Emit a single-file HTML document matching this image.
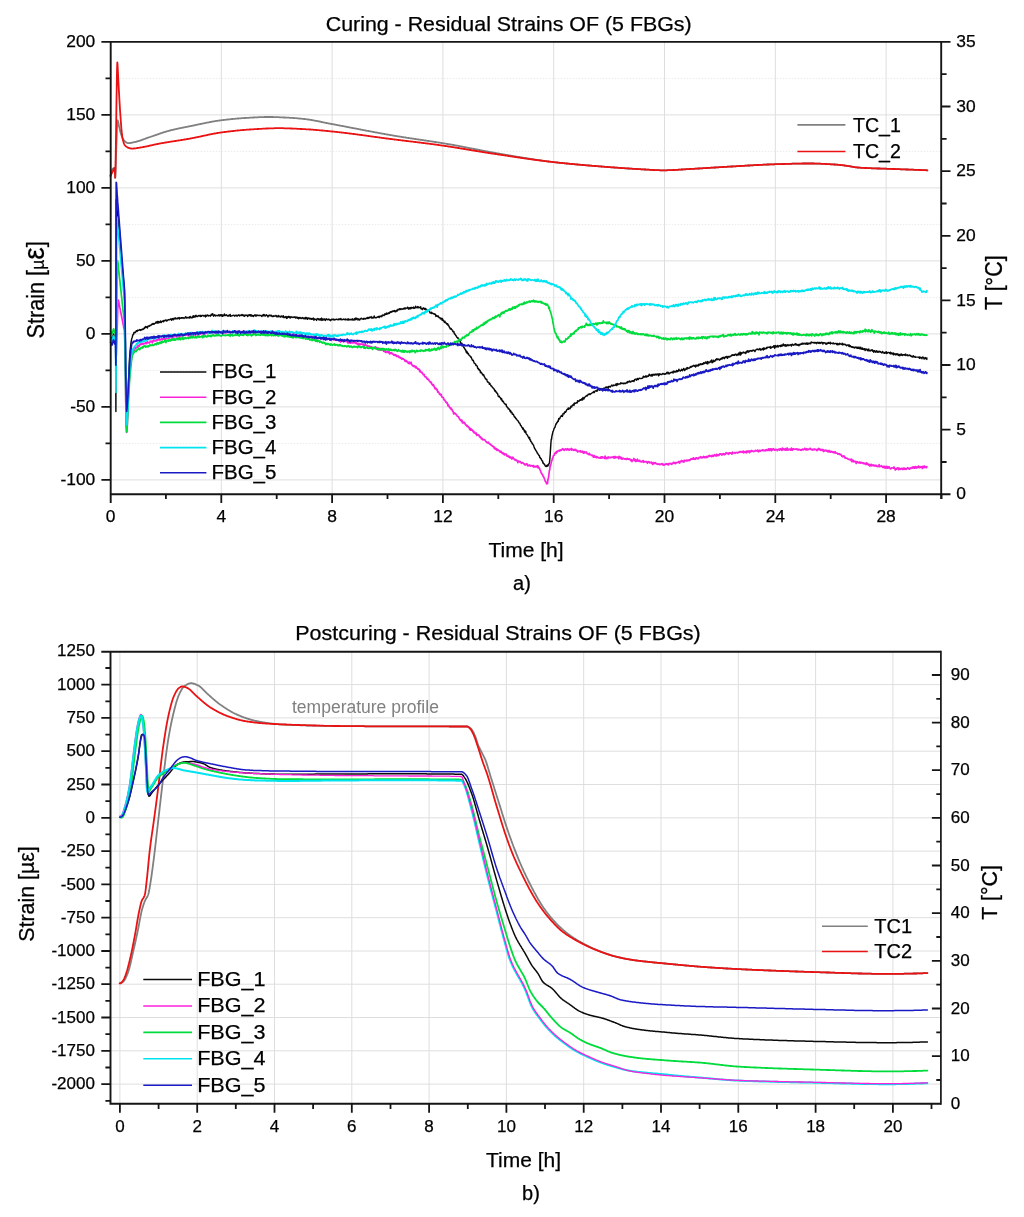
<!DOCTYPE html>
<html><head><meta charset="utf-8"><title>Residual Strains OF (5 FBGs)</title>
<style>html,body{margin:0;padding:0;background:#fff}svg{display:block}text{stroke:#000;stroke-width:.25px}text.g{stroke:none}</style></head>
<body>
<svg width="1024" height="1217" viewBox="0 0 1024 1217" font-family="'Liberation Sans', Arial, sans-serif" fill="#000">
<rect width="1024" height="1217" fill="#fff"/>
<g><line x1="221.3" x2="221.3" y1="41.9" y2="494.3" stroke="#dedede" stroke-width="1"/><line x1="332.1" x2="332.1" y1="41.9" y2="494.3" stroke="#dedede" stroke-width="1"/><line x1="442.9" x2="442.9" y1="41.9" y2="494.3" stroke="#dedede" stroke-width="1"/><line x1="553.7" x2="553.7" y1="41.9" y2="494.3" stroke="#dedede" stroke-width="1"/><line x1="664.5" x2="664.5" y1="41.9" y2="494.3" stroke="#dedede" stroke-width="1"/><line x1="775.3" x2="775.3" y1="41.9" y2="494.3" stroke="#dedede" stroke-width="1"/><line x1="886.1" x2="886.1" y1="41.9" y2="494.3" stroke="#dedede" stroke-width="1"/><line x1="110.7" x2="941.2" y1="479.9" y2="479.9" stroke="#dedede" stroke-width="1"/><line x1="110.7" x2="941.2" y1="406.9" y2="406.9" stroke="#dedede" stroke-width="1"/><line x1="110.7" x2="941.2" y1="333.9" y2="333.9" stroke="#dedede" stroke-width="1"/><line x1="110.7" x2="941.2" y1="260.9" y2="260.9" stroke="#dedede" stroke-width="1"/><line x1="110.7" x2="941.2" y1="187.9" y2="187.9" stroke="#dedede" stroke-width="1"/><line x1="110.7" x2="941.2" y1="114.9" y2="114.9" stroke="#dedede" stroke-width="1"/><line x1="110.7" x2="941.2" y1="443.4" y2="443.4" stroke="#eaeaea" stroke-width="1" stroke-dasharray="1.5,1.5"/><line x1="110.7" x2="941.2" y1="370.4" y2="370.4" stroke="#eaeaea" stroke-width="1" stroke-dasharray="1.5,1.5"/><line x1="110.7" x2="941.2" y1="297.4" y2="297.4" stroke="#eaeaea" stroke-width="1" stroke-dasharray="1.5,1.5"/><line x1="110.7" x2="941.2" y1="224.4" y2="224.4" stroke="#eaeaea" stroke-width="1" stroke-dasharray="1.5,1.5"/><line x1="110.7" x2="941.2" y1="151.4" y2="151.4" stroke="#eaeaea" stroke-width="1" stroke-dasharray="1.5,1.5"/><line x1="110.7" x2="941.2" y1="78.4" y2="78.4" stroke="#eaeaea" stroke-width="1" stroke-dasharray="1.5,1.5"/></g>
<g fill="none" stroke-linejoin="round" stroke-linecap="round"><path d="M110.5,175.8 111.0,173.4 111.5,171.5 112.0,170.2 112.5,169.2 113.0,168.6 113.5,168.2 114.0,168.1 114.5,168.0 114.8,168.0 115.0,172.8 115.2,177.6 115.5,173.2 116.0,156.0 116.2,150.0 116.5,142.0 117.0,128.4 117.5,120.6 117.6,120.3 118.0,121.1 118.5,123.5 119.0,126.0 119.5,128.1 120.0,130.3 120.5,132.3 121.0,134.0 121.5,135.4 122.0,136.7 122.5,138.0 123.0,139.0 123.5,139.9 124.0,140.5 124.5,141.0 125.0,141.4 125.5,141.8 126.0,142.2 126.5,142.5 127.0,142.8 127.5,143.0 128.0,143.1 128.4,143.1 128.5,143.1 129.0,143.1 129.5,143.1 130.0,143.0 130.5,142.9 131.0,142.9 131.5,142.8 132.0,142.7 132.5,142.6 133.0,142.4 133.5,142.3 134.0,142.2 134.5,142.1 135.0,142.0 135.5,141.9 136.0,141.8 136.5,141.6 137.0,141.5 137.5,141.4 138.0,141.2 138.5,141.1 139.0,140.9 139.5,140.8 140.0,140.6 140.5,140.4 141.0,140.3 141.5,140.1 142.0,139.9 142.5,139.7 143.0,139.5 143.5,139.4 144.0,139.2 144.5,139.0 145.0,138.8 145.5,138.6 146.0,138.4 146.5,138.2 147.0,138.1 147.5,137.9 148.0,137.7 148.5,137.5 149.0,137.3 149.5,137.2 150.0,137.0 150.5,136.8 151.0,136.7 151.5,136.5 152.0,136.3 152.5,136.2 153.0,136.0 153.5,135.8 154.0,135.6 154.5,135.5 155.0,135.3 155.5,135.1 156.0,135.0 156.5,134.8 157.0,134.6 157.5,134.4 158.0,134.3 158.5,134.1 159.0,133.9 159.5,133.7 160.0,133.6 160.5,133.4 161.0,133.2 161.5,133.1 162.0,132.9 162.5,132.7 163.0,132.6 163.5,132.4 164.0,132.2 164.5,132.1 165.0,131.9 165.5,131.8 166.0,131.6 166.5,131.5 167.0,131.3 167.5,131.2 168.0,131.0 168.5,130.9 169.0,130.8 169.5,130.6 170.0,130.5 170.5,130.4 171.0,130.2 171.5,130.1 172.0,130.0 172.5,129.9 173.0,129.8 173.5,129.6 174.0,129.5 174.5,129.4 175.0,129.3 175.5,129.2 176.0,129.1 176.5,129.0 177.0,128.8 177.5,128.7 178.0,128.6 178.5,128.5 179.0,128.4 179.5,128.3 180.0,128.2 180.5,128.1 181.0,128.0 181.5,127.9 182.0,127.8 182.5,127.7 183.0,127.6 183.5,127.5 184.0,127.4 184.5,127.3 185.0,127.2 185.5,127.1 186.0,127.0 186.5,126.9 187.0,126.8 187.5,126.7 188.0,126.6 188.5,126.5 189.0,126.4 189.5,126.3 190.0,126.2 190.5,126.1 191.0,126.0 191.5,125.9 192.0,125.8 192.5,125.7 193.0,125.6 193.5,125.5 194.0,125.4 194.5,125.3 195.0,125.2 195.5,125.1 196.0,124.9 196.5,124.8 197.0,124.7 197.5,124.6 198.0,124.5 198.5,124.4 199.0,124.3 199.5,124.2 200.0,124.1 200.5,124.0 201.0,123.9 201.5,123.8 202.0,123.7 202.5,123.6 203.0,123.5 203.5,123.4 204.0,123.3 204.5,123.2 205.0,123.1 205.5,123.0 206.0,122.8 206.5,122.7 207.0,122.6 207.5,122.6 208.0,122.5 208.5,122.4 209.0,122.3 209.5,122.2 210.0,122.1 210.5,122.0 211.0,121.9 211.5,121.8 212.0,121.7 212.5,121.6 213.0,121.5 213.5,121.4 214.0,121.3 214.5,121.3 215.0,121.2 215.5,121.1 216.0,121.0 216.5,120.9 217.0,120.9 217.5,120.8 218.0,120.7 218.5,120.6 219.0,120.6 219.5,120.5 220.0,120.4 220.5,120.4 221.0,120.3 221.5,120.2 222.0,120.2 222.5,120.1 223.0,120.1 223.5,120.0 224.0,119.9 224.5,119.9 225.0,119.8 225.5,119.8 226.0,119.7 226.5,119.6 227.0,119.6 227.5,119.5 228.0,119.5 228.5,119.4 229.0,119.4 229.5,119.3 230.0,119.3 230.5,119.2 231.0,119.1 231.5,119.1 232.0,119.0 232.5,119.0 233.0,118.9 233.5,118.9 234.0,118.9 234.5,118.8 235.0,118.8 235.5,118.7 236.0,118.7 236.5,118.6 237.0,118.6 237.5,118.5 238.0,118.5 238.5,118.5 239.0,118.4 239.5,118.4 240.0,118.3 240.5,118.3 241.0,118.3 241.5,118.2 242.0,118.2 242.5,118.2 243.0,118.1 243.5,118.1 244.0,118.1 244.5,118.0 245.0,118.0 245.5,118.0 246.0,117.9 246.5,117.9 247.0,117.9 247.5,117.9 248.0,117.8 248.5,117.8 249.0,117.8 249.5,117.7 250.0,117.7 250.5,117.7 251.0,117.6 251.5,117.6 252.0,117.6 252.5,117.6 253.0,117.5 253.5,117.5 254.0,117.5 254.5,117.4 255.0,117.4 255.5,117.4 256.0,117.4 256.5,117.3 257.0,117.3 257.5,117.3 258.0,117.3 258.5,117.2 259.0,117.2 259.5,117.2 260.0,117.2 260.5,117.2 261.0,117.1 261.5,117.1 262.0,117.1 262.5,117.1 263.0,117.1 263.5,117.1 264.0,117.1 264.5,117.0 265.0,117.0 265.5,117.0 266.0,117.0 266.5,117.0 267.0,117.0 267.5,117.0 268.0,117.0 268.5,117.0 268.7,117.0 269.0,117.0 269.5,117.0 270.0,117.0 270.5,117.0 271.0,117.0 271.5,117.0 272.0,117.0 272.5,117.0 273.0,117.0 273.5,117.1 274.0,117.1 274.5,117.1 275.0,117.1 275.5,117.1 276.0,117.1 276.5,117.1 277.0,117.2 277.5,117.2 278.0,117.2 278.5,117.2 279.0,117.2 279.5,117.3 280.0,117.3 280.5,117.3 281.0,117.3 281.5,117.4 282.0,117.4 282.5,117.4 283.0,117.4 283.5,117.5 284.0,117.5 284.5,117.5 285.0,117.5 285.5,117.6 286.0,117.6 286.5,117.6 287.0,117.6 287.5,117.7 288.0,117.7 288.5,117.7 289.0,117.7 289.5,117.8 290.0,117.8 290.5,117.8 291.0,117.9 291.5,117.9 292.0,117.9 292.5,117.9 293.0,118.0 293.5,118.0 294.0,118.1 294.5,118.1 295.0,118.1 295.5,118.2 296.0,118.2 296.5,118.2 297.0,118.3 297.5,118.3 298.0,118.4 298.5,118.4 299.0,118.5 299.5,118.5 300.0,118.6 300.5,118.6 301.0,118.7 301.5,118.7 302.0,118.8 302.5,118.8 303.0,118.9 303.5,118.9 304.0,119.0 304.3,119.0 304.5,119.0 305.0,119.1 305.5,119.1 306.0,119.2 306.5,119.3 307.0,119.3 307.5,119.4 308.0,119.5 308.5,119.5 309.0,119.6 309.5,119.7 310.0,119.8 310.5,119.9 311.0,119.9 311.5,120.0 312.0,120.1 312.5,120.2 313.0,120.3 313.5,120.4 314.0,120.5 314.5,120.6 315.0,120.7 315.5,120.8 316.0,120.8 316.5,120.9 317.0,121.0 317.5,121.1 318.0,121.2 318.5,121.3 319.0,121.4 319.5,121.5 320.0,121.6 320.5,121.7 321.0,121.9 321.5,122.0 322.0,122.1 322.5,122.2 323.0,122.3 323.5,122.4 324.0,122.5 324.5,122.6 325.0,122.7 325.5,122.8 326.0,122.9 326.5,123.0 327.0,123.1 327.5,123.2 328.0,123.3 328.5,123.4 329.0,123.5 329.5,123.6 330.0,123.7 330.5,123.8 331.0,123.9 331.5,124.0 332.0,124.1 332.2,124.1 332.5,124.2 333.0,124.2 333.5,124.3 334.0,124.4 334.5,124.5 335.0,124.6 335.5,124.7 336.0,124.8 336.5,124.9 337.0,125.0 337.5,125.1 338.0,125.2 338.5,125.3 339.0,125.4 339.5,125.5 340.0,125.6 340.5,125.7 341.0,125.8 341.5,125.8 342.0,125.9 342.5,126.0 343.0,126.1 343.5,126.2 344.0,126.3 344.5,126.4 345.0,126.5 345.5,126.6 346.0,126.7 346.5,126.8 347.0,126.9 347.5,127.0 348.0,127.1 348.5,127.2 349.0,127.3 349.5,127.4 350.0,127.5 350.5,127.6 351.0,127.7 351.5,127.8 352.0,127.9 352.5,128.0 353.0,128.1 353.5,128.2 354.0,128.3 354.5,128.3 355.0,128.4 355.5,128.5 356.0,128.6 356.5,128.7 357.0,128.8 357.5,128.9 358.0,129.0 358.5,129.1 359.0,129.2 359.5,129.3 360.0,129.4 360.5,129.5 361.0,129.6 361.5,129.7 362.0,129.8 362.5,129.9 363.0,130.0 363.5,130.1 364.0,130.2 364.5,130.3 365.0,130.4 365.5,130.5 366.0,130.6 366.5,130.7 367.0,130.8 367.5,130.9 368.0,130.9 368.5,131.0 369.0,131.1 369.5,131.2 370.0,131.3 370.5,131.4 371.0,131.5 371.5,131.6 372.0,131.7 372.5,131.8 373.0,131.9 373.5,132.0 374.0,132.1 374.5,132.2 375.0,132.3 375.5,132.4 376.0,132.5 376.5,132.5 377.0,132.6 377.5,132.7 378.0,132.8 378.5,132.9 379.0,133.0 379.5,133.1 380.0,133.2 380.5,133.3 381.0,133.4 381.5,133.5 382.0,133.6 382.5,133.7 383.0,133.7 383.5,133.8 384.0,133.9 384.5,134.0 385.0,134.1 385.5,134.2 386.0,134.3 386.5,134.4 387.0,134.5 387.5,134.5 388.0,134.6 388.5,134.7 389.0,134.8 389.5,134.9 390.0,135.0 390.5,135.1 391.0,135.2 391.5,135.2 392.0,135.3 392.5,135.4 393.0,135.5 393.5,135.6 394.0,135.7 394.5,135.8 395.0,135.8 395.5,135.9 396.0,136.0 396.5,136.1 397.0,136.2 397.5,136.3 398.0,136.3 398.5,136.4 399.0,136.5 399.5,136.6 400.0,136.7 400.5,136.7 401.0,136.8 401.5,136.9 402.0,137.0 402.5,137.1 403.0,137.1 403.5,137.2 404.0,137.3 404.5,137.4 405.0,137.4 405.5,137.5 406.0,137.6 406.5,137.7 407.0,137.8 407.5,137.8 408.0,137.9 408.5,138.0 409.0,138.1 409.5,138.1 410.0,138.2 410.5,138.3 411.0,138.4 411.5,138.4 412.0,138.5 412.5,138.6 413.0,138.7 413.5,138.7 414.0,138.8 414.5,138.9 415.0,139.0 415.5,139.0 416.0,139.1 416.5,139.2 417.0,139.3 417.5,139.3 418.0,139.4 418.5,139.5 419.0,139.6 419.5,139.6 420.0,139.7 420.5,139.8 421.0,139.9 421.5,139.9 422.0,140.0 422.5,140.1 423.0,140.2 423.5,140.2 424.0,140.3 424.5,140.4 425.0,140.5 425.5,140.5 426.0,140.6 426.5,140.7 427.0,140.8 427.5,140.8 428.0,140.9 428.5,141.0 429.0,141.1 429.5,141.1 430.0,141.2 430.5,141.3 431.0,141.4 431.5,141.4 432.0,141.5 432.5,141.6 433.0,141.7 433.5,141.7 434.0,141.8 434.5,141.9 435.0,142.0 435.5,142.0 436.0,142.1 436.5,142.2 437.0,142.3 437.5,142.4 438.0,142.4 438.5,142.5 439.0,142.6 439.5,142.7 440.0,142.7 440.5,142.8 441.0,142.9 441.5,143.0 442.0,143.1 442.5,143.1 443.0,143.2 443.5,143.3 444.0,143.4 444.5,143.5 445.0,143.6 445.5,143.6 446.0,143.7 446.5,143.8 447.0,143.9 447.5,144.0 448.0,144.1 448.5,144.1 449.0,144.2 449.5,144.3 450.0,144.4 450.5,144.5 451.0,144.6 451.5,144.7 452.0,144.7 452.5,144.8 453.0,144.9 453.5,145.0 454.0,145.1 454.5,145.2 455.0,145.3 455.5,145.4 456.0,145.5 456.5,145.6 457.0,145.7 457.5,145.7 458.0,145.8 458.5,145.9 459.0,146.0 459.5,146.1 460.0,146.2 460.5,146.3 461.0,146.4 461.5,146.5 462.0,146.6 462.5,146.7 463.0,146.8 463.5,146.9 464.0,147.0 464.5,147.1 465.0,147.2 465.5,147.3 466.0,147.4 466.5,147.5 467.0,147.6 467.5,147.7 468.0,147.8 468.5,147.9 469.0,148.0 469.5,148.1 470.0,148.2 470.5,148.3 471.0,148.4 471.5,148.5 472.0,148.6 472.5,148.6 473.0,148.7 473.5,148.8 474.0,148.9 474.5,149.0 475.0,149.1 475.5,149.2 476.0,149.3 476.5,149.4 477.0,149.5 477.5,149.6 478.0,149.7 478.5,149.8 479.0,149.9 479.5,150.0 480.0,150.1 480.5,150.2 481.0,150.3 481.5,150.4 482.0,150.5 482.5,150.6 483.0,150.7 483.5,150.8 484.0,150.9 484.5,151.0 485.0,151.1 485.5,151.2 486.0,151.3 486.5,151.4 487.0,151.4 487.5,151.5 488.0,151.6 488.5,151.7 489.0,151.8 489.5,151.9 490.0,152.0 490.5,152.1 491.0,152.2 491.5,152.3 492.0,152.4 492.5,152.5 493.0,152.5 493.5,152.6 494.0,152.7 494.5,152.8 495.0,152.9 495.5,153.0 496.0,153.1 496.5,153.2 497.0,153.3 497.5,153.4 498.0,153.4 498.5,153.5 499.0,153.6 499.5,153.7 500.0,153.8 500.5,153.9 501.0,154.0 501.5,154.1 502.0,154.2 502.5,154.2 503.0,154.3 503.5,154.4 504.0,154.5 504.5,154.6 505.0,154.7 505.5,154.8 506.0,154.9 506.5,154.9 507.0,155.0 507.5,155.1 508.0,155.2 508.5,155.3 509.0,155.4 509.5,155.5 510.0,155.5 510.5,155.6 511.0,155.7 511.5,155.8 512.0,155.9 512.5,156.0 513.0,156.1 513.5,156.1 514.0,156.2 514.5,156.3 515.0,156.4 515.5,156.5 516.0,156.6 516.5,156.6 517.0,156.7 517.5,156.8 518.0,156.9 518.5,157.0 519.0,157.0 519.5,157.1 520.0,157.2 520.5,157.3 521.0,157.4 521.5,157.4 522.0,157.5 522.5,157.6 523.0,157.7 523.5,157.8 524.0,157.8 524.5,157.9 525.0,158.0 525.5,158.1 526.0,158.2 526.5,158.2 527.0,158.3 527.5,158.4 528.0,158.5 528.5,158.6 529.0,158.6 529.5,158.7 530.0,158.8 530.5,158.9 531.0,158.9 531.5,159.0 532.0,159.1 532.5,159.2 533.0,159.3 533.5,159.3 534.0,159.4 534.5,159.5 535.0,159.6 535.5,159.6 536.0,159.7 536.5,159.8 537.0,159.9 537.5,159.9 538.0,160.0 538.5,160.1 539.0,160.2 539.5,160.2 540.0,160.3 540.5,160.4 541.0,160.5 541.5,160.5 542.0,160.6 542.5,160.7 543.0,160.7 543.5,160.8 544.0,160.9 544.5,161.0 545.0,161.0 545.5,161.1 546.0,161.2 546.5,161.2 547.0,161.3 547.5,161.4 548.0,161.4 548.5,161.5 549.0,161.6 549.5,161.6 550.0,161.7 550.5,161.7 551.0,161.8 551.5,161.9 552.0,161.9 552.5,162.0 553.0,162.0 553.5,162.1 554.0,162.2 554.3,162.2 554.5,162.2 555.0,162.3 555.5,162.3 556.0,162.4 556.5,162.4 557.0,162.5 557.5,162.6 558.0,162.6 558.5,162.7 559.0,162.7 559.5,162.8 560.0,162.8 560.5,162.9 561.0,162.9 561.5,163.0 562.0,163.0 562.5,163.1 563.0,163.1 563.5,163.2 564.0,163.2 564.5,163.3 565.0,163.3 565.5,163.4 566.0,163.4 566.5,163.5 567.0,163.5 567.5,163.6 568.0,163.6 568.5,163.7 569.0,163.7 569.5,163.8 570.0,163.8 570.5,163.9 571.0,163.9 571.5,164.0 572.0,164.0 572.5,164.1 573.0,164.1 573.5,164.2 574.0,164.2 574.5,164.3 575.0,164.3 575.5,164.4 576.0,164.4 576.5,164.4 577.0,164.5 577.5,164.5 578.0,164.6 578.5,164.6 579.0,164.7 579.5,164.7 580.0,164.8 580.5,164.8 581.0,164.8 581.5,164.9 582.0,164.9 582.5,165.0 583.0,165.0 583.5,165.1 584.0,165.1 584.5,165.1 585.0,165.2 585.5,165.2 586.0,165.3 586.5,165.3 587.0,165.4 587.5,165.4 588.0,165.4 588.5,165.5 589.0,165.5 589.5,165.6 590.0,165.6 590.5,165.7 591.0,165.7 591.5,165.7 592.0,165.8 592.5,165.8 593.0,165.9 593.5,165.9 594.0,165.9 594.5,166.0 595.0,166.0 595.5,166.1 596.0,166.1 596.5,166.1 597.0,166.2 597.5,166.2 598.0,166.3 598.5,166.3 599.0,166.3 599.5,166.4 600.0,166.4 600.5,166.4 601.0,166.5 601.5,166.5 602.0,166.6 602.5,166.6 603.0,166.6 603.5,166.7 604.0,166.7 604.5,166.8 605.0,166.8 605.5,166.8 606.0,166.9 606.5,166.9 607.0,167.0 607.5,167.0 608.0,167.0 608.5,167.1 609.0,167.1 609.5,167.1 610.0,167.2 610.5,167.2 611.0,167.3 611.5,167.3 612.0,167.3 612.5,167.4 613.0,167.4 613.5,167.4 614.0,167.5 614.5,167.5 615.0,167.6 615.5,167.6 616.0,167.6 616.5,167.7 617.0,167.7 617.5,167.7 618.0,167.8 618.5,167.8 619.0,167.9 619.5,167.9 620.0,167.9 620.5,168.0 621.0,168.0 621.5,168.0 622.0,168.1 622.5,168.1 623.0,168.1 623.5,168.2 624.0,168.2 624.5,168.2 625.0,168.3 625.5,168.3 626.0,168.3 626.5,168.4 627.0,168.4 627.5,168.4 628.0,168.5 628.5,168.5 629.0,168.5 629.5,168.6 630.0,168.6 630.5,168.6 631.0,168.7 631.5,168.7 632.0,168.7 632.5,168.8 633.0,168.8 633.5,168.8 634.0,168.9 634.5,168.9 635.0,168.9 635.5,168.9 636.0,169.0 636.5,169.0 637.0,169.0 637.5,169.1 638.0,169.1 638.5,169.1 639.0,169.1 639.5,169.2 640.0,169.2 640.5,169.2 641.0,169.3 641.5,169.3 642.0,169.3 642.5,169.3 643.0,169.4 643.5,169.4 644.0,169.4 644.5,169.5 645.0,169.5 645.5,169.5 646.0,169.6 646.5,169.6 647.0,169.6 647.5,169.7 648.0,169.7 648.5,169.7 649.0,169.7 649.5,169.8 650.0,169.8 650.5,169.8 651.0,169.9 651.5,169.9 652.0,169.9 652.5,170.0 653.0,170.0 653.5,170.0 654.0,170.0 654.5,170.1 655.0,170.1 655.5,170.1 656.0,170.1 656.5,170.1 657.0,170.2 657.5,170.2 658.0,170.2 658.5,170.2 659.0,170.2 659.5,170.2 660.0,170.3 660.5,170.3 661.0,170.3 661.5,170.3 662.0,170.3 662.5,170.3 663.0,170.3 663.5,170.3 664.0,170.3 664.5,170.3 665.0,170.3 665.5,170.3 666.0,170.3 666.5,170.3 667.0,170.3 667.5,170.2 668.0,170.2 668.5,170.2 669.0,170.2 669.5,170.2 670.0,170.2 670.5,170.1 671.0,170.1 671.5,170.1 672.0,170.1 672.5,170.1 673.0,170.0 673.5,170.0 674.0,170.0 674.5,170.0 675.0,169.9 675.5,169.9 676.0,169.9 676.5,169.8 677.0,169.8 677.5,169.8 678.0,169.8 678.5,169.7 679.0,169.7 679.5,169.7 680.0,169.6 680.5,169.6 681.0,169.6 681.5,169.5 682.0,169.5 682.5,169.5 683.0,169.4 683.5,169.4 684.0,169.4 684.5,169.3 685.0,169.3 685.5,169.3 686.0,169.2 686.5,169.2 687.0,169.2 687.5,169.1 688.0,169.1 688.5,169.1 689.0,169.1 689.5,169.0 690.0,169.0 690.5,169.0 691.0,168.9 691.5,168.9 692.0,168.9 692.5,168.9 693.0,168.8 693.5,168.8 694.0,168.8 694.5,168.8 695.0,168.7 695.5,168.7 696.0,168.7 696.5,168.6 697.0,168.6 697.5,168.6 698.0,168.5 698.5,168.5 699.0,168.5 699.5,168.5 700.0,168.4 700.5,168.4 701.0,168.4 701.5,168.3 702.0,168.3 702.5,168.3 703.0,168.2 703.5,168.2 704.0,168.2 704.5,168.2 705.0,168.1 705.5,168.1 706.0,168.1 706.5,168.0 707.0,168.0 707.5,168.0 708.0,167.9 708.5,167.9 709.0,167.9 709.5,167.8 710.0,167.8 710.5,167.8 711.0,167.7 711.5,167.7 712.0,167.7 712.5,167.7 713.0,167.6 713.5,167.6 714.0,167.6 714.5,167.5 715.0,167.5 715.5,167.5 716.0,167.4 716.5,167.4 717.0,167.4 717.5,167.3 718.0,167.3 718.5,167.3 719.0,167.2 719.5,167.2 720.0,167.2 720.5,167.2 721.0,167.1 721.5,167.1 722.0,167.1 722.5,167.0 723.0,167.0 723.5,167.0 724.0,166.9 724.5,166.9 725.0,166.9 725.5,166.9 726.0,166.8 726.5,166.8 727.0,166.8 727.5,166.7 728.0,166.7 728.5,166.7 729.0,166.7 729.5,166.6 730.0,166.6 730.5,166.6 731.0,166.5 731.5,166.5 732.0,166.5 732.5,166.5 733.0,166.4 733.5,166.4 734.0,166.4 734.5,166.3 735.0,166.3 735.5,166.3 736.0,166.3 736.5,166.2 737.0,166.2 737.5,166.2 738.0,166.1 738.5,166.1 739.0,166.1 739.5,166.0 740.0,166.0 740.5,166.0 741.0,166.0 741.5,165.9 742.0,165.9 742.5,165.9 743.0,165.8 743.5,165.8 744.0,165.8 744.5,165.8 745.0,165.7 745.5,165.7 746.0,165.7 746.5,165.6 747.0,165.6 747.5,165.6 748.0,165.5 748.5,165.5 749.0,165.5 749.5,165.5 750.0,165.4 750.5,165.4 751.0,165.4 751.5,165.3 752.0,165.3 752.5,165.3 753.0,165.3 753.5,165.2 754.0,165.2 754.5,165.2 755.0,165.1 755.5,165.1 756.0,165.1 756.5,165.1 757.0,165.0 757.5,165.0 758.0,165.0 758.5,165.0 759.0,164.9 759.5,164.9 760.0,164.9 760.5,164.9 761.0,164.8 761.5,164.8 762.0,164.8 762.5,164.8 763.0,164.7 763.5,164.7 764.0,164.7 764.5,164.7 765.0,164.6 765.5,164.6 766.0,164.6 766.5,164.6 767.0,164.5 767.5,164.5 768.0,164.5 768.5,164.5 769.0,164.5 769.5,164.4 770.0,164.4 770.5,164.4 771.0,164.4 771.5,164.4 772.0,164.3 772.5,164.3 773.0,164.3 773.5,164.3 774.0,164.3 774.5,164.3 775.0,164.2 775.5,164.2 776.0,164.2 776.3,164.2 776.5,164.2 777.0,164.2 777.5,164.2 778.0,164.1 778.5,164.1 779.0,164.1 779.5,164.1 780.0,164.1 780.5,164.1 781.0,164.1 781.5,164.0 782.0,164.0 782.5,164.0 783.0,164.0 783.5,164.0 784.0,164.0 784.5,164.0 785.0,163.9 785.5,163.9 786.0,163.9 786.5,163.9 787.0,163.9 787.5,163.9 788.0,163.9 788.5,163.8 789.0,163.8 789.5,163.8 790.0,163.8 790.5,163.8 791.0,163.8 791.5,163.8 792.0,163.7 792.5,163.7 793.0,163.7 793.5,163.7 794.0,163.7 794.5,163.7 795.0,163.7 795.5,163.7 796.0,163.7 796.5,163.6 797.0,163.6 797.5,163.6 798.0,163.6 798.5,163.6 799.0,163.6 799.5,163.6 800.0,163.6 800.5,163.6 801.0,163.6 801.5,163.6 802.0,163.6 802.5,163.5 803.0,163.5 803.5,163.5 804.0,163.5 804.5,163.5 805.0,163.5 805.5,163.5 806.0,163.5 806.5,163.5 807.0,163.5 807.5,163.5 808.0,163.5 808.5,163.5 809.0,163.5 809.3,163.5 809.5,163.5 810.0,163.5 810.5,163.5 811.0,163.5 811.5,163.5 812.0,163.5 812.5,163.5 813.0,163.5 813.5,163.5 814.0,163.5 814.5,163.6 815.0,163.6 815.5,163.6 816.0,163.6 816.5,163.6 817.0,163.6 817.5,163.6 818.0,163.6 818.5,163.7 819.0,163.7 819.5,163.7 820.0,163.7 820.5,163.7 821.0,163.8 821.5,163.8 822.0,163.8 822.5,163.8 823.0,163.8 823.5,163.9 824.0,163.9 824.5,163.9 825.0,163.9 825.5,164.0 826.0,164.0 826.5,164.0 827.0,164.1 827.5,164.1 828.0,164.1 828.5,164.1 829.0,164.2 829.5,164.2 830.0,164.2 830.5,164.3 831.0,164.3 831.5,164.3 832.0,164.3 832.5,164.4 833.0,164.4 833.5,164.4 834.0,164.5 834.5,164.5 835.0,164.5 835.5,164.6 836.0,164.6 836.5,164.6 837.0,164.7 837.3,164.7 837.5,164.7 838.0,164.8 838.5,164.8 839.0,164.8 839.5,164.9 840.0,164.9 840.5,165.0 841.0,165.1 841.5,165.1 842.0,165.2 842.5,165.2 843.0,165.3 843.5,165.4 844.0,165.4 844.5,165.5 845.0,165.6 845.5,165.6 846.0,165.7 846.5,165.8 847.0,165.9 847.5,165.9 848.0,166.0 848.5,166.1 849.0,166.1 849.5,166.2 850.0,166.3 850.5,166.4 851.0,166.5 851.5,166.6 852.0,166.7 852.5,166.8 853.0,166.8 853.5,166.9 854.0,167.0 854.5,167.1 855.0,167.2 855.5,167.3 856.0,167.3 856.5,167.4 857.0,167.4 857.5,167.5 857.6,167.5 858.0,167.5 858.5,167.6 859.0,167.6 859.5,167.6 860.0,167.7 860.5,167.7 861.0,167.8 861.5,167.8 862.0,167.8 862.5,167.8 863.0,167.9 863.5,167.9 864.0,167.9 864.5,168.0 865.0,168.0 865.5,168.0 866.0,168.0 866.5,168.0 867.0,168.1 867.5,168.1 868.0,168.1 868.5,168.1 869.0,168.2 869.5,168.2 870.0,168.2 870.5,168.2 871.0,168.2 871.5,168.3 872.0,168.3 872.5,168.3 873.0,168.3 873.5,168.3 874.0,168.4 874.5,168.4 875.0,168.4 875.5,168.4 876.0,168.4 876.5,168.4 877.0,168.5 877.5,168.5 878.0,168.5 878.5,168.5 879.0,168.5 879.5,168.5 880.0,168.5 880.5,168.6 881.0,168.6 881.5,168.6 882.0,168.6 882.5,168.6 883.0,168.6 883.5,168.7 884.0,168.7 884.5,168.7 885.0,168.7 885.5,168.7 886.0,168.7 886.5,168.7 887.0,168.8 887.5,168.8 888.0,168.8 888.5,168.8 889.0,168.8 889.5,168.9 890.0,168.9 890.5,168.9 891.0,168.9 891.5,168.9 892.0,168.9 892.5,169.0 893.0,169.0 893.5,169.0 894.0,169.0 894.5,169.0 895.0,169.0 895.5,169.1 896.0,169.1 896.5,169.1 897.0,169.1 897.5,169.1 898.0,169.2 898.5,169.2 899.0,169.2 899.5,169.2 900.0,169.2 900.5,169.3 901.0,169.3 901.5,169.3 902.0,169.3 902.5,169.3 903.0,169.3 903.5,169.4 904.0,169.4 904.5,169.4 905.0,169.4 905.5,169.4 906.0,169.5 906.5,169.5 907.0,169.5 907.5,169.5 908.0,169.5 908.5,169.6 909.0,169.6 909.5,169.6 910.0,169.6 910.5,169.6 911.0,169.6 911.5,169.7 912.0,169.7 912.5,169.7 913.0,169.7 913.5,169.7 914.0,169.8 914.5,169.8 915.0,169.8 915.5,169.8 916.0,169.8 916.5,169.9 917.0,169.9 917.5,169.9 918.0,169.9 918.5,169.9 919.0,170.0 919.5,170.0 920.0,170.0 920.5,170.0 921.0,170.0 921.5,170.1 922.0,170.1 922.5,170.1 923.0,170.1 923.5,170.1 924.0,170.2 924.5,170.2 925.0,170.2 925.5,170.2 926.0,170.2 926.5,170.3 927.0,170.3 927.4,170.3" stroke="#808080" stroke-width="1.8"/><path d="M110.5,175.8 111.0,174.8 111.5,173.8 112.0,172.8 112.5,171.9 113.0,171.0 113.5,170.0 114.0,168.9 114.5,168.1 114.8,168.0 115.0,172.8 115.2,177.6 115.5,168.0 115.8,150.0 116.0,136.7 116.5,100.0 117.0,70.2 117.3,62.3 117.5,63.6 118.0,73.6 118.3,80.0 118.5,83.5 119.0,92.5 119.5,101.4 120.0,109.6 120.3,114.0 120.5,116.8 121.0,123.8 121.5,130.2 122.0,135.0 122.2,136.3 122.5,137.9 123.0,140.2 123.5,142.1 124.0,143.6 124.5,144.7 124.7,145.0 125.0,145.4 125.5,145.9 126.0,146.4 126.5,146.8 127.0,147.1 127.5,147.4 128.0,147.6 128.5,147.8 129.0,148.0 129.5,148.1 130.0,148.3 130.5,148.4 131.0,148.5 131.5,148.6 132.0,148.6 132.5,148.6 133.0,148.6 133.5,148.5 134.0,148.5 134.5,148.4 135.0,148.4 135.5,148.3 136.0,148.3 136.5,148.2 137.0,148.1 137.5,148.0 138.0,147.9 138.5,147.8 139.0,147.8 139.5,147.7 140.0,147.6 140.5,147.5 141.0,147.4 141.5,147.4 142.0,147.3 142.5,147.2 143.0,147.1 143.5,147.0 144.0,146.9 144.5,146.8 145.0,146.7 145.5,146.6 146.0,146.5 146.5,146.4 147.0,146.3 147.5,146.2 148.0,146.1 148.5,146.0 149.0,145.9 149.5,145.7 150.0,145.6 150.5,145.5 151.0,145.4 151.5,145.3 152.0,145.2 152.5,145.1 153.0,145.0 153.5,144.8 154.0,144.7 154.5,144.6 155.0,144.5 155.5,144.4 156.0,144.3 156.5,144.2 157.0,144.1 157.5,144.0 158.0,143.9 158.5,143.8 159.0,143.7 159.5,143.6 160.0,143.5 160.5,143.4 161.0,143.3 161.5,143.2 162.0,143.1 162.5,143.1 163.0,143.0 163.5,142.9 164.0,142.8 164.5,142.7 165.0,142.6 165.5,142.5 166.0,142.5 166.5,142.4 167.0,142.3 167.5,142.2 168.0,142.1 168.5,142.1 169.0,142.0 169.5,141.9 170.0,141.8 170.5,141.7 171.0,141.7 171.5,141.6 172.0,141.5 172.5,141.4 173.0,141.3 173.5,141.3 174.0,141.2 174.5,141.1 175.0,141.0 175.5,141.0 176.0,140.9 176.5,140.8 177.0,140.7 177.5,140.6 178.0,140.6 178.5,140.5 179.0,140.4 179.5,140.3 180.0,140.3 180.5,140.2 181.0,140.1 181.5,140.0 182.0,139.9 182.5,139.9 183.0,139.8 183.5,139.7 184.0,139.6 184.5,139.5 185.0,139.5 185.5,139.4 186.0,139.3 186.5,139.2 187.0,139.1 187.5,139.0 188.0,139.0 188.5,138.9 189.0,138.8 189.5,138.7 190.0,138.6 190.5,138.5 191.0,138.4 191.5,138.3 192.0,138.2 192.5,138.1 193.0,138.0 193.5,137.9 194.0,137.8 194.5,137.7 195.0,137.6 195.5,137.5 196.0,137.4 196.5,137.3 197.0,137.2 197.5,137.1 198.0,137.0 198.5,136.9 199.0,136.8 199.5,136.7 200.0,136.6 200.5,136.5 201.0,136.4 201.5,136.3 202.0,136.1 202.5,136.0 203.0,135.9 203.5,135.8 204.0,135.7 204.5,135.6 205.0,135.5 205.5,135.4 206.0,135.3 206.5,135.2 207.0,135.1 207.5,135.0 208.0,134.8 208.5,134.7 209.0,134.6 209.5,134.5 210.0,134.4 210.5,134.3 211.0,134.2 211.5,134.1 212.0,134.0 212.5,133.9 213.0,133.8 213.5,133.7 214.0,133.6 214.5,133.5 215.0,133.5 215.5,133.4 216.0,133.3 216.5,133.2 217.0,133.1 217.5,133.0 218.0,132.9 218.5,132.9 219.0,132.8 219.5,132.7 220.0,132.6 220.5,132.6 221.0,132.5 221.5,132.4 222.0,132.4 222.5,132.3 223.0,132.2 223.5,132.2 224.0,132.1 224.5,132.0 225.0,132.0 225.5,131.9 226.0,131.8 226.5,131.8 227.0,131.7 227.5,131.7 228.0,131.6 228.5,131.5 229.0,131.5 229.5,131.4 230.0,131.4 230.5,131.3 231.0,131.2 231.5,131.2 232.0,131.1 232.5,131.1 233.0,131.0 233.5,131.0 234.0,130.9 234.5,130.8 235.0,130.8 235.5,130.7 236.0,130.7 236.5,130.6 237.0,130.6 237.5,130.5 238.0,130.5 238.5,130.4 239.0,130.4 239.5,130.3 240.0,130.3 240.5,130.2 241.0,130.2 241.5,130.2 242.0,130.1 242.5,130.1 243.0,130.0 243.5,130.0 244.0,129.9 244.5,129.9 245.0,129.9 245.5,129.8 246.0,129.8 246.5,129.7 247.0,129.7 247.5,129.7 248.0,129.6 248.5,129.6 249.0,129.6 249.5,129.5 250.0,129.5 250.5,129.5 251.0,129.4 251.5,129.4 252.0,129.4 252.5,129.3 253.0,129.3 253.5,129.3 254.0,129.2 254.5,129.2 255.0,129.2 255.5,129.2 256.0,129.1 256.5,129.1 257.0,129.1 257.5,129.0 258.0,129.0 258.5,129.0 259.0,128.9 259.5,128.9 260.0,128.9 260.5,128.8 261.0,128.8 261.5,128.8 262.0,128.8 262.5,128.7 263.0,128.7 263.5,128.7 264.0,128.6 264.5,128.6 265.0,128.6 265.5,128.6 266.0,128.5 266.5,128.5 267.0,128.5 267.5,128.5 268.0,128.5 268.5,128.4 269.0,128.4 269.5,128.4 270.0,128.4 270.5,128.4 271.0,128.3 271.5,128.3 272.0,128.3 272.5,128.3 273.0,128.3 273.5,128.3 274.0,128.3 274.5,128.2 275.0,128.2 275.5,128.2 276.0,128.2 276.5,128.2 277.0,128.2 277.5,128.2 278.0,128.2 278.5,128.2 278.9,128.2 279.0,128.2 279.5,128.2 280.0,128.2 280.5,128.2 281.0,128.2 281.5,128.2 282.0,128.2 282.5,128.2 283.0,128.2 283.5,128.2 284.0,128.3 284.5,128.3 285.0,128.3 285.5,128.3 286.0,128.3 286.5,128.3 287.0,128.3 287.5,128.4 288.0,128.4 288.5,128.4 289.0,128.4 289.5,128.4 290.0,128.4 290.5,128.5 291.0,128.5 291.5,128.5 292.0,128.5 292.5,128.6 293.0,128.6 293.5,128.6 294.0,128.6 294.5,128.6 295.0,128.7 295.5,128.7 296.0,128.7 296.5,128.7 297.0,128.8 297.5,128.8 298.0,128.8 298.5,128.9 299.0,128.9 299.5,128.9 300.0,128.9 300.5,129.0 301.0,129.0 301.5,129.0 302.0,129.0 302.5,129.1 303.0,129.1 303.5,129.1 304.0,129.1 304.5,129.2 305.0,129.2 305.5,129.2 306.0,129.3 306.5,129.3 307.0,129.3 307.5,129.3 308.0,129.4 308.5,129.4 309.0,129.4 309.5,129.5 310.0,129.5 310.5,129.5 311.0,129.6 311.5,129.6 312.0,129.6 312.5,129.7 313.0,129.7 313.5,129.8 314.0,129.8 314.5,129.8 315.0,129.9 315.5,129.9 316.0,130.0 316.5,130.0 317.0,130.1 317.5,130.1 318.0,130.1 318.5,130.2 319.0,130.2 319.5,130.3 320.0,130.3 320.5,130.4 321.0,130.4 321.5,130.5 322.0,130.5 322.5,130.5 323.0,130.6 323.5,130.6 324.0,130.7 324.5,130.7 325.0,130.8 325.5,130.8 326.0,130.9 326.5,130.9 327.0,131.0 327.5,131.0 328.0,131.1 328.5,131.1 329.0,131.2 329.5,131.2 330.0,131.3 330.5,131.3 331.0,131.4 331.5,131.4 332.0,131.5 332.2,131.5 332.5,131.5 333.0,131.6 333.5,131.6 334.0,131.7 334.5,131.7 335.0,131.8 335.5,131.8 336.0,131.9 336.5,131.9 337.0,132.0 337.5,132.1 338.0,132.1 338.5,132.2 339.0,132.2 339.5,132.3 340.0,132.3 340.5,132.4 341.0,132.4 341.5,132.5 342.0,132.6 342.5,132.6 343.0,132.7 343.5,132.7 344.0,132.8 344.5,132.9 345.0,132.9 345.5,133.0 346.0,133.0 346.5,133.1 347.0,133.2 347.5,133.2 348.0,133.3 348.5,133.3 349.0,133.4 349.5,133.5 350.0,133.5 350.5,133.6 351.0,133.7 351.5,133.7 352.0,133.8 352.5,133.9 353.0,133.9 353.5,134.0 354.0,134.0 354.5,134.1 355.0,134.2 355.5,134.2 356.0,134.3 356.5,134.4 357.0,134.4 357.5,134.5 358.0,134.6 358.5,134.6 359.0,134.7 359.5,134.8 360.0,134.8 360.5,134.9 361.0,135.0 361.5,135.0 362.0,135.1 362.5,135.2 363.0,135.2 363.5,135.3 364.0,135.4 364.5,135.4 365.0,135.5 365.5,135.6 366.0,135.7 366.5,135.7 367.0,135.8 367.5,135.9 368.0,135.9 368.5,136.0 369.0,136.1 369.5,136.1 370.0,136.2 370.5,136.3 371.0,136.3 371.5,136.4 372.0,136.5 372.5,136.6 373.0,136.6 373.5,136.7 374.0,136.8 374.5,136.8 375.0,136.9 375.5,137.0 376.0,137.0 376.5,137.1 377.0,137.2 377.5,137.2 378.0,137.3 378.5,137.4 379.0,137.4 379.5,137.5 380.0,137.6 380.5,137.6 381.0,137.7 381.5,137.8 382.0,137.9 382.5,137.9 383.0,138.0 383.5,138.1 384.0,138.1 384.5,138.2 385.0,138.3 385.5,138.3 386.0,138.4 386.5,138.5 387.0,138.5 387.5,138.6 388.0,138.7 388.5,138.7 389.0,138.8 389.5,138.9 390.0,138.9 390.5,139.0 391.0,139.0 391.5,139.1 392.0,139.2 392.5,139.2 393.0,139.3 393.5,139.4 394.0,139.4 394.5,139.5 395.0,139.6 395.5,139.6 396.0,139.7 396.5,139.7 397.0,139.8 397.5,139.9 398.0,139.9 398.5,140.0 399.0,140.0 399.5,140.1 400.0,140.2 400.5,140.2 401.0,140.3 401.5,140.4 402.0,140.4 402.5,140.5 403.0,140.5 403.5,140.6 404.0,140.7 404.5,140.7 405.0,140.8 405.5,140.8 406.0,140.9 406.5,141.0 407.0,141.0 407.5,141.1 408.0,141.1 408.5,141.2 409.0,141.3 409.5,141.3 410.0,141.4 410.5,141.4 411.0,141.5 411.5,141.6 412.0,141.6 412.5,141.7 413.0,141.7 413.5,141.8 414.0,141.9 414.5,141.9 415.0,142.0 415.5,142.0 416.0,142.1 416.5,142.2 417.0,142.2 417.5,142.3 418.0,142.4 418.5,142.4 419.0,142.5 419.5,142.5 420.0,142.6 420.5,142.7 421.0,142.7 421.5,142.8 422.0,142.8 422.5,142.9 423.0,143.0 423.5,143.0 424.0,143.1 424.5,143.2 425.0,143.2 425.5,143.3 426.0,143.3 426.5,143.4 427.0,143.5 427.5,143.5 428.0,143.6 428.5,143.7 429.0,143.7 429.5,143.8 430.0,143.9 430.5,143.9 431.0,144.0 431.5,144.1 432.0,144.1 432.5,144.2 433.0,144.2 433.5,144.3 434.0,144.4 434.5,144.4 435.0,144.5 435.5,144.6 436.0,144.6 436.5,144.7 437.0,144.8 437.5,144.9 438.0,144.9 438.5,145.0 439.0,145.1 439.5,145.1 440.0,145.2 440.5,145.3 441.0,145.3 441.5,145.4 442.0,145.5 442.5,145.6 443.0,145.6 443.5,145.7 444.0,145.8 444.5,145.8 445.0,145.9 445.5,146.0 446.0,146.1 446.5,146.1 447.0,146.2 447.5,146.3 448.0,146.4 448.5,146.5 449.0,146.5 449.5,146.6 450.0,146.7 450.5,146.8 451.0,146.8 451.5,146.9 452.0,147.0 452.5,147.1 453.0,147.2 453.5,147.2 454.0,147.3 454.5,147.4 455.0,147.5 455.5,147.6 456.0,147.6 456.5,147.7 457.0,147.8 457.5,147.9 458.0,148.0 458.5,148.0 459.0,148.1 459.5,148.2 460.0,148.3 460.5,148.4 461.0,148.5 461.5,148.5 462.0,148.6 462.5,148.7 463.0,148.8 463.5,148.9 464.0,149.0 464.5,149.0 465.0,149.1 465.5,149.2 466.0,149.3 466.5,149.4 467.0,149.5 467.5,149.5 468.0,149.6 468.5,149.7 469.0,149.8 469.5,149.9 470.0,150.0 470.5,150.0 471.0,150.1 471.5,150.2 472.0,150.3 472.5,150.4 473.0,150.5 473.5,150.5 474.0,150.6 474.5,150.7 475.0,150.8 475.5,150.9 476.0,151.0 476.5,151.0 477.0,151.1 477.5,151.2 478.0,151.3 478.5,151.4 479.0,151.4 479.5,151.5 480.0,151.6 480.5,151.7 481.0,151.8 481.5,151.9 482.0,151.9 482.5,152.0 483.0,152.1 483.5,152.2 484.0,152.3 484.5,152.3 485.0,152.4 485.5,152.5 486.0,152.6 486.5,152.6 487.0,152.7 487.5,152.8 488.0,152.9 488.5,153.0 489.0,153.0 489.5,153.1 490.0,153.2 490.5,153.3 490.8,153.3 491.0,153.3 491.5,153.4 492.0,153.5 492.5,153.6 493.0,153.6 493.5,153.7 494.0,153.8 494.5,153.9 495.0,153.9 495.5,154.0 496.0,154.1 496.5,154.2 497.0,154.2 497.5,154.3 498.0,154.4 498.5,154.5 499.0,154.5 499.5,154.6 500.0,154.7 500.5,154.8 501.0,154.8 501.5,154.9 502.0,155.0 502.5,155.1 503.0,155.1 503.5,155.2 504.0,155.3 504.5,155.4 505.0,155.4 505.5,155.5 506.0,155.6 506.5,155.7 507.0,155.7 507.5,155.8 508.0,155.9 508.5,156.0 509.0,156.1 509.5,156.1 510.0,156.2 510.5,156.3 511.0,156.4 511.5,156.4 512.0,156.5 512.5,156.6 513.0,156.7 513.5,156.7 514.0,156.8 514.5,156.9 515.0,157.0 515.5,157.0 516.0,157.1 516.5,157.2 517.0,157.3 517.5,157.3 518.0,157.4 518.5,157.5 519.0,157.5 519.5,157.6 520.0,157.7 520.5,157.8 521.0,157.8 521.5,157.9 522.0,158.0 522.5,158.1 523.0,158.1 523.5,158.2 524.0,158.3 524.5,158.4 525.0,158.4 525.5,158.5 526.0,158.6 526.5,158.6 527.0,158.7 527.5,158.8 528.0,158.9 528.5,158.9 529.0,159.0 529.5,159.1 530.0,159.1 530.5,159.2 531.0,159.3 531.5,159.3 532.0,159.4 532.5,159.5 533.0,159.5 533.5,159.6 534.0,159.7 534.5,159.8 535.0,159.8 535.5,159.9 536.0,160.0 536.5,160.0 537.0,160.1 537.5,160.2 538.0,160.2 538.5,160.3 539.0,160.4 539.5,160.4 540.0,160.5 540.5,160.5 541.0,160.6 541.5,160.7 542.0,160.7 542.5,160.8 543.0,160.9 543.5,160.9 544.0,161.0 544.5,161.1 545.0,161.1 545.5,161.2 546.0,161.2 546.5,161.3 547.0,161.4 547.5,161.4 548.0,161.5 548.5,161.5 549.0,161.6 549.5,161.7 550.0,161.7 550.5,161.8 551.0,161.8 551.5,161.9 552.0,161.9 552.5,162.0 553.0,162.1 553.5,162.1 554.0,162.2 554.3,162.2 554.5,162.2 555.0,162.3 555.5,162.3 556.0,162.4 556.5,162.4 557.0,162.5 557.5,162.5 558.0,162.6 558.5,162.7 559.0,162.7 559.5,162.8 560.0,162.8 560.5,162.9 561.0,162.9 561.5,163.0 562.0,163.0 562.5,163.1 563.0,163.1 563.5,163.2 564.0,163.2 564.5,163.3 565.0,163.3 565.5,163.4 566.0,163.4 566.5,163.5 567.0,163.5 567.5,163.6 568.0,163.6 568.5,163.7 569.0,163.7 569.5,163.8 570.0,163.8 570.5,163.9 571.0,163.9 571.5,164.0 572.0,164.0 572.5,164.0 573.0,164.1 573.5,164.1 574.0,164.2 574.5,164.2 575.0,164.3 575.5,164.3 576.0,164.4 576.5,164.4 577.0,164.5 577.5,164.5 578.0,164.6 578.5,164.6 579.0,164.6 579.5,164.7 580.0,164.7 580.5,164.8 581.0,164.8 581.5,164.9 582.0,164.9 582.5,165.0 583.0,165.0 583.5,165.0 584.0,165.1 584.5,165.1 585.0,165.2 585.5,165.2 586.0,165.3 586.5,165.3 587.0,165.3 587.5,165.4 588.0,165.4 588.5,165.5 589.0,165.5 589.5,165.6 590.0,165.6 590.5,165.6 591.0,165.7 591.5,165.7 592.0,165.8 592.5,165.8 593.0,165.8 593.5,165.9 594.0,165.9 594.5,166.0 595.0,166.0 595.5,166.0 596.0,166.1 596.5,166.1 597.0,166.2 597.5,166.2 598.0,166.2 598.5,166.3 599.0,166.3 599.5,166.4 600.0,166.4 600.5,166.4 601.0,166.5 601.5,166.5 602.0,166.6 602.5,166.6 603.0,166.6 603.5,166.7 604.0,166.7 604.5,166.8 605.0,166.8 605.5,166.8 606.0,166.9 606.5,166.9 607.0,167.0 607.5,167.0 608.0,167.0 608.5,167.1 609.0,167.1 609.5,167.1 610.0,167.2 610.5,167.2 611.0,167.3 611.5,167.3 612.0,167.3 612.5,167.4 613.0,167.4 613.5,167.4 614.0,167.5 614.5,167.5 615.0,167.6 615.5,167.6 616.0,167.6 616.5,167.7 617.0,167.7 617.5,167.7 618.0,167.8 618.5,167.8 619.0,167.9 619.5,167.9 620.0,167.9 620.5,168.0 621.0,168.0 621.5,168.0 622.0,168.1 622.5,168.1 623.0,168.1 623.5,168.2 624.0,168.2 624.5,168.2 625.0,168.3 625.5,168.3 626.0,168.3 626.5,168.4 627.0,168.4 627.5,168.4 628.0,168.5 628.5,168.5 629.0,168.5 629.5,168.6 630.0,168.6 630.5,168.6 631.0,168.7 631.5,168.7 632.0,168.7 632.5,168.8 633.0,168.8 633.5,168.8 634.0,168.9 634.5,168.9 635.0,168.9 635.5,168.9 636.0,169.0 636.5,169.0 637.0,169.0 637.5,169.1 638.0,169.1 638.5,169.1 639.0,169.1 639.5,169.2 640.0,169.2 640.5,169.2 641.0,169.3 641.5,169.3 642.0,169.3 642.5,169.3 643.0,169.4 643.5,169.4 644.0,169.4 644.5,169.5 645.0,169.5 645.5,169.5 646.0,169.6 646.5,169.6 647.0,169.6 647.5,169.7 648.0,169.7 648.5,169.7 649.0,169.7 649.5,169.8 650.0,169.8 650.5,169.8 651.0,169.9 651.5,169.9 652.0,169.9 652.5,170.0 653.0,170.0 653.5,170.0 654.0,170.0 654.5,170.1 655.0,170.1 655.5,170.1 656.0,170.1 656.5,170.1 657.0,170.2 657.5,170.2 658.0,170.2 658.5,170.2 659.0,170.2 659.5,170.2 660.0,170.3 660.5,170.3 661.0,170.3 661.5,170.3 662.0,170.3 662.5,170.3 663.0,170.3 663.5,170.3 664.0,170.3 664.5,170.3 665.0,170.3 665.5,170.3 666.0,170.3 666.5,170.3 667.0,170.3 667.5,170.2 668.0,170.2 668.5,170.2 669.0,170.2 669.5,170.2 670.0,170.2 670.5,170.1 671.0,170.1 671.5,170.1 672.0,170.1 672.5,170.1 673.0,170.0 673.5,170.0 674.0,170.0 674.5,170.0 675.0,169.9 675.5,169.9 676.0,169.9 676.5,169.8 677.0,169.8 677.5,169.8 678.0,169.8 678.5,169.7 679.0,169.7 679.5,169.7 680.0,169.6 680.5,169.6 681.0,169.6 681.5,169.5 682.0,169.5 682.5,169.5 683.0,169.4 683.5,169.4 684.0,169.4 684.5,169.3 685.0,169.3 685.5,169.3 686.0,169.2 686.5,169.2 687.0,169.2 687.5,169.1 688.0,169.1 688.5,169.1 689.0,169.1 689.5,169.0 690.0,169.0 690.5,169.0 691.0,168.9 691.5,168.9 692.0,168.9 692.5,168.9 693.0,168.8 693.5,168.8 694.0,168.8 694.5,168.8 695.0,168.7 695.5,168.7 696.0,168.7 696.5,168.6 697.0,168.6 697.5,168.6 698.0,168.5 698.5,168.5 699.0,168.5 699.5,168.5 700.0,168.4 700.5,168.4 701.0,168.4 701.5,168.3 702.0,168.3 702.5,168.3 703.0,168.2 703.5,168.2 704.0,168.2 704.5,168.2 705.0,168.1 705.5,168.1 706.0,168.1 706.5,168.0 707.0,168.0 707.5,168.0 708.0,167.9 708.5,167.9 709.0,167.9 709.5,167.8 710.0,167.8 710.5,167.8 711.0,167.7 711.5,167.7 712.0,167.7 712.5,167.7 713.0,167.6 713.5,167.6 714.0,167.6 714.5,167.5 715.0,167.5 715.5,167.5 716.0,167.4 716.5,167.4 717.0,167.4 717.5,167.3 718.0,167.3 718.5,167.3 719.0,167.2 719.5,167.2 720.0,167.2 720.5,167.2 721.0,167.1 721.5,167.1 722.0,167.1 722.5,167.0 723.0,167.0 723.5,167.0 724.0,166.9 724.5,166.9 725.0,166.9 725.5,166.9 726.0,166.8 726.5,166.8 727.0,166.8 727.5,166.7 728.0,166.7 728.5,166.7 729.0,166.7 729.5,166.6 730.0,166.6 730.5,166.6 731.0,166.5 731.5,166.5 732.0,166.5 732.5,166.5 733.0,166.4 733.5,166.4 734.0,166.4 734.5,166.3 735.0,166.3 735.5,166.3 736.0,166.3 736.5,166.2 737.0,166.2 737.5,166.2 738.0,166.1 738.5,166.1 739.0,166.1 739.5,166.0 740.0,166.0 740.5,166.0 741.0,166.0 741.5,165.9 742.0,165.9 742.5,165.9 743.0,165.8 743.5,165.8 744.0,165.8 744.5,165.8 745.0,165.7 745.5,165.7 746.0,165.7 746.5,165.6 747.0,165.6 747.5,165.6 748.0,165.5 748.5,165.5 749.0,165.5 749.5,165.5 750.0,165.4 750.5,165.4 751.0,165.4 751.5,165.3 752.0,165.3 752.5,165.3 753.0,165.3 753.5,165.2 754.0,165.2 754.5,165.2 755.0,165.1 755.5,165.1 756.0,165.1 756.5,165.1 757.0,165.0 757.5,165.0 758.0,165.0 758.5,165.0 759.0,164.9 759.5,164.9 760.0,164.9 760.5,164.9 761.0,164.8 761.5,164.8 762.0,164.8 762.5,164.8 763.0,164.7 763.5,164.7 764.0,164.7 764.5,164.7 765.0,164.6 765.5,164.6 766.0,164.6 766.5,164.6 767.0,164.5 767.5,164.5 768.0,164.5 768.5,164.5 769.0,164.5 769.5,164.4 770.0,164.4 770.5,164.4 771.0,164.4 771.5,164.4 772.0,164.3 772.5,164.3 773.0,164.3 773.5,164.3 774.0,164.3 774.5,164.3 775.0,164.2 775.5,164.2 776.0,164.2 776.3,164.2 776.5,164.2 777.0,164.2 777.5,164.2 778.0,164.1 778.5,164.1 779.0,164.1 779.5,164.1 780.0,164.1 780.5,164.1 781.0,164.1 781.5,164.0 782.0,164.0 782.5,164.0 783.0,164.0 783.5,164.0 784.0,164.0 784.5,164.0 785.0,163.9 785.5,163.9 786.0,163.9 786.5,163.9 787.0,163.9 787.5,163.9 788.0,163.9 788.5,163.8 789.0,163.8 789.5,163.8 790.0,163.8 790.5,163.8 791.0,163.8 791.5,163.8 792.0,163.7 792.5,163.7 793.0,163.7 793.5,163.7 794.0,163.7 794.5,163.7 795.0,163.7 795.5,163.7 796.0,163.7 796.5,163.6 797.0,163.6 797.5,163.6 798.0,163.6 798.5,163.6 799.0,163.6 799.5,163.6 800.0,163.6 800.5,163.6 801.0,163.6 801.5,163.6 802.0,163.6 802.5,163.5 803.0,163.5 803.5,163.5 804.0,163.5 804.5,163.5 805.0,163.5 805.5,163.5 806.0,163.5 806.5,163.5 807.0,163.5 807.5,163.5 808.0,163.5 808.5,163.5 809.0,163.5 809.3,163.5 809.5,163.5 810.0,163.5 810.5,163.5 811.0,163.5 811.5,163.5 812.0,163.5 812.5,163.5 813.0,163.5 813.5,163.5 814.0,163.5 814.5,163.6 815.0,163.6 815.5,163.6 816.0,163.6 816.5,163.6 817.0,163.6 817.5,163.6 818.0,163.6 818.5,163.7 819.0,163.7 819.5,163.7 820.0,163.7 820.5,163.7 821.0,163.8 821.5,163.8 822.0,163.8 822.5,163.8 823.0,163.8 823.5,163.9 824.0,163.9 824.5,163.9 825.0,163.9 825.5,164.0 826.0,164.0 826.5,164.0 827.0,164.1 827.5,164.1 828.0,164.1 828.5,164.1 829.0,164.2 829.5,164.2 830.0,164.2 830.5,164.3 831.0,164.3 831.5,164.3 832.0,164.3 832.5,164.4 833.0,164.4 833.5,164.4 834.0,164.5 834.5,164.5 835.0,164.5 835.5,164.6 836.0,164.6 836.5,164.6 837.0,164.7 837.3,164.7 837.5,164.7 838.0,164.8 838.5,164.8 839.0,164.8 839.5,164.9 840.0,164.9 840.5,165.0 841.0,165.1 841.5,165.1 842.0,165.2 842.5,165.2 843.0,165.3 843.5,165.4 844.0,165.4 844.5,165.5 845.0,165.6 845.5,165.6 846.0,165.7 846.5,165.8 847.0,165.9 847.5,165.9 848.0,166.0 848.5,166.1 849.0,166.1 849.5,166.2 850.0,166.3 850.5,166.4 851.0,166.5 851.5,166.6 852.0,166.7 852.5,166.8 853.0,166.8 853.5,166.9 854.0,167.0 854.5,167.1 855.0,167.2 855.5,167.3 856.0,167.3 856.5,167.4 857.0,167.4 857.5,167.5 857.6,167.5 858.0,167.5 858.5,167.6 859.0,167.6 859.5,167.6 860.0,167.7 860.5,167.7 861.0,167.8 861.5,167.8 862.0,167.8 862.5,167.8 863.0,167.9 863.5,167.9 864.0,167.9 864.5,168.0 865.0,168.0 865.5,168.0 866.0,168.0 866.5,168.0 867.0,168.1 867.5,168.1 868.0,168.1 868.5,168.1 869.0,168.2 869.5,168.2 870.0,168.2 870.5,168.2 871.0,168.2 871.5,168.3 872.0,168.3 872.5,168.3 873.0,168.3 873.5,168.3 874.0,168.4 874.5,168.4 875.0,168.4 875.5,168.4 876.0,168.4 876.5,168.4 877.0,168.5 877.5,168.5 878.0,168.5 878.5,168.5 879.0,168.5 879.5,168.5 880.0,168.5 880.5,168.6 881.0,168.6 881.5,168.6 882.0,168.6 882.5,168.6 883.0,168.6 883.5,168.7 884.0,168.7 884.5,168.7 885.0,168.7 885.5,168.7 886.0,168.7 886.5,168.7 887.0,168.8 887.5,168.8 888.0,168.8 888.5,168.8 889.0,168.8 889.5,168.9 890.0,168.9 890.5,168.9 891.0,168.9 891.5,168.9 892.0,168.9 892.5,169.0 893.0,169.0 893.5,169.0 894.0,169.0 894.5,169.0 895.0,169.0 895.5,169.1 896.0,169.1 896.5,169.1 897.0,169.1 897.5,169.1 898.0,169.2 898.5,169.2 899.0,169.2 899.5,169.2 900.0,169.2 900.5,169.3 901.0,169.3 901.5,169.3 902.0,169.3 902.5,169.3 903.0,169.3 903.5,169.4 904.0,169.4 904.5,169.4 905.0,169.4 905.5,169.4 906.0,169.5 906.5,169.5 907.0,169.5 907.5,169.5 908.0,169.5 908.5,169.6 909.0,169.6 909.5,169.6 910.0,169.6 910.5,169.6 911.0,169.6 911.5,169.7 912.0,169.7 912.5,169.7 913.0,169.7 913.5,169.7 914.0,169.8 914.5,169.8 915.0,169.8 915.5,169.8 916.0,169.8 916.5,169.9 917.0,169.9 917.5,169.9 918.0,169.9 918.5,169.9 919.0,170.0 919.5,170.0 920.0,170.0 920.5,170.0 921.0,170.0 921.5,170.1 922.0,170.1 922.5,170.1 923.0,170.1 923.5,170.1 924.0,170.2 924.5,170.2 925.0,170.2 925.5,170.2 926.0,170.2 926.5,170.3 927.0,170.3 927.4,170.3" stroke="#ea1212" stroke-width="1.8"/><path d="M110.5,336.0 111.0,337.7 111.4,338.6 111.9,338.8 112.0,338.9 112.3,338.3 112.8,336.5 113.2,334.7 113.5,333.9 113.7,334.0 114.1,335.5 114.6,337.2 115.0,338.0 115.0,337.8 115.5,336.3 115.6,336.1 115.9,411.4 115.9,411.5 116.2,199.7 116.4,200.2 116.8,205.2 117.2,211.5 117.3,211.4 117.7,216.7 118.2,221.6 118.3,223.0 118.6,226.2 119.1,231.5 119.3,234.5 119.5,236.6 120.0,241.3 120.3,245.9 120.4,246.4 120.9,251.4 121.3,256.7 121.4,257.4 121.8,261.5 122.2,266.7 122.4,268.9 122.7,271.5 123.1,276.5 123.5,280.5 123.6,281.2 124.0,285.4 124.5,291.3 124.5,291.7 124.8,304.1 124.9,309.4 125.4,344.2 125.8,386.0 126.3,418.5 126.6,427.8 126.7,427.7 127.2,421.0 127.6,407.3 128.1,392.8 128.5,380.0 128.5,380.4 129.0,371.0 129.4,360.6 129.9,353.8 130.0,351.7 130.3,349.1 130.8,344.4 131.2,341.4 131.7,338.9 132.1,337.6 132.3,337.2 132.6,335.3 133.0,334.7 133.5,334.6 133.9,332.5 134.4,332.7 134.8,332.3 135.3,332.6 135.7,331.8 136.2,331.0 136.6,330.7 137.0,330.6 137.1,331.5 137.5,330.3 138.0,330.3 138.4,330.5 138.9,330.2 139.3,330.1 139.8,329.5 140.0,330.0 140.2,329.7 140.7,330.4 141.1,330.0 141.6,329.5 142.0,329.7 142.5,329.0 142.9,329.5 143.4,328.8 143.8,328.9 144.3,327.7 144.7,328.3 145.2,327.0 145.6,326.6 146.1,327.3 146.5,326.8 147.0,327.1 147.4,328.0 147.9,326.1 148.3,326.0 148.8,326.2 149.2,326.2 149.7,325.6 150.1,325.3 150.6,325.6 151.0,325.3 151.5,324.2 151.9,324.6 152.4,324.4 152.8,323.6 153.3,324.2 153.7,323.4 154.2,324.2 154.6,323.6 155.1,323.4 155.5,322.9 155.6,323.1 156.0,322.0 156.4,322.3 156.9,323.0 157.3,321.5 157.8,323.1 158.2,321.5 158.7,322.8 159.1,321.8 159.6,322.5 160.0,322.1 160.5,321.0 160.9,322.4 161.4,322.4 161.8,321.5 162.3,321.3 162.7,321.2 163.2,320.6 163.6,321.7 164.1,320.7 164.5,320.8 165.0,320.3 165.4,320.3 165.9,319.9 166.3,321.1 166.8,320.3 167.2,320.8 167.7,320.2 168.1,319.7 168.6,319.8 169.0,319.6 169.5,319.8 169.9,319.5 170.4,319.5 170.8,318.8 171.3,319.0 171.7,320.3 172.2,318.9 172.6,318.6 173.1,319.3 173.5,319.8 174.0,318.2 174.4,318.8 174.9,318.5 175.3,317.8 175.8,319.1 176.2,318.6 176.7,318.6 177.1,318.1 177.6,318.7 178.0,318.1 178.5,318.3 178.9,317.7 179.0,317.6 179.4,319.0 179.8,317.9 180.3,318.3 180.7,318.1 181.2,317.8 181.6,317.7 182.1,318.3 182.5,317.7 183.0,317.8 183.4,317.8 183.9,318.4 184.3,318.1 184.8,317.9 185.2,317.3 185.7,316.8 186.1,318.0 186.6,318.0 187.0,317.3 187.5,317.7 187.9,317.7 188.4,317.7 188.8,317.7 189.3,316.9 189.7,318.0 190.2,316.4 190.6,317.5 191.1,317.3 191.5,317.4 192.0,317.9 192.4,317.7 192.9,316.2 193.3,315.8 193.8,317.2 194.2,316.1 194.7,316.6 195.1,317.1 195.6,315.6 196.0,315.3 196.5,316.6 196.9,316.5 197.4,316.3 197.8,316.4 198.3,315.8 198.7,315.4 199.2,316.1 199.6,315.7 200.1,315.3 200.5,316.4 201.0,316.1 201.4,316.3 201.9,315.5 202.3,315.6 202.8,315.4 203.2,315.4 203.7,316.0 204.1,315.4 204.6,316.0 205.0,316.0 205.5,316.9 205.9,315.0 206.4,316.2 206.8,315.7 207.3,315.7 207.7,314.9 208.2,315.4 208.6,316.0 209.1,315.6 209.5,315.6 210.0,315.4 210.4,316.2 210.9,315.5 211.3,314.3 211.8,315.1 212.2,314.4 212.7,313.7 213.1,315.2 213.6,316.2 214.0,315.5 214.5,314.8 214.9,314.9 215.4,316.0 215.8,315.5 216.3,315.4 216.7,315.4 217.2,315.4 217.6,315.8 218.0,315.7 218.1,315.5 218.5,314.8 219.0,315.7 219.4,315.0 219.9,316.0 220.3,314.7 220.8,315.3 221.2,315.4 221.7,314.7 222.1,316.3 222.6,316.2 223.0,315.1 223.5,315.8 223.9,315.6 224.4,314.0 224.8,315.5 225.3,315.4 225.7,315.4 226.2,314.8 226.6,315.3 227.1,315.3 227.5,316.1 228.0,315.6 228.4,315.4 228.9,316.2 229.3,315.1 229.8,315.2 230.2,314.4 230.7,316.3 231.1,315.9 231.6,315.9 232.0,315.8 232.5,315.5 232.9,315.5 233.4,315.3 233.8,315.3 234.3,315.4 234.7,316.2 235.2,315.7 235.6,315.4 236.1,315.1 236.5,315.1 237.0,316.3 237.4,315.7 237.9,315.4 238.3,315.2 238.8,314.8 239.2,315.4 239.7,315.9 240.1,315.2 240.6,315.3 241.0,315.3 241.5,315.5 241.9,314.5 242.4,315.3 242.8,314.9 243.3,315.9 243.7,315.0 244.2,315.7 244.6,316.2 245.1,315.2 245.5,315.1 246.0,315.5 246.4,315.4 246.9,314.9 247.3,315.7 247.8,316.5 248.2,315.3 248.7,315.3 249.1,314.8 249.6,315.6 250.0,314.7 250.5,314.8 250.9,316.1 251.4,314.9 251.8,316.0 252.3,316.2 252.7,315.5 253.2,315.7 253.6,316.5 254.1,315.3 254.5,315.1 255.0,314.7 255.4,315.4 255.9,316.2 256.3,315.9 256.8,314.9 257.0,314.9 257.2,315.1 257.7,315.6 258.1,315.3 258.6,315.5 259.0,315.6 259.5,315.3 259.9,315.4 260.4,315.5 260.8,315.4 261.3,315.7 261.7,316.5 262.2,315.8 262.6,315.5 263.1,314.6 263.5,315.7 264.0,314.5 264.4,314.8 264.9,316.0 265.3,316.0 265.8,315.5 266.2,314.7 266.7,315.4 267.1,315.3 267.6,316.0 268.0,316.9 268.5,315.8 268.9,315.3 269.4,315.1 269.8,315.8 270.3,315.7 270.7,315.2 271.2,315.9 271.6,315.3 272.1,316.5 272.5,316.6 273.0,316.6 273.4,315.8 273.9,316.3 274.3,316.0 274.8,315.9 275.2,316.0 275.7,315.5 276.1,315.4 276.6,316.7 277.0,316.2 277.5,316.4 277.9,316.9 278.4,315.4 278.8,316.0 279.3,316.5 279.7,316.7 280.2,316.3 280.6,317.1 281.1,316.7 281.5,316.0 282.0,316.1 282.4,317.1 282.9,317.0 283.3,315.7 283.8,317.5 284.2,317.2 284.7,317.6 285.1,316.7 285.6,316.8 286.0,316.4 286.5,318.4 286.9,316.9 287.4,318.0 287.8,316.8 288.3,317.2 288.7,316.3 289.2,317.0 289.6,317.8 290.1,316.6 290.5,317.9 291.0,317.5 291.4,316.8 291.9,317.1 292.3,317.2 292.8,317.5 293.2,317.2 293.7,317.1 294.1,317.4 294.6,317.0 295.0,316.9 295.5,317.6 295.9,318.2 296.0,316.9 296.4,317.7 296.8,317.4 297.3,317.2 297.7,318.3 298.2,317.6 298.6,318.7 299.1,317.5 299.5,318.2 300.0,317.9 300.4,317.6 300.9,318.4 301.3,318.0 301.8,318.5 302.2,318.1 302.7,317.6 303.1,318.2 303.6,318.3 304.0,318.9 304.5,317.9 304.9,318.4 305.4,317.5 305.8,318.9 306.3,317.9 306.7,317.6 307.2,318.6 307.6,319.3 308.1,317.9 308.5,318.1 309.0,318.4 309.4,318.2 309.9,319.1 310.3,318.5 310.8,318.5 311.2,319.3 311.7,318.6 312.1,319.3 312.6,318.5 313.0,318.5 313.5,318.1 313.9,320.2 314.4,319.0 314.8,319.4 315.3,319.3 315.7,319.4 316.2,319.4 316.6,320.4 317.1,318.8 317.5,318.6 318.0,318.9 318.4,318.8 318.9,319.9 319.3,320.0 319.8,319.0 320.2,318.8 320.7,319.4 321.1,320.4 321.6,318.1 322.0,319.9 322.5,319.1 322.9,320.2 323.4,319.1 323.8,319.5 324.3,318.9 324.7,319.2 325.2,320.5 325.5,320.2 325.6,319.5 326.1,319.2 326.5,318.7 327.0,319.5 327.4,319.7 327.9,319.7 328.3,319.6 328.8,319.1 329.2,319.7 329.7,319.7 330.1,320.4 330.6,320.7 331.0,319.6 331.5,319.3 331.9,319.7 332.4,319.4 332.8,319.3 333.3,319.7 333.7,319.1 334.2,320.0 334.6,319.6 335.1,319.8 335.5,319.6 336.0,319.3 336.4,319.2 336.9,319.5 337.3,319.4 337.8,319.8 338.2,319.7 338.7,318.9 339.1,319.7 339.6,318.9 340.0,319.3 340.5,319.5 340.9,318.5 341.4,319.7 341.8,319.7 342.3,319.6 342.7,319.4 343.2,319.4 343.6,319.1 344.1,319.5 344.5,319.3 345.0,319.7 345.4,319.0 345.9,319.8 346.3,319.7 346.8,319.5 347.2,319.4 347.7,319.9 348.1,318.7 348.6,319.9 349.0,319.7 349.5,319.8 349.5,319.8 349.9,319.2 350.4,319.4 350.8,319.9 351.3,319.8 351.7,319.7 352.2,318.7 352.6,319.8 353.1,320.1 353.5,320.0 354.0,319.6 354.4,318.6 354.9,319.9 355.3,319.3 355.8,317.9 356.2,319.5 356.7,318.4 357.1,318.5 357.6,318.8 358.0,319.9 358.5,318.9 358.9,319.2 359.4,320.0 359.8,319.9 360.3,318.9 360.7,318.8 361.2,318.2 361.6,318.4 362.1,319.0 362.5,319.0 363.0,318.8 363.4,319.2 363.9,318.2 364.3,318.5 364.8,318.9 365.0,318.8 365.2,319.1 365.7,318.7 366.1,318.2 366.6,318.5 367.0,317.8 367.5,317.4 367.9,318.5 368.4,318.1 368.8,318.3 369.3,317.1 369.7,317.8 370.2,317.6 370.6,317.4 371.1,316.6 371.5,317.6 372.0,318.2 372.4,317.9 372.9,317.3 373.3,317.5 373.8,317.9 374.2,315.9 374.7,317.3 375.1,317.6 375.6,317.6 376.0,318.0 376.5,317.7 376.9,317.1 377.4,317.0 377.8,317.2 378.3,316.4 378.7,316.6 378.8,317.1 379.2,317.6 379.6,316.3 380.1,316.3 380.5,316.3 381.0,316.8 381.4,315.9 381.9,316.6 382.3,315.1 382.8,315.3 383.2,315.2 383.7,315.5 384.1,315.5 384.6,313.9 385.0,314.0 385.5,314.5 385.9,313.8 386.4,313.1 386.8,314.3 387.3,313.8 387.7,313.7 388.2,312.9 388.6,313.6 389.1,312.7 389.5,313.2 390.0,311.9 390.4,311.8 390.9,312.2 391.3,311.5 391.8,312.1 392.2,311.7 392.7,310.9 393.1,311.3 393.6,310.9 394.0,311.4 394.5,310.5 394.5,310.6 394.9,311.4 395.4,311.8 395.8,311.6 396.3,310.4 396.7,310.3 397.2,311.0 397.6,309.9 398.1,309.3 398.5,309.8 399.0,309.9 399.4,309.1 399.9,308.6 400.3,308.6 400.8,309.6 401.2,308.8 401.7,309.0 402.1,309.1 402.6,309.2 403.0,308.6 403.5,309.0 403.9,308.2 404.4,308.4 404.8,308.0 405.0,309.1 405.3,308.4 405.7,308.0 406.2,308.1 406.6,308.1 407.1,308.6 407.5,307.2 408.0,307.5 408.4,307.8 408.9,309.3 409.3,308.4 409.8,307.7 410.2,308.1 410.7,308.8 411.1,307.5 411.6,307.4 412.0,308.2 412.5,307.8 412.9,307.8 413.4,307.1 413.8,308.4 414.3,308.3 414.7,307.6 415.2,307.7 415.6,306.2 416.0,307.7 416.1,307.2 416.5,307.5 417.0,307.7 417.4,307.2 417.9,306.5 418.3,307.7 418.8,307.2 419.2,307.5 419.7,307.4 420.1,307.7 420.6,306.7 421.0,308.8 421.5,308.4 421.9,309.0 422.4,309.6 422.8,308.7 423.3,307.8 423.7,308.4 424.0,308.3 424.2,308.8 424.6,309.2 425.1,308.3 425.5,309.7 426.0,308.9 426.4,310.1 426.9,310.1 427.3,310.2 427.8,310.5 428.2,310.5 428.7,310.7 429.1,310.4 429.6,311.5 430.0,312.8 430.5,313.1 430.9,313.0 431.4,313.0 431.6,312.3 431.8,313.6 432.3,313.0 432.7,313.3 433.2,313.4 433.6,313.9 434.1,313.8 434.5,314.3 435.0,314.0 435.4,314.6 435.9,316.4 436.3,315.4 436.8,315.5 437.2,316.2 437.7,316.6 438.1,315.9 438.6,316.7 439.0,317.6 439.5,317.6 439.9,317.8 440.4,318.9 440.8,318.0 441.3,318.8 441.7,318.8 442.2,320.3 442.3,318.5 442.6,319.5 443.1,319.9 443.5,321.0 444.0,321.4 444.4,322.3 444.9,321.1 445.3,322.8 445.8,322.7 446.2,323.0 446.7,324.1 447.1,323.8 447.6,323.7 448.0,325.2 448.5,325.1 448.9,326.1 449.4,327.2 449.8,327.7 450.3,329.0 450.7,328.5 451.2,328.4 451.6,329.4 452.1,329.9 452.5,330.3 453.0,331.8 453.4,331.8 453.9,331.6 454.3,333.7 454.8,333.8 455.0,334.4 455.2,334.5 455.7,335.4 456.1,335.7 456.6,337.0 457.0,337.2 457.5,337.8 457.9,338.5 458.4,338.1 458.8,339.5 459.3,340.1 459.7,341.1 460.2,340.9 460.6,343.3 461.1,343.1 461.5,343.1 462.0,343.6 462.4,345.0 462.9,345.9 463.3,346.2 463.8,347.4 464.2,347.7 464.7,349.0 465.1,349.0 465.6,350.1 466.0,351.3 466.5,352.8 466.7,351.2 466.9,351.8 467.4,352.3 467.8,353.8 468.3,353.4 468.7,354.5 469.2,355.4 469.6,355.5 470.1,356.1 470.5,357.1 471.0,356.8 471.4,357.8 471.9,359.0 472.3,360.0 472.8,360.5 473.2,360.2 473.7,361.6 474.1,362.9 474.6,363.4 475.0,363.7 475.5,363.9 475.9,365.4 476.4,365.3 476.8,365.7 477.3,366.5 477.7,368.4 478.2,368.3 478.6,369.4 479.1,369.2 479.5,370.6 480.0,370.3 480.4,371.2 480.4,372.7 480.9,372.3 481.3,372.3 481.8,373.1 482.2,373.9 482.7,375.0 483.1,374.7 483.6,374.6 484.0,376.0 484.5,376.8 484.9,377.5 485.4,378.7 485.8,378.8 486.3,379.6 486.7,379.2 487.2,380.9 487.6,382.1 488.1,382.0 488.5,382.3 489.0,382.8 489.4,384.3 489.9,383.4 490.3,384.5 490.8,385.4 491.2,386.1 491.7,386.0 492.1,387.0 492.6,387.3 493.0,388.1 493.5,388.6 493.9,388.6 494.4,389.8 494.8,390.9 495.3,390.5 495.7,391.4 496.2,392.5 496.6,392.2 497.1,393.5 497.5,393.4 498.0,395.2 498.4,396.4 498.9,396.8 499.3,396.2 499.8,397.3 500.2,397.6 500.7,398.2 501.1,399.6 501.6,398.6 502.0,400.5 502.5,400.5 502.5,401.4 502.9,401.2 503.4,401.4 503.8,402.5 504.3,403.4 504.7,403.6 505.2,404.4 505.6,404.4 506.1,404.2 506.5,406.4 507.0,406.9 507.4,407.2 507.9,407.7 508.3,408.9 508.8,408.6 509.2,409.1 509.7,410.0 510.1,411.3 510.6,410.5 511.0,412.5 511.5,412.1 511.9,412.4 512.4,414.3 512.8,414.1 513.3,414.1 513.7,415.2 514.2,416.5 514.6,417.2 515.1,417.0 515.5,418.0 516.0,418.8 516.4,418.7 516.9,419.8 517.3,420.2 517.8,420.6 518.2,421.2 518.7,422.1 519.1,422.8 519.6,423.1 520.0,423.8 520.5,425.3 520.9,425.4 521.4,426.4 521.8,427.2 522.3,427.6 522.7,429.1 523.2,428.1 523.6,429.7 524.1,429.7 524.5,431.6 525.0,432.2 525.4,430.9 525.9,432.1 526.0,433.3 526.3,433.8 526.8,434.5 527.2,434.8 527.7,435.8 528.1,436.7 528.6,437.1 529.0,438.4 529.5,437.4 529.9,439.8 530.4,439.7 530.8,441.6 531.3,441.8 531.7,442.2 532.2,443.7 532.6,443.8 533.1,444.7 533.5,445.1 534.0,446.8 534.4,447.9 534.9,449.0 535.3,449.2 535.8,450.6 536.2,450.8 536.7,451.6 537.1,452.7 537.6,453.7 537.7,453.2 538.0,453.8 538.5,454.6 538.9,455.5 539.4,455.7 539.8,457.5 540.3,457.5 540.7,458.7 541.2,458.7 541.6,460.1 542.1,460.8 542.5,461.0 543.0,463.0 543.0,462.2 543.4,463.6 543.9,463.9 544.3,463.9 544.8,464.8 545.2,465.9 545.7,466.2 546.1,466.6 546.4,466.4 546.6,465.6 547.0,466.3 547.5,464.9 547.9,465.9 548.4,464.7 548.8,463.9 549.3,463.3 549.4,463.2 549.7,460.5 550.2,454.5 550.6,447.6 551.1,440.7 551.3,439.2 551.5,439.4 552.0,435.7 552.4,434.6 552.9,431.7 553.3,431.1 553.8,429.4 554.2,428.3 554.7,427.6 555.1,427.2 555.2,426.1 555.6,425.3 556.0,423.8 556.5,423.8 556.9,422.5 557.4,422.3 557.8,421.0 558.3,421.3 558.7,418.6 559.2,418.9 559.6,418.9 560.1,417.6 560.5,416.8 561.0,416.5 561.4,415.4 561.9,415.7 562.3,416.4 562.8,415.2 563.0,413.7 563.2,413.6 563.7,413.4 564.1,413.7 564.6,412.2 565.0,411.8 565.5,412.2 565.9,411.8 566.4,410.6 566.8,409.8 567.3,409.2 567.7,409.2 568.2,408.0 568.6,409.2 569.1,408.1 569.5,408.3 570.0,408.7 570.4,408.0 570.9,406.3 571.3,407.1 571.8,406.9 572.2,405.5 572.7,405.0 573.1,405.1 573.6,404.0 574.0,405.4 574.5,402.9 574.9,403.3 575.4,403.4 575.8,403.1 576.3,403.0 576.7,402.7 576.7,402.5 577.2,402.9 577.6,400.8 578.1,401.6 578.5,400.9 579.0,401.1 579.4,400.8 579.9,399.9 580.3,399.7 580.8,400.2 581.2,399.6 581.7,398.8 582.1,400.0 582.6,399.8 583.0,397.4 583.5,398.1 583.9,399.0 584.4,397.8 584.8,397.2 585.3,396.7 585.7,396.2 586.2,396.1 586.6,395.6 587.1,396.1 587.5,395.2 588.0,394.9 588.4,394.2 588.9,394.6 589.3,393.8 589.8,394.0 590.2,394.4 590.7,393.8 591.1,393.6 591.6,393.3 592.0,392.9 592.5,392.6 592.9,392.3 593.4,392.6 593.8,391.4 594.3,392.5 594.7,391.6 595.2,391.0 595.6,390.9 596.1,390.6 596.3,391.0 596.5,390.4 597.0,391.3 597.4,390.0 597.9,389.0 598.3,389.7 598.8,388.9 599.2,389.8 599.7,390.2 600.1,389.8 600.6,388.6 601.0,388.8 601.5,390.0 601.9,389.1 602.4,388.7 602.8,389.2 603.3,389.8 603.7,389.0 604.2,388.2 604.6,388.2 605.1,388.2 605.5,387.4 606.0,387.1 606.4,387.5 606.9,386.9 607.3,387.2 607.8,387.2 608.2,388.3 608.7,386.4 609.1,386.7 609.6,386.5 610.0,386.8 610.5,387.0 610.9,386.0 611.4,385.7 611.8,385.1 612.3,385.4 612.7,386.1 613.2,385.7 613.6,385.0 614.1,385.3 614.5,385.4 615.0,385.5 615.4,384.8 615.8,384.9 615.9,384.0 616.3,384.2 616.8,385.6 617.2,383.4 617.7,384.4 618.1,384.6 618.6,384.1 619.0,383.8 619.5,384.1 619.9,384.0 620.4,383.9 620.8,382.8 621.3,383.6 621.7,383.1 622.2,383.2 622.6,383.5 623.1,383.7 623.5,383.7 624.0,382.9 624.4,383.5 624.9,383.6 625.3,383.5 625.8,383.5 626.2,382.6 626.7,382.4 627.1,382.9 627.6,381.6 628.0,382.3 628.5,381.8 628.9,381.8 629.4,380.9 629.8,381.3 630.0,381.7 630.3,382.1 630.7,382.1 631.2,381.3 631.6,381.1 632.1,380.7 632.5,381.2 633.0,380.7 633.4,381.0 633.9,381.5 634.3,380.4 634.8,379.4 635.2,379.6 635.7,379.1 636.1,379.1 636.6,380.3 637.0,379.5 637.5,378.4 637.9,379.4 638.4,379.6 638.8,378.6 639.3,378.2 639.7,378.2 640.2,378.4 640.6,378.5 641.1,378.6 641.5,378.4 642.0,378.3 642.4,378.2 642.9,377.7 643.3,376.3 643.8,376.9 644.2,377.0 644.7,376.5 645.1,377.1 645.6,376.3 646.0,375.8 646.5,377.0 646.9,376.5 647.4,376.1 647.8,376.4 648.3,376.3 648.7,375.8 649.2,374.2 649.5,375.1 649.6,375.2 650.1,374.9 650.5,375.4 651.0,375.9 651.4,374.9 651.9,374.5 652.3,376.1 652.8,374.7 653.2,374.2 653.7,375.0 654.1,375.0 654.6,374.3 655.0,375.1 655.5,374.3 655.9,374.0 656.4,374.6 656.8,374.9 657.3,374.0 657.7,374.5 658.2,374.2 658.6,375.8 659.1,373.8 659.5,374.9 660.0,374.1 660.4,374.0 660.9,374.4 661.3,374.4 661.8,374.6 662.2,374.0 662.7,373.5 663.1,373.4 663.6,374.0 664.0,373.9 664.5,374.3 664.9,373.7 665.4,374.0 665.8,374.2 666.3,373.4 666.7,372.4 667.2,372.6 667.6,372.3 668.1,373.9 668.5,372.5 669.0,373.6 669.0,373.2 669.4,373.8 669.9,373.3 670.3,372.6 670.8,372.5 671.2,372.5 671.7,372.5 672.1,372.0 672.6,372.2 673.0,373.0 673.5,371.1 673.9,372.1 674.4,371.3 674.8,371.8 675.3,372.1 675.7,371.5 676.2,371.8 676.6,370.4 677.1,371.8 677.5,370.7 678.0,371.3 678.4,370.9 678.9,369.3 679.3,370.2 679.8,370.6 680.2,371.2 680.7,370.4 681.1,370.2 681.6,369.2 682.0,370.6 682.5,370.7 682.9,369.6 683.4,369.3 683.8,368.4 684.3,369.7 684.7,370.6 685.2,369.3 685.6,369.5 686.1,369.0 686.5,368.0 687.0,369.2 687.4,367.6 687.9,368.0 688.3,368.2 688.8,368.4 689.2,368.0 689.7,367.8 690.1,367.1 690.6,366.6 691.0,367.3 691.5,366.7 691.9,366.2 692.4,366.1 692.8,366.4 693.3,365.5 693.7,365.7 694.2,365.4 694.6,366.3 695.1,366.3 695.5,367.0 696.0,365.0 696.4,365.3 696.9,366.0 697.3,365.3 697.8,365.1 698.2,366.1 698.4,364.9 698.7,364.4 699.1,364.2 699.6,365.0 700.0,364.8 700.5,363.8 700.9,363.9 701.4,364.6 701.8,364.5 702.3,363.7 702.7,364.3 703.2,364.1 703.6,362.7 704.1,363.4 704.5,363.6 705.0,363.0 705.4,362.0 705.9,362.9 706.3,363.3 706.8,363.6 707.2,361.4 707.7,363.9 708.1,361.8 708.6,362.8 709.0,362.8 709.5,362.5 709.9,361.9 710.4,361.1 710.8,362.0 711.3,361.1 711.7,360.0 712.2,362.8 712.6,361.5 713.1,362.0 713.5,360.3 714.0,361.5 714.4,361.4 714.9,361.3 715.3,360.3 715.8,359.5 716.2,360.0 716.7,358.7 717.1,358.9 717.6,359.7 718.0,359.0 718.5,359.3 718.9,359.2 719.4,360.2 719.8,359.8 720.3,358.9 720.7,359.5 721.2,358.2 721.6,358.4 722.1,358.9 722.5,357.6 723.0,358.0 723.4,357.3 723.9,358.0 724.3,358.7 724.8,357.3 725.2,357.7 725.7,356.9 726.1,356.7 726.6,356.5 727.0,357.9 727.5,358.3 727.7,357.2 727.9,356.5 728.4,357.1 728.8,356.4 729.3,356.9 729.7,356.5 730.2,356.4 730.6,356.5 731.1,355.7 731.5,355.7 732.0,354.8 732.4,355.4 732.9,354.8 733.3,355.3 733.8,354.8 734.2,355.2 734.7,355.3 735.1,354.2 735.6,354.4 736.0,354.2 736.5,355.0 736.9,355.4 737.4,354.8 737.8,354.0 738.3,354.9 738.7,353.1 739.2,354.7 739.6,353.4 740.1,352.1 740.5,355.0 741.0,354.3 741.4,352.7 741.9,353.3 742.3,352.9 742.8,353.0 743.2,352.0 743.7,352.3 744.1,352.8 744.6,352.6 745.0,353.0 745.5,352.3 745.9,353.4 746.4,351.6 746.8,352.1 747.3,350.8 747.7,351.0 748.2,352.3 748.6,351.0 749.1,351.7 749.5,351.3 750.0,350.6 750.4,350.9 750.9,350.7 751.3,350.6 751.8,351.2 752.2,351.0 752.7,350.3 753.1,350.0 753.6,350.5 754.0,350.2 754.5,350.8 754.9,351.6 755.4,350.5 755.8,349.9 756.3,349.7 756.7,349.3 757.0,349.2 757.2,349.1 757.6,349.4 758.1,349.3 758.5,349.8 759.0,349.1 759.4,349.1 759.9,348.5 760.3,350.0 760.8,349.3 761.2,349.9 761.7,349.3 762.1,349.6 762.6,348.5 763.0,349.0 763.5,350.0 763.9,347.7 764.4,349.0 764.8,349.2 765.3,348.4 765.7,348.5 766.2,348.7 766.6,347.5 767.1,348.1 767.5,347.3 768.0,347.3 768.4,347.2 768.9,347.4 769.3,347.5 769.8,347.6 770.2,346.5 770.7,348.3 771.1,347.8 771.6,347.5 772.0,346.8 772.5,346.9 772.9,347.2 773.4,347.0 773.8,345.8 774.3,347.1 774.7,348.2 775.2,345.5 775.6,347.0 776.1,346.6 776.5,346.2 777.0,347.0 777.4,345.5 777.9,346.2 778.3,346.9 778.8,345.9 779.2,345.7 779.7,345.9 780.1,345.6 780.6,346.6 781.0,345.2 781.5,346.2 781.9,344.9 782.4,345.9 782.8,345.5 783.3,344.0 783.7,345.4 784.2,344.8 784.6,345.1 785.1,346.2 785.5,344.6 786.0,344.6 786.2,346.0 786.4,345.3 786.9,346.0 787.3,345.3 787.8,344.6 788.2,345.0 788.7,345.7 789.1,345.5 789.6,345.0 790.0,345.0 790.5,344.9 790.9,344.6 791.4,346.0 791.8,344.9 792.3,344.2 792.7,344.5 793.2,345.2 793.6,345.1 794.1,344.7 794.5,344.3 795.0,344.7 795.4,343.7 795.9,343.9 796.3,345.1 796.8,344.3 797.2,344.8 797.7,345.2 798.1,344.9 798.6,344.5 799.0,345.7 799.5,344.8 799.9,344.2 800.0,344.8 800.4,344.6 800.8,343.9 801.3,344.3 801.7,344.2 802.2,343.1 802.6,344.1 803.1,344.0 803.5,343.8 804.0,343.1 804.4,343.8 804.9,343.9 805.3,343.9 805.8,343.2 806.2,344.1 806.7,343.0 807.1,343.5 807.6,344.3 808.0,343.1 808.5,343.2 808.9,344.0 809.4,343.1 809.8,343.1 810.3,343.4 810.7,343.8 811.2,341.9 811.6,342.6 812.1,342.5 812.5,342.4 813.0,342.5 813.4,342.5 813.9,343.1 814.3,342.4 814.8,342.9 815.2,343.1 815.7,342.4 816.1,342.9 816.6,343.7 817.0,343.0 817.3,342.4 817.5,342.8 817.9,342.3 818.4,343.0 818.8,343.3 819.3,342.4 819.7,342.7 820.2,343.5 820.6,342.6 821.1,343.0 821.5,342.3 822.0,342.4 822.4,342.6 822.9,344.1 823.3,342.7 823.8,342.7 824.2,342.7 824.7,342.9 825.1,343.4 825.6,343.1 826.0,344.2 826.5,343.2 826.9,343.9 827.4,343.3 827.8,343.5 828.3,342.4 828.7,343.2 829.2,343.2 829.6,343.2 830.1,342.2 830.5,343.9 831.0,343.2 831.4,343.2 831.9,343.3 832.3,343.4 832.8,343.8 833.2,342.9 833.7,343.1 834.1,343.8 834.6,343.8 835.0,343.5 835.5,343.5 835.9,343.4 836.4,343.8 836.8,344.6 837.3,343.4 837.7,344.8 838.2,344.5 838.6,343.8 839.1,344.6 839.5,343.4 839.7,343.2 840.0,343.5 840.4,344.0 840.9,344.1 841.3,344.1 841.8,344.5 842.2,343.3 842.7,344.9 843.1,343.9 843.6,344.4 844.0,344.6 844.5,344.3 844.9,344.2 845.4,344.5 845.8,345.1 846.3,345.6 846.7,345.7 847.2,344.9 847.6,345.1 848.1,345.1 848.5,346.0 849.0,344.7 849.4,346.6 849.9,345.8 850.3,345.7 850.8,346.5 851.2,347.0 851.7,346.7 852.1,347.2 852.6,346.8 853.0,347.5 853.5,347.6 853.9,347.0 854.4,348.0 854.8,347.4 855.3,347.4 855.7,347.0 856.2,347.4 856.6,348.1 857.1,347.1 857.5,348.3 858.0,348.2 858.4,348.3 858.9,347.0 859.3,348.2 859.8,348.7 860.2,348.0 860.4,348.5 860.7,347.2 861.1,349.0 861.6,348.4 862.0,349.3 862.5,347.9 862.9,349.3 863.4,348.9 863.8,349.6 864.3,348.7 864.7,349.0 865.2,350.6 865.6,349.0 866.1,349.2 866.5,349.5 867.0,349.2 867.4,350.5 867.9,350.8 868.3,349.6 868.8,349.1 869.2,350.8 869.7,350.8 870.1,350.7 870.6,351.0 871.0,350.0 871.5,350.4 871.9,349.8 872.4,349.9 872.8,351.3 873.3,350.5 873.7,352.2 874.2,351.0 874.6,350.7 875.1,351.6 875.5,352.2 876.0,351.6 876.4,350.7 876.9,351.7 877.3,352.3 877.8,351.3 878.2,351.2 878.7,352.3 879.1,351.9 879.6,351.3 880.0,351.7 880.5,351.6 880.9,352.3 881.4,352.2 881.8,352.9 882.3,352.7 882.7,351.5 883.2,352.7 883.6,353.0 884.1,352.8 884.5,353.2 885.0,352.4 885.4,352.2 885.9,353.3 886.3,352.3 886.3,351.7 886.8,353.5 887.2,352.6 887.7,352.9 888.1,352.4 888.6,352.5 889.0,352.6 889.5,353.1 889.9,353.6 890.4,352.2 890.8,353.9 891.3,352.9 891.7,353.0 892.2,354.0 892.6,353.7 893.1,352.9 893.5,354.8 894.0,353.4 894.4,354.0 894.9,354.1 895.3,354.8 895.8,353.8 896.2,354.7 896.7,353.8 897.1,354.8 897.6,353.8 898.0,354.1 898.5,355.4 898.9,354.6 899.4,354.5 899.8,355.8 900.3,354.8 900.7,354.2 901.2,355.1 901.6,354.1 902.1,355.4 902.5,355.5 903.0,354.6 903.4,354.6 903.9,355.1 904.3,355.1 904.8,354.6 905.2,355.5 905.7,354.1 906.1,355.0 906.6,355.1 907.0,355.2 907.0,355.6 907.5,354.8 907.9,355.8 908.4,355.5 908.8,355.3 909.3,355.0 909.7,355.1 910.2,356.0 910.6,355.4 911.1,356.0 911.5,356.6 912.0,356.7 912.4,357.0 912.9,356.1 913.3,355.7 913.8,356.9 914.2,356.6 914.7,357.1 915.1,356.6 915.6,357.3 916.0,357.1 916.5,357.1 916.9,357.1 917.4,357.1 917.8,357.1 918.3,357.1 918.7,357.6 919.2,356.9 919.6,358.2 920.1,357.2 920.5,357.9 921.0,357.4 921.4,357.4 921.9,358.7 922.3,357.5 922.8,357.0 923.2,357.4 923.7,357.7 924.1,359.1 924.6,358.1 925.0,358.6 925.5,357.6 925.9,358.4 926.4,358.7 926.8,359.4 926.9,358.0" stroke="#0a0a0a" stroke-width="1.45"/><path d="M110.5,340.1 111.0,341.7 111.4,342.4 111.9,343.0 112.0,343.0 112.3,342.1 112.8,340.6 113.2,338.6 113.5,337.9 113.7,337.9 114.1,339.7 114.6,341.2 115.0,342.2 115.0,342.2 115.5,340.2 115.6,340.1 115.9,360.0 115.9,360.0 116.4,354.4 116.8,341.0 117.3,324.6 117.7,309.4 118.2,300.6 118.3,300.0 118.6,301.0 119.1,303.6 119.1,303.8 119.5,306.0 119.8,307.7 120.0,308.2 120.4,310.4 120.6,312.0 120.9,313.0 121.3,315.1 121.4,315.5 121.8,317.6 122.2,319.4 122.2,319.5 122.7,321.8 123.0,323.3 123.1,324.2 123.6,326.2 123.7,327.5 124.0,328.0 124.5,330.6 124.5,330.8 124.8,343.3 124.9,347.6 125.4,374.4 125.8,403.9 126.3,426.3 126.6,432.4 126.7,432.3 127.2,426.2 127.6,416.9 128.1,405.0 128.5,394.8 128.5,394.6 129.0,386.3 129.4,377.8 129.9,371.9 130.0,370.8 130.3,366.2 130.8,363.5 131.2,360.0 131.7,357.6 132.1,354.4 132.6,353.1 133.0,351.4 133.0,352.4 133.5,351.2 133.9,350.3 134.4,350.0 134.8,349.0 135.3,347.7 135.7,348.4 136.2,347.7 136.6,347.1 137.1,347.3 137.5,347.1 138.0,345.5 138.4,345.4 138.9,346.4 139.3,346.1 139.8,344.7 140.0,344.4 140.2,344.6 140.7,344.4 141.1,343.6 141.6,344.3 142.0,343.4 142.5,343.3 142.9,344.3 143.4,343.3 143.8,343.5 144.3,343.7 144.7,343.7 145.2,342.9 145.6,343.0 146.1,342.4 146.5,343.7 147.0,343.0 147.4,341.9 147.9,342.4 148.3,342.7 148.8,342.4 149.2,343.1 149.7,342.7 150.1,341.6 150.6,341.7 151.0,341.0 151.5,341.7 151.9,341.6 152.4,342.9 152.8,341.3 153.3,340.0 153.7,340.7 154.0,341.1 154.2,340.3 154.6,340.4 155.1,340.5 155.5,340.8 156.0,340.4 156.4,339.9 156.9,340.8 157.3,339.9 157.8,339.8 158.2,339.2 158.7,339.5 159.1,340.2 159.6,338.8 160.0,339.5 160.5,339.9 160.9,339.2 161.4,339.4 161.8,338.6 162.3,339.8 162.7,339.6 163.2,339.0 163.6,337.8 164.1,338.1 164.5,339.1 165.0,339.4 165.4,338.5 165.9,339.0 166.3,337.9 166.8,338.0 167.2,338.0 167.7,338.1 168.1,337.0 168.6,338.3 169.0,338.4 169.5,336.9 169.9,336.7 170.4,337.6 170.8,336.9 171.3,335.9 171.7,337.6 172.2,337.1 172.6,336.7 173.1,338.1 173.5,336.9 174.0,336.3 174.4,336.7 174.9,336.0 175.3,336.1 175.8,336.7 176.2,336.1 176.7,336.1 177.1,337.2 177.6,336.7 178.0,336.6 178.5,336.4 178.9,336.3 179.0,336.8 179.4,335.9 179.8,336.9 180.3,335.3 180.7,335.6 181.2,335.0 181.6,335.5 182.1,335.9 182.5,336.4 183.0,335.1 183.4,335.4 183.9,335.2 184.3,334.9 184.8,334.6 185.2,335.3 185.7,334.2 186.1,335.2 186.6,335.1 187.0,334.6 187.5,334.4 187.9,334.1 188.4,335.9 188.8,334.1 189.3,335.6 189.7,335.0 190.2,334.4 190.6,333.9 191.1,335.1 191.5,335.4 192.0,333.9 192.4,334.2 192.9,334.9 193.3,334.5 193.8,335.3 194.2,333.9 194.7,334.4 195.1,333.4 195.6,335.2 196.0,333.6 196.5,332.7 196.9,333.8 197.4,333.8 197.8,334.9 198.3,333.6 198.7,333.7 199.2,334.0 199.6,334.5 200.1,333.6 200.5,334.1 201.0,333.8 201.4,333.3 201.9,333.5 202.3,333.4 202.8,332.8 203.2,334.0 203.7,332.5 204.1,333.9 204.6,333.7 205.0,333.1 205.5,332.7 205.9,333.0 206.4,333.3 206.8,333.4 207.3,333.2 207.7,333.5 208.2,332.6 208.6,333.0 209.1,332.0 209.5,333.3 210.0,332.9 210.4,332.6 210.9,333.4 211.3,333.1 211.8,331.2 212.2,332.7 212.7,331.9 213.1,333.3 213.6,334.0 214.0,332.3 214.5,332.7 214.9,332.5 215.4,332.8 215.8,332.9 216.3,333.3 216.7,332.0 217.2,333.4 217.6,332.0 218.0,332.7 218.1,333.1 218.5,332.9 219.0,332.0 219.4,332.1 219.9,332.2 220.3,332.4 220.8,333.1 221.2,331.7 221.7,332.7 222.1,332.7 222.6,332.7 223.0,332.6 223.5,333.2 223.9,332.6 224.4,332.8 224.8,332.7 225.3,333.3 225.7,331.3 226.2,333.0 226.6,332.2 227.1,332.2 227.5,331.8 228.0,331.3 228.4,332.1 228.9,331.9 229.3,332.5 229.8,331.5 230.2,333.0 230.7,332.4 231.1,332.1 231.6,331.8 232.0,331.8 232.5,331.6 232.9,331.9 233.4,332.2 233.8,332.1 234.3,331.4 234.7,332.0 235.2,331.7 235.6,332.3 236.1,333.2 236.5,332.5 237.0,332.0 237.4,331.2 237.9,331.4 238.3,331.2 238.8,332.5 239.2,331.7 239.7,332.1 240.1,331.8 240.6,332.2 241.0,332.9 241.5,331.7 241.9,331.9 242.4,331.6 242.8,332.6 243.3,331.5 243.7,331.4 244.2,331.3 244.6,331.3 245.1,332.3 245.5,333.5 246.0,331.5 246.4,332.6 246.9,332.2 247.3,331.4 247.8,331.9 248.2,331.9 248.7,331.6 249.1,333.1 249.6,331.0 250.0,332.2 250.5,332.2 250.9,331.7 251.4,332.1 251.8,332.5 252.3,332.1 252.7,332.2 253.2,332.4 253.6,330.9 254.1,332.8 254.5,333.3 255.0,332.5 255.4,332.6 255.9,331.2 256.3,331.9 256.8,331.6 257.0,331.7 257.2,332.5 257.7,331.6 258.1,331.9 258.6,331.0 259.0,331.9 259.5,332.1 259.9,331.6 260.4,331.7 260.8,333.1 261.3,331.4 261.7,331.5 262.2,331.7 262.6,332.8 263.1,333.3 263.5,332.4 264.0,331.8 264.4,332.0 264.9,332.8 265.3,331.8 265.8,333.1 266.2,333.1 266.7,332.4 267.1,332.7 267.6,332.8 268.0,333.3 268.5,331.9 268.9,333.2 269.4,332.4 269.8,332.2 270.3,332.7 270.7,332.6 271.2,332.2 271.6,331.9 272.1,332.3 272.5,333.7 273.0,334.0 273.4,333.3 273.9,333.6 274.3,332.8 274.8,333.0 275.2,333.3 275.7,332.6 276.1,332.7 276.6,333.3 277.0,333.2 277.5,332.8 277.9,333.6 278.4,333.3 278.8,334.1 279.3,333.6 279.7,333.5 280.2,333.8 280.6,333.7 281.1,333.4 281.5,333.6 282.0,334.3 282.4,334.3 282.9,334.7 283.3,333.1 283.8,333.9 284.2,333.9 284.7,334.3 285.1,334.0 285.6,334.1 286.0,334.8 286.5,334.5 286.9,333.9 287.4,335.3 287.8,335.2 288.3,334.3 288.7,335.2 289.2,334.4 289.6,335.4 290.1,334.7 290.5,334.5 291.0,334.8 291.4,334.6 291.9,335.2 292.3,335.2 292.8,335.2 293.2,334.9 293.7,333.2 294.1,335.4 294.6,334.3 295.0,335.5 295.5,336.1 295.9,335.6 296.0,335.3 296.4,335.4 296.8,335.5 297.3,335.3 297.7,335.3 298.2,335.2 298.6,336.4 299.1,335.8 299.5,336.4 300.0,335.7 300.4,336.0 300.9,335.9 301.3,336.3 301.8,336.5 302.2,336.2 302.7,335.8 303.1,335.8 303.6,337.1 304.0,336.1 304.5,336.2 304.9,337.2 305.4,337.0 305.8,336.7 306.3,336.3 306.7,337.8 307.2,336.8 307.6,336.9 308.1,336.6 308.5,335.9 309.0,336.0 309.4,337.0 309.9,337.1 310.3,336.8 310.8,336.3 311.2,336.2 311.7,336.8 312.1,336.3 312.6,337.6 313.0,337.8 313.5,338.8 313.9,337.7 314.4,337.0 314.8,336.9 315.3,335.5 315.7,337.1 316.2,337.4 316.6,338.1 317.1,337.9 317.5,338.0 318.0,337.8 318.4,338.1 318.9,338.6 319.3,337.2 319.8,337.6 320.2,337.2 320.7,338.9 321.1,338.7 321.6,338.5 322.0,337.5 322.5,338.3 322.9,338.1 323.4,338.3 323.8,338.2 324.3,338.7 324.7,338.2 325.2,339.0 325.6,338.7 326.1,338.4 326.5,338.6 327.0,338.5 327.4,339.2 327.9,338.7 328.3,339.0 328.8,338.7 329.2,338.2 329.7,339.6 330.0,338.5 330.1,339.5 330.6,339.4 331.0,338.3 331.5,338.8 331.9,339.1 332.4,339.0 332.8,338.8 333.3,339.9 333.7,339.5 334.2,339.9 334.6,339.5 335.1,340.0 335.5,339.4 336.0,339.9 336.4,340.3 336.9,340.1 337.3,339.9 337.8,339.6 338.2,340.3 338.7,340.5 339.1,340.2 339.6,340.0 340.0,340.8 340.5,342.0 340.9,340.5 341.4,340.9 341.8,341.0 342.3,339.5 342.7,341.0 343.2,340.6 343.6,341.9 344.1,341.0 344.5,340.8 345.0,341.2 345.4,341.5 345.9,341.2 346.3,341.5 346.8,340.9 347.2,341.6 347.7,342.2 348.1,343.0 348.6,342.3 349.0,342.2 349.5,342.8 349.9,342.8 350.4,343.2 350.8,343.0 351.3,342.4 351.7,342.7 352.2,342.7 352.6,342.9 353.1,342.9 353.5,342.4 354.0,341.8 354.4,342.7 354.9,342.0 355.3,343.2 355.8,343.3 356.2,342.5 356.7,343.8 357.1,344.0 357.6,343.7 358.0,344.7 358.5,344.9 358.9,343.3 359.3,344.6 359.4,344.3 359.8,344.3 360.3,344.7 360.7,343.9 361.2,344.1 361.6,344.0 362.1,344.2 362.5,344.6 363.0,344.0 363.4,344.3 363.9,345.3 364.3,345.0 364.8,345.4 365.2,344.2 365.7,344.9 366.1,345.2 366.6,345.6 367.0,345.4 367.5,346.3 367.9,345.9 368.4,346.0 368.8,346.1 369.3,346.6 369.7,346.1 370.2,347.1 370.6,346.8 371.1,346.8 371.5,346.8 372.0,347.2 372.4,347.6 372.9,347.7 373.3,347.5 373.8,347.9 374.2,347.6 374.7,348.4 375.1,347.8 375.6,346.8 376.0,348.8 376.5,348.3 376.9,347.7 377.4,348.4 377.8,348.1 378.3,349.9 378.7,349.1 378.8,348.0 379.2,349.3 379.6,348.9 380.1,350.3 380.5,348.9 381.0,348.3 381.4,349.8 381.9,349.7 382.3,349.8 382.8,349.0 383.2,350.6 383.7,351.4 384.1,349.6 384.6,351.5 385.0,350.7 385.5,352.5 385.9,351.6 386.4,351.4 386.8,352.3 387.3,352.1 387.7,351.7 388.2,352.6 388.6,352.1 389.1,351.6 389.5,353.9 390.0,352.7 390.4,352.8 390.9,353.5 391.3,352.6 391.8,352.9 392.2,353.6 392.7,353.8 393.1,354.3 393.6,355.1 394.0,354.4 394.5,355.1 394.9,355.4 395.4,354.7 395.8,355.6 396.3,355.2 396.7,356.5 397.2,356.4 397.6,356.3 398.1,355.8 398.4,356.8 398.5,356.3 399.0,357.4 399.4,357.1 399.9,357.0 400.3,358.1 400.8,358.3 401.2,357.8 401.7,359.0 402.1,358.4 402.6,358.6 403.0,359.1 403.5,358.9 403.9,359.3 404.4,359.7 404.8,360.9 405.3,361.1 405.7,360.4 406.2,361.7 406.6,361.0 407.1,361.5 407.5,362.1 408.0,362.0 408.4,363.5 408.9,362.6 409.3,362.1 409.8,363.7 410.2,363.1 410.7,363.4 411.1,362.2 411.6,364.7 412.0,364.9 412.5,365.2 412.9,365.7 413.4,366.4 413.8,365.7 414.3,366.6 414.7,366.0 415.2,366.6 415.6,367.7 416.0,367.6 416.1,366.7 416.5,368.0 417.0,368.1 417.4,368.1 417.9,369.2 418.3,369.1 418.8,368.9 419.2,369.5 419.7,371.6 420.1,370.2 420.6,371.6 421.0,372.2 421.5,372.7 421.9,372.2 422.4,373.1 422.8,373.9 423.3,374.7 423.7,374.4 424.2,374.6 424.6,376.3 425.1,376.8 425.5,376.9 426.0,376.9 426.4,377.9 426.9,378.2 427.3,379.1 427.7,378.4 427.8,379.2 428.2,379.6 428.7,379.5 429.1,380.8 429.6,381.2 430.0,381.4 430.5,382.4 430.9,381.9 431.4,383.2 431.8,384.0 432.3,384.4 432.7,385.4 433.2,384.7 433.6,385.0 434.1,386.5 434.5,387.2 435.0,388.6 435.4,388.4 435.9,388.1 436.3,389.6 436.8,389.2 437.2,389.4 437.7,392.2 438.1,391.5 438.6,392.3 439.0,392.8 439.5,394.1 439.9,393.8 440.4,394.9 440.8,394.2 441.3,394.6 441.7,396.7 442.2,397.3 442.3,397.0 442.6,397.2 443.1,397.8 443.5,397.9 444.0,399.7 444.4,399.9 444.9,400.4 445.3,401.0 445.8,402.0 446.2,402.3 446.7,403.1 447.1,402.7 447.6,404.3 448.0,405.9 448.5,405.0 448.9,405.9 449.4,407.1 449.8,407.8 450.3,408.2 450.7,407.6 451.2,409.4 451.6,409.0 452.1,409.8 452.5,411.1 453.0,411.2 453.4,412.4 453.7,414.0 453.9,412.9 454.3,413.4 454.8,413.0 455.2,413.7 455.7,413.9 456.1,414.7 456.6,414.9 457.0,415.7 457.5,416.4 457.9,416.4 458.4,416.7 458.8,417.2 459.3,418.7 459.7,418.9 460.2,419.9 460.6,420.4 461.1,420.0 461.5,421.1 462.0,420.3 462.4,422.8 462.9,422.7 463.3,422.3 463.8,422.2 464.2,423.5 464.7,422.7 465.1,423.7 465.6,425.0 466.0,425.0 466.5,425.1 466.9,426.3 467.4,425.7 467.8,426.8 468.3,426.8 468.7,427.0 469.2,428.1 469.3,427.5 469.6,429.3 470.1,428.3 470.5,430.2 471.0,428.9 471.4,430.2 471.9,429.6 472.3,429.9 472.8,431.1 473.2,431.8 473.7,431.1 474.1,432.8 474.6,432.1 475.0,433.0 475.5,433.5 475.9,434.0 476.4,433.1 476.8,435.3 477.3,435.1 477.7,434.9 478.2,435.0 478.6,434.9 479.1,435.5 479.5,436.9 480.0,436.8 480.4,436.7 480.9,437.4 481.3,438.9 481.8,438.2 482.2,438.4 482.7,439.8 483.1,439.6 483.6,439.8 484.0,439.7 484.5,439.6 484.9,440.1 485.4,440.8 485.8,441.3 486.3,441.9 486.7,442.4 487.2,442.5 487.6,442.9 488.1,442.5 488.5,442.2 488.8,443.3 489.0,443.2 489.4,443.7 489.9,444.2 490.3,444.0 490.8,444.4 491.2,445.3 491.7,445.7 492.1,445.6 492.6,446.5 493.0,446.5 493.5,446.3 493.9,447.2 494.4,448.6 494.8,447.5 495.3,448.8 495.7,449.2 496.2,449.6 496.6,448.6 497.1,450.5 497.5,449.7 498.0,449.8 498.4,450.1 498.9,450.9 499.3,450.9 499.8,451.1 500.2,452.2 500.7,451.3 501.1,451.4 501.6,452.7 502.0,453.0 502.5,453.5 502.9,452.6 503.4,454.0 503.8,454.0 504.3,454.9 504.7,453.5 505.2,454.6 505.6,454.6 506.1,454.1 506.5,454.9 507.0,456.1 507.4,455.5 507.9,455.6 508.3,456.7 508.4,456.8 508.8,457.0 509.2,456.3 509.7,456.9 510.1,457.8 510.6,457.1 511.0,457.3 511.5,458.4 511.9,459.0 512.4,457.8 512.8,457.2 513.3,458.1 513.7,458.6 514.2,459.3 514.6,459.9 515.1,459.7 515.5,459.7 516.0,460.4 516.4,460.0 516.9,460.7 517.3,460.6 517.8,462.6 518.2,461.8 518.7,461.1 519.1,461.3 519.6,461.8 520.0,461.3 520.5,462.0 520.9,462.2 521.4,463.3 521.8,462.8 522.3,462.8 522.7,462.6 523.2,462.9 523.6,463.7 524.1,463.8 524.5,464.7 525.0,463.9 525.4,464.9 525.9,464.6 526.3,464.6 526.8,463.7 527.2,464.2 527.7,465.4 527.9,465.9 528.1,465.3 528.6,465.7 529.0,465.1 529.5,465.2 529.9,465.1 530.4,466.1 530.8,465.8 531.3,465.6 531.7,465.6 532.2,466.1 532.6,466.1 533.1,465.5 533.5,467.0 534.0,466.2 534.4,466.2 534.9,467.0 535.3,466.9 535.8,466.4 536.2,466.8 536.7,466.1 537.1,466.4 537.6,465.7 537.7,467.7 538.0,466.1 538.5,467.9 538.9,467.6 539.4,468.1 539.8,469.3 540.3,470.3 540.7,471.4 541.2,473.0 541.6,473.1 542.1,474.4 542.5,474.5 543.0,476.1 543.4,476.7 543.5,476.5 543.9,477.5 544.3,478.5 544.8,479.8 545.2,481.1 545.7,481.6 546.1,482.4 546.6,483.8 547.0,482.7 547.0,483.3 547.5,483.7 547.9,479.5 548.4,477.9 548.8,475.5 549.3,470.8 549.7,470.1 550.2,464.7 550.4,465.9 550.6,465.3 551.1,463.4 551.5,461.3 552.0,460.3 552.4,458.3 552.9,458.0 553.3,455.8 553.8,455.3 554.2,455.2 554.7,453.4 555.1,453.3 555.2,453.5 555.6,452.4 556.0,453.4 556.5,452.6 556.9,451.3 557.4,451.8 557.8,451.1 558.3,450.9 558.7,451.0 559.2,450.3 559.6,451.0 560.1,449.9 560.5,450.6 561.0,449.9 561.4,450.2 561.9,449.3 562.3,449.2 562.8,448.7 563.2,449.6 563.7,449.7 564.1,450.3 564.6,449.8 565.0,449.2 565.0,449.0 565.5,449.3 565.9,449.1 566.4,449.9 566.8,449.7 567.3,448.7 567.7,448.8 568.2,450.0 568.6,449.5 569.1,449.2 569.5,450.0 570.0,449.2 570.4,449.3 570.9,449.3 571.3,448.5 571.8,450.2 572.2,449.1 572.7,449.5 573.1,449.5 573.6,450.4 574.0,450.0 574.5,450.2 574.9,449.3 575.4,450.3 575.8,449.6 576.3,450.7 576.7,450.8 577.2,450.7 577.6,451.9 578.1,451.2 578.5,451.3 579.0,451.1 579.4,451.1 579.9,451.8 580.3,451.9 580.6,450.7 580.8,452.0 581.2,451.8 581.7,452.2 582.1,452.0 582.6,451.2 583.0,451.4 583.5,453.2 583.9,452.5 584.4,451.7 584.8,452.9 585.3,452.6 585.7,452.0 586.2,451.9 586.6,452.5 587.1,453.7 587.5,453.7 588.0,453.8 588.4,454.3 588.9,454.7 589.3,453.4 589.8,454.6 590.2,454.5 590.7,454.5 591.1,455.0 591.6,455.5 592.0,455.6 592.5,455.1 592.9,455.8 593.4,457.3 593.8,455.8 594.3,455.6 594.7,456.9 595.2,457.2 595.6,457.2 596.1,456.5 596.5,457.8 597.0,456.9 597.4,456.8 597.9,457.2 598.3,457.5 598.8,458.0 599.2,458.0 599.7,457.7 600.1,458.2 600.2,457.7 600.6,458.2 601.0,456.9 601.5,456.8 601.9,458.1 602.4,456.9 602.8,457.5 603.3,457.6 603.7,457.4 604.2,457.4 604.6,458.4 605.1,456.2 605.5,458.1 606.0,458.8 606.4,457.6 606.9,457.5 607.3,457.9 607.8,458.5 608.2,456.8 608.7,457.5 609.1,457.4 609.6,457.7 610.0,457.5 610.5,457.8 610.9,457.2 611.4,457.4 611.8,457.0 612.3,457.0 612.7,457.3 613.2,457.3 613.6,456.7 614.1,458.2 614.5,457.2 615.0,456.5 615.4,457.9 615.8,456.9 615.9,457.6 616.3,457.3 616.8,457.5 617.2,457.4 617.7,457.1 618.1,457.4 618.6,458.6 619.0,456.3 619.5,457.6 619.9,457.9 620.4,457.1 620.8,457.0 621.3,459.0 621.7,457.7 622.2,459.1 622.6,458.4 623.1,458.2 623.5,458.5 624.0,458.7 624.4,459.1 624.9,458.8 625.3,458.7 625.8,458.8 626.2,459.5 626.7,459.3 627.1,458.4 627.6,458.7 628.0,459.3 628.5,458.9 628.9,459.1 629.4,458.9 629.8,459.3 630.0,459.7 630.3,460.1 630.7,459.6 631.2,460.8 631.6,459.7 632.1,461.6 632.5,460.4 633.0,460.2 633.4,459.7 633.9,458.5 634.3,460.1 634.8,460.3 635.2,461.3 635.7,459.6 636.1,461.5 636.6,460.4 637.0,461.0 637.5,459.2 637.9,460.8 638.4,460.6 638.8,461.2 639.3,460.9 639.7,460.3 640.2,461.6 640.6,461.5 641.1,461.5 641.5,461.8 642.0,461.9 642.4,461.4 642.9,460.7 643.3,460.7 643.8,462.3 644.2,462.0 644.7,461.8 645.1,461.5 645.6,461.8 646.0,461.9 646.5,461.8 646.9,461.6 647.4,463.3 647.8,462.3 648.3,461.9 648.7,461.6 649.2,462.0 649.5,462.8 649.6,462.8 650.1,462.4 650.5,462.6 651.0,462.5 651.4,462.1 651.9,463.5 652.3,463.1 652.8,464.3 653.2,462.6 653.7,463.0 654.1,463.7 654.6,463.1 655.0,462.6 655.5,462.9 655.9,463.6 656.4,463.8 656.8,463.6 657.3,464.3 657.7,464.4 658.2,464.1 658.6,464.0 659.1,463.9 659.5,464.4 660.0,464.6 660.4,464.2 660.9,464.4 661.3,464.1 661.8,463.5 662.2,463.7 662.7,464.7 663.1,464.5 663.2,465.2 663.6,464.3 664.0,464.8 664.5,465.0 664.9,464.8 665.4,463.9 665.8,464.1 666.3,464.2 666.7,463.6 667.2,464.4 667.6,464.6 668.1,463.7 668.5,465.0 669.0,463.7 669.4,463.7 669.9,463.6 670.3,463.3 670.8,463.8 671.2,463.5 671.7,464.4 672.1,463.7 672.6,463.6 673.0,463.1 673.5,462.3 673.9,463.0 674.4,462.5 674.8,463.3 675.3,462.7 675.7,463.5 676.2,462.9 676.6,462.9 677.1,462.4 677.5,462.3 678.0,462.5 678.4,462.5 678.9,461.5 679.3,462.1 679.8,463.1 680.2,461.5 680.7,461.3 681.1,461.0 681.6,460.5 682.0,461.8 682.5,461.1 682.9,461.1 683.4,461.9 683.8,462.1 684.3,460.2 684.7,461.1 685.2,460.8 685.6,460.6 686.1,460.5 686.5,460.2 687.0,461.0 687.4,460.4 687.9,460.1 688.3,460.5 688.6,460.3 688.8,460.0 689.2,459.9 689.7,460.6 690.1,459.8 690.6,459.4 691.0,458.9 691.5,459.1 691.9,458.7 692.4,459.2 692.8,459.2 693.3,457.9 693.7,458.9 694.2,459.2 694.6,458.9 695.1,458.2 695.5,459.3 696.0,458.2 696.4,457.8 696.9,457.8 697.3,458.3 697.8,458.8 698.2,458.8 698.7,458.2 699.1,457.3 699.6,457.6 700.0,457.3 700.5,457.7 700.9,456.7 701.4,457.7 701.8,457.9 702.3,457.4 702.7,457.6 703.2,456.8 703.6,456.4 704.1,456.8 704.5,457.7 705.0,457.5 705.4,456.7 705.9,457.5 706.3,456.6 706.8,457.5 707.2,456.9 707.7,456.3 708.1,456.9 708.6,455.9 709.0,455.8 709.5,455.4 709.9,456.3 710.4,456.0 710.8,456.0 711.3,455.7 711.7,456.6 712.2,455.5 712.6,455.3 713.1,456.3 713.5,456.3 714.0,455.7 714.4,454.5 714.9,455.0 715.3,455.6 715.8,455.2 716.2,456.0 716.7,454.3 717.1,455.4 717.6,454.6 718.0,455.6 718.5,454.8 718.9,455.3 719.4,454.3 719.8,453.8 720.3,453.9 720.7,454.2 721.2,453.9 721.6,455.0 722.1,455.0 722.5,454.4 723.0,453.6 723.4,454.1 723.9,453.7 724.3,454.8 724.8,454.1 725.2,454.2 725.7,453.6 726.1,452.7 726.6,453.3 727.0,453.1 727.5,453.8 727.7,453.7 727.9,453.1 728.4,453.3 728.8,454.3 729.3,452.9 729.7,452.9 730.2,453.2 730.6,452.9 731.1,453.0 731.5,453.5 732.0,454.1 732.4,452.1 732.9,453.0 733.3,453.0 733.8,452.9 734.2,452.8 734.7,452.6 735.1,453.3 735.6,452.5 736.0,452.6 736.5,452.6 736.9,452.6 737.4,452.4 737.8,453.0 738.3,452.4 738.7,452.5 739.2,452.3 739.6,451.7 740.1,451.8 740.5,451.6 741.0,452.3 741.4,451.7 741.9,451.5 742.3,452.2 742.8,452.3 743.2,451.0 743.7,452.8 744.1,451.9 744.6,451.7 745.0,452.3 745.5,451.8 745.9,451.3 746.4,452.8 746.8,451.0 747.3,451.5 747.7,452.0 748.2,450.9 748.6,451.4 749.1,451.6 749.5,452.7 750.0,450.8 750.4,451.2 750.9,451.6 751.3,451.2 751.8,450.5 752.2,451.3 752.7,451.1 753.1,451.3 753.6,451.6 754.0,451.5 754.5,451.2 754.9,451.1 755.4,450.3 755.8,450.7 756.3,450.9 756.7,450.5 757.2,450.8 757.6,450.2 758.1,451.5 758.5,451.8 759.0,450.4 759.4,450.8 759.9,450.4 760.3,451.2 760.8,450.7 761.2,450.5 761.7,450.3 762.1,450.4 762.6,449.8 763.0,450.7 763.5,449.9 763.9,450.6 764.4,450.3 764.8,450.8 765.3,450.2 765.7,450.7 766.2,449.6 766.6,450.4 766.7,450.0 767.1,450.2 767.5,450.1 768.0,450.5 768.4,448.9 768.9,450.2 769.3,449.1 769.8,450.6 770.2,448.8 770.7,449.3 771.1,448.9 771.6,450.7 772.0,449.1 772.5,449.8 772.9,449.5 773.4,448.7 773.8,449.5 774.3,450.0 774.7,449.6 775.2,450.2 775.6,449.4 776.1,449.6 776.5,449.4 777.0,449.7 777.4,450.6 777.9,449.7 778.3,449.6 778.8,449.1 779.2,449.0 779.7,450.2 780.1,448.8 780.6,448.9 781.0,449.3 781.5,449.1 781.9,450.4 782.4,448.0 782.8,449.5 783.3,449.7 783.7,448.7 784.2,449.0 784.6,449.5 785.1,450.2 785.5,448.8 786.0,448.4 786.2,449.8 786.4,450.1 786.9,449.1 787.3,448.1 787.8,450.1 788.2,449.2 788.7,449.9 789.1,449.3 789.6,449.1 790.0,449.1 790.5,450.1 790.9,450.1 791.4,448.1 791.8,448.8 792.3,450.3 792.7,449.1 793.2,448.6 793.6,449.3 794.1,449.3 794.5,449.3 795.0,449.1 795.4,449.2 795.9,449.1 796.3,449.5 796.8,448.9 797.2,449.2 797.7,449.3 798.1,450.1 798.6,449.5 799.0,449.3 799.5,449.6 799.9,449.6 800.4,450.0 800.8,449.6 801.3,450.3 801.7,450.1 802.2,449.3 802.6,449.1 803.1,449.9 803.5,449.7 804.0,449.3 804.4,448.6 804.9,448.4 805.3,449.6 805.8,449.8 806.2,449.8 806.7,448.7 807.1,450.0 807.6,449.1 808.0,449.6 808.5,449.7 808.9,449.0 809.4,449.1 809.8,448.3 810.3,448.9 810.7,448.5 811.2,449.7 811.6,449.5 812.1,450.0 812.5,449.7 813.0,449.1 813.4,449.7 813.8,449.3 813.9,449.8 814.3,449.7 814.8,449.0 815.2,449.5 815.7,449.6 816.1,449.4 816.6,450.1 817.0,450.6 817.5,449.5 817.9,449.5 818.4,448.5 818.8,449.7 819.3,449.6 819.7,448.7 820.2,450.1 820.6,450.3 821.1,449.6 821.5,449.9 822.0,449.6 822.4,450.6 822.9,449.5 823.3,450.2 823.8,451.5 824.2,450.5 824.7,450.8 825.1,450.6 825.6,450.1 826.0,450.8 826.5,451.1 826.9,450.4 827.4,451.3 827.8,451.8 828.3,451.8 828.7,450.5 829.2,450.9 829.6,450.6 830.1,452.2 830.5,452.0 831.0,452.2 831.4,451.4 831.9,451.4 832.3,452.1 832.8,452.3 833.2,451.8 833.7,452.5 834.1,452.9 834.5,452.7 834.6,452.0 835.0,451.6 835.5,452.7 835.9,453.1 836.4,453.0 836.8,453.1 837.3,453.1 837.7,454.0 838.2,453.8 838.6,454.1 839.1,453.7 839.5,454.1 840.0,454.7 840.4,454.3 840.9,454.4 841.3,455.1 841.8,456.2 842.2,455.9 842.7,456.8 843.1,456.2 843.6,456.3 844.0,456.0 844.5,456.7 844.9,458.0 845.4,457.7 845.8,458.1 846.3,458.3 846.7,458.2 847.2,458.3 847.6,458.7 848.1,459.2 848.5,459.3 849.0,459.6 849.4,459.6 849.9,459.3 850.3,459.7 850.8,459.5 851.2,460.7 851.7,459.2 851.8,460.3 852.1,461.8 852.6,460.5 853.0,460.2 853.5,460.9 853.9,461.8 854.4,461.1 854.8,461.7 855.3,461.5 855.7,461.4 856.2,463.5 856.6,461.9 857.1,461.7 857.5,461.8 858.0,462.4 858.4,462.6 858.9,462.9 859.3,462.7 859.8,461.9 860.2,463.1 860.7,462.7 861.1,462.9 861.6,462.3 862.0,462.9 862.5,463.0 862.9,463.4 863.4,462.8 863.8,463.7 864.3,463.8 864.7,463.2 865.2,463.6 865.6,463.6 866.1,464.6 866.5,462.8 867.0,464.1 867.4,463.5 867.9,464.3 868.3,465.0 868.8,464.3 869.0,464.8 869.2,464.3 869.7,465.9 870.1,465.4 870.6,465.6 871.0,464.3 871.5,464.5 871.9,465.8 872.4,465.1 872.8,465.2 873.3,465.6 873.7,464.8 874.2,465.9 874.6,465.6 875.1,465.9 875.5,465.3 876.0,466.1 876.4,465.4 876.9,466.4 877.3,466.6 877.8,466.5 878.2,466.4 878.7,466.5 879.1,464.7 879.6,466.7 880.0,466.1 880.5,466.4 880.9,466.3 881.4,465.7 881.8,466.2 882.3,466.9 882.7,467.4 883.2,466.3 883.6,466.3 884.1,467.6 884.5,466.4 885.0,468.1 885.4,467.0 885.9,466.6 886.3,467.6 886.3,468.0 886.8,466.4 887.2,468.1 887.7,467.1 888.1,468.2 888.6,467.2 889.0,466.6 889.5,467.9 889.9,468.2 890.4,468.9 890.8,468.8 891.3,468.3 891.7,467.8 892.2,467.8 892.6,468.0 893.1,467.8 893.5,468.1 894.0,467.0 894.4,468.5 894.9,468.5 895.3,470.0 895.8,469.0 896.2,468.4 896.7,469.0 897.1,468.1 897.6,468.5 898.0,467.8 898.5,469.6 898.9,469.2 899.4,468.2 899.8,468.9 900.1,469.4 900.3,469.2 900.7,469.1 901.2,468.4 901.6,468.5 902.1,468.9 902.5,469.3 903.0,468.3 903.4,468.1 903.9,469.3 904.3,468.1 904.8,469.2 905.2,468.6 905.7,468.9 906.1,469.4 906.6,468.7 907.0,468.7 907.5,467.7 907.9,467.8 908.4,468.4 908.8,468.9 909.3,468.7 909.7,469.2 910.2,468.0 910.6,467.9 911.1,468.3 911.5,467.8 912.0,467.7 912.2,467.1 912.4,468.2 912.9,467.1 913.3,467.9 913.8,466.8 914.2,468.2 914.7,467.0 915.1,468.0 915.6,466.6 916.0,467.2 916.5,468.1 916.9,467.0 917.4,467.5 917.8,467.1 918.3,466.1 918.7,467.5 919.2,467.6 919.6,466.7 920.1,467.6 920.5,466.8 921.0,466.7 921.4,467.2 921.9,466.8 922.3,468.5 922.8,466.3 923.2,467.6 923.7,467.7 924.1,466.1 924.6,466.2 925.0,467.4 925.5,466.9 925.9,467.3 926.4,467.7 926.8,466.9 926.9,466.5" stroke="#fb22dc" stroke-width="1.7"/><path d="M110.5,330.5 111.0,332.7 111.4,333.5 111.9,334.0 112.0,334.0 112.3,333.3 112.8,331.8 113.2,329.7 113.5,329.1 113.7,328.9 114.1,330.3 114.6,332.0 115.0,332.9 115.0,332.8 115.5,331.4 115.6,331.0 115.9,345.1 115.9,344.9 116.4,332.1 116.8,303.0 117.3,273.7 117.7,260.9 117.7,261.0 118.2,264.4 118.5,268.8 118.6,269.3 119.1,273.4 119.4,276.9 119.5,277.6 120.0,281.7 120.2,284.5 120.4,286.1 120.9,290.1 121.1,292.2 121.3,294.5 121.8,298.4 122.0,300.4 122.2,302.8 122.7,307.1 122.8,308.4 123.1,310.9 123.6,315.2 123.7,315.9 124.0,319.0 124.5,323.3 124.5,324.2 124.8,335.9 124.9,340.5 125.4,369.4 125.8,400.7 126.3,425.0 126.6,432.0 126.7,431.9 127.2,427.3 127.6,416.9 128.1,407.7 128.5,397.7 128.5,397.7 129.0,391.3 129.4,383.4 129.9,376.5 130.0,374.0 130.3,372.1 130.8,367.9 131.2,363.5 131.7,359.3 132.1,356.6 132.6,354.2 133.0,353.8 133.0,354.2 133.5,353.6 133.9,352.1 134.4,352.1 134.8,351.8 135.3,350.8 135.7,350.6 136.2,351.5 136.6,350.1 137.1,350.2 137.5,349.3 138.0,349.3 138.4,348.1 138.9,348.9 139.3,349.4 139.8,349.7 140.0,349.1 140.2,348.7 140.7,348.2 141.1,347.6 141.6,347.7 142.0,348.0 142.5,347.0 142.9,347.8 143.4,346.6 143.8,346.1 144.3,346.4 144.7,345.9 145.2,345.9 145.6,347.2 146.1,346.3 146.5,346.5 147.0,346.9 147.4,346.8 147.9,345.8 148.3,346.7 148.8,346.0 149.2,345.7 149.7,345.9 150.1,344.7 150.6,345.0 151.0,345.2 151.5,345.5 151.9,344.9 152.4,344.9 152.8,345.4 153.3,345.5 153.7,345.0 154.0,345.2 154.2,344.2 154.6,344.1 155.1,344.3 155.5,343.8 156.0,343.6 156.4,344.6 156.9,343.4 157.3,342.8 157.8,343.5 158.2,344.1 158.7,343.0 159.1,343.5 159.5,342.5 159.6,342.4 160.0,342.2 160.5,342.4 160.9,343.4 161.4,341.6 161.8,343.0 162.3,341.4 162.7,341.8 163.2,342.2 163.6,342.0 164.1,341.7 164.5,340.6 165.0,341.6 165.4,340.7 165.9,342.6 166.3,340.9 166.8,341.1 167.2,340.2 167.7,340.5 168.1,339.9 168.6,341.1 169.0,340.3 169.5,340.7 169.9,339.9 170.4,339.9 170.8,340.8 171.3,339.5 171.7,339.0 172.2,340.1 172.6,339.1 173.1,339.5 173.5,340.1 174.0,339.1 174.4,340.0 174.9,339.0 175.3,340.1 175.8,340.0 176.2,338.9 176.7,339.0 177.1,338.6 177.6,339.1 178.0,339.6 178.5,338.1 178.9,339.3 179.0,338.1 179.4,338.3 179.8,337.7 180.3,339.8 180.7,338.6 181.2,338.7 181.6,338.1 182.1,339.0 182.5,337.2 183.0,338.3 183.4,339.5 183.9,338.0 184.3,338.2 184.8,338.5 185.2,337.6 185.7,338.0 186.1,338.5 186.6,338.0 187.0,338.1 187.5,337.6 187.9,337.9 188.4,337.7 188.8,338.5 189.3,338.0 189.7,337.4 190.2,336.2 190.6,337.9 191.1,337.8 191.5,336.9 192.0,336.2 192.4,336.7 192.9,337.8 193.3,336.6 193.8,336.9 194.2,337.2 194.7,337.8 195.1,337.0 195.6,336.9 196.0,336.7 196.5,337.8 196.9,337.5 197.4,336.8 197.8,336.0 198.3,336.3 198.7,337.0 199.2,336.3 199.6,337.1 200.1,336.8 200.5,336.7 201.0,336.9 201.4,336.8 201.9,336.0 202.3,336.2 202.8,337.7 203.2,335.7 203.7,336.1 204.1,336.9 204.6,336.2 205.0,335.8 205.5,335.5 205.9,336.5 206.4,336.7 206.8,336.9 207.3,336.1 207.7,336.6 208.2,335.4 208.6,336.1 209.1,335.6 209.5,336.0 210.0,336.3 210.4,336.5 210.9,335.3 211.3,336.5 211.8,335.5 212.2,335.2 212.7,335.7 213.1,334.9 213.6,335.7 214.0,335.8 214.5,335.5 214.9,335.9 215.4,335.4 215.8,335.6 216.3,334.8 216.7,335.6 217.2,335.1 217.6,335.3 218.0,335.4 218.1,335.6 218.5,334.6 219.0,334.6 219.4,335.3 219.9,335.7 220.3,335.6 220.8,335.9 221.2,336.1 221.7,335.6 222.1,335.3 222.6,334.8 223.0,334.8 223.5,335.0 223.9,335.4 224.4,335.4 224.8,335.2 225.3,335.1 225.7,335.6 226.2,335.3 226.6,335.3 227.1,335.3 227.5,334.8 228.0,334.6 228.4,335.4 228.9,335.3 229.3,335.0 229.8,334.8 230.2,336.3 230.7,334.6 231.1,334.9 231.6,335.1 232.0,334.3 232.5,335.0 232.9,335.9 233.4,335.4 233.8,335.3 234.3,335.2 234.7,335.0 235.2,335.4 235.6,334.8 236.1,334.6 236.5,334.9 237.0,335.3 237.4,335.0 237.9,335.2 238.3,333.7 238.8,335.4 239.2,336.0 239.7,335.5 240.1,334.6 240.6,334.3 241.0,334.9 241.5,334.2 241.9,335.1 242.4,334.4 242.8,335.2 243.3,335.4 243.7,333.5 244.2,334.8 244.6,334.2 245.1,333.8 245.5,334.3 246.0,334.5 246.4,335.2 246.9,333.8 247.3,335.2 247.8,335.7 248.2,334.9 248.7,334.9 249.1,334.5 249.6,333.9 250.0,334.8 250.5,334.8 250.9,334.9 251.4,335.9 251.8,334.9 252.3,334.8 252.7,335.4 253.2,333.8 253.6,333.9 254.1,334.3 254.5,334.1 255.0,334.9 255.4,334.3 255.9,335.5 256.3,335.3 256.8,334.9 257.0,334.3 257.2,334.8 257.7,334.9 258.1,333.9 258.6,334.7 259.0,334.9 259.5,334.6 259.9,335.4 260.4,335.2 260.8,334.1 261.3,334.6 261.7,334.1 262.2,334.9 262.6,334.1 263.1,335.1 263.5,334.8 264.0,335.1 264.4,334.5 264.9,333.8 265.3,335.6 265.8,334.6 266.2,335.4 266.7,334.9 267.1,335.1 267.6,335.7 268.0,334.9 268.5,335.5 268.9,334.0 269.4,335.3 269.8,334.7 270.3,334.8 270.7,334.9 271.2,335.1 271.6,335.8 272.1,333.9 272.5,335.0 273.0,334.6 273.4,335.7 273.9,334.8 274.3,335.3 274.8,334.9 275.2,335.5 275.7,335.7 276.1,335.0 276.6,335.2 277.0,334.5 277.5,335.4 277.9,335.8 278.4,335.0 278.8,336.0 279.3,334.3 279.7,334.4 280.2,334.7 280.6,335.2 281.1,335.6 281.5,335.5 282.0,335.6 282.4,336.1 282.9,335.4 283.3,335.0 283.8,335.1 284.2,337.0 284.7,334.5 285.1,335.8 285.6,336.7 286.0,336.2 286.5,335.5 286.9,336.0 287.4,336.6 287.8,336.8 288.3,335.7 288.7,336.6 289.2,336.4 289.6,336.9 290.1,337.1 290.5,336.2 291.0,335.6 291.4,336.7 291.9,337.5 292.3,336.9 292.8,336.7 293.2,337.9 293.7,336.1 294.1,337.2 294.6,336.4 295.0,336.8 295.5,336.9 295.9,337.7 296.0,336.4 296.4,336.6 296.8,336.1 297.3,337.3 297.7,336.8 298.2,337.4 298.6,336.6 299.1,337.1 299.5,337.9 300.0,337.3 300.4,337.8 300.9,337.9 301.3,337.4 301.8,336.9 302.2,338.3 302.7,338.0 303.1,338.5 303.6,337.0 304.0,337.2 304.5,337.1 304.9,337.8 305.4,339.0 305.8,338.8 306.3,338.6 306.7,338.8 307.2,339.2 307.6,338.8 308.1,339.2 308.5,339.2 309.0,338.0 309.4,339.1 309.9,340.2 310.3,339.3 310.8,339.6 311.2,339.4 311.7,339.6 312.1,340.6 312.6,339.9 313.0,339.6 313.5,338.6 313.9,340.1 314.4,339.4 314.8,339.6 315.3,341.1 315.7,341.2 315.8,339.7 316.2,341.3 316.6,341.2 317.1,340.7 317.5,341.6 318.0,340.4 318.4,340.8 318.9,340.8 319.3,341.1 319.8,342.3 320.2,341.2 320.7,341.5 321.1,341.7 321.6,342.5 322.0,342.3 322.5,343.1 322.9,342.4 323.4,342.2 323.8,342.7 324.3,343.1 324.7,342.7 325.2,343.5 325.6,344.5 326.1,343.3 326.5,343.7 327.0,344.6 327.4,343.6 327.9,343.5 328.3,343.5 328.8,344.4 329.2,344.5 329.7,344.3 330.0,344.4 330.1,345.1 330.6,344.9 331.0,343.8 331.5,344.6 331.9,344.7 332.4,345.1 332.8,344.6 333.3,344.5 333.7,344.6 334.2,344.0 334.6,345.0 335.1,344.7 335.5,345.3 336.0,344.6 336.4,345.0 336.9,344.7 337.3,344.7 337.8,345.7 338.2,345.1 338.7,345.7 339.1,344.9 339.6,345.6 340.0,344.6 340.5,345.3 340.9,345.4 341.4,346.0 341.8,345.8 342.3,345.7 342.7,346.3 343.2,346.0 343.6,346.2 344.1,346.4 344.5,345.9 345.0,345.8 345.4,346.2 345.9,345.9 346.3,346.3 346.8,346.8 347.2,346.7 347.7,346.0 348.1,345.6 348.6,346.3 349.0,346.3 349.5,347.0 349.9,346.2 350.4,346.3 350.8,346.9 351.3,346.2 351.7,346.4 352.2,347.5 352.6,347.4 353.1,347.0 353.5,346.8 354.0,346.2 354.4,347.0 354.9,346.8 355.3,346.9 355.8,346.5 356.2,346.8 356.7,346.8 357.1,347.1 357.6,347.7 358.0,347.2 358.5,346.1 358.9,346.5 359.4,346.2 359.8,346.7 360.3,347.5 360.7,347.4 361.2,346.9 361.6,347.4 362.1,346.9 362.5,346.5 363.0,346.6 363.4,346.9 363.9,348.2 364.3,346.7 364.8,348.2 365.2,348.3 365.7,347.5 366.1,347.6 366.6,347.3 367.0,347.7 367.5,348.1 367.9,347.8 368.4,348.4 368.8,348.5 369.0,348.1 369.3,348.1 369.7,347.9 370.2,348.2 370.6,347.4 371.1,348.3 371.5,348.2 372.0,347.7 372.4,349.4 372.9,347.7 373.3,347.8 373.8,348.5 374.2,347.3 374.7,348.0 375.1,347.6 375.6,348.0 376.0,348.5 376.5,348.8 376.9,349.3 377.4,349.1 377.8,349.4 378.3,349.1 378.7,348.6 379.2,349.5 379.6,348.7 380.1,348.6 380.5,349.9 381.0,349.5 381.4,349.2 381.9,349.6 382.3,349.7 382.8,348.5 383.2,349.2 383.7,348.7 384.1,349.4 384.6,349.0 385.0,350.2 385.5,349.8 385.9,349.1 386.4,349.6 386.8,349.0 387.3,349.7 387.7,350.0 388.2,349.9 388.6,348.7 388.6,349.6 389.1,350.1 389.5,350.0 390.0,350.5 390.4,349.2 390.9,350.2 391.3,349.6 391.8,350.1 392.2,350.3 392.7,350.5 393.1,349.8 393.6,350.3 394.0,349.6 394.5,349.5 394.9,350.6 395.4,350.3 395.8,349.5 396.3,350.0 396.7,350.5 397.2,351.4 397.6,351.1 398.1,351.0 398.5,349.7 399.0,350.6 399.4,351.0 399.9,351.0 400.3,351.0 400.8,350.7 401.2,351.8 401.7,351.7 402.1,350.9 402.6,350.4 403.0,352.1 403.5,350.7 403.9,351.7 404.4,352.2 404.8,350.6 405.3,351.3 405.7,351.0 406.2,351.5 406.6,351.4 407.1,352.3 407.5,351.6 408.0,351.3 408.4,351.9 408.9,351.2 409.3,351.1 409.8,352.6 410.2,350.9 410.7,351.1 411.1,351.4 411.6,350.8 412.0,350.2 412.0,351.9 412.5,350.9 412.9,351.1 413.4,351.2 413.8,350.8 414.3,350.7 414.7,351.4 415.2,352.6 415.6,351.7 416.1,351.7 416.5,350.4 417.0,351.2 417.4,350.6 417.9,351.6 418.3,351.0 418.8,351.1 419.2,351.0 419.7,350.7 420.1,350.2 420.6,351.3 421.0,350.2 421.5,350.3 421.9,350.7 422.4,350.4 422.8,350.9 423.3,351.3 423.7,350.8 424.2,350.8 424.6,350.6 425.1,351.0 425.5,349.5 426.0,350.7 426.4,349.9 426.9,349.7 427.3,350.3 427.8,350.0 428.2,350.5 428.7,350.7 429.1,348.8 429.6,350.0 430.0,351.0 430.5,350.4 430.9,350.7 431.4,349.9 431.6,349.0 431.8,349.1 432.3,350.1 432.7,350.1 433.2,349.1 433.6,349.3 434.1,349.5 434.5,348.4 435.0,349.0 435.4,350.0 435.9,350.3 436.3,348.9 436.8,349.9 437.2,348.5 437.7,348.2 438.1,347.3 438.6,349.0 439.0,348.1 439.5,349.5 439.9,348.3 440.4,348.1 440.8,346.9 441.3,348.5 441.7,347.4 442.2,347.4 442.6,346.1 443.1,347.7 443.5,347.6 444.0,346.6 444.4,346.8 444.9,346.9 445.3,347.0 445.8,346.4 446.2,347.1 446.7,345.9 447.1,345.6 447.2,345.6 447.6,344.4 448.0,345.1 448.5,346.0 448.9,345.4 449.4,344.6 449.8,345.1 450.3,343.6 450.7,344.4 451.2,344.6 451.6,344.5 452.1,343.5 452.5,344.2 453.0,344.5 453.4,343.0 453.9,343.5 454.3,342.0 454.8,341.5 455.2,342.7 455.7,342.2 456.1,342.0 456.6,341.3 457.0,341.2 457.5,341.6 457.9,341.8 458.4,340.5 458.8,339.5 459.3,340.8 459.7,340.2 460.2,340.0 460.6,339.5 461.1,340.4 461.5,338.9 462.0,338.9 462.4,337.3 462.8,337.8 462.9,337.7 463.3,337.8 463.8,337.7 464.2,336.8 464.7,337.9 465.1,336.0 465.6,336.1 466.0,336.1 466.5,335.0 466.9,335.7 467.4,335.4 467.8,334.6 468.3,335.4 468.7,334.1 469.2,333.9 469.6,332.8 470.1,332.1 470.5,332.4 471.0,332.2 471.4,331.8 471.9,332.1 472.3,330.0 472.8,330.4 473.2,329.7 473.7,331.1 474.1,329.7 474.6,329.4 475.0,328.8 475.5,329.6 475.9,328.5 476.4,328.6 476.5,327.3 476.8,328.8 477.3,328.1 477.7,327.9 478.2,328.0 478.6,326.9 479.1,326.6 479.5,326.8 480.0,326.4 480.4,325.7 480.9,325.6 481.3,325.0 481.8,325.4 482.2,325.2 482.7,324.4 483.1,325.2 483.6,323.0 484.0,323.5 484.5,324.3 484.9,322.8 485.4,321.9 485.8,323.2 486.3,322.5 486.7,321.3 487.2,322.1 487.6,320.8 488.1,320.4 488.5,320.8 489.0,320.3 489.4,319.7 489.9,319.9 490.3,319.2 490.8,319.6 491.2,319.3 491.7,319.4 492.1,318.5 492.6,317.8 493.0,317.5 493.5,317.9 493.9,318.6 494.4,318.0 494.8,316.9 495.3,317.5 495.7,316.1 496.0,317.1 496.2,316.3 496.6,316.7 497.1,316.3 497.5,315.6 498.0,315.7 498.4,314.7 498.9,315.0 499.3,315.4 499.8,316.8 500.2,314.7 500.7,314.1 501.1,313.2 501.6,314.1 502.0,312.4 502.5,312.6 502.9,313.0 503.4,311.9 503.8,313.2 504.3,312.7 504.7,311.5 505.2,311.3 505.6,310.7 506.1,310.4 506.5,311.2 507.0,311.0 507.4,310.7 507.9,310.4 508.3,309.7 508.8,310.0 509.2,308.8 509.7,309.4 510.1,310.0 510.6,309.7 511.0,308.5 511.5,308.4 511.9,309.1 512.4,309.1 512.8,307.1 513.3,307.5 513.7,307.7 514.2,308.1 514.6,306.8 515.1,307.4 515.5,306.7 515.5,308.2 516.0,306.9 516.4,306.5 516.9,306.2 517.3,306.8 517.8,306.4 518.2,305.2 518.7,305.8 519.1,304.7 519.6,304.8 520.0,304.4 520.5,304.2 520.9,304.3 521.4,304.0 521.8,304.6 522.3,304.6 522.7,303.9 523.2,303.2 523.6,304.1 524.1,302.4 524.5,302.2 525.0,303.6 525.4,303.4 525.9,303.4 526.3,302.6 526.8,301.9 527.2,302.1 527.7,302.6 528.1,301.8 528.6,301.7 529.0,301.2 529.5,301.2 529.9,302.2 530.4,301.9 530.8,301.0 531.3,300.9 531.7,301.2 532.2,301.7 532.6,300.8 533.1,301.3 533.5,300.2 533.8,300.7 534.0,301.6 534.4,301.9 534.9,300.8 535.3,301.0 535.8,301.9 536.2,301.3 536.7,301.2 537.1,301.9 537.6,301.7 538.0,302.3 538.5,302.2 538.9,301.5 539.4,301.9 539.8,302.0 540.3,301.4 540.7,301.7 541.2,302.9 541.6,301.6 542.1,303.1 542.5,302.9 543.0,302.8 543.4,303.4 543.9,303.5 544.3,304.1 544.8,303.4 545.2,303.7 545.7,303.9 546.1,305.2 546.6,305.0 547.0,304.2 547.4,304.7 547.5,304.5 547.9,305.4 548.4,306.2 548.8,308.3 549.3,307.2 549.7,310.1 550.2,311.1 550.6,312.0 551.1,313.8 551.3,314.4 551.5,315.4 552.0,317.8 552.4,318.6 552.9,322.5 553.3,324.0 553.8,327.4 554.2,329.0 554.7,331.3 555.1,332.4 555.2,332.9 555.6,333.1 556.0,333.6 556.5,335.4 556.9,336.3 557.4,338.0 557.8,336.5 558.3,338.3 558.7,339.7 559.2,339.1 559.6,340.3 560.1,342.1 560.5,342.1 561.0,341.1 561.4,342.6 561.9,342.6 562.1,342.4 562.3,342.2 562.8,342.0 563.2,341.3 563.7,341.3 564.1,341.8 564.6,341.1 565.0,341.8 565.5,340.2 565.9,338.7 566.4,339.4 566.8,339.3 567.3,338.9 567.7,338.3 568.2,337.3 568.6,338.1 569.1,336.5 569.5,336.8 570.0,335.8 570.4,334.9 570.9,336.0 570.9,333.8 571.3,334.4 571.8,334.8 572.2,333.9 572.7,334.2 573.1,333.3 573.6,332.7 574.0,333.8 574.5,332.1 574.9,331.7 575.4,330.8 575.8,330.6 576.3,331.0 576.7,330.5 577.2,329.8 577.6,329.1 578.1,329.5 578.5,327.8 579.0,328.2 579.4,327.9 579.9,327.3 580.3,327.6 580.8,326.9 581.2,326.5 581.7,327.8 582.1,327.0 582.6,327.1 582.6,326.4 583.0,326.8 583.5,326.5 583.9,326.6 584.4,327.1 584.8,325.6 585.3,325.7 585.7,325.4 586.2,323.4 586.6,324.5 587.1,325.1 587.5,325.4 588.0,324.6 588.4,325.4 588.9,325.4 589.3,324.4 589.8,325.3 590.2,325.4 590.7,324.6 591.1,323.8 591.6,325.0 592.0,324.1 592.5,323.9 592.9,324.1 593.4,323.6 593.8,324.4 594.3,324.2 594.7,324.4 595.2,324.0 595.6,323.2 596.1,323.4 596.3,324.0 596.5,323.2 597.0,325.0 597.4,323.2 597.9,323.0 598.3,323.9 598.8,323.6 599.2,323.1 599.7,322.9 600.1,323.2 600.6,323.4 601.0,323.3 601.5,322.6 601.9,323.0 602.4,323.2 602.8,323.1 603.3,320.9 603.7,322.1 604.2,322.1 604.6,322.4 605.1,322.6 605.5,323.0 606.0,322.8 606.0,322.4 606.4,322.5 606.9,323.5 607.3,322.2 607.8,322.8 608.2,323.6 608.7,323.0 609.1,321.8 609.6,323.2 610.0,323.0 610.5,323.3 610.9,324.1 611.4,323.9 611.8,323.7 612.3,324.5 612.7,324.4 613.2,324.4 613.6,324.8 614.1,324.9 614.5,324.8 615.0,325.0 615.4,325.5 615.9,325.1 616.3,325.2 616.8,326.8 617.2,326.2 617.7,326.5 618.1,326.6 618.6,326.9 619.0,327.1 619.5,327.3 619.7,327.0 619.9,328.0 620.4,327.3 620.8,328.4 621.3,327.0 621.7,327.7 622.2,329.1 622.6,328.7 623.1,328.6 623.5,329.4 624.0,328.9 624.4,329.7 624.9,328.7 625.3,329.9 625.8,330.0 626.2,330.9 626.7,331.3 627.1,330.6 627.6,332.1 628.0,331.1 628.5,330.5 628.9,330.5 629.4,332.8 629.8,332.0 630.0,331.7 630.3,331.8 630.7,331.7 631.2,333.1 631.6,332.4 632.1,333.6 632.5,332.6 633.0,331.5 633.4,333.3 633.9,332.8 634.3,332.9 634.8,334.0 635.2,333.1 635.7,334.0 636.1,333.4 636.6,333.1 637.0,333.8 637.5,333.3 637.9,334.4 638.4,334.3 638.8,333.9 639.3,334.2 639.7,334.3 640.2,333.9 640.6,334.6 641.1,334.0 641.5,334.6 642.0,333.8 642.4,334.4 642.9,334.6 643.3,334.0 643.8,334.3 644.2,334.3 644.7,335.1 645.1,334.3 645.6,335.0 646.0,335.7 646.5,335.1 646.9,334.1 647.4,335.1 647.8,335.7 648.3,335.0 648.7,335.9 649.2,335.7 649.5,335.6 649.6,335.3 650.1,335.2 650.5,335.4 651.0,335.7 651.4,336.0 651.9,336.1 652.3,335.8 652.8,336.1 653.2,336.3 653.7,335.3 654.1,335.9 654.6,336.0 655.0,336.4 655.5,336.5 655.9,336.6 656.4,336.4 656.8,337.3 657.3,337.2 657.7,336.3 658.2,337.3 658.6,336.7 659.1,338.4 659.5,337.3 660.0,337.4 660.4,337.8 660.9,337.7 661.3,337.9 661.8,338.9 662.2,338.2 662.7,338.6 663.1,338.9 663.6,337.8 664.0,339.3 664.5,338.8 664.9,339.0 665.4,338.1 665.8,339.0 666.3,338.9 666.7,338.4 667.2,340.0 667.6,339.0 668.1,338.6 668.5,338.9 669.0,339.3 669.0,339.4 669.4,339.1 669.9,339.4 670.3,339.6 670.8,338.1 671.2,338.5 671.7,338.2 672.1,338.8 672.6,339.5 673.0,339.1 673.5,338.2 673.9,338.6 674.4,339.3 674.8,338.4 675.3,338.7 675.7,338.9 676.2,337.7 676.6,339.1 677.1,338.9 677.5,339.0 678.0,338.1 678.4,338.2 678.9,338.3 679.3,338.8 679.8,338.7 680.2,338.7 680.7,339.6 681.1,339.3 681.6,338.2 682.0,338.2 682.5,339.5 682.9,338.4 683.4,339.3 683.8,339.4 684.3,338.2 684.7,338.4 685.2,338.5 685.6,338.0 686.1,337.9 686.5,338.2 687.0,338.9 687.4,338.2 687.9,338.3 688.3,338.1 688.8,337.6 689.2,339.2 689.7,337.0 690.1,338.0 690.6,338.6 691.0,337.5 691.5,338.6 691.9,338.9 692.4,337.8 692.8,338.3 693.3,337.6 693.7,338.5 694.2,338.2 694.6,338.3 695.1,338.9 695.5,338.4 696.0,338.8 696.4,338.4 696.9,337.4 697.3,338.2 697.8,338.3 698.2,337.2 698.4,338.7 698.7,338.0 699.1,338.2 699.6,337.5 700.0,338.0 700.5,338.1 700.9,337.7 701.4,337.9 701.8,336.7 702.3,338.6 702.7,337.2 703.2,336.6 703.6,337.2 704.1,337.2 704.5,338.0 705.0,337.1 705.4,337.8 705.9,337.0 706.3,338.7 706.8,337.8 707.2,338.5 707.7,336.9 708.1,337.7 708.6,336.8 709.0,337.6 709.5,337.6 709.9,336.3 710.4,336.5 710.8,336.5 711.3,336.3 711.7,336.6 712.2,336.5 712.6,336.2 713.1,337.0 713.5,337.2 714.0,336.1 714.4,336.5 714.9,336.7 715.3,336.5 715.8,336.2 716.2,337.0 716.7,337.0 717.1,336.9 717.6,336.3 718.0,337.5 718.5,337.3 718.9,336.1 719.4,336.2 719.8,336.8 720.3,335.7 720.7,336.3 721.2,336.1 721.6,335.6 722.1,335.8 722.5,335.0 723.0,335.5 723.4,334.7 723.9,337.0 724.3,336.5 724.8,336.3 725.2,335.8 725.7,336.1 726.1,336.2 726.6,336.0 727.0,335.9 727.5,334.9 727.9,335.6 728.4,335.0 728.8,334.6 729.3,334.6 729.7,335.4 730.2,335.7 730.6,334.3 731.1,336.0 731.5,335.8 732.0,334.7 732.4,334.6 732.9,334.8 733.3,335.4 733.8,334.6 734.2,334.1 734.7,334.9 735.1,333.5 735.6,334.7 736.0,335.2 736.5,334.7 736.9,335.0 737.4,334.8 737.4,334.9 737.8,334.6 738.3,334.0 738.7,334.3 739.2,334.3 739.6,335.0 740.1,335.2 740.5,334.5 741.0,333.8 741.4,333.8 741.9,334.1 742.3,334.9 742.8,334.3 743.2,334.1 743.7,333.6 744.1,334.5 744.6,334.2 745.0,333.9 745.5,334.0 745.9,334.8 746.4,333.8 746.8,334.8 747.3,334.5 747.7,333.8 748.2,334.2 748.6,333.6 749.1,333.2 749.5,333.5 750.0,333.1 750.4,333.9 750.9,333.6 751.3,333.8 751.8,333.9 752.2,331.7 752.7,333.6 753.1,332.4 753.6,333.5 754.0,332.9 754.5,333.4 754.9,334.0 755.4,332.3 755.8,333.3 756.3,333.2 756.7,332.1 757.2,333.5 757.6,333.1 758.1,332.8 758.5,332.7 759.0,334.8 759.4,332.8 759.9,332.0 760.3,332.4 760.8,332.7 761.2,332.7 761.7,332.8 762.1,332.3 762.6,333.1 763.0,332.6 763.5,332.1 763.9,332.3 764.4,332.5 764.8,333.2 765.3,333.0 765.7,332.5 766.2,332.7 766.6,332.8 767.1,333.8 767.5,332.3 768.0,332.9 768.4,333.0 768.9,332.1 769.3,332.7 769.8,332.7 770.2,332.3 770.7,332.9 771.1,333.1 771.6,333.2 772.0,332.4 772.5,332.6 772.9,333.8 773.4,331.9 773.8,332.6 774.3,333.0 774.7,332.6 775.2,332.9 775.5,332.6 775.6,332.9 776.1,333.2 776.5,332.4 777.0,332.6 777.4,332.5 777.9,332.3 778.3,332.5 778.8,332.0 779.2,333.0 779.7,333.6 780.1,333.6 780.6,333.4 781.0,332.2 781.5,333.6 781.9,332.4 782.4,332.8 782.8,333.9 783.3,332.3 783.7,333.4 784.2,333.1 784.6,333.0 785.1,332.6 785.5,333.4 786.0,332.9 786.4,333.8 786.9,334.0 787.3,332.6 787.8,333.1 788.2,333.3 788.7,332.9 789.1,332.9 789.6,333.7 790.0,333.6 790.5,332.8 790.9,333.5 791.4,334.1 791.8,333.2 792.3,333.4 792.7,334.9 793.2,334.8 793.6,333.2 794.1,333.4 794.5,334.4 795.0,333.6 795.4,334.2 795.9,334.1 796.3,334.7 796.8,333.1 797.2,333.3 797.7,333.9 798.1,335.2 798.6,334.6 799.0,333.7 799.5,335.0 799.9,335.1 800.4,334.7 800.8,334.6 801.3,335.1 801.7,335.5 802.2,335.0 802.6,335.2 803.1,334.9 803.5,334.7 804.0,334.5 804.4,335.1 804.9,334.8 805.3,334.9 805.8,335.5 805.8,335.3 806.2,335.5 806.7,334.1 807.1,335.3 807.6,334.7 808.0,334.5 808.5,334.5 808.9,335.7 809.4,335.4 809.8,334.6 810.3,334.3 810.7,335.0 811.2,334.7 811.6,335.9 812.1,334.1 812.5,333.9 813.0,334.8 813.4,334.9 813.9,335.0 814.3,335.3 814.8,336.0 815.2,334.7 815.7,334.6 816.1,333.9 816.6,335.0 817.0,335.3 817.5,334.7 817.9,335.4 818.4,334.8 818.8,335.6 819.3,334.9 819.7,334.2 820.2,334.4 820.6,333.9 820.7,333.7 821.1,334.8 821.5,335.1 822.0,335.7 822.4,334.6 822.9,334.4 823.3,333.9 823.8,335.0 824.2,334.6 824.7,333.9 825.1,334.6 825.6,334.4 826.0,333.0 826.5,334.3 826.9,333.9 827.4,333.5 827.8,333.4 828.3,334.5 828.7,334.3 829.2,334.4 829.6,332.6 830.1,332.8 830.5,333.6 831.0,332.3 831.4,332.5 831.9,331.8 832.3,333.7 832.8,333.2 833.2,332.8 833.7,332.6 834.1,332.2 834.6,332.1 835.0,332.6 835.5,331.9 835.9,332.9 836.4,331.9 836.8,331.7 837.3,332.8 837.7,332.0 838.0,332.4 838.2,331.9 838.6,330.9 839.1,332.4 839.5,331.4 840.0,332.7 840.4,331.3 840.9,331.2 841.3,332.4 841.8,332.5 842.2,332.4 842.7,331.7 843.1,332.9 843.6,331.6 844.0,332.2 844.5,332.1 844.9,332.3 845.4,333.1 845.8,332.3 846.3,333.0 846.7,333.1 847.2,331.8 847.6,332.2 848.1,332.6 848.5,332.5 849.0,333.1 849.4,331.9 849.9,333.3 850.3,333.4 850.8,332.9 851.2,332.2 851.7,333.0 851.8,332.7 852.1,333.3 852.6,332.9 853.0,333.4 853.5,332.7 853.9,333.7 854.4,331.5 854.8,332.2 855.3,332.9 855.7,331.7 856.2,332.9 856.6,331.7 857.1,332.3 857.5,331.7 858.0,331.8 858.4,332.1 858.9,331.8 859.3,331.5 859.8,332.8 860.2,331.6 860.7,330.9 861.1,331.9 861.6,331.7 862.0,331.8 862.5,332.1 862.9,330.5 863.4,331.5 863.8,331.5 864.3,330.9 864.7,331.0 865.2,329.2 865.6,330.5 865.6,331.8 866.1,329.8 866.5,330.5 867.0,331.0 867.4,331.2 867.9,331.8 868.3,329.9 868.8,330.9 869.2,331.4 869.7,330.2 870.1,331.0 870.6,332.1 871.0,331.8 871.5,331.4 871.9,329.7 872.4,331.2 872.8,331.5 873.3,331.2 873.7,331.4 874.2,333.1 874.6,331.4 875.1,331.0 875.5,331.8 876.0,331.5 876.4,331.6 876.9,331.8 877.3,332.3 877.8,332.1 878.2,331.3 878.7,332.0 879.1,332.4 879.6,331.9 880.0,332.9 880.5,332.8 880.9,331.8 881.4,332.6 881.8,333.6 882.3,333.4 882.7,332.6 883.2,333.2 883.6,332.4 884.1,332.0 884.5,333.1 885.0,333.0 885.4,333.2 885.9,332.9 886.3,333.2 886.3,332.7 886.8,333.3 887.2,333.5 887.7,333.1 888.1,333.6 888.6,332.2 889.0,332.8 889.5,334.1 889.9,334.3 890.4,333.5 890.8,333.3 891.3,332.7 891.7,333.7 892.2,333.9 892.6,332.7 893.1,333.9 893.5,333.9 894.0,333.9 894.4,333.1 894.9,334.0 895.3,333.0 895.8,334.6 896.2,333.9 896.7,333.3 897.1,334.7 897.6,334.6 898.0,333.7 898.5,335.3 898.9,333.5 899.4,334.3 899.8,334.8 900.3,332.9 900.7,334.8 901.2,334.2 901.6,334.3 902.1,333.7 902.5,334.5 903.0,333.8 903.4,333.9 903.9,334.2 904.3,333.8 904.8,335.3 905.2,333.8 905.7,334.1 906.1,334.4 906.6,334.6 907.0,335.0 907.5,335.1 907.9,334.5 908.4,334.4 908.8,334.7 909.3,335.1 909.7,335.1 910.2,334.4 910.6,333.6 911.1,335.9 911.5,335.2 912.0,334.8 912.2,334.9 912.4,334.4 912.9,334.1 913.3,334.5 913.8,334.6 914.2,334.4 914.7,333.9 915.1,334.5 915.6,335.0 916.0,334.4 916.5,334.7 916.9,333.6 917.4,334.6 917.8,334.6 918.3,334.0 918.7,333.7 919.2,334.9 919.6,334.3 920.1,335.0 920.5,334.5 921.0,335.0 921.4,334.5 921.9,333.9 922.3,334.7 922.8,334.5 923.2,335.1 923.7,334.5 924.1,334.5 924.6,335.2 925.0,335.3 925.5,335.1 925.9,335.3 926.4,334.9 926.8,335.1 926.9,335.2" stroke="#00dc3c" stroke-width="1.7"/><path d="M110.5,338.1 111.0,339.7 111.4,340.6 111.9,341.4 112.0,341.0 112.3,340.4 112.8,338.4 113.2,336.5 113.5,336.0 113.7,335.9 114.1,337.1 114.6,339.2 115.0,339.7 115.0,340.0 115.5,338.3 115.6,338.2 115.9,392.3 115.9,392.1 116.4,317.5 116.8,221.7 116.9,216.9 117.3,219.4 117.7,225.4 117.9,227.6 118.2,231.0 118.6,236.1 118.8,238.2 119.1,241.1 119.5,246.0 119.8,248.8 120.0,250.8 120.4,256.2 120.7,259.8 120.9,261.2 121.3,266.3 121.7,270.0 121.8,271.5 122.2,276.1 122.6,280.9 122.7,281.3 123.1,286.2 123.5,291.5 123.6,291.4 124.0,295.5 124.5,301.1 124.5,302.0 124.8,313.9 124.9,319.2 125.4,350.9 125.8,387.8 126.3,416.5 126.6,424.8 126.7,424.7 127.2,420.0 127.6,411.5 128.1,401.9 128.5,391.1 128.5,392.1 129.0,382.2 129.4,374.0 129.9,367.3 130.0,364.8 130.3,362.4 130.8,359.9 131.2,356.7 131.7,353.9 132.1,351.3 132.6,351.3 133.0,348.9 133.0,348.5 133.5,349.1 133.9,347.8 134.4,346.6 134.8,346.8 135.3,345.7 135.7,345.4 136.2,344.7 136.6,343.6 137.1,344.3 137.5,343.5 138.0,342.6 138.4,342.4 138.9,343.1 139.3,342.1 139.8,342.1 140.0,342.4 140.2,342.0 140.7,340.9 141.1,341.9 141.6,341.8 142.0,341.6 142.5,341.8 142.9,341.0 143.4,341.1 143.8,341.3 144.3,340.2 144.7,341.1 145.2,341.0 145.6,340.3 146.1,340.8 146.5,340.1 147.0,339.0 147.4,340.0 147.9,339.5 148.3,339.4 148.8,339.2 149.2,339.7 149.7,339.2 150.1,338.4 150.6,339.0 151.0,339.0 151.5,338.1 151.9,338.2 152.4,338.1 152.8,337.9 153.3,338.3 153.7,338.6 154.0,339.0 154.2,338.6 154.6,338.4 155.1,338.4 155.5,338.4 156.0,337.4 156.4,337.9 156.9,337.6 157.3,337.3 157.8,337.1 158.2,336.9 158.7,337.0 159.1,336.4 159.6,337.3 160.0,336.9 160.5,336.9 160.9,337.0 161.4,337.1 161.8,336.3 162.3,336.5 162.7,335.6 163.2,335.2 163.6,335.3 164.1,337.1 164.5,335.2 165.0,336.4 165.4,336.9 165.9,335.8 166.3,336.8 166.8,336.9 167.2,336.3 167.7,337.1 168.1,336.1 168.6,335.2 169.0,335.9 169.5,335.3 169.9,334.8 170.4,334.7 170.8,336.6 171.3,335.0 171.7,335.2 172.2,334.8 172.6,335.2 173.1,335.0 173.5,334.8 174.0,334.3 174.4,334.2 174.9,334.5 175.3,335.0 175.8,336.0 176.2,335.4 176.7,335.7 177.1,335.0 177.6,334.6 178.0,333.9 178.5,334.6 178.9,333.3 179.0,334.3 179.4,335.4 179.8,334.6 180.3,335.0 180.7,334.1 181.2,333.6 181.6,334.0 182.1,334.0 182.5,334.9 183.0,335.2 183.4,333.7 183.9,333.9 184.3,334.0 184.8,333.8 185.2,333.3 185.7,334.0 186.1,334.1 186.6,334.0 187.0,333.1 187.5,333.7 187.9,332.8 188.4,334.2 188.8,333.1 189.3,333.5 189.7,333.3 190.2,333.2 190.6,332.9 191.1,332.5 191.5,334.4 192.0,333.5 192.4,333.5 192.9,334.5 193.3,333.2 193.8,333.5 194.2,333.2 194.7,333.8 195.1,333.4 195.6,333.3 196.0,332.9 196.5,333.2 196.9,333.6 197.4,331.8 197.8,332.9 198.3,332.7 198.7,332.7 199.2,331.7 199.6,333.2 200.1,332.3 200.5,332.6 201.0,332.4 201.4,331.8 201.9,332.4 202.3,331.6 202.8,332.1 203.2,332.4 203.7,332.5 204.1,332.5 204.6,332.4 205.0,333.6 205.5,332.7 205.9,331.7 206.4,332.1 206.8,332.0 207.3,332.2 207.7,332.0 208.2,331.8 208.6,333.2 209.1,332.3 209.5,332.1 210.0,332.1 210.4,332.1 210.9,333.0 211.3,332.4 211.8,332.8 212.2,330.4 212.7,332.3 213.1,332.7 213.6,333.2 214.0,332.1 214.5,331.1 214.9,332.4 215.4,331.7 215.8,331.1 216.3,331.7 216.7,332.6 217.2,332.7 217.6,332.4 218.0,331.4 218.1,333.4 218.5,331.4 219.0,332.0 219.4,331.2 219.9,332.7 220.3,332.2 220.8,332.5 221.2,332.0 221.7,332.0 222.1,332.1 222.6,330.9 223.0,332.5 223.5,332.5 223.9,331.8 224.4,332.0 224.8,332.1 225.3,332.8 225.7,332.2 226.2,332.0 226.6,331.7 227.1,331.1 227.5,331.6 228.0,332.0 228.4,331.8 228.9,332.0 229.3,332.4 229.8,332.2 230.2,332.1 230.7,332.3 231.1,332.0 231.6,331.9 232.0,332.2 232.5,331.0 232.9,332.6 233.4,331.2 233.8,332.4 234.3,331.9 234.7,332.5 235.2,331.9 235.6,331.4 236.1,332.5 236.5,332.0 237.0,332.0 237.4,332.0 237.9,332.5 238.3,332.4 238.8,332.0 239.2,331.1 239.7,331.7 240.1,332.0 240.6,332.9 241.0,332.1 241.5,331.9 241.9,332.6 242.4,331.8 242.8,331.9 243.3,332.0 243.7,331.1 244.2,332.4 244.6,332.1 245.1,331.7 245.5,331.3 246.0,332.0 246.4,332.7 246.9,331.5 247.3,331.3 247.8,332.1 248.2,331.0 248.7,330.7 249.1,331.6 249.6,331.5 250.0,331.7 250.5,331.6 250.9,332.1 251.4,331.7 251.8,331.5 252.3,331.6 252.7,332.2 253.2,332.4 253.6,332.4 254.1,332.2 254.5,330.0 255.0,331.3 255.4,331.7 255.9,332.0 256.3,330.9 256.8,332.6 257.0,332.0 257.2,331.5 257.7,331.9 258.1,331.6 258.6,331.4 259.0,332.1 259.5,331.6 259.9,331.0 260.4,331.5 260.8,331.7 261.3,331.2 261.7,332.5 262.2,331.2 262.6,332.7 263.1,332.3 263.5,331.2 264.0,331.8 264.4,332.4 264.9,331.6 265.3,331.1 265.8,331.8 266.2,332.8 266.7,330.9 267.1,332.0 267.6,331.7 268.0,331.6 268.5,331.5 268.9,331.5 269.4,332.3 269.8,332.0 270.3,331.1 270.7,332.5 271.2,331.0 271.6,332.0 272.1,331.8 272.5,332.3 273.0,331.8 273.4,332.2 273.9,331.6 274.3,332.2 274.8,331.8 275.2,332.8 275.7,331.3 276.1,332.3 276.6,331.9 276.7,331.7 277.0,331.3 277.5,331.9 277.9,330.8 278.4,330.9 278.8,332.1 279.3,330.8 279.7,332.5 280.2,331.5 280.6,331.8 281.1,331.8 281.5,332.0 282.0,331.6 282.4,331.6 282.9,331.7 283.3,332.4 283.8,332.5 284.2,332.6 284.7,332.1 285.1,331.8 285.6,331.0 286.0,332.3 286.5,332.5 286.9,331.8 287.4,332.5 287.8,332.8 288.3,332.2 288.7,332.7 289.2,332.3 289.6,331.2 290.1,332.0 290.5,332.0 291.0,332.6 291.4,331.9 291.9,332.1 292.3,331.9 292.8,332.4 293.2,332.5 293.7,333.0 294.1,333.0 294.6,332.6 295.0,332.7 295.5,332.7 295.9,332.7 296.0,333.5 296.4,331.3 296.8,332.6 297.3,332.9 297.7,333.4 298.2,332.2 298.6,333.0 299.1,333.4 299.5,332.7 300.0,331.9 300.4,332.8 300.9,332.4 301.3,333.5 301.8,332.7 302.2,334.2 302.7,333.3 303.1,332.8 303.6,333.1 304.0,332.8 304.5,333.7 304.9,334.3 305.4,333.4 305.8,334.1 306.3,333.1 306.7,333.9 307.2,335.0 307.6,333.1 308.1,334.6 308.5,334.6 309.0,333.0 309.4,333.3 309.9,333.6 310.3,334.7 310.8,334.0 311.2,334.2 311.7,334.7 312.1,334.5 312.6,334.6 313.0,334.3 313.5,335.2 313.9,334.2 314.4,335.6 314.8,334.6 315.3,334.4 315.7,335.2 316.2,335.1 316.6,333.9 317.1,335.1 317.5,334.3 318.0,334.6 318.4,335.6 318.9,334.7 319.3,335.4 319.8,335.1 320.2,336.4 320.7,335.3 321.1,334.8 321.6,334.8 322.0,335.0 322.5,335.6 322.9,335.6 323.4,336.1 323.8,335.7 324.3,335.7 324.7,335.9 325.2,335.6 325.6,335.9 326.1,336.2 326.5,336.2 327.0,335.5 327.4,334.8 327.9,335.4 328.3,336.0 328.8,334.5 329.2,335.6 329.7,336.1 330.0,335.5 330.1,335.2 330.6,336.8 331.0,336.6 331.5,335.7 331.9,336.5 332.4,336.5 332.8,335.2 333.3,337.2 333.7,335.2 334.2,335.6 334.6,335.1 335.1,335.7 335.5,334.9 336.0,335.6 336.4,336.2 336.9,335.7 337.3,335.4 337.8,336.3 338.2,335.0 338.7,335.9 339.1,335.2 339.6,335.5 340.0,335.3 340.5,335.3 340.9,335.2 341.4,334.7 341.8,334.8 342.3,335.3 342.7,335.0 343.2,334.3 343.6,334.5 344.1,334.5 344.5,334.8 345.0,334.9 345.4,334.8 345.9,334.3 346.3,334.6 346.8,333.8 347.2,332.9 347.7,334.4 348.1,333.5 348.6,333.8 349.0,333.6 349.5,334.6 349.5,333.6 349.9,334.3 350.4,333.8 350.8,333.4 351.3,333.1 351.7,334.2 352.2,334.1 352.6,334.2 353.1,334.7 353.5,333.8 354.0,333.7 354.4,333.4 354.9,333.4 355.3,333.1 355.8,332.7 356.2,334.2 356.7,332.0 357.1,333.1 357.6,333.1 358.0,332.8 358.5,332.1 358.9,332.4 359.4,332.2 359.8,331.7 360.3,332.2 360.7,331.9 361.2,331.7 361.6,332.3 362.1,331.2 362.5,332.0 363.0,331.3 363.4,331.8 363.9,331.5 364.3,331.4 364.8,330.7 365.2,330.7 365.7,330.5 366.1,331.0 366.6,331.2 367.0,331.3 367.5,330.3 367.9,330.6 368.4,329.5 368.8,329.1 369.0,329.8 369.3,329.9 369.7,329.3 370.2,329.1 370.6,330.3 371.1,329.5 371.5,328.9 372.0,331.0 372.4,329.7 372.9,329.4 373.3,329.8 373.8,329.0 374.2,330.2 374.7,328.4 375.1,328.4 375.6,329.0 376.0,328.5 376.5,329.7 376.9,327.9 377.4,328.3 377.8,328.8 378.3,328.8 378.7,329.0 379.2,328.6 379.6,329.5 380.1,327.9 380.5,328.2 381.0,328.5 381.4,327.8 381.9,327.7 382.3,327.5 382.8,327.3 383.2,327.0 383.7,327.2 384.1,326.5 384.6,327.5 385.0,326.3 385.5,328.2 385.9,327.9 386.4,327.5 386.8,326.7 387.3,326.4 387.7,327.3 388.2,326.6 388.6,326.7 388.6,326.0 389.1,326.9 389.5,325.7 390.0,326.1 390.4,325.0 390.9,325.5 391.3,326.0 391.8,325.3 392.2,325.2 392.7,325.8 393.1,325.2 393.6,325.8 394.0,323.7 394.5,325.2 394.9,325.0 395.4,323.8 395.8,323.8 396.3,324.8 396.7,323.6 397.2,323.7 397.6,324.3 398.1,323.6 398.5,323.9 399.0,323.1 399.4,323.6 399.9,323.9 400.3,323.3 400.8,321.8 401.2,323.2 401.7,322.7 402.1,322.1 402.6,323.2 403.0,321.3 403.5,323.1 403.9,321.6 404.4,322.7 404.8,321.6 405.3,320.7 405.7,321.4 406.2,321.3 406.6,321.3 407.1,321.4 407.5,320.2 408.0,320.8 408.0,320.9 408.4,320.2 408.9,319.6 409.3,319.4 409.8,320.2 410.2,320.0 410.7,319.0 411.1,318.5 411.6,319.7 412.0,318.0 412.5,318.7 412.9,318.0 413.4,317.2 413.8,318.1 414.3,317.7 414.7,318.3 415.2,318.6 415.6,317.0 416.1,317.5 416.5,317.2 417.0,316.2 417.4,315.7 417.9,316.9 418.3,315.5 418.8,315.5 419.2,315.1 419.7,315.0 420.1,314.5 420.6,315.0 421.0,315.0 421.5,313.9 421.9,313.1 422.4,313.6 422.8,312.6 423.3,312.8 423.7,313.6 424.2,313.9 424.6,312.6 425.1,311.6 425.5,312.4 426.0,310.5 426.4,311.1 426.9,312.0 427.3,311.4 427.7,310.0 427.8,309.8 428.2,311.0 428.7,310.2 429.1,309.7 429.6,310.0 430.0,309.2 430.5,308.2 430.9,309.5 431.4,308.4 431.8,308.0 432.3,307.6 432.7,308.2 433.2,307.3 433.6,307.9 434.1,307.1 434.5,307.6 435.0,306.5 435.4,306.1 435.9,305.1 436.3,305.4 436.8,306.1 437.2,307.1 437.7,304.5 438.1,304.4 438.6,304.9 439.0,304.7 439.5,303.8 439.9,303.9 440.4,302.8 440.8,303.2 441.3,303.6 441.7,303.8 442.2,302.5 442.6,302.2 443.1,302.4 443.5,302.5 444.0,301.9 444.4,301.0 444.9,301.4 445.3,301.5 445.8,300.3 446.2,299.7 446.7,300.5 447.1,300.2 447.2,300.5 447.6,299.8 448.0,299.2 448.5,299.1 448.9,298.6 449.4,298.4 449.8,298.4 450.3,298.2 450.7,298.9 451.2,297.4 451.6,297.8 452.1,297.3 452.5,298.2 453.0,297.3 453.4,296.8 453.9,297.2 454.3,296.6 454.8,296.1 455.2,297.0 455.7,296.4 456.1,296.7 456.6,296.2 457.0,295.8 457.5,295.2 457.9,294.4 458.4,295.1 458.8,294.6 459.3,294.7 459.7,294.2 460.2,293.6 460.6,293.2 461.1,294.0 461.5,294.1 462.0,293.1 462.4,293.3 462.9,293.6 463.3,292.2 463.8,292.3 464.2,291.7 464.7,292.7 465.1,292.1 465.6,291.5 466.0,290.6 466.5,291.3 466.7,291.8 466.9,291.0 467.4,290.8 467.8,291.2 468.3,290.0 468.7,290.5 469.2,290.6 469.6,289.7 470.1,289.5 470.5,289.9 471.0,289.5 471.4,289.3 471.9,289.4 472.3,289.2 472.8,288.4 473.2,288.4 473.7,288.8 474.1,289.0 474.6,289.0 475.0,287.6 475.5,288.5 475.9,288.1 476.4,287.5 476.8,287.6 477.3,287.7 477.7,288.0 478.2,286.3 478.6,287.1 479.1,286.5 479.5,286.3 480.0,286.9 480.4,286.6 480.9,285.4 481.3,285.7 481.8,285.8 482.2,284.8 482.7,285.9 483.1,285.2 483.6,285.2 484.0,285.2 484.5,285.9 484.9,284.8 485.4,284.4 485.8,285.5 486.3,284.1 486.3,284.1 486.7,283.5 487.2,284.8 487.6,284.2 488.1,284.2 488.5,283.9 489.0,283.6 489.4,283.2 489.9,283.1 490.3,283.6 490.8,283.3 491.2,284.0 491.7,282.6 492.1,282.7 492.6,282.3 493.0,283.5 493.5,281.9 493.9,282.9 494.4,283.2 494.8,282.2 495.3,282.6 495.7,280.9 496.2,281.8 496.6,281.0 497.1,281.9 497.5,281.7 498.0,281.2 498.4,282.1 498.9,281.7 499.3,281.1 499.8,281.0 500.2,280.4 500.7,281.0 501.1,282.2 501.6,280.6 502.0,281.2 502.5,280.6 502.9,281.2 503.4,281.0 503.8,280.6 504.3,279.7 504.7,280.3 505.2,281.2 505.6,280.4 505.8,280.8 506.1,280.2 506.5,279.4 507.0,280.6 507.4,280.5 507.9,280.0 508.3,280.1 508.8,280.4 509.2,279.9 509.7,280.4 510.1,280.0 510.6,278.8 511.0,280.0 511.5,279.7 511.9,279.5 512.4,280.2 512.8,279.7 513.3,280.2 513.7,280.5 514.2,279.9 514.6,279.0 515.1,279.4 515.5,280.3 516.0,279.6 516.4,279.3 516.9,279.6 517.3,279.9 517.8,279.8 518.2,280.0 518.7,279.2 519.1,279.4 519.6,279.4 520.0,279.5 520.5,278.4 520.9,279.4 521.4,278.8 521.8,280.3 522.3,280.3 522.7,280.4 523.2,279.9 523.6,279.2 524.0,280.0 524.1,279.4 524.5,279.8 525.0,279.0 525.4,279.2 525.9,279.8 526.3,280.5 526.8,279.5 527.2,280.8 527.7,281.1 528.1,278.9 528.6,279.6 529.0,279.1 529.5,279.6 529.9,279.4 530.4,279.7 530.8,280.3 531.3,280.3 531.7,280.0 532.2,279.9 532.6,280.0 533.1,280.1 533.5,280.4 534.0,280.1 534.4,280.4 534.9,279.5 535.3,280.7 535.8,281.3 536.2,280.5 536.7,279.7 537.1,281.2 537.6,280.4 538.0,279.0 538.5,280.6 538.9,281.1 539.4,281.0 539.8,281.6 540.3,281.3 540.7,281.1 541.2,280.0 541.6,280.6 542.1,281.4 542.5,281.7 543.0,280.8 543.4,281.1 543.5,281.7 543.9,280.5 544.3,280.6 544.8,281.6 545.2,282.0 545.7,281.7 546.1,280.8 546.6,282.2 547.0,281.6 547.5,282.8 547.9,282.5 548.4,282.8 548.8,283.2 549.3,282.7 549.7,283.6 550.2,284.0 550.6,283.7 551.1,284.4 551.5,283.5 552.0,284.5 552.4,284.3 552.9,283.8 553.3,284.5 553.8,284.5 554.2,284.7 554.7,285.2 555.1,286.0 555.6,285.4 556.0,285.9 556.5,285.2 556.9,286.3 557.2,287.0 557.4,286.9 557.8,287.0 558.3,286.7 558.7,286.7 559.2,287.4 559.6,287.0 560.1,287.3 560.5,288.8 561.0,288.1 561.4,289.9 561.9,288.5 562.3,289.8 562.8,289.3 563.2,290.3 563.7,290.0 564.1,291.0 564.6,291.2 565.0,291.5 565.5,292.4 565.9,293.3 566.4,292.5 566.8,293.8 567.3,293.7 567.7,294.1 568.2,295.7 568.6,293.7 569.1,295.0 569.5,294.8 570.0,296.0 570.4,296.5 570.9,299.1 571.3,297.7 571.8,298.9 572.2,299.1 572.7,298.6 572.8,299.3 573.1,300.2 573.6,299.9 574.0,300.4 574.5,301.0 574.9,300.4 575.4,301.3 575.8,302.5 576.3,303.2 576.7,302.9 577.2,303.8 577.6,304.5 578.1,305.1 578.5,306.1 579.0,306.4 579.4,307.0 579.9,306.8 580.3,307.6 580.8,309.0 581.2,308.5 581.7,310.2 582.1,310.3 582.6,310.8 583.0,312.2 583.5,312.1 583.9,312.7 584.4,313.4 584.8,314.4 585.3,316.4 585.7,314.4 586.2,316.1 586.5,316.5 586.6,317.2 587.1,317.1 587.5,316.6 588.0,319.3 588.4,318.6 588.9,319.8 589.3,319.7 589.8,320.5 590.2,321.5 590.7,322.9 591.1,323.5 591.6,323.4 592.0,324.6 592.5,324.7 592.9,325.6 593.4,326.2 593.8,327.0 594.3,326.9 594.7,327.6 595.2,328.3 595.6,328.7 596.1,328.6 596.3,330.2 596.5,329.2 597.0,330.3 597.4,330.3 597.9,331.3 598.3,329.8 598.8,332.5 599.2,331.7 599.7,331.5 600.1,332.6 600.6,334.1 601.0,333.4 601.5,332.7 601.9,333.4 602.4,334.6 602.8,333.2 603.3,334.0 603.7,334.0 604.0,335.4 604.2,334.0 604.6,334.9 605.1,333.7 605.5,333.5 606.0,334.3 606.4,333.9 606.9,332.4 607.3,333.4 607.8,333.1 608.2,332.1 608.7,332.2 609.1,331.9 609.6,331.1 610.0,330.7 610.5,330.2 610.9,330.0 611.4,329.1 611.8,329.3 611.9,328.5 612.3,329.0 612.7,328.4 613.2,327.3 613.6,327.6 614.1,327.5 614.5,326.4 615.0,324.1 615.4,324.7 615.9,323.3 616.3,322.3 616.8,321.1 617.2,320.6 617.7,320.5 618.1,319.3 618.6,318.0 619.0,317.2 619.5,316.7 619.7,316.9 619.9,317.4 620.4,315.2 620.8,315.2 621.3,314.5 621.7,313.7 622.2,313.8 622.6,313.4 623.1,311.8 623.5,311.5 624.0,312.3 624.4,311.3 624.9,311.0 625.3,310.1 625.8,309.8 626.2,309.9 626.7,309.0 627.1,308.4 627.5,308.8 627.6,309.2 628.0,308.0 628.5,308.9 628.9,308.4 629.4,307.4 629.8,307.6 630.3,307.4 630.7,307.5 631.2,307.3 631.6,306.1 632.1,305.8 632.5,306.9 633.0,306.3 633.4,306.2 633.9,306.0 634.3,306.5 634.8,304.9 635.2,306.0 635.7,304.8 636.1,305.5 636.6,305.7 637.0,304.2 637.5,305.0 637.9,304.6 638.4,304.5 638.8,304.6 639.3,304.0 639.7,304.0 640.0,304.8 640.2,304.9 640.6,304.1 641.1,303.6 641.5,305.7 642.0,305.0 642.4,304.6 642.9,303.8 643.3,304.0 643.8,304.4 644.2,303.8 644.7,305.1 645.1,304.3 645.6,304.5 646.0,303.7 646.5,303.7 646.9,303.8 647.4,304.3 647.8,304.0 648.3,304.0 648.7,304.4 649.2,304.3 649.5,305.0 649.6,304.1 650.1,303.6 650.5,304.2 651.0,305.0 651.4,304.0 651.9,304.3 652.3,304.2 652.8,304.7 653.2,304.6 653.7,304.1 654.1,304.5 654.6,305.2 655.0,305.4 655.5,305.4 655.9,305.5 656.4,304.9 656.8,305.0 657.3,305.8 657.7,304.8 658.2,305.5 658.6,304.6 659.1,305.5 659.5,305.4 660.0,305.3 660.4,306.3 660.9,305.7 661.3,306.0 661.8,306.1 662.2,305.9 662.7,307.2 663.1,306.2 663.6,306.6 664.0,305.9 664.5,306.4 664.9,306.5 665.4,306.5 665.8,306.4 666.1,306.8 666.3,307.5 666.7,306.6 667.2,306.6 667.6,306.4 668.1,308.0 668.5,307.5 669.0,306.9 669.4,306.9 669.9,306.1 670.3,306.3 670.8,306.5 671.2,306.4 671.7,305.8 672.1,305.8 672.6,306.4 673.0,306.2 673.5,304.8 673.9,305.9 674.4,306.5 674.8,305.4 675.3,305.7 675.7,304.7 676.2,305.9 676.6,304.7 677.1,304.6 677.5,305.0 678.0,306.3 678.4,304.6 678.9,304.2 679.3,305.0 679.8,304.8 680.2,305.4 680.7,303.7 681.1,303.5 681.6,304.0 682.0,304.3 682.5,304.2 682.9,304.5 683.4,303.0 683.8,303.3 684.3,303.5 684.7,304.0 685.2,303.7 685.6,303.1 686.1,302.7 686.5,303.6 687.0,303.6 687.4,304.4 687.9,302.8 688.3,303.7 688.6,302.1 688.8,302.5 689.2,302.3 689.7,302.4 690.1,302.1 690.6,302.2 691.0,302.4 691.5,302.1 691.9,302.6 692.4,302.2 692.8,302.1 693.3,302.9 693.7,302.2 694.2,302.0 694.6,301.8 695.1,301.8 695.5,302.0 696.0,301.2 696.4,302.2 696.9,302.4 697.3,302.1 697.8,301.1 698.2,300.5 698.7,301.0 699.1,301.3 699.6,301.6 700.0,301.0 700.5,300.8 700.9,301.7 701.4,300.5 701.8,301.4 702.3,301.2 702.7,299.9 703.2,300.7 703.6,300.2 704.1,300.0 704.5,299.4 705.0,299.5 705.4,300.5 705.9,300.0 706.3,300.3 706.8,299.5 707.2,299.8 707.7,299.8 708.1,299.1 708.6,298.9 709.0,300.0 709.5,299.8 709.9,299.1 710.4,299.5 710.8,299.9 711.3,300.4 711.7,298.9 712.2,299.7 712.6,300.4 713.1,299.2 713.5,299.9 714.0,297.7 714.4,299.8 714.9,299.0 715.3,297.9 715.8,299.3 716.2,299.3 716.7,299.4 717.1,299.3 717.6,298.6 718.0,298.1 718.5,298.2 718.9,298.4 719.4,298.6 719.8,298.0 720.3,298.3 720.7,298.7 721.2,298.3 721.6,299.3 722.1,299.2 722.5,297.3 723.0,297.6 723.4,297.1 723.9,297.1 724.3,298.0 724.8,297.1 725.2,297.0 725.7,297.4 726.1,297.9 726.6,297.2 727.0,297.2 727.5,297.8 727.7,297.5 727.9,297.5 728.4,297.7 728.8,296.6 729.3,297.2 729.7,296.7 730.2,297.5 730.6,297.4 731.1,296.3 731.5,297.5 732.0,296.1 732.4,297.3 732.9,296.7 733.3,296.1 733.8,295.9 734.2,296.3 734.7,296.4 735.1,295.9 735.6,296.6 736.0,295.4 736.5,296.1 736.9,296.1 737.4,295.0 737.8,296.1 738.3,295.2 738.7,294.5 739.2,295.4 739.6,295.6 740.1,296.1 740.5,295.3 741.0,296.3 741.4,296.2 741.9,296.0 742.3,296.0 742.8,295.5 743.2,294.9 743.7,295.5 744.1,295.6 744.6,295.1 745.0,294.8 745.5,294.0 745.9,295.2 746.4,295.0 746.8,294.0 747.3,294.7 747.7,295.0 748.2,294.5 748.6,294.9 749.1,294.8 749.5,293.6 750.0,294.1 750.4,294.5 750.9,294.7 751.3,294.9 751.8,293.0 752.2,294.0 752.7,294.3 753.1,294.6 753.6,294.8 754.0,293.3 754.5,293.5 754.9,293.1 755.4,294.1 755.8,292.9 756.3,294.2 756.7,294.0 757.2,293.7 757.6,292.2 758.1,292.9 758.5,293.7 759.0,292.4 759.4,293.0 759.9,293.1 760.3,293.5 760.8,293.2 761.2,293.1 761.7,292.7 762.1,292.9 762.6,292.8 763.0,293.2 763.5,292.6 763.9,293.3 764.4,291.7 764.8,293.3 765.3,292.5 765.7,293.1 766.2,292.5 766.6,292.9 767.1,293.2 767.5,292.1 768.0,292.4 768.4,292.2 768.9,292.4 769.3,291.4 769.8,292.1 770.2,292.0 770.7,291.7 771.1,292.0 771.6,291.3 772.0,292.8 772.5,292.3 772.9,293.0 773.4,291.5 773.8,291.3 774.3,292.1 774.7,291.0 775.2,292.0 775.5,291.5 775.6,291.7 776.1,292.0 776.5,291.9 777.0,292.8 777.4,292.2 777.9,291.1 778.3,292.3 778.8,291.0 779.2,291.8 779.7,291.1 780.1,291.3 780.6,292.4 781.0,291.4 781.5,291.3 781.9,291.4 782.4,291.5 782.8,292.4 783.3,291.0 783.7,291.0 784.2,291.9 784.6,290.7 785.1,291.4 785.5,292.2 786.0,291.6 786.4,291.3 786.9,291.2 787.3,291.1 787.8,291.2 788.2,291.6 788.7,292.2 789.1,292.0 789.6,291.2 790.0,291.1 790.5,291.9 790.9,290.5 791.4,291.2 791.8,291.3 792.3,290.8 792.7,290.9 793.2,291.6 793.6,290.5 794.1,290.9 794.5,291.0 795.0,291.4 795.4,290.6 795.9,291.9 796.3,291.2 796.8,291.2 797.2,291.1 797.7,290.9 798.1,290.7 798.6,291.9 799.0,291.3 799.5,291.1 799.9,291.7 800.0,290.8 800.4,291.5 800.8,291.1 801.3,290.6 801.7,291.4 802.2,290.2 802.6,291.3 803.1,290.4 803.5,291.0 804.0,291.5 804.4,291.0 804.9,290.3 805.3,290.5 805.8,290.2 806.2,289.7 806.7,289.6 807.1,290.2 807.6,290.4 808.0,289.0 808.5,289.8 808.9,290.1 809.4,289.8 809.8,289.1 810.3,290.1 810.7,288.8 811.2,289.7 811.6,290.1 812.1,288.1 812.5,289.2 813.0,289.2 813.4,289.1 813.9,288.5 814.3,288.7 814.8,288.0 815.2,288.8 815.7,289.0 816.1,288.3 816.6,288.1 817.0,288.3 817.3,288.5 817.5,288.6 817.9,288.5 818.4,288.5 818.8,287.8 819.3,287.0 819.7,288.8 820.2,289.2 820.6,287.7 821.1,288.0 821.5,288.5 822.0,288.9 822.4,288.7 822.9,289.0 823.3,288.3 823.8,288.5 824.2,288.5 824.7,288.0 825.1,288.9 825.6,288.6 826.0,288.8 826.5,288.0 826.9,288.8 827.4,287.6 827.8,288.4 828.3,286.8 828.7,287.6 829.2,288.5 829.6,287.9 830.1,288.2 830.5,287.2 831.0,288.9 831.4,288.4 831.9,288.1 832.3,288.3 832.8,288.3 833.2,288.8 833.7,288.2 834.1,287.3 834.6,287.9 835.0,288.7 835.5,288.4 835.9,287.8 836.4,288.4 836.8,288.1 837.3,288.4 837.7,287.2 838.0,287.6 838.2,288.4 838.6,287.9 839.1,288.3 839.5,289.2 840.0,288.0 840.4,288.3 840.9,287.9 841.3,288.0 841.8,288.3 842.2,287.7 842.7,287.4 843.1,289.3 843.6,288.7 844.0,289.4 844.5,289.0 844.9,289.1 845.4,289.5 845.8,289.6 846.3,288.7 846.7,290.1 847.2,289.1 847.6,289.8 848.1,291.2 848.5,290.0 849.0,291.0 849.4,290.1 849.9,290.7 850.3,290.5 850.8,290.9 851.2,290.3 851.7,290.4 852.1,291.2 852.6,290.3 853.0,290.8 853.5,291.7 853.9,291.1 854.4,291.1 854.8,291.1 855.3,291.8 855.7,291.7 856.2,292.0 856.6,291.9 857.1,293.1 857.5,291.9 858.0,291.2 858.4,292.3 858.9,292.3 859.3,292.4 859.8,291.5 860.2,293.0 860.4,292.3 860.7,292.3 861.1,291.5 861.6,292.6 862.0,292.3 862.5,293.1 862.9,292.1 863.4,291.6 863.8,292.4 864.3,291.8 864.7,292.5 865.2,291.7 865.6,292.2 866.1,292.1 866.5,292.2 867.0,291.9 867.4,291.7 867.9,292.1 868.3,291.8 868.8,292.1 869.2,291.9 869.7,290.8 870.1,291.9 870.6,292.7 871.0,292.1 871.5,292.2 871.9,292.1 872.4,291.5 872.8,291.0 873.3,292.2 873.7,292.2 874.2,291.9 874.6,291.8 875.1,291.8 875.5,291.5 876.0,291.6 876.4,291.4 876.9,291.6 877.3,290.8 877.8,291.0 878.2,291.5 878.7,291.0 879.1,289.9 879.6,291.2 880.0,289.8 880.5,292.0 880.9,291.3 881.4,291.3 881.8,290.5 882.3,290.2 882.7,290.6 883.2,290.7 883.6,290.2 884.1,290.7 884.5,290.9 885.0,290.8 885.4,289.9 885.9,289.3 886.3,290.4 886.3,290.0 886.8,290.5 887.2,291.1 887.7,291.0 888.1,290.2 888.6,290.6 889.0,290.8 889.5,289.9 889.9,289.9 890.4,290.1 890.8,289.5 891.3,289.2 891.7,289.0 892.2,289.2 892.6,288.8 893.1,289.4 893.5,288.7 894.0,289.5 894.4,289.3 894.9,287.9 895.3,289.0 895.8,288.1 896.2,288.9 896.7,288.3 897.1,287.9 897.6,288.2 898.0,287.4 898.5,287.8 898.9,287.7 899.4,287.3 899.8,287.5 900.3,286.7 900.7,287.4 901.2,286.4 901.6,287.2 902.1,287.1 902.5,287.1 903.0,286.4 903.4,288.2 903.9,286.4 904.3,286.6 904.8,286.1 905.2,287.2 905.7,286.2 906.1,286.9 906.6,285.9 907.0,286.5 907.0,286.2 907.5,286.9 907.9,286.2 908.4,285.9 908.8,286.6 909.3,285.8 909.7,285.9 910.2,286.9 910.6,285.5 911.1,286.9 911.5,286.3 912.0,286.1 912.4,286.8 912.9,287.0 913.3,286.4 913.8,286.7 914.2,287.2 914.7,287.3 915.1,286.9 915.6,286.6 916.0,286.6 916.5,286.8 916.9,287.5 917.4,287.6 917.4,287.4 917.8,288.1 918.3,287.5 918.7,287.7 919.2,288.1 919.6,289.7 920.1,288.1 920.5,289.8 921.0,290.3 921.4,290.6 921.9,292.1 922.3,291.8 922.8,291.9 923.2,291.1 923.4,291.8 923.7,291.4 924.1,291.6 924.6,291.7 925.0,291.3 925.5,291.9 925.9,292.4 926.4,292.1 926.8,291.7 926.9,290.6" stroke="#00e4f0" stroke-width="1.7"/><path d="M110.5,342.2 111.0,343.8 111.4,344.6 111.9,344.9 112.0,345.1 112.3,344.4 112.8,342.6 113.2,340.3 113.5,339.9 113.7,340.1 114.1,341.2 114.6,343.1 115.0,344.1 115.0,343.8 115.5,342.5 115.6,341.9 115.9,365.1 115.9,365.0 116.2,182.4 116.4,182.9 116.8,188.7 117.2,196.0 117.3,196.1 117.7,202.4 118.2,208.1 118.3,209.4 118.6,214.0 119.1,219.8 119.3,223.1 119.5,225.7 120.0,231.6 120.3,236.7 120.4,237.4 120.9,243.3 121.3,249.0 121.4,250.3 121.8,255.0 122.2,260.8 122.4,263.7 122.7,266.9 123.1,272.8 123.5,277.5 123.6,278.4 124.0,283.4 124.5,290.0 124.5,291.1 124.8,303.2 124.9,307.9 125.4,339.2 125.8,374.9 126.3,402.7 126.6,411.3 126.7,411.0 127.2,406.6 127.6,401.1 128.1,392.5 128.5,385.6 128.5,385.0 129.0,376.6 129.4,367.5 129.9,359.9 130.0,358.0 130.3,355.0 130.8,351.0 131.2,347.8 131.7,344.3 132.1,343.3 132.3,342.9 132.6,342.5 133.0,342.8 133.5,341.5 133.9,341.7 134.4,341.2 134.8,341.7 135.3,341.0 135.7,341.1 136.2,341.1 136.6,340.0 137.1,340.9 137.5,340.2 138.0,340.3 138.4,340.3 138.9,340.7 139.3,340.6 139.8,341.0 140.0,340.1 140.2,339.7 140.7,339.6 141.1,340.0 141.6,340.4 142.0,339.7 142.5,339.1 142.9,339.4 143.4,339.3 143.8,339.1 144.3,338.6 144.7,337.5 145.2,338.5 145.6,339.2 146.1,338.7 146.5,337.3 147.0,338.4 147.4,337.3 147.9,339.2 148.3,338.2 148.8,337.4 149.2,338.3 149.7,337.5 150.1,338.1 150.6,337.7 151.0,337.0 151.5,337.9 151.9,336.8 152.4,338.1 152.8,337.4 153.3,336.8 153.7,336.3 154.0,338.0 154.2,337.9 154.6,336.5 155.1,337.9 155.5,337.1 156.0,336.8 156.4,336.9 156.9,336.7 157.3,337.5 157.8,336.8 158.2,335.7 158.7,337.7 159.1,337.1 159.6,336.0 160.0,336.3 160.5,336.0 160.9,336.4 161.4,336.6 161.8,336.4 162.3,336.0 162.7,335.8 163.2,336.6 163.6,336.1 164.1,337.3 164.5,335.7 165.0,336.4 165.4,336.0 165.9,335.6 166.3,336.6 166.8,335.9 167.2,335.4 167.7,335.6 168.1,336.3 168.6,335.1 169.0,336.4 169.5,336.0 169.9,335.5 170.4,336.3 170.8,336.4 171.3,335.8 171.7,335.6 172.2,336.4 172.6,336.2 173.1,334.9 173.5,335.2 174.0,335.2 174.4,335.1 174.9,334.5 175.3,335.7 175.8,335.2 176.2,335.2 176.7,335.8 177.1,334.8 177.6,335.0 178.0,335.1 178.5,334.7 178.9,334.9 179.0,335.3 179.4,334.9 179.8,335.5 180.3,334.4 180.7,334.9 181.2,334.0 181.6,334.6 182.1,334.3 182.5,335.3 183.0,334.9 183.4,334.8 183.9,335.4 184.3,335.2 184.8,334.8 185.2,334.0 185.7,333.5 186.1,334.2 186.6,334.0 187.0,333.8 187.5,334.0 187.9,333.2 188.4,334.8 188.8,333.4 189.3,333.6 189.7,334.2 190.2,333.0 190.6,334.3 191.1,334.2 191.5,333.6 192.0,333.1 192.4,333.4 192.9,332.6 193.3,334.3 193.8,333.5 194.2,333.1 194.7,332.9 195.1,333.7 195.6,334.1 196.0,332.6 196.5,332.9 196.9,332.3 197.4,333.5 197.8,333.2 198.3,334.2 198.7,333.0 199.2,332.8 199.6,332.6 200.1,333.4 200.5,332.0 201.0,333.2 201.4,332.9 201.9,332.5 202.3,332.2 202.8,333.2 203.2,333.6 203.7,332.4 204.1,332.9 204.6,333.5 205.0,332.2 205.5,332.3 205.9,331.8 206.4,332.3 206.8,332.3 207.3,332.1 207.7,331.9 208.2,331.5 208.6,331.6 209.1,331.7 209.5,332.6 210.0,331.9 210.4,331.7 210.9,332.5 211.3,332.4 211.8,331.7 212.2,331.8 212.7,332.4 213.1,332.3 213.6,331.6 214.0,332.2 214.5,332.0 214.9,332.6 215.4,331.6 215.8,332.5 216.3,332.2 216.7,331.5 217.2,332.6 217.6,332.5 218.0,331.3 218.1,333.0 218.5,331.4 219.0,331.5 219.4,331.8 219.9,332.4 220.3,332.3 220.8,332.0 221.2,332.7 221.7,332.2 222.1,332.7 222.6,333.5 223.0,332.1 223.5,330.6 223.9,331.8 224.4,331.4 224.8,332.0 225.3,332.1 225.7,331.4 226.2,331.4 226.6,331.9 227.1,331.9 227.5,330.6 228.0,332.5 228.4,332.0 228.9,332.0 229.3,332.2 229.8,331.5 230.2,332.0 230.7,332.6 231.1,332.6 231.6,332.2 232.0,331.9 232.5,331.6 232.9,332.7 233.4,332.3 233.8,331.8 234.3,330.8 234.7,331.5 235.2,331.0 235.6,332.7 236.1,332.1 236.5,331.6 237.0,331.9 237.4,333.4 237.9,332.7 238.3,331.3 238.8,331.9 239.2,331.3 239.7,331.1 240.1,332.1 240.6,333.3 241.0,332.8 241.5,332.0 241.9,331.8 242.4,332.1 242.8,332.6 243.3,331.2 243.7,331.0 244.2,333.0 244.6,332.2 245.1,332.9 245.5,332.1 246.0,332.8 246.4,331.7 246.9,332.3 247.3,332.8 247.8,332.6 248.2,331.8 248.7,332.5 249.1,331.6 249.6,331.2 250.0,332.3 250.5,332.8 250.9,332.5 251.4,331.3 251.8,332.5 252.3,332.4 252.7,331.7 253.2,330.6 253.6,332.6 254.1,332.5 254.5,332.3 255.0,331.1 255.4,331.2 255.9,332.6 256.3,332.4 256.8,332.3 257.0,331.9 257.2,332.2 257.7,331.7 258.1,331.8 258.6,331.5 259.0,332.2 259.5,331.8 259.9,332.6 260.4,332.4 260.8,331.6 261.3,333.1 261.7,331.5 262.2,332.3 262.6,332.7 263.1,332.8 263.5,330.9 264.0,332.7 264.4,332.9 264.9,333.0 265.3,331.0 265.8,331.9 266.2,332.2 266.7,332.1 267.1,333.1 267.6,332.0 268.0,333.1 268.5,332.8 268.9,331.7 269.4,332.0 269.8,332.3 270.3,332.6 270.7,333.2 271.2,332.6 271.6,333.2 272.1,331.9 272.5,331.1 273.0,332.6 273.4,333.1 273.9,332.7 274.3,332.4 274.8,333.2 275.2,334.1 275.7,333.0 276.1,332.7 276.6,332.7 277.0,334.3 277.5,333.3 277.9,333.7 278.4,334.0 278.8,334.0 279.3,333.0 279.7,334.0 280.2,334.0 280.6,333.9 281.1,334.2 281.5,333.4 282.0,333.7 282.4,333.5 282.9,334.3 283.3,333.6 283.8,334.2 284.2,333.4 284.7,334.0 285.1,333.9 285.6,334.1 286.0,334.3 286.5,334.2 286.9,334.2 287.4,333.2 287.8,335.0 288.3,334.1 288.7,334.4 289.2,334.1 289.6,335.2 290.1,334.2 290.5,335.0 291.0,335.4 291.4,335.7 291.9,335.5 292.3,335.3 292.8,334.3 293.2,335.7 293.7,335.7 294.1,335.6 294.6,335.6 295.0,335.2 295.5,335.0 295.9,335.9 296.0,336.0 296.4,334.8 296.8,335.9 297.3,335.6 297.7,336.0 298.2,335.7 298.6,336.2 299.1,336.2 299.5,336.2 300.0,335.0 300.4,336.2 300.9,335.8 301.3,335.2 301.8,336.3 302.2,335.2 302.7,336.5 303.1,337.0 303.6,335.8 304.0,336.7 304.5,336.5 304.9,336.6 305.4,335.6 305.8,336.7 306.3,336.5 306.7,336.9 307.2,336.6 307.6,337.2 308.1,336.8 308.5,337.1 309.0,337.5 309.4,336.9 309.9,337.4 310.3,337.1 310.8,337.3 311.2,336.8 311.7,337.5 312.1,337.8 312.6,337.2 313.0,337.7 313.5,337.6 313.9,336.8 314.4,337.6 314.8,338.2 315.3,337.3 315.7,336.6 316.2,337.8 316.6,337.4 317.1,338.8 317.5,337.8 318.0,337.9 318.4,337.6 318.9,338.1 319.3,337.7 319.8,337.6 320.2,338.1 320.7,337.8 321.1,339.0 321.6,337.7 322.0,338.3 322.5,338.0 322.9,337.7 323.4,339.4 323.8,337.4 324.3,339.4 324.7,337.9 325.2,338.7 325.6,339.9 326.1,337.6 326.5,338.1 327.0,339.6 327.4,339.0 327.9,338.6 328.3,339.0 328.8,338.5 329.2,339.1 329.7,339.9 330.0,338.9 330.1,339.2 330.6,339.8 331.0,340.3 331.5,338.9 331.9,339.4 332.4,339.0 332.8,339.0 333.3,339.2 333.7,339.1 334.2,338.5 334.6,338.4 335.1,339.1 335.5,339.6 336.0,340.2 336.4,339.3 336.9,339.6 337.3,340.0 337.8,340.1 338.2,339.7 338.7,339.8 339.1,340.8 339.6,339.7 340.0,339.6 340.5,339.1 340.9,340.2 341.4,339.8 341.8,341.1 342.3,339.9 342.7,340.5 343.2,340.6 343.6,341.0 344.1,339.5 344.5,341.1 345.0,340.3 345.4,340.2 345.9,340.1 346.3,340.1 346.8,340.2 347.2,339.1 347.7,340.7 348.1,340.5 348.6,340.0 349.0,340.5 349.5,341.8 349.9,340.8 350.4,340.4 350.8,341.5 351.3,340.2 351.7,340.6 352.2,340.4 352.6,340.6 353.1,341.2 353.5,341.1 354.0,340.4 354.4,340.8 354.9,340.9 355.3,340.7 355.8,340.9 356.2,340.6 356.7,340.6 357.1,341.0 357.6,340.5 358.0,341.3 358.5,341.0 358.9,340.6 359.4,340.8 359.8,340.9 360.3,341.1 360.7,341.3 361.2,341.1 361.6,340.8 362.1,342.0 362.5,341.8 363.0,341.4 363.4,341.9 363.9,341.5 364.3,341.3 364.8,341.5 365.2,342.9 365.7,342.0 366.1,342.0 366.6,341.3 367.0,341.8 367.5,342.8 367.9,341.8 368.4,342.2 368.8,342.3 369.0,342.0 369.3,342.5 369.7,341.8 370.2,341.9 370.6,341.4 371.1,343.1 371.5,341.9 372.0,341.8 372.4,342.5 372.9,341.5 373.3,341.8 373.8,341.4 374.2,341.9 374.7,341.7 375.1,342.2 375.6,341.8 376.0,341.6 376.5,341.8 376.9,341.9 377.4,341.7 377.8,342.5 378.3,342.4 378.7,342.1 379.2,341.4 379.6,342.4 380.1,341.4 380.5,342.2 381.0,342.2 381.4,341.8 381.9,341.7 382.3,341.8 382.8,343.3 383.2,342.1 383.7,342.1 384.1,342.8 384.6,342.5 385.0,342.9 385.5,341.7 385.9,341.8 386.4,344.1 386.8,342.3 387.3,342.2 387.7,342.5 388.2,342.9 388.6,341.8 389.1,342.6 389.5,342.4 390.0,342.8 390.4,342.6 390.9,342.2 391.3,342.1 391.8,341.2 392.2,343.1 392.7,341.8 393.1,342.4 393.6,343.5 394.0,342.4 394.5,343.0 394.9,342.5 395.4,343.0 395.8,342.7 396.3,342.4 396.7,343.4 397.2,342.6 397.6,342.0 398.1,342.6 398.5,343.0 399.0,342.2 399.4,343.2 399.9,343.2 400.3,343.9 400.8,342.5 401.2,343.2 401.7,342.0 402.1,342.6 402.6,342.9 403.0,343.1 403.5,342.9 403.9,342.9 404.4,342.6 404.8,342.7 405.3,343.1 405.7,343.3 406.2,343.3 406.6,343.5 407.1,343.6 407.5,342.1 408.0,342.7 408.0,342.9 408.4,342.7 408.9,343.6 409.3,343.4 409.8,343.0 410.2,343.1 410.7,343.7 411.1,342.9 411.6,342.9 412.0,343.6 412.5,343.4 412.9,343.9 413.4,343.3 413.8,343.5 414.3,342.8 414.7,342.6 415.2,343.1 415.6,341.8 416.1,343.4 416.5,343.7 417.0,343.2 417.4,343.1 417.9,343.8 418.3,343.2 418.8,343.7 419.2,344.4 419.7,343.6 420.1,343.7 420.6,343.5 421.0,343.4 421.5,343.4 421.9,343.3 422.4,343.8 422.8,342.4 423.3,343.1 423.7,343.6 424.2,342.8 424.6,343.2 425.1,342.9 425.5,343.5 426.0,343.8 426.4,344.1 426.9,343.6 427.3,342.9 427.8,343.5 428.2,343.6 428.7,344.1 429.1,342.2 429.6,343.5 430.0,342.4 430.5,343.7 430.9,343.6 431.4,343.6 431.8,343.8 432.3,343.6 432.7,343.1 433.2,343.6 433.6,344.0 434.1,343.4 434.5,343.4 435.0,342.8 435.4,344.1 435.9,343.2 436.3,343.1 436.8,343.2 437.2,343.0 437.7,343.4 438.1,344.2 438.6,343.9 439.0,344.3 439.5,344.3 439.9,343.1 440.4,343.8 440.8,344.4 441.3,344.8 441.7,342.9 442.2,342.9 442.3,343.9 442.6,343.4 443.1,343.1 443.5,343.9 444.0,343.3 444.4,342.5 444.9,343.7 445.3,343.8 445.8,344.1 446.2,344.3 446.7,343.9 447.1,343.7 447.6,343.5 448.0,343.0 448.5,343.7 448.9,344.5 449.4,344.3 449.8,345.1 450.3,343.9 450.7,343.1 451.2,344.5 451.6,344.7 452.1,343.5 452.5,343.3 453.0,344.3 453.4,344.6 453.9,343.7 454.3,344.2 454.8,344.0 455.2,343.8 455.7,343.8 456.1,344.6 456.6,344.4 457.0,344.2 457.5,343.3 457.9,345.6 458.4,344.2 458.8,344.7 459.3,344.2 459.7,345.1 460.2,344.1 460.6,345.0 461.1,344.9 461.5,345.5 462.0,344.5 462.4,344.8 462.9,345.1 463.3,346.3 463.8,344.5 464.2,345.5 464.7,345.0 465.1,345.6 465.6,345.8 466.0,345.6 466.5,345.7 466.9,345.8 467.4,345.4 467.8,345.6 468.3,344.9 468.7,345.7 469.2,345.5 469.3,345.8 469.6,346.3 470.1,346.2 470.5,346.3 471.0,346.7 471.4,344.9 471.9,346.4 472.3,346.3 472.8,346.3 473.2,345.7 473.7,346.7 474.1,347.1 474.6,347.1 475.0,346.6 475.5,347.0 475.9,347.2 476.4,347.8 476.8,347.5 477.3,347.0 477.7,347.1 478.2,347.2 478.6,347.3 479.1,347.0 479.5,347.7 480.0,347.0 480.4,347.0 480.9,347.7 481.3,347.3 481.8,347.5 482.2,346.6 482.7,348.2 483.1,347.9 483.6,347.9 484.0,348.3 484.5,348.2 484.9,347.8 485.4,349.3 485.8,348.1 486.3,348.9 486.7,349.5 487.2,348.2 487.6,348.7 488.1,348.3 488.5,349.4 489.0,348.7 489.4,348.4 489.9,349.8 490.3,349.6 490.8,348.8 491.2,350.0 491.7,349.5 492.1,350.9 492.6,350.5 493.0,349.4 493.5,349.6 493.9,349.4 494.4,350.0 494.8,350.1 495.3,350.5 495.7,350.3 496.2,349.5 496.6,350.0 497.1,351.2 497.5,351.2 498.0,350.6 498.4,350.7 498.6,350.7 498.9,350.9 499.3,350.1 499.8,351.5 500.2,350.8 500.7,351.3 501.1,350.0 501.6,351.5 502.0,352.2 502.5,350.4 502.9,352.5 503.4,352.1 503.8,351.5 504.3,351.2 504.7,352.7 505.2,352.4 505.6,352.7 506.1,352.3 506.5,352.1 507.0,353.1 507.4,352.3 507.9,353.4 508.3,352.1 508.8,352.6 509.2,352.5 509.7,354.0 510.1,352.5 510.6,353.0 511.0,354.0 511.5,353.9 511.9,355.1 512.4,355.0 512.8,354.5 513.3,354.6 513.7,353.4 514.2,354.0 514.6,354.4 515.1,354.7 515.5,354.1 516.0,354.5 516.4,354.7 516.9,355.8 517.3,355.6 517.8,355.3 518.2,355.5 518.7,355.9 519.1,355.5 519.6,355.9 520.0,355.2 520.5,356.6 520.9,356.9 521.4,356.7 521.8,356.9 522.3,357.0 522.7,358.0 523.2,357.2 523.6,356.5 524.1,356.8 524.5,357.9 525.0,358.2 525.4,358.2 525.9,358.4 526.3,358.2 526.8,357.4 527.2,358.0 527.7,357.6 527.9,358.4 528.1,357.9 528.6,358.9 529.0,358.9 529.5,358.1 529.9,359.7 530.4,359.8 530.8,358.9 531.3,359.8 531.7,360.3 532.2,359.9 532.6,360.7 533.1,360.5 533.5,361.2 534.0,360.9 534.4,360.9 534.9,361.4 535.3,361.7 535.8,361.6 536.2,361.4 536.7,361.4 537.1,361.8 537.6,361.9 538.0,362.5 538.5,362.7 538.9,362.7 539.4,363.0 539.8,363.2 540.3,364.2 540.7,364.2 541.2,363.4 541.6,364.1 542.1,363.9 542.5,364.3 543.0,364.4 543.4,364.4 543.9,364.2 544.3,363.8 544.8,365.4 545.2,366.1 545.7,365.2 546.1,366.2 546.6,365.9 547.0,366.5 547.5,366.1 547.9,366.6 548.4,366.9 548.8,365.9 549.3,367.4 549.7,367.4 550.2,366.4 550.6,368.3 551.1,368.1 551.5,368.4 552.0,368.7 552.4,368.5 552.9,368.4 553.3,368.9 553.8,369.1 553.9,370.6 554.2,370.5 554.7,369.5 555.1,369.7 555.6,370.3 556.0,370.6 556.5,370.2 556.9,370.2 557.4,372.0 557.8,371.7 558.3,370.5 558.7,370.6 559.2,371.4 559.6,372.1 560.1,372.5 560.5,372.3 561.0,371.8 561.4,373.0 561.9,373.4 562.3,373.3 562.8,373.3 563.2,374.1 563.7,373.9 564.1,373.6 564.6,374.5 565.0,373.9 565.5,375.4 565.9,375.3 566.4,374.7 566.8,375.6 567.3,376.4 567.7,374.8 568.2,376.1 568.6,377.2 569.1,375.7 569.5,376.7 570.0,376.2 570.4,377.2 570.9,376.1 571.3,376.8 571.8,377.6 572.2,378.1 572.7,378.5 573.1,378.7 573.6,379.3 574.0,379.3 574.5,379.5 574.9,378.8 575.4,379.4 575.8,381.4 576.3,381.1 576.7,380.5 576.7,380.5 577.2,380.8 577.6,380.3 578.1,381.7 578.5,380.7 579.0,381.0 579.4,382.4 579.9,380.4 580.3,381.9 580.8,381.0 581.2,381.7 581.7,382.2 582.1,382.3 582.6,382.8 583.0,382.5 583.5,383.0 583.9,382.7 584.4,383.3 584.8,383.0 585.3,384.3 585.7,383.4 586.2,384.7 586.6,384.3 587.1,384.5 587.5,385.5 588.0,385.1 588.4,384.2 588.9,385.7 589.3,384.0 589.8,385.9 590.2,385.7 590.7,385.4 591.1,386.3 591.6,386.3 592.0,387.7 592.5,386.5 592.9,388.0 593.4,387.8 593.8,386.9 594.3,386.9 594.7,388.2 595.2,387.5 595.6,387.8 596.1,387.7 596.3,387.2 596.5,387.7 597.0,387.5 597.4,387.3 597.9,388.1 598.3,389.3 598.8,389.4 599.2,388.5 599.7,388.8 600.1,389.1 600.6,389.6 601.0,389.2 601.5,388.8 601.9,389.0 602.4,389.9 602.8,390.8 603.3,389.2 603.7,388.5 604.2,390.1 604.6,389.7 605.1,389.9 605.5,390.6 606.0,390.1 606.4,389.4 606.9,389.1 607.3,390.3 607.8,389.7 608.2,390.6 608.7,389.8 609.1,390.4 609.6,389.9 610.0,390.5 610.5,390.5 610.9,391.2 611.4,391.6 611.8,390.8 612.3,390.5 612.7,392.1 613.2,391.3 613.6,391.5 614.1,391.5 614.5,392.0 615.0,391.8 615.4,391.6 615.8,391.7 615.9,390.8 616.3,390.9 616.8,391.2 617.2,391.3 617.7,391.3 618.1,391.5 618.6,391.3 619.0,391.1 619.5,390.4 619.9,391.8 620.4,391.7 620.8,390.9 621.3,391.7 621.7,391.6 622.2,391.4 622.6,390.4 623.1,390.8 623.5,391.1 624.0,392.3 624.4,391.0 624.9,391.3 625.3,390.8 625.8,391.2 626.2,391.7 626.7,390.3 627.1,389.9 627.6,391.8 628.0,391.5 628.5,391.2 628.9,392.0 629.4,392.0 629.8,390.3 630.0,391.4 630.3,392.1 630.7,391.1 631.2,391.3 631.6,392.0 632.1,391.3 632.5,390.7 633.0,390.9 633.4,390.5 633.9,391.5 634.3,390.2 634.8,391.6 635.2,390.1 635.7,390.9 636.1,390.0 636.6,390.5 637.0,391.2 637.5,391.1 637.9,391.1 638.4,390.2 638.8,390.2 639.3,390.2 639.7,390.3 640.2,389.6 640.6,390.3 641.1,389.7 641.5,390.0 642.0,389.5 642.4,389.5 642.9,388.6 643.3,388.7 643.8,388.0 644.2,388.5 644.7,388.4 645.1,388.8 645.6,387.5 646.0,389.9 646.5,387.9 646.9,388.5 647.4,388.3 647.8,386.2 648.3,387.3 648.7,388.2 649.2,385.9 649.5,387.6 649.6,386.7 650.1,386.8 650.5,387.1 651.0,385.8 651.4,386.8 651.9,386.3 652.3,386.1 652.8,386.8 653.2,388.2 653.7,386.4 654.1,386.4 654.6,386.0 655.0,385.5 655.5,385.9 655.9,386.5 656.4,385.6 656.8,385.9 657.3,385.2 657.7,386.6 658.2,384.2 658.6,385.3 659.1,385.2 659.5,384.9 660.0,384.0 660.4,383.9 660.9,384.3 661.3,384.4 661.8,383.5 662.2,383.5 662.7,384.3 663.1,384.4 663.6,383.4 664.0,383.2 664.5,383.1 664.9,384.7 665.4,383.5 665.8,383.1 666.3,383.6 666.7,384.2 667.2,383.4 667.6,381.9 668.1,382.5 668.5,382.2 669.0,382.1 669.0,381.6 669.4,382.0 669.9,381.5 670.3,382.1 670.8,381.8 671.2,380.9 671.7,380.6 672.1,381.2 672.6,381.6 673.0,381.4 673.5,381.0 673.9,379.1 674.4,380.5 674.8,380.2 675.3,380.3 675.7,379.7 676.2,380.0 676.6,379.7 677.1,381.5 677.5,380.2 678.0,379.6 678.4,379.5 678.9,379.3 679.3,379.4 679.8,378.9 680.2,379.0 680.7,379.4 681.1,379.2 681.6,378.8 682.0,379.2 682.5,378.4 682.9,377.6 683.4,377.1 683.8,377.5 684.3,377.7 684.7,377.8 685.2,378.1 685.6,377.0 686.1,376.7 686.5,377.5 687.0,377.6 687.4,376.5 687.9,376.8 688.3,377.2 688.8,376.5 689.2,376.2 689.7,374.9 690.1,376.7 690.6,376.2 691.0,375.7 691.5,375.3 691.9,374.7 692.4,375.2 692.8,375.1 693.3,375.6 693.7,374.2 694.2,375.5 694.6,374.6 695.1,375.1 695.5,373.8 696.0,374.4 696.4,374.7 696.9,374.0 697.3,373.0 697.8,373.5 698.2,373.8 698.4,372.7 698.7,372.6 699.1,373.4 699.6,372.6 700.0,373.4 700.5,372.3 700.9,371.8 701.4,372.2 701.8,373.3 702.3,371.9 702.7,372.3 703.2,372.3 703.6,371.5 704.1,372.5 704.5,371.9 705.0,371.9 705.4,370.6 705.9,370.4 706.3,369.8 706.8,371.1 707.2,370.9 707.7,371.3 708.1,371.6 708.6,370.5 709.0,370.4 709.5,370.7 709.9,371.1 710.4,369.7 710.8,370.4 711.3,369.8 711.7,369.6 712.2,370.1 712.6,369.1 713.1,368.9 713.5,369.7 714.0,369.2 714.4,369.0 714.9,368.9 715.3,369.1 715.8,368.5 716.2,369.0 716.7,368.7 717.1,369.2 717.6,369.0 718.0,368.6 718.5,367.9 718.9,368.0 719.4,367.5 719.8,369.3 720.3,367.4 720.7,367.8 721.2,368.1 721.6,366.5 722.1,366.6 722.5,366.8 723.0,366.3 723.4,366.1 723.9,366.4 724.3,367.2 724.8,366.8 725.2,366.3 725.7,366.2 726.1,365.2 726.6,366.4 727.0,366.1 727.5,365.1 727.7,365.8 727.9,365.5 728.4,365.2 728.8,364.9 729.3,364.9 729.7,364.7 730.2,365.3 730.6,365.2 731.1,365.0 731.5,364.6 732.0,364.4 732.4,365.6 732.9,363.4 733.3,364.9 733.8,364.4 734.2,364.1 734.7,363.7 735.1,363.7 735.6,363.1 736.0,362.8 736.5,363.4 736.9,362.5 737.4,363.7 737.8,363.8 738.3,361.2 738.7,362.1 739.2,363.0 739.6,362.8 740.1,362.7 740.5,362.7 741.0,362.8 741.4,362.8 741.9,363.2 742.3,362.1 742.8,362.4 743.2,361.0 743.7,361.7 744.1,361.0 744.6,362.3 745.0,362.7 745.5,361.6 745.9,360.5 746.4,361.1 746.8,361.0 747.3,361.0 747.7,361.4 748.2,361.2 748.6,359.1 749.1,361.3 749.5,360.1 750.0,360.0 750.4,361.0 750.9,360.0 751.3,359.3 751.8,359.2 752.2,359.9 752.7,360.2 753.1,360.5 753.6,359.5 754.0,359.2 754.5,360.3 754.9,359.0 755.4,360.0 755.8,359.2 756.3,359.2 756.7,358.8 757.0,359.1 757.2,358.6 757.6,358.4 758.1,358.6 758.5,358.3 759.0,358.7 759.4,358.5 759.9,358.2 760.3,358.2 760.8,358.1 761.2,359.1 761.7,358.0 762.1,357.6 762.6,357.7 763.0,358.2 763.5,357.6 763.9,357.6 764.4,357.4 764.8,357.6 765.3,357.6 765.7,357.6 766.2,356.4 766.6,356.6 767.1,355.7 767.5,357.5 768.0,357.6 768.4,357.6 768.9,356.9 769.3,357.4 769.8,356.6 770.2,356.5 770.7,355.7 771.1,356.0 771.6,356.0 772.0,356.8 772.5,357.1 772.9,355.9 773.4,356.3 773.8,356.2 774.3,355.5 774.7,354.9 775.2,355.4 775.6,355.0 776.1,355.5 776.5,355.5 777.0,355.5 777.4,355.4 777.9,355.7 778.3,354.9 778.8,355.8 779.2,354.3 779.7,355.2 780.1,355.3 780.6,354.6 781.0,354.1 781.5,355.3 781.9,354.5 782.4,355.3 782.8,355.2 783.3,354.7 783.7,354.7 784.2,355.2 784.6,354.8 785.1,354.0 785.5,354.6 786.0,354.7 786.2,354.5 786.4,354.5 786.9,354.2 787.3,354.2 787.8,353.7 788.2,353.4 788.7,354.8 789.1,353.8 789.6,354.2 790.0,353.2 790.5,354.1 790.9,353.5 791.4,355.5 791.8,353.3 792.3,353.3 792.7,354.3 793.2,354.4 793.6,352.6 794.1,353.8 794.5,354.2 795.0,353.0 795.4,354.0 795.9,353.3 796.3,353.0 796.8,353.3 797.2,353.2 797.7,352.7 798.1,354.6 798.6,353.1 799.0,352.9 799.5,353.7 799.9,353.2 800.0,353.9 800.4,353.0 800.8,353.3 801.3,353.1 801.7,353.1 802.2,352.8 802.6,352.8 803.1,353.7 803.5,352.3 804.0,352.3 804.4,352.3 804.9,352.8 805.3,352.6 805.8,352.8 806.2,351.5 806.7,352.3 807.1,351.9 807.6,351.8 808.0,352.0 808.5,350.7 808.9,351.9 809.4,351.7 809.8,350.8 810.3,351.4 810.7,352.2 811.2,351.1 811.6,351.6 812.1,351.1 812.5,350.7 813.0,350.6 813.4,350.8 813.9,351.7 814.3,351.4 814.8,350.5 815.2,351.4 815.7,350.8 816.1,350.4 816.6,351.0 817.0,350.3 817.3,349.9 817.5,351.5 817.9,349.8 818.4,351.1 818.8,350.0 819.3,350.8 819.7,350.7 820.2,350.6 820.6,349.7 821.1,350.8 821.5,350.9 822.0,350.4 822.4,350.9 822.9,351.5 823.3,350.6 823.8,351.2 824.2,350.4 824.7,351.3 825.1,351.5 825.6,352.5 826.0,351.7 826.5,351.5 826.9,352.0 827.4,350.8 827.8,352.0 828.3,351.1 828.7,351.1 829.2,352.1 829.6,351.7 830.1,352.3 830.5,350.9 831.0,351.9 831.4,351.5 831.9,351.7 832.3,350.8 832.8,352.4 833.2,352.1 833.7,351.5 834.1,351.4 834.6,351.7 835.0,353.0 835.5,352.2 835.9,352.2 836.4,352.7 836.8,352.5 837.3,352.7 837.7,353.0 838.2,352.9 838.6,353.2 839.1,352.2 839.5,352.9 839.7,352.7 840.0,353.0 840.4,353.0 840.9,352.7 841.3,353.0 841.8,353.7 842.2,353.0 842.7,352.7 843.1,353.8 843.6,354.1 844.0,353.6 844.5,353.9 844.9,353.5 845.4,354.0 845.8,354.8 846.3,354.7 846.7,354.5 847.2,354.4 847.6,353.8 848.1,355.0 848.5,355.2 849.0,355.7 849.4,356.3 849.9,355.6 850.3,356.0 850.8,355.1 851.2,356.5 851.7,356.4 852.1,356.8 852.6,356.6 853.0,356.6 853.5,357.3 853.9,356.3 854.4,357.2 854.8,357.5 855.3,356.7 855.7,356.6 856.2,357.6 856.6,357.6 857.1,358.0 857.5,358.1 858.0,357.5 858.4,358.2 858.9,358.8 859.3,358.1 859.8,358.3 860.2,357.9 860.4,359.0 860.7,359.7 861.1,358.1 861.6,359.3 862.0,359.5 862.5,358.8 862.9,359.1 863.4,358.8 863.8,359.1 864.3,359.7 864.7,360.1 865.2,359.9 865.6,360.4 866.1,360.2 866.5,359.6 867.0,361.1 867.4,361.1 867.9,360.2 868.3,361.6 868.8,361.0 869.2,361.0 869.7,362.0 870.1,359.8 870.6,360.4 871.0,361.7 871.5,361.3 871.9,361.1 872.4,362.5 872.8,362.1 873.3,361.2 873.7,361.7 874.2,362.6 874.6,363.2 875.1,361.3 875.5,362.6 876.0,362.4 876.4,361.7 876.9,362.7 877.3,362.0 877.8,362.7 878.2,364.0 878.7,363.5 879.1,363.7 879.6,363.7 880.0,363.7 880.5,364.2 880.9,363.1 881.4,363.6 881.8,364.4 882.3,363.7 882.7,363.9 883.2,364.9 883.6,365.2 884.1,364.1 884.5,364.1 885.0,364.9 885.4,364.9 885.9,364.5 886.3,365.2 886.3,365.2 886.8,365.1 887.2,366.7 887.7,365.9 888.1,365.7 888.6,365.9 889.0,367.1 889.5,366.1 889.9,365.2 890.4,365.9 890.8,365.8 891.3,365.6 891.7,366.1 892.2,366.2 892.6,366.1 893.1,366.0 893.5,366.7 894.0,365.5 894.4,366.9 894.9,366.5 895.3,366.8 895.8,365.4 896.2,367.7 896.7,365.9 897.1,366.5 897.6,367.3 898.0,366.8 898.5,366.9 898.9,366.0 899.4,367.1 899.8,367.5 900.3,367.8 900.7,367.4 901.2,367.7 901.6,367.9 902.1,367.4 902.5,367.5 903.0,369.0 903.4,367.6 903.9,368.8 904.3,368.2 904.8,369.1 905.2,368.0 905.7,368.7 906.1,368.7 906.6,368.5 907.0,368.9 907.0,368.3 907.5,368.8 907.9,368.7 908.4,369.4 908.8,369.0 909.3,368.4 909.7,369.1 910.2,369.3 910.6,369.0 911.1,370.3 911.5,369.9 912.0,370.2 912.4,369.4 912.9,369.7 913.3,370.6 913.8,369.4 914.2,370.4 914.7,370.4 915.1,370.2 915.6,370.6 916.0,370.0 916.5,370.8 916.9,370.2 917.4,370.2 917.8,371.8 918.3,370.7 918.7,370.1 919.2,371.8 919.6,371.0 920.1,369.6 920.5,371.6 921.0,372.2 921.4,372.0 921.9,372.9 922.3,372.0 922.8,372.5 923.2,371.7 923.7,372.4 924.1,373.3 924.6,372.8 925.0,372.8 925.5,371.7 925.9,372.7 926.4,372.3 926.8,373.5 926.9,372.7" stroke="#1a1ac4" stroke-width="1.7"/></g>
<path d="M110.7,503.1V41.9H950.5M101.4,41.9H110.7M941.2,41.9V499.0M109.7,494.3H950.5" fill="none" stroke="#151515" stroke-width="1.9"/><path d="M101.4,479.9H110.7M101.4,406.9H110.7M101.4,333.9H110.7M101.4,260.9H110.7M101.4,187.9H110.7M101.4,114.9H110.7M105.5,443.4H110.7M105.5,370.4H110.7M105.5,297.4H110.7M105.5,224.4H110.7M105.5,151.4H110.7M105.5,78.4H110.7M221.3,494.3V503.1M332.1,494.3V503.1M442.9,494.3V503.1M553.7,494.3V503.1M664.5,494.3V503.1M775.3,494.3V503.1M886.1,494.3V503.1M165.9,494.3V499.0M276.7,494.3V499.0M387.5,494.3V499.0M498.3,494.3V499.0M609.1,494.3V499.0M719.9,494.3V499.0M830.7,494.3V499.0M941.5,494.3V499.0M941.2,429.7H950.5M941.2,365H950.5M941.2,300.4H950.5M941.2,235.8H950.5M941.2,171.2H950.5M941.2,106.5H950.5M941.2,462H946.6M941.2,397.4H946.6M941.2,332.7H946.6M941.2,268.1H946.6M941.2,203.5H946.6M941.2,138.8H946.6M941.2,74.2H946.6" fill="none" stroke="#151515" stroke-width="1.8"/>
<g font-size="17.4"><text x="95.3" y="485" text-anchor="end">-100</text><text x="95.3" y="412" text-anchor="end">-50</text><text x="95.3" y="339" text-anchor="end">0</text><text x="95.3" y="266" text-anchor="end">50</text><text x="95.3" y="193" text-anchor="end">100</text><text x="95.3" y="120" text-anchor="end">150</text><text x="95.3" y="47" text-anchor="end">200</text><text x="110.5" y="522.1" text-anchor="middle">0</text><text x="221.3" y="522.1" text-anchor="middle">4</text><text x="332.1" y="522.1" text-anchor="middle">8</text><text x="442.9" y="522.1" text-anchor="middle">12</text><text x="553.7" y="522.1" text-anchor="middle">16</text><text x="664.5" y="522.1" text-anchor="middle">20</text><text x="775.3" y="522.1" text-anchor="middle">24</text><text x="886.1" y="522.1" text-anchor="middle">28</text><text x="956.3" y="499.4">0</text><text x="956.3" y="434.8">5</text><text x="956.3" y="370.1">10</text><text x="956.3" y="305.5">15</text><text x="956.3" y="240.9">20</text><text x="956.3" y="176.3">25</text><text x="956.3" y="111.6">30</text><text x="956.3" y="47">35</text></g><text x="508.7" y="31" font-size="20.6" text-anchor="middle" textLength="366" lengthAdjust="spacingAndGlyphs">Curing - Residual Strains OF (5 FBGs)</text><text x="526" y="557.1" font-size="21" text-anchor="middle">Time [h]</text><text x="522" y="589.6" font-size="20" text-anchor="middle">a)</text><text transform="translate(44,289.9) rotate(-90) scale(1,1.085)" font-size="21.7" text-anchor="middle">Strain [<tspan font-size="17.5">µ</tspan><tspan font-size="28">ε</tspan>]</text><text transform="translate(1002.2,282.7) rotate(-90) scale(1,1.07)" font-size="21.5" text-anchor="middle">T [°C]</text>
<g stroke-width="1.6" fill="none"><line x1="160" x2="206.4" y1="372" y2="372" stroke="#0a0a0a"/><line x1="160" x2="206.4" y1="397.2" y2="397.2" stroke="#fb22dc"/><line x1="160" x2="206.4" y1="422.4" y2="422.4" stroke="#00dc3c"/><line x1="160" x2="206.4" y1="447.6" y2="447.6" stroke="#00e4f0"/><line x1="160" x2="206.4" y1="472.8" y2="472.8" stroke="#1a1ac4"/><line x1="797.4" x2="845.4" y1="124.9" y2="124.9" stroke="#808080"/><line x1="797.4" x2="845.4" y1="151.5" y2="151.5" stroke="#ea1212"/></g><g font-size="19.6"><text x="211.5" y="378.3" textLength="64.9" lengthAdjust="spacingAndGlyphs">FBG_1</text><text x="211.5" y="403.5" textLength="64.9" lengthAdjust="spacingAndGlyphs">FBG_2</text><text x="211.5" y="428.7" textLength="64.9" lengthAdjust="spacingAndGlyphs">FBG_3</text><text x="211.5" y="453.9" textLength="64.9" lengthAdjust="spacingAndGlyphs">FBG_4</text><text x="211.5" y="479.1" textLength="64.9" lengthAdjust="spacingAndGlyphs">FBG_5</text><text x="853" y="131.8">TC_1</text><text x="853" y="158.4">TC_2</text></g>
<g><line x1="119.9" x2="119.9" y1="651.7" y2="1103.8" stroke="#dedede" stroke-width="1"/><line x1="197.2" x2="197.2" y1="651.7" y2="1103.8" stroke="#dedede" stroke-width="1"/><line x1="274.5" x2="274.5" y1="651.7" y2="1103.8" stroke="#dedede" stroke-width="1"/><line x1="351.8" x2="351.8" y1="651.7" y2="1103.8" stroke="#dedede" stroke-width="1"/><line x1="429.1" x2="429.1" y1="651.7" y2="1103.8" stroke="#dedede" stroke-width="1"/><line x1="506.4" x2="506.4" y1="651.7" y2="1103.8" stroke="#dedede" stroke-width="1"/><line x1="583.7" x2="583.7" y1="651.7" y2="1103.8" stroke="#dedede" stroke-width="1"/><line x1="661" x2="661" y1="651.7" y2="1103.8" stroke="#dedede" stroke-width="1"/><line x1="738.3" x2="738.3" y1="651.7" y2="1103.8" stroke="#dedede" stroke-width="1"/><line x1="815.6" x2="815.6" y1="651.7" y2="1103.8" stroke="#dedede" stroke-width="1"/><line x1="892.9" x2="892.9" y1="651.7" y2="1103.8" stroke="#dedede" stroke-width="1"/><line x1="110.5" x2="940.9" y1="1084.1" y2="1084.1" stroke="#dedede" stroke-width="1"/><line x1="110.5" x2="940.9" y1="1050.8" y2="1050.8" stroke="#dedede" stroke-width="1"/><line x1="110.5" x2="940.9" y1="1017.5" y2="1017.5" stroke="#dedede" stroke-width="1"/><line x1="110.5" x2="940.9" y1="984.2" y2="984.2" stroke="#dedede" stroke-width="1"/><line x1="110.5" x2="940.9" y1="951" y2="951" stroke="#dedede" stroke-width="1"/><line x1="110.5" x2="940.9" y1="917.7" y2="917.7" stroke="#dedede" stroke-width="1"/><line x1="110.5" x2="940.9" y1="884.4" y2="884.4" stroke="#dedede" stroke-width="1"/><line x1="110.5" x2="940.9" y1="851.1" y2="851.1" stroke="#dedede" stroke-width="1"/><line x1="110.5" x2="940.9" y1="817.8" y2="817.8" stroke="#dedede" stroke-width="1"/><line x1="110.5" x2="940.9" y1="784.5" y2="784.5" stroke="#dedede" stroke-width="1"/><line x1="110.5" x2="940.9" y1="751.2" y2="751.2" stroke="#dedede" stroke-width="1"/><line x1="110.5" x2="940.9" y1="717.9" y2="717.9" stroke="#dedede" stroke-width="1"/><line x1="110.5" x2="940.9" y1="684.6" y2="684.6" stroke="#dedede" stroke-width="1"/></g>
<g fill="none" stroke-linejoin="round" stroke-linecap="round"><path d="M119.7,983.4 120.2,983.3 120.7,983.2 121.2,983.0 121.7,982.7 122.2,982.4 122.7,982.0 123.0,981.8 123.2,981.6 123.7,981.1 124.2,980.5 124.7,979.7 125.2,978.9 125.7,977.9 126.2,976.8 126.7,975.7 127.2,974.5 127.7,973.3 128.0,972.5 128.2,972.0 128.7,970.5 129.2,968.8 129.7,966.9 130.2,964.8 130.7,962.7 131.2,960.4 131.7,958.2 132.2,956.0 132.7,953.8 132.9,952.9 133.2,951.6 133.7,949.4 134.2,947.2 134.7,945.0 135.2,942.7 135.7,940.5 136.2,938.1 136.7,935.8 137.2,933.5 137.7,931.1 137.8,930.6 138.2,928.6 138.7,926.0 139.2,923.3 139.7,920.6 140.2,917.9 140.7,915.4 141.2,912.9 141.7,910.8 142.0,909.6 142.2,908.9 142.7,907.2 143.2,905.6 143.7,904.1 144.2,902.7 144.7,901.4 144.8,901.2 145.2,900.3 145.7,899.4 146.2,898.5 146.7,897.7 147.2,896.8 147.7,895.8 148.2,894.5 148.3,894.2 148.7,892.7 149.2,890.3 149.7,887.4 150.2,884.3 150.4,883.1 150.7,881.3 151.2,878.0 151.7,874.5 152.2,870.9 152.7,867.2 153.2,863.4 153.7,859.5 153.9,857.9 154.2,855.5 154.7,851.4 155.2,847.2 155.7,842.8 156.2,838.4 156.7,834.0 157.2,829.5 157.7,825.2 158.2,820.9 158.7,816.5 159.2,812.1 159.7,807.7 160.2,803.3 160.7,798.9 161.2,794.6 161.7,790.3 162.2,786.1 162.7,781.9 163.0,779.5 163.2,777.9 163.7,773.8 164.2,769.7 164.7,765.6 165.2,761.5 165.7,757.5 166.2,753.6 166.7,749.9 167.2,746.3 167.7,742.9 168.2,739.7 168.3,739.1 168.7,736.7 169.2,733.8 169.7,731.1 170.2,728.4 170.7,725.8 171.2,723.3 171.7,721.0 172.2,718.7 172.7,716.5 173.2,714.3 173.6,712.7 173.7,712.3 174.2,710.3 174.7,708.3 175.2,706.4 175.7,704.6 176.2,702.8 176.7,701.1 177.2,699.5 177.7,698.0 178.2,696.6 178.7,695.4 178.8,695.2 179.2,694.3 179.7,693.2 180.2,692.2 180.7,691.2 181.2,690.3 181.7,689.4 182.2,688.6 182.7,687.9 183.2,687.2 183.7,686.7 184.1,686.4 184.2,686.3 184.7,686.0 185.2,685.6 185.7,685.3 186.2,685.0 186.7,684.6 187.2,684.4 187.7,684.1 188.2,683.9 188.7,683.7 189.2,683.5 189.7,683.4 190.2,683.3 190.7,683.2 191.1,683.2 191.2,683.2 191.7,683.2 192.2,683.3 192.7,683.4 193.2,683.5 193.7,683.6 194.2,683.8 194.7,684.0 195.2,684.1 195.7,684.4 196.2,684.6 196.7,684.8 197.2,685.0 197.7,685.3 198.2,685.5 198.7,685.8 199.2,686.1 199.7,686.4 200.2,686.8 200.7,687.2 201.2,687.6 201.7,688.1 202.2,688.6 202.7,689.1 203.2,689.6 203.7,690.1 204.2,690.7 204.7,691.2 205.2,691.7 205.7,692.2 206.2,692.7 206.7,693.1 207.0,693.4 207.2,693.6 207.7,694.0 208.2,694.5 208.7,694.9 209.2,695.4 209.7,695.8 210.2,696.3 210.7,696.7 211.2,697.2 211.7,697.6 212.2,698.1 212.7,698.5 213.2,698.9 213.7,699.4 214.2,699.8 214.7,700.2 215.2,700.7 215.7,701.1 216.2,701.5 216.7,701.9 217.2,702.3 217.7,702.7 218.2,703.1 218.7,703.5 219.2,703.8 219.3,703.9 219.7,704.2 220.2,704.5 220.7,704.9 221.2,705.2 221.7,705.6 222.2,705.9 222.7,706.3 223.2,706.6 223.7,707.0 224.2,707.3 224.7,707.6 225.2,708.0 225.7,708.3 226.2,708.6 226.7,709.0 227.2,709.3 227.7,709.6 228.2,709.9 228.7,710.2 229.2,710.5 229.7,710.8 230.2,711.1 230.7,711.4 231.2,711.7 231.7,711.9 232.2,712.2 232.7,712.5 233.2,712.8 233.7,713.0 234.2,713.3 234.7,713.5 235.2,713.8 235.7,714.0 236.2,714.2 236.7,714.5 236.8,714.5 237.2,714.7 237.7,714.9 238.2,715.1 238.7,715.3 239.2,715.5 239.7,715.7 240.2,715.9 240.7,716.2 241.2,716.4 241.7,716.6 242.2,716.8 242.7,716.9 243.2,717.1 243.7,717.3 244.2,717.5 244.7,717.7 245.2,717.9 245.7,718.1 246.2,718.2 246.7,718.4 247.2,718.6 247.7,718.7 248.2,718.9 248.7,719.0 249.2,719.2 249.7,719.4 250.2,719.5 250.7,719.6 251.2,719.8 251.7,719.9 252.2,720.1 252.7,720.2 253.2,720.3 253.7,720.4 254.2,720.6 254.4,720.6 254.7,720.7 255.2,720.8 255.7,720.9 256.2,721.0 256.7,721.1 257.2,721.2 257.7,721.3 258.2,721.4 258.7,721.5 259.2,721.6 259.7,721.7 260.2,721.8 260.7,721.9 261.2,722.0 261.7,722.1 262.2,722.2 262.7,722.3 263.2,722.4 263.7,722.4 264.2,722.5 264.7,722.6 265.2,722.7 265.7,722.8 266.2,722.8 266.7,722.9 267.2,723.0 267.7,723.1 268.2,723.1 268.7,723.2 269.2,723.3 269.7,723.3 270.2,723.4 270.7,723.4 271.2,723.5 271.7,723.6 272.0,723.6 272.2,723.6 272.7,723.7 273.2,723.7 273.7,723.8 274.2,723.8 274.7,723.9 275.2,723.9 275.7,724.0 276.2,724.0 276.7,724.1 277.2,724.1 277.7,724.2 278.2,724.2 278.7,724.3 279.2,724.3 279.7,724.4 280.2,724.4 280.7,724.4 281.2,724.5 281.7,724.5 282.2,724.5 282.7,724.6 283.2,724.6 283.7,724.6 284.2,724.7 284.7,724.7 285.0,724.7 285.2,724.7 285.7,724.7 286.2,724.7 286.7,724.8 287.2,724.8 287.7,724.8 288.2,724.8 288.7,724.9 289.2,724.9 289.7,724.9 290.2,724.9 290.7,724.9 291.2,724.9 291.7,725.0 292.2,725.0 292.7,725.0 293.2,725.0 293.7,725.0 294.2,725.1 294.7,725.1 295.2,725.1 295.7,725.1 296.2,725.1 296.7,725.1 297.2,725.2 297.7,725.2 298.2,725.2 298.7,725.2 299.2,725.2 299.7,725.2 300.2,725.3 300.7,725.3 301.2,725.3 301.7,725.3 302.2,725.3 302.7,725.3 303.2,725.3 303.7,725.4 304.2,725.4 304.7,725.4 305.2,725.4 305.7,725.4 306.2,725.4 306.7,725.4 307.2,725.5 307.7,725.5 308.2,725.5 308.7,725.5 309.2,725.5 309.7,725.5 310.2,725.5 310.7,725.6 311.2,725.6 311.7,725.6 312.2,725.6 312.7,725.6 313.2,725.6 313.7,725.6 314.2,725.6 314.7,725.6 315.2,725.7 315.7,725.7 316.2,725.7 316.7,725.7 317.2,725.7 317.7,725.7 318.2,725.7 318.7,725.7 319.2,725.7 319.7,725.8 320.2,725.8 320.7,725.8 321.2,725.8 321.7,725.8 322.2,725.8 322.7,725.8 323.2,725.8 323.7,725.8 324.2,725.8 324.7,725.8 325.2,725.9 325.7,725.9 326.2,725.9 326.7,725.9 327.2,725.9 327.7,725.9 328.2,725.9 328.7,725.9 329.2,725.9 329.7,725.9 330.2,725.9 330.7,725.9 331.2,725.9 331.7,726.0 332.2,726.0 332.7,726.0 333.2,726.0 333.7,726.0 334.2,726.0 334.7,726.0 335.2,726.0 335.7,726.0 336.2,726.0 336.7,726.0 337.2,726.0 337.7,726.0 338.2,726.0 338.7,726.0 339.2,726.0 339.7,726.1 340.2,726.1 340.7,726.1 341.2,726.1 341.7,726.1 342.2,726.1 342.7,726.1 343.2,726.1 343.7,726.1 344.2,726.1 344.4,726.1 344.7,726.1 345.2,726.1 345.7,726.1 346.2,726.1 346.7,726.1 347.2,726.1 347.7,726.1 348.2,726.1 348.7,726.1 349.2,726.1 349.7,726.1 350.2,726.1 350.7,726.2 351.2,726.2 351.7,726.2 352.2,726.2 352.7,726.2 353.2,726.2 353.7,726.2 354.2,726.2 354.7,726.2 355.2,726.2 355.7,726.2 356.2,726.2 356.7,726.2 357.2,726.2 357.7,726.2 358.2,726.2 358.7,726.2 359.2,726.2 359.7,726.2 360.2,726.2 360.7,726.2 361.2,726.2 361.7,726.2 362.2,726.2 362.7,726.2 363.2,726.2 363.7,726.2 364.2,726.2 364.7,726.3 365.2,726.3 365.7,726.3 366.2,726.3 366.7,726.3 367.2,726.3 367.7,726.3 368.2,726.3 368.7,726.3 369.2,726.3 369.7,726.3 370.2,726.3 370.7,726.3 371.2,726.3 371.7,726.3 372.2,726.3 372.7,726.3 373.2,726.3 373.7,726.3 374.2,726.3 374.7,726.3 375.2,726.3 375.7,726.3 376.2,726.3 376.7,726.3 377.2,726.3 377.7,726.3 378.2,726.3 378.7,726.3 379.2,726.3 379.7,726.3 380.2,726.3 380.7,726.3 381.2,726.3 381.7,726.3 382.2,726.3 382.7,726.3 383.2,726.3 383.7,726.3 384.2,726.3 384.7,726.4 385.2,726.4 385.7,726.4 386.2,726.4 386.7,726.4 387.2,726.4 387.7,726.4 388.2,726.4 388.7,726.4 389.2,726.4 389.7,726.4 390.2,726.4 390.7,726.4 391.2,726.4 391.7,726.4 392.2,726.4 392.7,726.4 393.2,726.4 393.7,726.4 394.2,726.4 394.7,726.4 395.2,726.4 395.7,726.4 396.2,726.4 396.7,726.4 397.2,726.4 397.7,726.4 398.2,726.4 398.7,726.4 399.2,726.4 399.7,726.4 400.0,726.4 400.2,726.4 400.7,726.4 401.2,726.4 401.7,726.4 402.2,726.4 402.7,726.4 403.2,726.4 403.7,726.4 404.2,726.4 404.7,726.4 405.2,726.4 405.7,726.4 406.2,726.4 406.7,726.4 407.2,726.4 407.7,726.4 408.2,726.4 408.7,726.4 409.2,726.4 409.7,726.4 410.2,726.4 410.7,726.4 411.2,726.4 411.7,726.4 412.2,726.4 412.7,726.4 413.2,726.4 413.7,726.4 414.2,726.4 414.7,726.4 415.2,726.4 415.7,726.4 416.2,726.4 416.7,726.4 417.2,726.4 417.7,726.4 418.2,726.4 418.7,726.4 419.2,726.4 419.7,726.4 420.2,726.4 420.7,726.4 421.2,726.4 421.7,726.4 422.2,726.4 422.7,726.4 423.2,726.4 423.7,726.4 424.2,726.4 424.7,726.4 425.2,726.4 425.7,726.4 426.2,726.4 426.7,726.4 427.2,726.4 427.7,726.4 428.2,726.4 428.7,726.4 429.2,726.4 429.7,726.4 430.2,726.4 430.7,726.4 431.2,726.4 431.7,726.4 432.2,726.4 432.7,726.4 433.2,726.4 433.7,726.4 434.2,726.4 434.7,726.4 435.2,726.4 435.7,726.4 436.2,726.4 436.7,726.4 437.2,726.4 437.7,726.4 438.2,726.4 438.7,726.4 439.2,726.4 439.7,726.4 440.2,726.4 440.7,726.4 441.2,726.4 441.7,726.4 442.2,726.4 442.7,726.4 443.2,726.4 443.7,726.4 444.2,726.4 444.7,726.4 445.2,726.4 445.7,726.4 446.2,726.4 446.7,726.4 447.2,726.4 447.7,726.4 448.2,726.4 448.7,726.4 449.2,726.4 449.7,726.5 450.2,726.5 450.7,726.5 451.2,726.5 451.7,726.5 452.2,726.5 452.7,726.5 453.2,726.5 453.7,726.5 454.2,726.5 454.7,726.5 455.2,726.5 455.7,726.5 456.2,726.5 456.7,726.5 457.2,726.5 457.7,726.5 458.2,726.5 458.7,726.5 459.2,726.5 459.7,726.5 460.2,726.5 460.7,726.5 461.2,726.5 461.7,726.5 462.2,726.5 462.7,726.5 463.2,726.5 463.7,726.5 464.2,726.5 464.7,726.5 465.2,726.5 465.7,726.5 466.2,726.5 466.7,726.5 467.2,726.5 467.5,726.5 467.7,726.5 468.2,726.6 468.7,726.9 469.2,727.2 469.7,727.6 470.2,728.0 470.7,728.4 470.8,728.5 471.2,728.9 471.7,729.5 472.2,730.2 472.7,731.1 473.2,732.0 473.7,733.0 474.2,734.0 474.7,735.1 474.8,735.3 475.2,736.3 475.7,737.6 476.2,739.2 476.7,740.8 477.2,742.4 477.7,743.9 478.2,745.3 478.3,745.5 478.7,746.4 479.2,747.5 479.7,748.5 480.2,749.5 480.7,750.4 481.2,751.4 481.5,752.0 481.7,752.4 482.2,753.4 482.7,754.4 483.2,755.3 483.7,756.3 484.2,757.3 484.7,758.4 485.2,759.5 485.4,760.0 485.7,760.8 486.2,762.1 486.7,763.6 487.2,765.1 487.7,766.7 488.2,768.4 488.7,770.1 489.2,771.8 489.7,773.5 490.2,775.2 490.7,776.8 491.1,778.1 491.2,778.4 491.7,780.0 492.2,781.6 492.7,783.2 493.2,784.8 493.7,786.3 494.2,787.9 494.7,789.5 495.2,791.1 495.7,792.7 496.2,794.3 496.7,795.9 497.2,797.4 497.7,799.0 498.2,800.6 498.7,802.2 499.2,803.8 499.4,804.4 499.7,805.4 500.2,806.9 500.7,808.5 501.2,810.1 501.7,811.8 502.2,813.4 502.7,815.0 503.2,816.6 503.7,818.2 504.2,819.7 504.7,821.3 505.2,822.9 505.7,824.4 506.2,825.9 506.4,826.5 506.7,827.4 507.2,828.9 507.7,830.3 508.2,831.8 508.7,833.2 509.2,834.7 509.7,836.1 510.2,837.5 510.7,838.9 511.2,840.3 511.7,841.6 512.2,843.0 512.5,843.8 512.7,844.3 513.2,845.7 513.7,847.0 514.2,848.3 514.7,849.6 515.2,850.9 515.7,852.2 516.2,853.4 516.7,854.7 517.2,855.9 517.7,857.2 518.2,858.4 518.7,859.6 519.2,860.8 519.7,862.0 520.2,863.2 520.7,864.3 521.2,865.4 521.7,866.6 522.2,867.7 522.7,868.8 523.2,869.9 523.7,871.0 524.2,872.1 524.7,873.1 525.2,874.2 525.7,875.3 526.2,876.3 526.7,877.4 527.2,878.4 527.7,879.4 528.2,880.5 528.7,881.5 529.2,882.5 529.7,883.5 530.2,884.5 530.7,885.4 531.2,886.4 531.7,887.4 532.2,888.3 532.7,889.3 533.2,890.2 533.7,891.1 534.0,891.7 534.2,892.1 534.7,893.0 535.2,893.9 535.7,894.8 536.2,895.7 536.7,896.6 537.2,897.5 537.7,898.4 538.2,899.2 538.7,900.1 539.2,900.9 539.7,901.8 540.2,902.6 540.7,903.4 541.2,904.2 541.7,905.0 542.2,905.8 542.7,906.5 543.1,907.1 543.2,907.2 543.7,908.0 544.2,908.7 544.7,909.4 545.2,910.1 545.7,910.8 546.2,911.5 546.7,912.1 547.2,912.8 547.7,913.4 548.2,914.1 548.7,914.7 549.2,915.3 549.7,916.0 550.2,916.6 550.7,917.2 551.2,917.8 551.7,918.3 552.1,918.8 552.2,918.9 552.7,919.5 553.2,920.1 553.7,920.6 554.2,921.2 554.7,921.7 555.2,922.2 555.7,922.8 556.2,923.3 556.7,923.8 557.2,924.3 557.7,924.8 558.2,925.3 558.7,925.8 559.2,926.3 559.7,926.8 560.2,927.3 560.7,927.7 561.2,928.2 561.7,928.7 562.2,929.1 562.7,929.5 563.2,930.0 563.7,930.4 564.2,930.8 564.7,931.3 565.2,931.7 565.7,932.1 566.2,932.5 566.7,932.9 567.2,933.3 567.7,933.7 568.2,934.0 568.7,934.4 569.2,934.8 569.7,935.1 570.2,935.5 570.7,935.9 571.2,936.2 571.7,936.5 572.2,936.9 572.7,937.2 573.2,937.5 573.7,937.9 574.2,938.2 574.7,938.5 575.2,938.8 575.7,939.1 576.2,939.5 576.7,939.8 577.2,940.1 577.7,940.4 578.2,940.7 578.7,941.0 579.2,941.3 579.7,941.5 580.2,941.8 580.7,942.1 581.2,942.4 581.7,942.7 582.2,942.9 582.7,943.2 583.2,943.5 583.4,943.6 583.7,943.8 584.2,944.0 584.7,944.3 585.2,944.6 585.7,944.8 586.2,945.1 586.7,945.3 587.2,945.6 587.7,945.9 588.2,946.1 588.7,946.4 589.2,946.6 589.7,946.8 590.2,947.1 590.7,947.3 591.2,947.6 591.7,947.8 592.2,948.0 592.7,948.3 593.2,948.5 593.7,948.7 594.2,948.9 594.7,949.2 595.2,949.4 595.7,949.6 596.2,949.8 596.7,950.0 597.2,950.2 597.4,950.3 597.7,950.4 598.2,950.6 598.7,950.8 599.2,951.0 599.7,951.2 600.2,951.4 600.7,951.6 601.2,951.8 601.7,952.0 602.2,952.2 602.7,952.4 603.2,952.6 603.7,952.8 604.2,952.9 604.7,953.1 605.2,953.3 605.7,953.5 606.2,953.7 606.7,953.8 607.2,954.0 607.7,954.2 608.2,954.4 608.7,954.5 609.2,954.7 609.7,954.9 610.2,955.0 610.7,955.2 611.2,955.3 611.7,955.5 612.2,955.6 612.7,955.8 613.2,955.9 613.7,956.1 614.2,956.2 614.7,956.3 615.2,956.4 615.4,956.5 615.7,956.6 616.2,956.7 616.7,956.8 617.2,956.9 617.7,957.1 618.2,957.2 618.7,957.3 619.2,957.4 619.7,957.5 620.2,957.6 620.7,957.8 621.2,957.9 621.7,958.0 622.2,958.1 622.7,958.2 623.2,958.3 623.7,958.4 624.2,958.5 624.7,958.6 625.2,958.7 625.7,958.8 626.2,958.9 626.7,959.0 627.2,959.1 627.7,959.2 628.2,959.2 628.7,959.3 629.2,959.4 629.7,959.5 630.2,959.6 630.7,959.7 631.2,959.7 631.7,959.8 632.2,959.9 632.7,960.0 633.2,960.1 633.5,960.1 633.7,960.1 634.2,960.2 634.7,960.3 635.2,960.3 635.7,960.4 636.2,960.5 636.7,960.5 637.2,960.6 637.7,960.7 638.2,960.7 638.7,960.8 639.2,960.9 639.7,960.9 640.2,961.0 640.7,961.0 641.2,961.1 641.7,961.1 642.2,961.2 642.7,961.3 643.2,961.3 643.7,961.4 644.2,961.4 644.7,961.5 645.2,961.5 645.7,961.6 646.2,961.6 646.7,961.7 647.2,961.7 647.7,961.8 648.2,961.8 648.7,961.9 649.2,961.9 649.7,962.0 650.2,962.1 650.7,962.1 651.2,962.2 651.6,962.2 651.7,962.2 652.2,962.3 652.7,962.3 653.2,962.4 653.7,962.4 654.2,962.5 654.7,962.5 655.2,962.6 655.7,962.6 656.2,962.7 656.7,962.7 657.2,962.8 657.7,962.8 658.2,962.9 658.7,962.9 659.2,963.0 659.7,963.0 660.2,963.0 660.7,963.1 661.2,963.1 661.7,963.2 662.2,963.2 662.7,963.3 663.2,963.3 663.7,963.4 664.2,963.4 664.7,963.5 665.0,963.5 665.2,963.5 665.7,963.6 666.2,963.6 666.7,963.7 667.2,963.7 667.7,963.8 668.2,963.8 668.7,963.9 669.2,963.9 669.7,964.0 670.2,964.0 670.7,964.0 671.2,964.1 671.7,964.1 672.2,964.2 672.7,964.2 673.2,964.3 673.7,964.3 674.2,964.4 674.4,964.4 674.7,964.4 675.2,964.5 675.7,964.5 676.2,964.6 676.7,964.6 677.2,964.7 677.7,964.7 678.2,964.8 678.7,964.8 679.2,964.9 679.7,964.9 680.2,964.9 680.7,965.0 681.2,965.0 681.7,965.1 682.2,965.1 682.7,965.2 683.2,965.2 683.7,965.3 684.2,965.3 684.7,965.4 685.2,965.4 685.7,965.5 686.2,965.5 686.7,965.6 687.2,965.6 687.7,965.7 688.2,965.7 688.7,965.7 689.2,965.8 689.7,965.8 690.2,965.9 690.7,965.9 691.2,966.0 691.7,966.0 692.2,966.1 692.7,966.1 693.2,966.1 693.7,966.2 694.2,966.2 694.7,966.3 695.2,966.3 695.7,966.4 696.2,966.4 696.7,966.4 697.2,966.5 697.7,966.5 698.2,966.6 698.7,966.6 699.2,966.6 699.7,966.7 700.0,966.7 700.2,966.7 700.7,966.8 701.2,966.8 701.7,966.8 702.2,966.9 702.7,966.9 703.2,966.9 703.7,967.0 704.2,967.0 704.7,967.0 705.2,967.1 705.7,967.1 706.2,967.2 706.7,967.2 707.2,967.2 707.7,967.3 708.2,967.3 708.7,967.3 709.2,967.4 709.7,967.4 710.2,967.4 710.7,967.5 711.2,967.5 711.7,967.5 712.2,967.6 712.7,967.6 713.2,967.6 713.7,967.7 714.2,967.7 714.7,967.7 715.2,967.8 715.7,967.8 716.2,967.8 716.7,967.9 717.2,967.9 717.7,967.9 718.2,968.0 718.7,968.0 719.2,968.0 719.7,968.1 720.2,968.1 720.7,968.1 721.2,968.2 721.7,968.2 722.2,968.2 722.7,968.2 723.2,968.3 723.7,968.3 724.2,968.3 724.7,968.4 725.2,968.4 725.7,968.4 726.2,968.5 726.7,968.5 727.2,968.5 727.7,968.5 728.2,968.6 728.7,968.6 729.2,968.6 729.7,968.7 730.2,968.7 730.7,968.7 731.2,968.7 731.7,968.8 732.2,968.8 732.7,968.8 733.2,968.8 733.7,968.9 734.2,968.9 734.7,968.9 735.2,968.9 735.7,969.0 736.2,969.0 736.7,969.0 737.2,969.1 737.7,969.1 738.2,969.1 738.7,969.1 739.2,969.1 739.7,969.2 740.2,969.2 740.7,969.2 741.2,969.2 741.7,969.3 742.2,969.3 742.7,969.3 743.2,969.3 743.7,969.4 744.2,969.4 744.7,969.4 745.2,969.4 745.7,969.5 746.2,969.5 746.7,969.5 747.2,969.5 747.7,969.6 748.2,969.6 748.7,969.6 749.2,969.6 749.7,969.6 750.2,969.7 750.7,969.7 751.2,969.7 751.7,969.7 752.2,969.8 752.7,969.8 753.2,969.8 753.7,969.8 754.2,969.9 754.7,969.9 755.2,969.9 755.7,969.9 756.2,969.9 756.7,970.0 757.2,970.0 757.7,970.0 758.2,970.0 758.7,970.0 759.2,970.1 759.7,970.1 760.2,970.1 760.7,970.1 761.2,970.2 761.7,970.2 762.2,970.2 762.7,970.2 763.2,970.2 763.7,970.3 764.2,970.3 764.7,970.3 765.2,970.3 765.7,970.3 766.2,970.4 766.7,970.4 767.2,970.4 767.7,970.4 768.2,970.4 768.7,970.5 769.2,970.5 769.7,970.5 770.2,970.5 770.7,970.5 771.2,970.6 771.7,970.6 772.2,970.6 772.7,970.6 773.2,970.6 773.7,970.7 774.2,970.7 774.7,970.7 775.2,970.7 775.7,970.7 776.2,970.8 776.7,970.8 777.2,970.8 777.7,970.8 778.2,970.8 778.7,970.9 779.2,970.9 779.7,970.9 780.2,970.9 780.7,970.9 781.2,971.0 781.7,971.0 782.2,971.0 782.7,971.0 783.2,971.0 783.7,971.0 784.2,971.1 784.7,971.1 785.2,971.1 785.7,971.1 786.2,971.1 786.7,971.2 787.2,971.2 787.7,971.2 788.2,971.2 788.7,971.2 789.2,971.2 789.7,971.3 790.2,971.3 790.7,971.3 791.2,971.3 791.7,971.3 792.2,971.4 792.7,971.4 793.2,971.4 793.7,971.4 794.2,971.4 794.7,971.4 795.2,971.5 795.7,971.5 796.2,971.5 796.7,971.5 797.2,971.5 797.7,971.5 798.2,971.6 798.7,971.6 799.2,971.6 799.7,971.6 800.2,971.6 800.7,971.6 801.2,971.7 801.7,971.7 802.2,971.7 802.7,971.7 803.2,971.7 803.7,971.7 804.2,971.8 804.7,971.8 805.2,971.8 805.7,971.8 806.2,971.8 806.7,971.8 807.2,971.9 807.7,971.9 808.2,971.9 808.7,971.9 809.2,971.9 809.7,971.9 810.2,971.9 810.7,972.0 811.2,972.0 811.7,972.0 812.2,972.0 812.7,972.0 813.2,972.0 813.7,972.1 814.2,972.1 814.7,972.1 815.2,972.1 815.7,972.1 816.2,972.1 816.7,972.1 817.2,972.2 817.7,972.2 818.2,972.2 818.7,972.2 819.2,972.2 819.7,972.2 820.2,972.3 820.7,972.3 821.2,972.3 821.7,972.3 822.2,972.3 822.7,972.3 823.2,972.4 823.7,972.4 824.2,972.4 824.7,972.4 825.2,972.4 825.7,972.4 826.2,972.5 826.7,972.5 827.2,972.5 827.7,972.5 828.2,972.5 828.7,972.5 829.2,972.5 829.7,972.6 830.2,972.6 830.7,972.6 831.2,972.6 831.7,972.6 832.2,972.7 832.7,972.7 833.2,972.7 833.7,972.7 834.2,972.7 834.7,972.7 835.2,972.8 835.7,972.8 836.2,972.8 836.7,972.8 837.2,972.8 837.7,972.8 838.2,972.9 838.7,972.9 839.2,972.9 839.7,972.9 840.2,972.9 840.7,972.9 841.2,972.9 841.7,973.0 842.2,973.0 842.7,973.0 843.2,973.0 843.7,973.0 844.2,973.0 844.7,973.1 845.2,973.1 845.7,973.1 846.2,973.1 846.7,973.1 847.2,973.1 847.7,973.2 848.2,973.2 848.7,973.2 849.2,973.2 849.7,973.2 850.2,973.2 850.7,973.2 851.2,973.3 851.7,973.3 852.2,973.3 852.7,973.3 853.2,973.3 853.7,973.3 854.2,973.4 854.7,973.4 855.2,973.4 855.7,973.4 856.2,973.4 856.7,973.4 857.2,973.4 857.7,973.4 858.2,973.5 858.7,973.5 859.2,973.5 859.7,973.5 860.2,973.5 860.7,973.5 861.2,973.5 861.7,973.5 862.2,973.6 862.7,973.6 863.2,973.6 863.7,973.6 864.2,973.6 864.7,973.6 865.2,973.6 865.7,973.6 866.2,973.7 866.7,973.7 867.2,973.7 867.7,973.7 868.2,973.7 868.7,973.7 869.2,973.7 869.7,973.7 870.2,973.7 870.7,973.7 871.2,973.7 871.7,973.8 872.2,973.8 872.7,973.8 873.2,973.8 873.7,973.8 874.2,973.8 874.7,973.8 875.2,973.8 875.7,973.8 876.2,973.8 876.7,973.8 877.2,973.8 877.7,973.8 878.2,973.8 878.7,973.9 879.2,973.9 879.7,973.9 880.2,973.9 880.7,973.9 881.2,973.9 881.7,973.9 882.2,973.9 882.7,973.9 883.2,973.9 883.7,973.9 884.2,973.9 884.7,973.9 885.2,973.9 885.7,973.9 886.2,973.9 886.7,973.9 887.2,973.9 887.7,973.9 888.0,973.9 888.2,973.9 888.7,973.9 889.2,973.9 889.7,973.9 890.2,973.9 890.7,973.9 891.2,973.9 891.7,973.9 892.2,973.9 892.7,973.9 893.2,973.9 893.7,973.9 894.2,973.9 894.7,973.9 895.2,973.9 895.7,973.9 896.2,973.9 896.7,973.9 897.2,973.8 897.7,973.8 898.2,973.8 898.7,973.8 899.2,973.8 899.7,973.8 900.2,973.8 900.7,973.8 901.2,973.8 901.7,973.8 902.2,973.8 902.7,973.8 903.2,973.8 903.7,973.8 904.2,973.7 904.7,973.7 905.2,973.7 905.7,973.7 906.2,973.7 906.7,973.7 907.2,973.7 907.7,973.7 908.2,973.7 908.7,973.7 909.2,973.6 909.7,973.6 910.2,973.6 910.7,973.6 911.2,973.6 911.7,973.6 912.2,973.6 912.7,973.6 913.2,973.5 913.7,973.5 914.2,973.5 914.7,973.5 915.2,973.5 915.7,973.5 916.2,973.5 916.7,973.5 917.2,973.4 917.7,973.4 918.2,973.4 918.7,973.4 919.2,973.4 919.7,973.4 920.2,973.3 920.7,973.3 921.2,973.3 921.7,973.3 922.2,973.3 922.7,973.3 923.2,973.2 923.7,973.2 924.2,973.2 924.7,973.2 925.2,973.2 925.7,973.2 926.2,973.1 926.7,973.1 927.2,973.1 927.4,973.1" stroke="#808080" stroke-width="1.8"/><path d="M119.7,983.4 120.2,983.3 120.7,983.1 121.2,982.7 121.7,982.3 122.2,981.8 122.5,981.5 122.7,981.3 123.2,980.6 123.7,979.6 124.2,978.6 124.7,977.4 125.2,976.1 125.7,974.7 126.0,973.9 126.2,973.3 126.7,971.8 127.2,970.2 127.7,968.4 128.2,966.5 128.7,964.6 129.2,962.5 129.7,960.4 130.2,958.3 130.7,956.1 130.8,955.7 131.2,953.9 131.7,951.6 132.2,949.2 132.7,946.7 133.2,944.2 133.7,941.6 134.2,938.9 134.7,936.3 135.0,934.7 135.2,933.6 135.7,930.8 136.2,927.9 136.7,924.9 137.2,921.9 137.7,919.0 138.2,916.1 138.7,913.5 139.2,911.0 139.7,908.7 140.2,906.4 140.7,904.3 141.2,902.4 141.6,901.2 141.7,900.9 142.2,899.8 142.7,899.0 143.2,898.3 143.7,897.5 144.2,896.5 144.7,895.2 144.8,894.9 145.2,893.1 145.7,889.5 146.2,885.2 146.7,880.7 146.9,878.9 147.2,876.2 147.7,871.2 148.2,865.9 148.7,860.6 149.2,855.5 149.7,850.9 150.2,846.8 150.7,842.9 151.2,839.2 151.7,835.7 152.2,832.2 152.7,828.8 153.2,825.3 153.7,821.8 154.2,818.2 154.7,814.5 155.2,810.8 155.7,807.1 156.2,803.3 156.7,799.5 157.2,795.7 157.7,791.8 158.2,787.8 158.7,783.6 159.2,779.3 159.7,774.9 160.2,770.5 160.7,766.2 161.2,761.9 161.7,757.8 162.2,753.8 162.7,750.0 163.0,747.9 163.2,746.5 163.7,743.1 164.2,739.7 164.7,736.5 165.2,733.3 165.7,730.2 166.2,727.2 166.7,724.4 167.2,721.7 167.7,719.1 168.2,716.8 168.3,716.3 168.7,714.5 169.2,712.3 169.7,710.1 170.2,708.1 170.7,706.1 171.2,704.2 171.7,702.4 172.2,700.8 172.7,699.2 173.2,697.9 173.6,696.9 173.7,696.7 174.2,695.5 174.7,694.4 175.2,693.4 175.7,692.4 176.2,691.5 176.7,690.6 177.2,689.9 177.7,689.2 178.2,688.6 178.7,688.2 178.8,688.1 179.2,687.8 179.7,687.5 180.2,687.1 180.7,686.9 181.2,686.6 181.7,686.5 182.2,686.4 182.3,686.4 182.7,686.4 183.2,686.5 183.7,686.6 184.2,686.7 184.7,686.9 185.2,687.0 185.7,687.2 186.2,687.5 186.7,687.7 187.2,687.9 187.6,688.1 187.7,688.1 188.2,688.4 188.7,688.7 189.2,689.1 189.7,689.5 190.2,689.9 190.7,690.3 191.2,690.8 191.7,691.3 192.2,691.8 192.7,692.3 193.2,692.9 193.7,693.4 194.2,693.9 194.7,694.4 195.2,694.9 195.7,695.4 196.2,695.8 196.4,696.0 196.7,696.3 197.2,696.7 197.7,697.1 198.2,697.6 198.7,698.0 199.2,698.4 199.7,698.9 200.2,699.3 200.7,699.8 201.2,700.2 201.7,700.6 202.2,701.1 202.7,701.5 203.2,701.9 203.7,702.4 204.2,702.8 204.7,703.2 205.2,703.6 205.7,704.0 206.2,704.4 206.7,704.8 207.2,705.2 207.7,705.6 208.2,705.9 208.7,706.3 209.2,706.6 209.7,707.0 210.2,707.3 210.5,707.5 210.7,707.6 211.2,707.9 211.7,708.2 212.2,708.5 212.7,708.9 213.2,709.1 213.7,709.4 214.2,709.7 214.7,710.0 215.2,710.3 215.7,710.6 216.2,710.9 216.7,711.1 217.2,711.4 217.7,711.7 218.2,711.9 218.7,712.2 219.2,712.5 219.7,712.7 220.2,713.0 220.7,713.2 221.2,713.4 221.7,713.7 222.2,713.9 222.7,714.1 223.2,714.4 223.7,714.6 224.2,714.8 224.7,715.0 225.2,715.2 225.7,715.4 226.2,715.6 226.7,715.8 227.2,716.0 227.7,716.2 228.0,716.3 228.2,716.4 228.7,716.5 229.2,716.7 229.7,716.9 230.2,717.1 230.7,717.2 231.2,717.4 231.7,717.6 232.2,717.7 232.7,717.9 233.2,718.1 233.7,718.2 234.2,718.4 234.7,718.5 235.2,718.7 235.7,718.8 236.2,719.0 236.7,719.1 237.2,719.3 237.7,719.4 238.2,719.6 238.7,719.7 239.2,719.8 239.7,720.0 240.2,720.1 240.7,720.2 241.2,720.3 241.7,720.4 242.2,720.5 242.7,720.6 243.2,720.8 243.7,720.9 244.2,721.0 244.7,721.0 245.2,721.1 245.6,721.2 245.7,721.2 246.2,721.3 246.7,721.4 247.2,721.5 247.7,721.5 248.2,721.6 248.7,721.7 249.2,721.8 249.7,721.8 250.2,721.9 250.7,722.0 251.2,722.0 251.7,722.1 252.2,722.2 252.7,722.2 253.2,722.3 253.7,722.4 254.2,722.4 254.7,722.5 255.2,722.5 255.7,722.6 256.2,722.7 256.7,722.7 257.2,722.8 257.7,722.8 258.2,722.9 258.7,722.9 259.2,723.0 259.7,723.0 260.2,723.1 260.7,723.1 261.2,723.1 261.7,723.2 262.2,723.2 262.7,723.3 263.2,723.3 263.7,723.3 264.2,723.4 264.7,723.4 265.2,723.4 265.7,723.5 266.2,723.5 266.7,723.6 267.2,723.6 267.7,723.6 268.2,723.7 268.7,723.7 269.2,723.7 269.7,723.7 270.2,723.8 270.7,723.8 271.2,723.8 271.7,723.9 272.2,723.9 272.7,723.9 273.2,724.0 273.7,724.0 274.2,724.0 274.7,724.0 275.2,724.1 275.7,724.1 276.2,724.1 276.7,724.1 277.2,724.2 277.7,724.2 278.2,724.2 278.7,724.2 279.2,724.3 279.7,724.3 280.2,724.3 280.7,724.3 281.2,724.3 281.7,724.4 282.2,724.4 282.7,724.4 283.2,724.4 283.7,724.4 284.2,724.5 284.7,724.5 285.0,724.5 285.2,724.5 285.7,724.5 286.2,724.5 286.7,724.6 287.2,724.6 287.7,724.6 288.2,724.6 288.7,724.6 289.2,724.7 289.7,724.7 290.2,724.7 290.7,724.7 291.2,724.7 291.7,724.8 292.2,724.8 292.7,724.8 293.2,724.8 293.7,724.8 294.2,724.8 294.7,724.9 295.2,724.9 295.7,724.9 296.2,724.9 296.7,724.9 297.2,725.0 297.7,725.0 298.2,725.0 298.7,725.0 299.2,725.0 299.7,725.0 300.2,725.1 300.7,725.1 301.2,725.1 301.7,725.1 302.2,725.1 302.7,725.1 303.2,725.2 303.7,725.2 304.2,725.2 304.7,725.2 305.2,725.2 305.7,725.2 306.2,725.3 306.7,725.3 307.2,725.3 307.7,725.3 308.2,725.3 308.7,725.3 309.2,725.4 309.7,725.4 310.2,725.4 310.7,725.4 311.2,725.4 311.7,725.4 312.2,725.4 312.7,725.5 313.2,725.5 313.7,725.5 314.2,725.5 314.7,725.5 315.2,725.5 315.7,725.5 316.2,725.6 316.7,725.6 317.2,725.6 317.7,725.6 318.2,725.6 318.7,725.6 319.2,725.6 319.7,725.7 320.2,725.7 320.7,725.7 321.2,725.7 321.7,725.7 322.2,725.7 322.7,725.7 323.2,725.7 323.7,725.8 324.2,725.8 324.7,725.8 325.2,725.8 325.7,725.8 326.2,725.8 326.7,725.8 327.2,725.8 327.7,725.8 328.2,725.9 328.7,725.9 329.2,725.9 329.7,725.9 330.2,725.9 330.7,725.9 331.2,725.9 331.7,725.9 332.2,725.9 332.7,725.9 333.2,726.0 333.7,726.0 334.2,726.0 334.7,726.0 335.2,726.0 335.7,726.0 336.2,726.0 336.7,726.0 337.2,726.0 337.7,726.0 338.2,726.0 338.7,726.0 339.2,726.0 339.7,726.0 340.2,726.1 340.7,726.1 341.2,726.1 341.7,726.1 342.2,726.1 342.7,726.1 343.2,726.1 343.7,726.1 344.2,726.1 344.4,726.1 344.7,726.1 345.2,726.1 345.7,726.1 346.2,726.1 346.7,726.1 347.2,726.1 347.7,726.1 348.2,726.1 348.7,726.1 349.2,726.1 349.7,726.1 350.2,726.1 350.7,726.2 351.2,726.2 351.7,726.2 352.2,726.2 352.7,726.2 353.2,726.2 353.7,726.2 354.2,726.2 354.7,726.2 355.2,726.2 355.7,726.2 356.2,726.2 356.7,726.2 357.2,726.2 357.7,726.2 358.2,726.2 358.7,726.2 359.2,726.2 359.7,726.2 360.2,726.2 360.7,726.2 361.2,726.2 361.7,726.2 362.2,726.2 362.7,726.2 363.2,726.2 363.7,726.2 364.2,726.2 364.7,726.3 365.2,726.3 365.7,726.3 366.2,726.3 366.7,726.3 367.2,726.3 367.7,726.3 368.2,726.3 368.7,726.3 369.2,726.3 369.7,726.3 370.2,726.3 370.7,726.3 371.2,726.3 371.7,726.3 372.2,726.3 372.7,726.3 373.2,726.3 373.7,726.3 374.2,726.3 374.7,726.3 375.2,726.3 375.7,726.3 376.2,726.3 376.7,726.3 377.2,726.3 377.7,726.3 378.2,726.3 378.7,726.3 379.2,726.3 379.7,726.3 380.2,726.3 380.7,726.3 381.2,726.3 381.7,726.3 382.2,726.3 382.7,726.3 383.2,726.3 383.7,726.3 384.2,726.4 384.7,726.4 385.2,726.4 385.7,726.4 386.2,726.4 386.7,726.4 387.2,726.4 387.7,726.4 388.2,726.4 388.7,726.4 389.2,726.4 389.7,726.4 390.2,726.4 390.7,726.4 391.2,726.4 391.7,726.4 392.2,726.4 392.7,726.4 393.2,726.4 393.7,726.4 394.2,726.4 394.7,726.4 395.2,726.4 395.7,726.4 396.2,726.4 396.7,726.4 397.2,726.4 397.7,726.4 398.2,726.4 398.7,726.4 399.2,726.4 399.7,726.4 400.0,726.4 400.2,726.4 400.7,726.4 401.2,726.4 401.7,726.4 402.2,726.4 402.7,726.4 403.2,726.4 403.7,726.4 404.2,726.4 404.7,726.4 405.2,726.4 405.7,726.4 406.2,726.4 406.7,726.4 407.2,726.4 407.7,726.4 408.2,726.4 408.7,726.4 409.2,726.4 409.7,726.4 410.2,726.4 410.7,726.4 411.2,726.4 411.7,726.4 412.2,726.4 412.7,726.4 413.2,726.4 413.7,726.4 414.2,726.4 414.7,726.4 415.2,726.4 415.7,726.4 416.2,726.4 416.7,726.4 417.2,726.4 417.7,726.4 418.2,726.4 418.7,726.4 419.2,726.4 419.7,726.4 420.2,726.4 420.7,726.4 421.2,726.4 421.7,726.4 422.2,726.4 422.7,726.4 423.2,726.4 423.7,726.4 424.2,726.4 424.7,726.4 425.2,726.4 425.7,726.4 426.2,726.4 426.7,726.4 427.2,726.4 427.7,726.4 428.2,726.4 428.7,726.4 429.2,726.4 429.7,726.4 430.2,726.4 430.7,726.4 431.2,726.4 431.7,726.4 432.2,726.4 432.7,726.4 433.2,726.4 433.7,726.4 434.2,726.4 434.7,726.4 435.2,726.4 435.7,726.4 436.2,726.4 436.7,726.4 437.2,726.4 437.7,726.4 438.2,726.4 438.7,726.4 439.2,726.4 439.7,726.4 440.2,726.4 440.7,726.4 441.2,726.4 441.7,726.4 442.2,726.4 442.7,726.4 443.2,726.4 443.7,726.4 444.2,726.4 444.7,726.4 445.2,726.4 445.7,726.4 446.2,726.4 446.7,726.4 447.2,726.4 447.7,726.4 448.2,726.4 448.7,726.4 449.2,726.5 449.7,726.5 450.2,726.5 450.7,726.5 451.2,726.5 451.7,726.5 452.2,726.5 452.7,726.5 453.2,726.5 453.7,726.5 454.2,726.5 454.7,726.5 455.2,726.5 455.7,726.5 456.2,726.5 456.7,726.5 457.2,726.5 457.7,726.5 458.2,726.5 458.7,726.5 459.2,726.5 459.7,726.5 460.2,726.5 460.7,726.5 461.2,726.5 461.7,726.5 462.2,726.5 462.7,726.5 463.2,726.5 463.7,726.5 464.2,726.5 464.7,726.5 465.2,726.5 465.7,726.5 466.2,726.5 466.7,726.5 466.9,726.5 467.2,726.5 467.7,726.7 468.2,727.0 468.7,727.4 469.2,727.8 469.7,728.3 470.1,728.7 470.2,728.8 470.7,729.4 471.2,730.1 471.7,730.9 472.2,731.8 472.7,732.8 473.2,733.9 473.7,734.9 474.0,735.6 474.2,736.1 474.7,737.3 475.2,738.6 475.7,740.1 476.2,741.6 476.7,743.1 477.2,744.7 477.6,745.9 477.7,746.2 478.2,747.7 478.7,749.3 479.2,750.9 479.7,752.5 480.2,754.1 480.7,755.7 481.2,757.2 481.7,758.8 482.1,760.0 482.2,760.3 482.7,761.8 483.2,763.2 483.7,764.6 484.2,765.9 484.7,767.3 485.2,768.7 485.7,770.0 486.2,771.4 486.7,772.8 487.2,774.3 487.7,775.8 487.9,776.4 488.2,777.3 488.7,778.9 489.2,780.5 489.7,782.2 490.2,783.9 490.7,785.6 491.2,787.4 491.7,789.1 492.2,790.9 492.7,792.6 493.2,794.4 493.7,796.2 494.2,797.9 494.7,799.7 495.2,801.4 495.7,803.1 496.1,804.4 496.2,804.7 496.7,806.4 497.2,808.0 497.7,809.7 498.2,811.3 498.7,813.0 499.2,814.6 499.7,816.3 500.2,817.9 500.7,819.5 501.2,821.2 501.7,822.8 502.2,824.4 502.7,826.0 503.2,827.5 503.7,829.1 504.2,830.6 504.7,832.2 505.2,833.7 505.7,835.2 506.2,836.6 506.4,837.2 506.7,838.1 507.2,839.5 507.7,840.9 508.2,842.3 508.7,843.7 509.2,845.1 509.7,846.4 510.2,847.8 510.7,849.1 511.2,850.4 511.7,851.6 512.2,852.9 512.5,853.6 512.7,854.1 513.2,855.3 513.7,856.5 514.2,857.6 514.7,858.8 515.2,859.9 515.7,861.0 516.2,862.2 516.7,863.3 517.2,864.3 517.7,865.4 518.2,866.5 518.7,867.5 519.2,868.6 519.7,869.6 520.2,870.7 520.7,871.7 521.2,872.7 521.7,873.8 522.2,874.8 522.7,875.8 523.2,876.8 523.7,877.8 524.2,878.8 524.7,879.8 525.2,880.8 525.7,881.8 526.2,882.8 526.7,883.8 527.2,884.8 527.7,885.7 528.2,886.7 528.7,887.6 529.2,888.6 529.7,889.5 530.2,890.4 530.7,891.3 531.2,892.3 531.7,893.1 532.2,894.0 532.7,894.9 533.2,895.8 533.7,896.6 534.0,897.1 534.2,897.4 534.7,898.3 535.2,899.1 535.7,899.9 536.2,900.7 536.7,901.5 537.2,902.2 537.7,903.0 538.2,903.8 538.7,904.5 539.2,905.2 539.7,906.0 540.2,906.7 540.7,907.4 541.2,908.1 541.7,908.8 542.2,909.5 542.7,910.2 543.1,910.7 543.2,910.8 543.7,911.5 544.2,912.1 544.7,912.8 545.2,913.4 545.7,914.1 546.2,914.7 546.7,915.3 547.2,915.9 547.7,916.5 548.2,917.1 548.7,917.7 549.2,918.2 549.7,918.8 550.2,919.4 550.7,920.0 551.2,920.5 551.7,921.1 552.1,921.5 552.2,921.6 552.7,922.2 553.2,922.7 553.7,923.2 554.2,923.8 554.7,924.3 555.2,924.8 555.7,925.4 556.2,925.9 556.7,926.4 557.2,926.9 557.7,927.4 558.2,927.9 558.7,928.4 559.2,928.8 559.7,929.3 560.2,929.7 560.7,930.2 561.2,930.6 561.7,931.0 562.2,931.4 562.7,931.8 563.2,932.2 563.7,932.5 564.2,932.9 564.7,933.3 565.2,933.6 565.7,934.0 566.2,934.3 566.7,934.7 567.2,935.0 567.7,935.3 568.2,935.6 568.7,936.0 569.2,936.3 569.7,936.6 570.2,936.9 570.7,937.2 571.2,937.5 571.7,937.8 572.2,938.1 572.7,938.4 573.2,938.7 573.7,939.0 574.2,939.3 574.7,939.6 575.2,939.9 575.7,940.1 576.2,940.4 576.7,940.7 577.2,941.0 577.7,941.2 578.2,941.5 578.7,941.8 579.2,942.1 579.7,942.3 580.2,942.6 580.7,942.8 581.2,943.1 581.7,943.3 582.2,943.6 582.7,943.9 583.2,944.1 583.4,944.2 583.7,944.3 584.2,944.6 584.7,944.8 585.2,945.1 585.7,945.3 586.2,945.6 586.7,945.8 587.2,946.1 587.7,946.3 588.2,946.5 588.7,946.8 589.2,947.0 589.7,947.2 590.2,947.5 590.7,947.7 591.2,947.9 591.7,948.1 592.2,948.3 592.7,948.6 593.2,948.8 593.7,949.0 594.2,949.2 594.7,949.4 595.2,949.6 595.7,949.8 596.2,950.0 596.7,950.2 597.2,950.4 597.4,950.5 597.7,950.6 598.2,950.8 598.7,951.0 599.2,951.2 599.7,951.4 600.2,951.6 600.7,951.8 601.2,951.9 601.7,952.1 602.2,952.3 602.7,952.5 603.2,952.7 603.7,952.9 604.2,953.0 604.7,953.2 605.2,953.4 605.7,953.6 606.2,953.7 606.7,953.9 607.2,954.1 607.7,954.2 608.2,954.4 608.7,954.6 609.2,954.7 609.7,954.9 610.2,955.0 610.7,955.2 611.2,955.3 611.7,955.5 612.2,955.6 612.7,955.8 613.2,955.9 613.7,956.1 614.2,956.2 614.7,956.3 615.2,956.4 615.4,956.5 615.7,956.6 616.2,956.7 616.7,956.8 617.2,956.9 617.7,957.1 618.2,957.2 618.7,957.3 619.2,957.4 619.7,957.5 620.2,957.6 620.7,957.7 621.2,957.9 621.7,958.0 622.2,958.1 622.7,958.2 623.2,958.3 623.7,958.4 624.2,958.5 624.7,958.6 625.2,958.7 625.7,958.8 626.2,958.9 626.7,959.0 627.2,959.1 627.7,959.2 628.2,959.2 628.7,959.3 629.2,959.4 629.7,959.5 630.2,959.6 630.7,959.7 631.2,959.7 631.7,959.8 632.2,959.9 632.7,960.0 633.2,960.1 633.5,960.1 633.7,960.1 634.2,960.2 634.7,960.3 635.2,960.3 635.7,960.4 636.2,960.5 636.7,960.5 637.2,960.6 637.7,960.7 638.2,960.7 638.7,960.8 639.2,960.9 639.7,960.9 640.2,961.0 640.7,961.0 641.2,961.1 641.7,961.1 642.2,961.2 642.7,961.3 643.2,961.3 643.7,961.4 644.2,961.4 644.7,961.5 645.2,961.5 645.7,961.6 646.2,961.6 646.7,961.7 647.2,961.7 647.7,961.8 648.2,961.8 648.7,961.9 649.2,961.9 649.7,962.0 650.2,962.1 650.7,962.1 651.2,962.2 651.6,962.2 651.7,962.2 652.2,962.3 652.7,962.3 653.2,962.4 653.7,962.4 654.2,962.5 654.7,962.5 655.2,962.6 655.7,962.6 656.2,962.7 656.7,962.7 657.2,962.8 657.7,962.8 658.2,962.9 658.7,962.9 659.2,963.0 659.7,963.0 660.2,963.0 660.7,963.1 661.2,963.1 661.7,963.2 662.2,963.2 662.7,963.3 663.2,963.3 663.7,963.4 664.2,963.4 664.7,963.5 665.0,963.5 665.2,963.5 665.7,963.6 666.2,963.6 666.7,963.7 667.2,963.7 667.7,963.8 668.2,963.8 668.7,963.9 669.2,963.9 669.7,964.0 670.2,964.0 670.7,964.0 671.2,964.1 671.7,964.1 672.2,964.2 672.7,964.2 673.2,964.3 673.7,964.3 674.2,964.4 674.4,964.4 674.7,964.4 675.2,964.5 675.7,964.5 676.2,964.6 676.7,964.6 677.2,964.7 677.7,964.7 678.2,964.8 678.7,964.8 679.2,964.9 679.7,964.9 680.2,964.9 680.7,965.0 681.2,965.0 681.7,965.1 682.2,965.1 682.7,965.2 683.2,965.2 683.7,965.3 684.2,965.3 684.7,965.4 685.2,965.4 685.7,965.5 686.2,965.5 686.7,965.6 687.2,965.6 687.7,965.7 688.2,965.7 688.7,965.7 689.2,965.8 689.7,965.8 690.2,965.9 690.7,965.9 691.2,966.0 691.7,966.0 692.2,966.1 692.7,966.1 693.2,966.1 693.7,966.2 694.2,966.2 694.7,966.3 695.2,966.3 695.7,966.4 696.2,966.4 696.7,966.4 697.2,966.5 697.7,966.5 698.2,966.6 698.7,966.6 699.2,966.6 699.7,966.7 700.0,966.7 700.2,966.7 700.7,966.8 701.2,966.8 701.7,966.8 702.2,966.9 702.7,966.9 703.2,966.9 703.7,967.0 704.2,967.0 704.7,967.0 705.2,967.1 705.7,967.1 706.2,967.2 706.7,967.2 707.2,967.2 707.7,967.3 708.2,967.3 708.7,967.3 709.2,967.4 709.7,967.4 710.2,967.4 710.7,967.5 711.2,967.5 711.7,967.5 712.2,967.6 712.7,967.6 713.2,967.6 713.7,967.7 714.2,967.7 714.7,967.7 715.2,967.8 715.7,967.8 716.2,967.8 716.7,967.9 717.2,967.9 717.7,967.9 718.2,968.0 718.7,968.0 719.2,968.0 719.7,968.1 720.2,968.1 720.7,968.1 721.2,968.2 721.7,968.2 722.2,968.2 722.7,968.2 723.2,968.3 723.7,968.3 724.2,968.3 724.7,968.4 725.2,968.4 725.7,968.4 726.2,968.5 726.7,968.5 727.2,968.5 727.7,968.5 728.2,968.6 728.7,968.6 729.2,968.6 729.7,968.7 730.2,968.7 730.7,968.7 731.2,968.7 731.7,968.8 732.2,968.8 732.7,968.8 733.2,968.8 733.7,968.9 734.2,968.9 734.7,968.9 735.2,968.9 735.7,969.0 736.2,969.0 736.7,969.0 737.2,969.1 737.7,969.1 738.2,969.1 738.7,969.1 739.2,969.1 739.7,969.2 740.2,969.2 740.7,969.2 741.2,969.2 741.7,969.3 742.2,969.3 742.7,969.3 743.2,969.3 743.7,969.4 744.2,969.4 744.7,969.4 745.2,969.4 745.7,969.5 746.2,969.5 746.7,969.5 747.2,969.5 747.7,969.6 748.2,969.6 748.7,969.6 749.2,969.6 749.7,969.6 750.2,969.7 750.7,969.7 751.2,969.7 751.7,969.7 752.2,969.8 752.7,969.8 753.2,969.8 753.7,969.8 754.2,969.9 754.7,969.9 755.2,969.9 755.7,969.9 756.2,969.9 756.7,970.0 757.2,970.0 757.7,970.0 758.2,970.0 758.7,970.0 759.2,970.1 759.7,970.1 760.2,970.1 760.7,970.1 761.2,970.2 761.7,970.2 762.2,970.2 762.7,970.2 763.2,970.2 763.7,970.3 764.2,970.3 764.7,970.3 765.2,970.3 765.7,970.3 766.2,970.4 766.7,970.4 767.2,970.4 767.7,970.4 768.2,970.4 768.7,970.5 769.2,970.5 769.7,970.5 770.2,970.5 770.7,970.5 771.2,970.6 771.7,970.6 772.2,970.6 772.7,970.6 773.2,970.6 773.7,970.7 774.2,970.7 774.7,970.7 775.2,970.7 775.7,970.7 776.2,970.8 776.7,970.8 777.2,970.8 777.7,970.8 778.2,970.8 778.7,970.9 779.2,970.9 779.7,970.9 780.2,970.9 780.7,970.9 781.2,971.0 781.7,971.0 782.2,971.0 782.7,971.0 783.2,971.0 783.7,971.0 784.2,971.1 784.7,971.1 785.2,971.1 785.7,971.1 786.2,971.1 786.7,971.2 787.2,971.2 787.7,971.2 788.2,971.2 788.7,971.2 789.2,971.2 789.7,971.3 790.2,971.3 790.7,971.3 791.2,971.3 791.7,971.3 792.2,971.4 792.7,971.4 793.2,971.4 793.7,971.4 794.2,971.4 794.7,971.4 795.2,971.5 795.7,971.5 796.2,971.5 796.7,971.5 797.2,971.5 797.7,971.5 798.2,971.6 798.7,971.6 799.2,971.6 799.7,971.6 800.2,971.6 800.7,971.6 801.2,971.7 801.7,971.7 802.2,971.7 802.7,971.7 803.2,971.7 803.7,971.7 804.2,971.8 804.7,971.8 805.2,971.8 805.7,971.8 806.2,971.8 806.7,971.8 807.2,971.9 807.7,971.9 808.2,971.9 808.7,971.9 809.2,971.9 809.7,971.9 810.2,971.9 810.7,972.0 811.2,972.0 811.7,972.0 812.2,972.0 812.7,972.0 813.2,972.0 813.7,972.1 814.2,972.1 814.7,972.1 815.2,972.1 815.7,972.1 816.2,972.1 816.7,972.1 817.2,972.2 817.7,972.2 818.2,972.2 818.7,972.2 819.2,972.2 819.7,972.2 820.2,972.3 820.7,972.3 821.2,972.3 821.7,972.3 822.2,972.3 822.7,972.3 823.2,972.4 823.7,972.4 824.2,972.4 824.7,972.4 825.2,972.4 825.7,972.4 826.2,972.5 826.7,972.5 827.2,972.5 827.7,972.5 828.2,972.5 828.7,972.5 829.2,972.5 829.7,972.6 830.2,972.6 830.7,972.6 831.2,972.6 831.7,972.6 832.2,972.7 832.7,972.7 833.2,972.7 833.7,972.7 834.2,972.7 834.7,972.7 835.2,972.8 835.7,972.8 836.2,972.8 836.7,972.8 837.2,972.8 837.7,972.8 838.2,972.9 838.7,972.9 839.2,972.9 839.7,972.9 840.2,972.9 840.7,972.9 841.2,972.9 841.7,973.0 842.2,973.0 842.7,973.0 843.2,973.0 843.7,973.0 844.2,973.0 844.7,973.1 845.2,973.1 845.7,973.1 846.2,973.1 846.7,973.1 847.2,973.1 847.7,973.2 848.2,973.2 848.7,973.2 849.2,973.2 849.7,973.2 850.2,973.2 850.7,973.2 851.2,973.3 851.7,973.3 852.2,973.3 852.7,973.3 853.2,973.3 853.7,973.3 854.2,973.4 854.7,973.4 855.2,973.4 855.7,973.4 856.2,973.4 856.7,973.4 857.2,973.4 857.7,973.4 858.2,973.5 858.7,973.5 859.2,973.5 859.7,973.5 860.2,973.5 860.7,973.5 861.2,973.5 861.7,973.5 862.2,973.6 862.7,973.6 863.2,973.6 863.7,973.6 864.2,973.6 864.7,973.6 865.2,973.6 865.7,973.6 866.2,973.7 866.7,973.7 867.2,973.7 867.7,973.7 868.2,973.7 868.7,973.7 869.2,973.7 869.7,973.7 870.2,973.7 870.7,973.7 871.2,973.7 871.7,973.8 872.2,973.8 872.7,973.8 873.2,973.8 873.7,973.8 874.2,973.8 874.7,973.8 875.2,973.8 875.7,973.8 876.2,973.8 876.7,973.8 877.2,973.8 877.7,973.8 878.2,973.8 878.7,973.9 879.2,973.9 879.7,973.9 880.2,973.9 880.7,973.9 881.2,973.9 881.7,973.9 882.2,973.9 882.7,973.9 883.2,973.9 883.7,973.9 884.2,973.9 884.7,973.9 885.2,973.9 885.7,973.9 886.2,973.9 886.7,973.9 887.2,973.9 887.7,973.9 888.0,973.9 888.2,973.9 888.7,973.9 889.2,973.9 889.7,973.9 890.2,973.9 890.7,973.9 891.2,973.9 891.7,973.9 892.2,973.9 892.7,973.9 893.2,973.9 893.7,973.9 894.2,973.9 894.7,973.9 895.2,973.9 895.7,973.9 896.2,973.9 896.7,973.9 897.2,973.8 897.7,973.8 898.2,973.8 898.7,973.8 899.2,973.8 899.7,973.8 900.2,973.8 900.7,973.8 901.2,973.8 901.7,973.8 902.2,973.8 902.7,973.8 903.2,973.8 903.7,973.8 904.2,973.7 904.7,973.7 905.2,973.7 905.7,973.7 906.2,973.7 906.7,973.7 907.2,973.7 907.7,973.7 908.2,973.7 908.7,973.7 909.2,973.6 909.7,973.6 910.2,973.6 910.7,973.6 911.2,973.6 911.7,973.6 912.2,973.6 912.7,973.6 913.2,973.5 913.7,973.5 914.2,973.5 914.7,973.5 915.2,973.5 915.7,973.5 916.2,973.5 916.7,973.5 917.2,973.4 917.7,973.4 918.2,973.4 918.7,973.4 919.2,973.4 919.7,973.4 920.2,973.3 920.7,973.3 921.2,973.3 921.7,973.3 922.2,973.3 922.7,973.3 923.2,973.2 923.7,973.2 924.2,973.2 924.7,973.2 925.2,973.2 925.7,973.2 926.2,973.1 926.7,973.1 927.2,973.1 927.4,973.1" stroke="#ea1212" stroke-width="1.8"/><path d="M119.9,816.5 120.4,816.4 120.9,816.1 121.4,815.8 121.5,815.7 121.9,815.2 122.4,814.3 122.9,813.0 123.4,811.5 123.9,809.9 124.3,808.6 124.4,808.3 124.9,806.7 125.4,804.9 125.9,803.1 126.4,801.2 126.9,799.1 127.4,796.9 127.9,794.6 128.4,792.2 128.9,789.6 129.4,786.9 129.6,785.8 129.9,784.0 130.4,780.6 130.9,776.8 131.4,772.6 131.9,768.3 132.4,763.9 132.9,759.6 133.4,755.3 133.9,751.4 134.0,750.6 134.4,747.6 134.9,743.7 135.4,739.9 135.9,736.2 136.4,732.6 136.9,729.4 137.4,726.5 137.5,726.0 137.9,724.0 138.4,721.7 138.9,719.6 139.4,718.0 139.5,717.7 139.9,716.6 140.4,715.3 140.9,714.6 141.0,714.6 141.4,715.1 141.9,716.6 142.3,718.2 142.4,718.6 142.9,721.9 143.4,726.4 143.7,729.5 143.9,731.8 144.4,739.2 144.9,748.0 145.4,757.4 145.8,764.7 145.9,766.6 146.4,778.5 146.9,788.8 147.2,791.0 147.4,790.9 147.9,790.2 148.4,789.3 148.5,789.2 148.9,788.7 149.4,788.2 149.9,787.6 150.4,787.1 150.9,786.6 151.4,786.1 151.9,785.5 152.4,784.9 152.5,784.8 152.9,784.3 153.4,783.5 153.9,782.7 154.4,781.9 154.9,781.0 155.4,780.2 155.9,779.3 156.4,778.6 156.9,777.8 157.4,777.2 157.7,776.9 157.9,776.7 158.4,776.2 158.9,775.8 159.4,775.4 159.9,775.0 160.4,774.6 160.9,774.2 161.4,773.9 161.9,773.6 162.4,773.2 162.9,772.9 163.4,772.6 163.9,772.3 164.4,772.0 164.9,771.7 165.4,771.4 165.9,771.1 166.4,770.8 166.5,770.7 166.9,770.4 167.4,770.1 167.9,769.8 168.4,769.4 168.9,769.1 169.4,768.7 169.9,768.4 170.4,768.1 170.9,767.7 171.4,767.4 171.9,767.1 172.4,766.8 172.9,766.5 173.4,766.2 173.9,765.9 174.4,765.7 174.9,765.5 175.3,765.3 175.4,765.3 175.9,765.1 176.4,764.8 176.9,764.6 177.4,764.4 177.9,764.2 178.4,764.0 178.9,763.8 179.4,763.6 179.9,763.4 180.4,763.3 180.9,763.1 181.4,763.0 181.9,762.8 182.4,762.7 182.9,762.6 183.4,762.5 183.9,762.5 184.4,762.4 184.9,762.4 185.0,762.4 185.4,762.4 185.9,762.4 186.4,762.5 186.9,762.6 187.4,762.6 187.9,762.7 188.4,762.8 188.9,763.0 189.4,763.1 189.9,763.2 190.4,763.4 190.9,763.5 191.4,763.6 191.9,763.8 192.4,763.9 192.9,764.0 193.4,764.1 193.9,764.2 194.4,764.4 194.9,764.5 195.4,764.6 195.9,764.8 196.4,764.9 196.9,765.1 197.4,765.2 197.9,765.4 198.4,765.5 198.9,765.7 199.4,765.8 199.9,766.0" stroke="#fb22dc" stroke-width="1.8"/><path d="M119.9,817.3 120.4,817.2 120.9,817.1 121.4,816.8 121.9,816.6 122.0,816.5 122.4,816.2 122.9,815.6 123.4,814.8 123.9,813.9 124.4,812.8 124.9,811.6 125.4,810.3 125.9,808.9 126.4,807.5 126.9,806.0 127.4,804.5 127.9,803.0 128.4,801.4 128.9,799.7 129.4,797.9 129.9,796.0 130.4,793.9 130.9,791.8 131.4,789.6 131.9,787.4 132.4,785.1 132.9,782.9 133.1,782.0 133.4,780.7 133.9,778.4 134.4,776.2 134.9,773.9 135.4,771.6 135.9,769.2 136.4,766.7 136.9,764.1 137.4,761.4 137.9,758.5 138.4,755.5 138.9,751.9 139.4,747.8 139.9,743.7 140.3,741.0 140.4,740.4 140.9,737.2 141.4,735.1 141.5,735.0 141.9,734.7 142.4,734.4 142.9,734.3 143.0,734.3 143.4,734.6 143.9,735.8 144.4,737.6 144.6,738.5 144.9,740.8 145.4,747.9 145.9,757.0 146.4,765.6 146.5,767.0 146.9,772.9 147.4,781.0 147.9,788.5 148.4,794.0 148.9,796.2 149.4,796.1 149.9,795.6 150.4,795.1 150.9,794.3 151.4,793.6 151.9,792.8 152.4,792.1 152.5,792.0 152.9,791.5 153.4,790.9 153.9,790.3 154.4,789.7 154.9,789.1 155.4,788.5 155.9,787.8 156.4,787.2 156.9,786.6 157.4,786.0 157.7,785.7 157.9,785.5 158.4,784.9 158.9,784.4 159.4,783.8 159.9,783.3 160.4,782.7 160.9,782.2 161.4,781.6 161.9,781.1 162.0,781.0 162.4,780.6 162.9,780.0 163.4,779.5 163.9,779.0 164.4,778.5 164.9,777.9 165.4,777.4 165.9,776.9 166.4,776.3 166.9,775.8 167.4,775.3 167.9,774.7 168.3,774.3 168.4,774.2 168.9,773.6 169.4,773.0 169.9,772.4 170.4,771.8 170.9,771.2 171.4,770.6 171.9,769.9 172.4,769.3 172.9,768.7 173.4,768.2 173.9,767.6 174.4,767.1 174.9,766.6 175.3,766.3 175.4,766.2 175.9,765.8 176.4,765.4 176.9,765.0 177.4,764.6 177.9,764.2 178.4,763.9 178.9,763.6 179.4,763.3 179.9,763.1 180.4,762.9 180.6,762.8 180.9,762.7 181.4,762.6 181.9,762.4 182.4,762.3 182.9,762.2 183.4,762.1 183.9,762.0 184.4,762.0 184.9,761.9 185.4,761.8 185.9,761.8 186.0,761.8 186.4,761.8 186.9,761.8 187.4,761.7 187.9,761.7 188.4,761.7 188.9,761.7 189.4,761.7 189.9,761.6 190.4,761.6 190.9,761.6 191.4,761.6 191.9,761.6 192.4,761.6 192.9,761.6 193.4,761.6 193.9,761.6 194.4,761.7 194.9,761.8 195.4,761.8 195.9,761.9 196.4,762.0 196.9,762.1 197.4,762.2 197.9,762.3 198.0,762.3 198.4,762.4 198.9,762.5 199.4,762.6 199.9,762.7 200.4,762.8 200.9,762.9 201.4,763.1 201.9,763.2 202.4,763.4 202.9,763.5 203.4,763.7 203.9,763.9 204.4,764.1 204.9,764.4 205.4,764.7 205.9,765.0 206.4,765.3 206.9,765.6 207.4,766.0 207.9,766.3 208.4,766.6 208.9,766.9 209.4,767.2 209.9,767.4 210.4,767.6 210.5,767.6 210.9,767.7 211.4,767.9 211.9,768.0 212.4,768.2 212.9,768.3 213.4,768.4 213.9,768.6 214.4,768.7 214.9,768.8 215.4,768.9 215.9,769.1 216.4,769.2 216.9,769.3 217.4,769.4 217.9,769.5 218.4,769.6 218.9,769.7 219.4,769.8 219.9,769.9 220.4,770.0 220.9,770.1 221.4,770.1 221.9,770.2 222.4,770.3 222.9,770.4 223.4,770.5 223.9,770.5 224.4,770.6 224.9,770.7 225.4,770.8 225.9,770.8 226.4,770.9 226.9,771.0 227.4,771.0 227.9,771.1 228.0,771.1 228.4,771.1 228.9,771.2 229.4,771.3 229.9,771.3 230.4,771.4 230.9,771.5 231.4,771.5 231.9,771.6 232.4,771.6 232.9,771.7 233.4,771.7 233.9,771.8 234.4,771.8 234.9,771.9 235.4,772.0 235.9,772.0 236.4,772.1 236.9,772.1 237.4,772.2 237.9,772.2 238.4,772.3 238.9,772.3 239.4,772.4 239.9,772.4 240.4,772.4 240.9,772.5 241.4,772.5 241.9,772.6 242.4,772.6 242.9,772.7 243.4,772.7 243.9,772.7 244.4,772.8 244.9,772.8 245.4,772.9 245.9,772.9 246.4,772.9 246.9,773.0 247.4,773.0 247.9,773.0 248.4,773.1 248.9,773.1 249.4,773.1 249.9,773.2 250.4,773.2 250.9,773.2 251.4,773.3 251.9,773.3 252.4,773.3 252.9,773.3 253.4,773.4 253.9,773.4 254.4,773.4 254.9,773.4 255.4,773.4 255.9,773.5 256.4,773.5 256.9,773.5 257.4,773.5 257.9,773.6 258.4,773.6 258.9,773.6 259.4,773.6 259.9,773.6 260.4,773.7 260.9,773.7 261.4,773.7 261.9,773.7 262.4,773.7 262.9,773.8 263.4,773.8 263.9,773.8 264.4,773.8 264.9,773.8 265.4,773.9 265.9,773.9 266.4,773.9 266.9,773.9 267.4,773.9 267.9,774.0 268.4,774.0 268.9,774.0 269.4,774.0 269.9,774.0 270.4,774.0 270.9,774.1 271.4,774.1 271.9,774.1 272.4,774.1 272.9,774.1 273.4,774.1 273.9,774.1 274.4,774.2 274.9,774.2 275.4,774.2 275.9,774.2 276.4,774.2 276.9,774.2 277.4,774.2 277.9,774.2 278.4,774.2 278.9,774.3 279.4,774.3 279.9,774.3 280.4,774.3 280.9,774.3 281.4,774.3 281.9,774.3 282.4,774.3 282.9,774.3 283.4,774.3 283.9,774.3 284.4,774.3 284.9,774.3 285.0,774.3 285.4,774.3 285.9,774.3 286.4,774.3 286.9,774.3 287.4,774.3 287.9,774.3 288.4,774.3 288.9,774.3 289.4,774.3 289.9,774.3 290.4,774.3 290.9,774.3 291.4,774.3 291.9,774.3 292.4,774.3 292.9,774.3 293.4,774.3 293.9,774.3 294.4,774.3 294.9,774.3 295.4,774.3 295.9,774.3 296.4,774.3 296.9,774.3 297.4,774.3 297.9,774.3 298.4,774.3 298.9,774.3 299.4,774.3 299.9,774.3 300.4,774.3 300.9,774.2 301.4,774.2 301.9,774.2 302.4,774.2 302.9,774.2 303.4,774.2 303.9,774.2 304.4,774.2 304.9,774.2 305.4,774.2 305.9,774.2 306.4,774.2 306.9,774.2 307.4,774.2 307.9,774.2 308.4,774.2 308.9,774.2 309.4,774.2 309.9,774.2 310.4,774.2 310.9,774.2 311.4,774.2 311.9,774.2 312.4,774.2 312.9,774.2 313.4,774.2 313.9,774.2 314.4,774.2 314.9,774.1 315.4,774.1 315.9,774.1 316.4,774.1 316.9,774.1 317.4,774.1 317.9,774.1 318.4,774.1 318.9,774.1 319.4,774.1 319.9,774.1 320.4,774.1 320.9,774.1 321.4,774.1 321.9,774.1 322.4,774.1 322.9,774.1 323.4,774.1 323.9,774.1 324.4,774.1 324.9,774.1 325.4,774.1 325.9,774.1 326.4,774.0 326.9,774.0 327.4,774.0 327.9,774.0 328.4,774.0 328.9,774.0 329.4,774.0 329.9,774.0 330.4,774.0 330.9,774.0 331.4,774.0 331.9,774.0 332.4,774.0 332.9,774.0 333.4,774.0 333.9,774.0 334.4,774.0 334.9,774.0 335.4,774.0 335.9,774.0 336.4,774.0 336.9,774.0 337.4,774.0 337.9,774.0 338.4,774.0 338.9,774.0 339.4,774.0 339.9,773.9 340.4,773.9 340.9,773.9 341.4,773.9 341.9,773.9 342.4,773.9 342.9,773.9 343.4,773.9 343.9,773.9 344.4,773.9 344.9,773.9 345.4,773.9 345.9,773.9 346.4,773.9 346.9,773.9 347.4,773.9 347.9,773.9 348.4,773.9 348.9,773.9 349.4,773.9 349.9,773.9 350.0,773.9 350.4,773.9 350.9,773.9 351.4,773.9 351.9,773.9 352.4,773.9 352.9,773.9 353.4,773.9 353.9,773.9 354.4,773.9 354.9,773.9 355.4,773.9 355.9,773.9 356.4,773.9 356.9,773.9 357.4,773.9 357.9,773.9 358.4,773.9 358.9,773.9 359.4,773.9 359.9,773.9 360.4,773.9 360.9,773.9 361.4,773.9 361.9,773.9 362.4,773.9 362.9,773.9 363.4,773.9 363.9,773.9 364.4,773.9 364.9,773.9 365.4,773.9 365.9,773.9 366.4,773.9 366.9,773.9 367.4,773.9 367.9,773.8 368.4,773.8 368.9,773.8 369.4,773.8 369.9,773.8 370.4,773.8 370.9,773.8 371.4,773.8 371.9,773.8 372.4,773.8 372.9,773.8 373.4,773.8 373.9,773.8 374.4,773.8 374.9,773.8 375.4,773.8 375.9,773.8 376.4,773.8 376.9,773.8 377.4,773.8 377.9,773.8 378.4,773.8 378.9,773.8 379.4,773.8 379.9,773.8 380.4,773.8 380.9,773.8 381.4,773.8 381.9,773.8 382.4,773.8 382.9,773.8 383.4,773.8 383.9,773.8 384.4,773.8 384.9,773.8 385.4,773.8 385.9,773.8 386.4,773.8 386.9,773.8 387.4,773.8 387.9,773.8 388.4,773.8 388.9,773.8 389.4,773.8 389.9,773.8 390.4,773.8 390.9,773.8 391.4,773.8 391.9,773.8 392.4,773.8 392.9,773.8 393.4,773.8 393.9,773.8 394.4,773.8 394.9,773.8 395.4,773.8 395.9,773.8 396.4,773.8 396.9,773.8 397.4,773.8 397.9,773.8 398.4,773.8 398.9,773.8 399.4,773.8 399.9,773.8 400.0,773.8 400.4,773.8 400.9,773.8 401.4,773.8 401.9,773.8 402.4,773.8 402.9,773.8 403.4,773.8 403.9,773.8 404.4,773.8 404.9,773.8 405.4,773.8 405.9,773.8 406.4,773.8 406.9,773.8 407.4,773.8 407.9,773.8 408.4,773.8 408.9,773.8 409.4,773.8 409.9,773.8 410.4,773.8 410.9,773.8 411.4,773.8 411.9,773.8 412.4,773.8 412.9,773.8 413.4,773.8 413.9,773.8 414.4,773.8 414.9,773.8 415.4,773.8 415.9,773.8 416.4,773.8 416.9,773.8 417.4,773.8 417.9,773.8 418.4,773.8 418.9,773.8 419.4,773.8 419.9,773.8 420.4,773.8 420.9,773.8 421.4,773.8 421.9,773.8 422.4,773.8 422.9,773.8 423.4,773.8 423.9,773.8 424.4,773.8 424.9,773.8 425.4,773.8 425.9,773.8 426.4,773.8 426.9,773.9 427.4,773.9 427.9,773.9 428.4,773.9 428.9,773.9 429.4,773.9 429.9,773.9 430.4,773.9 430.9,773.9 431.4,773.9 431.9,773.9 432.4,773.9 432.9,773.9 433.4,773.9 433.9,773.9 434.4,773.9 434.9,773.9 435.4,773.9 435.9,773.9 436.4,773.9 436.9,773.9 437.4,773.9 437.9,773.9 438.4,773.9 438.9,773.9 439.4,773.9 439.9,773.9 440.4,774.0 440.9,774.0 441.4,774.0 441.9,774.0 442.4,774.0 442.9,774.0 443.4,774.0 443.9,774.0 444.4,774.0 444.9,774.0 445.4,774.0 445.9,774.0 446.4,774.0 446.9,774.0 447.4,774.0 447.9,774.0 448.4,774.1 448.9,774.1 449.4,774.1 449.9,774.1 450.4,774.1 450.9,774.1 451.4,774.1 451.9,774.1 452.4,774.1 452.9,774.1 453.4,774.1 453.9,774.1 454.4,774.2 454.9,774.2 455.4,774.2 455.9,774.2 456.4,774.2 456.9,774.2 457.4,774.2 457.9,774.2 458.4,774.2 458.9,774.2 459.4,774.3 459.9,774.3 460.4,774.3 460.9,774.3 461.4,774.3 461.6,774.3 461.9,774.4 462.4,774.7 462.9,775.2 463.4,775.8 463.9,776.6 464.4,777.3 464.9,778.1 465.4,778.9 465.9,779.7 466.4,780.7 466.9,781.7 467.4,782.8 467.9,783.9 468.4,785.1 468.9,786.3 469.4,787.6 469.9,788.9 470.4,790.2 470.9,791.5 471.4,792.9 471.9,794.3 472.4,795.8 472.9,797.3 473.4,798.9 473.9,800.6 474.4,802.3 474.9,804.0 475.4,805.8 475.9,807.6 476.4,809.4 476.9,811.2 477.4,813.0 477.9,814.8 478.4,816.6 478.9,818.4 479.4,820.1 479.6,820.8 479.9,821.8 480.4,823.5 480.9,825.2 481.4,826.8 481.9,828.5 482.4,830.2 482.9,831.8 483.4,833.5 483.9,835.1 484.4,836.8 484.9,838.5 485.4,840.2 485.9,841.8 486.4,843.5 486.9,845.2 487.4,847.0 487.9,848.7 488.4,850.5 488.9,852.2 489.4,854.0 489.9,855.8 490.4,857.6 490.9,859.4 491.4,861.3 491.9,863.1 492.4,864.9 492.9,866.8 493.4,868.6 493.9,870.4 494.4,872.2 494.9,874.0 495.4,875.8 495.9,877.6 496.1,878.3 496.4,879.4 496.9,881.1 497.4,882.9 497.9,884.6 498.4,886.3 498.9,888.1 499.4,889.8 499.9,891.5 500.4,893.3 500.9,895.0 501.4,896.7 501.9,898.3 502.4,900.0 502.9,901.7 503.4,903.3 503.9,904.9 504.3,906.2 504.4,906.5 504.9,908.1 505.4,909.7 505.9,911.3 506.4,912.8 506.9,914.3 507.4,915.8 507.9,917.3 508.4,918.8 508.9,920.2 509.2,921.0 509.4,921.5 509.9,922.9 510.4,924.3 510.9,925.6 511.4,926.9 511.9,928.2 512.4,929.5 512.9,930.8 513.4,932.0 513.9,933.2 514.4,934.4 514.9,935.5 515.4,936.6 515.8,937.4 515.9,937.6 516.4,938.6 516.9,939.6 517.4,940.5 517.9,941.4 518.4,942.3 518.9,943.1 519.4,943.9 519.9,944.8 520.4,945.6 520.9,946.4 521.4,947.2 521.9,948.1 522.4,948.9 522.9,949.7 523.4,950.6 523.9,951.4 524.4,952.2 524.9,953.0 525.0,953.2 525.4,953.9 525.9,954.8 526.4,955.7 526.9,956.6 527.4,957.5 527.9,958.4 528.4,959.4 528.9,960.3 529.4,961.2 529.9,962.1 530.4,963.0 530.9,963.8 531.4,964.7 531.9,965.4 532.2,965.9 532.4,966.2 532.9,966.9 533.4,967.6 533.9,968.2 534.4,968.8 534.9,969.5 535.4,970.1 535.9,970.7 536.4,971.3 536.9,972.0 537.4,972.7 537.7,973.1 537.9,973.4 538.4,974.2 538.9,975.1 539.4,976.0 539.9,976.9 540.4,977.9 540.9,978.8 541.4,979.7 541.9,980.5 542.4,981.3 542.9,981.9 543.1,982.1 543.4,982.4 543.9,982.9 544.4,983.3 544.9,983.7 545.4,984.1 545.9,984.4 546.4,984.8 546.9,985.1 547.4,985.4 547.9,985.7 548.4,986.0 548.9,986.3 549.4,986.6 549.9,986.9 550.4,987.2 550.9,987.6 551.4,987.9 551.9,988.3 552.1,988.5 552.4,988.8 552.9,989.2 553.4,989.7 553.9,990.3 554.4,990.8 554.9,991.4 555.4,992.0 555.9,992.6 556.4,993.1 556.9,993.8 557.4,994.3 557.9,994.9 558.4,995.5 558.9,996.1 559.4,996.6 559.9,997.2 560.4,997.7 560.9,998.1 561.2,998.4 561.4,998.6 561.9,999.0 562.4,999.4 562.9,999.8 563.4,1000.2 563.9,1000.5 564.4,1000.9 564.9,1001.2 565.4,1001.6 565.9,1001.9 566.4,1002.2 566.9,1002.6 567.4,1002.9 567.9,1003.2 568.4,1003.6 568.9,1003.9 569.4,1004.2 569.9,1004.6 570.2,1004.8 570.4,1004.9 570.9,1005.3 571.4,1005.7 571.9,1006.0 572.4,1006.4 572.9,1006.8 573.4,1007.2 573.9,1007.5 574.4,1007.9 574.9,1008.3 575.4,1008.6 575.9,1009.0 576.4,1009.3 576.9,1009.7 577.4,1010.0 577.9,1010.3 578.4,1010.6 578.9,1010.9 579.3,1011.1 579.4,1011.2 579.9,1011.4 580.4,1011.6 580.9,1011.9 581.4,1012.1 581.9,1012.3 582.4,1012.5 582.9,1012.8 583.4,1013.0 583.9,1013.2 584.4,1013.4 584.9,1013.5 585.4,1013.7 585.9,1013.9 586.4,1014.1 586.9,1014.2 587.4,1014.4 587.9,1014.6 588.3,1014.7 588.4,1014.7 588.9,1014.9 589.4,1015.0 589.9,1015.2 590.4,1015.3 590.9,1015.4 591.4,1015.6 591.9,1015.7 592.4,1015.8 592.9,1015.9 593.4,1016.0 593.9,1016.2 594.4,1016.3 594.9,1016.4 595.4,1016.5 595.9,1016.6 596.4,1016.7 596.9,1016.8 597.4,1016.9 597.9,1017.1 598.4,1017.2 598.9,1017.3 599.4,1017.4 599.9,1017.5 600.4,1017.6 600.9,1017.8 601.4,1017.9 601.9,1018.0 602.4,1018.2 602.8,1018.3 602.9,1018.3 603.4,1018.5 603.9,1018.6 604.4,1018.8 604.9,1019.0 605.4,1019.1 605.9,1019.3 606.4,1019.5 606.9,1019.6 607.4,1019.8 607.9,1020.0 608.4,1020.2 608.9,1020.3 609.4,1020.5 609.9,1020.7 610.4,1020.9 610.9,1021.1 611.4,1021.3 611.9,1021.5 612.4,1021.7 612.9,1021.8 613.4,1022.0 613.9,1022.2 614.4,1022.4 614.9,1022.6 615.4,1022.8 615.9,1023.0 616.4,1023.2 616.9,1023.4 617.4,1023.6 617.9,1023.8 618.4,1024.1 618.9,1024.3 619.4,1024.5 619.9,1024.7 620.4,1025.0 620.9,1025.2 621.4,1025.4 621.9,1025.6 622.4,1025.8 622.9,1026.0 623.4,1026.2 623.9,1026.3 624.4,1026.5 624.5,1026.5 624.9,1026.6 625.4,1026.8 625.9,1026.9 626.4,1027.0 626.9,1027.1 627.4,1027.3 627.9,1027.4 628.4,1027.5 628.9,1027.6 629.4,1027.7 629.9,1027.9 630.4,1028.0 630.9,1028.1 631.4,1028.2 631.9,1028.3 632.4,1028.4 632.9,1028.5 633.4,1028.6 633.9,1028.7 634.4,1028.7 634.9,1028.8 635.4,1028.9 635.9,1029.0 636.4,1029.1 636.9,1029.2 637.1,1029.2 637.4,1029.2 637.9,1029.3 638.4,1029.4 638.9,1029.5 639.4,1029.5 639.9,1029.6 640.4,1029.7 640.9,1029.8 641.4,1029.8 641.9,1029.9 642.4,1030.0 642.9,1030.0 643.4,1030.1 643.9,1030.1 644.4,1030.2 644.9,1030.3 645.4,1030.3 645.9,1030.4 646.4,1030.4 646.9,1030.5 647.4,1030.6 647.9,1030.6 648.4,1030.7 648.9,1030.7 649.4,1030.8 649.9,1030.8 650.4,1030.9 650.9,1030.9 651.4,1031.0 651.6,1031.0 651.9,1031.0 652.4,1031.1 652.9,1031.1 653.4,1031.2 653.9,1031.2 654.4,1031.3 654.9,1031.3 655.4,1031.4 655.9,1031.4 656.4,1031.5 656.9,1031.5 657.4,1031.5 657.9,1031.6 658.4,1031.6 658.9,1031.7 659.4,1031.7 659.9,1031.8 660.4,1031.8 660.9,1031.8 661.4,1031.9 661.9,1031.9 662.4,1032.0 662.9,1032.0 663.4,1032.1 663.9,1032.1 664.4,1032.1 664.9,1032.2 665.0,1032.2 665.4,1032.2 665.9,1032.3 666.4,1032.3 666.9,1032.4 667.4,1032.4 667.9,1032.5 668.4,1032.5 668.9,1032.6 669.4,1032.6 669.9,1032.7 670.4,1032.7 670.9,1032.8 671.4,1032.8 671.9,1032.9 672.4,1032.9 672.9,1033.0 673.4,1033.0 673.9,1033.1 674.4,1033.1 674.9,1033.1 675.4,1033.2 675.9,1033.2 676.4,1033.3 676.9,1033.3 677.4,1033.3 677.9,1033.4 678.4,1033.4 678.9,1033.5 679.4,1033.5 679.9,1033.5 680.4,1033.6 680.9,1033.6 681.4,1033.6 681.9,1033.7 682.4,1033.7 682.9,1033.8 683.4,1033.8 683.9,1033.8 684.4,1033.9 684.9,1033.9 685.4,1033.9 685.9,1034.0 686.4,1034.0 686.9,1034.0 687.4,1034.1 687.9,1034.1 688.4,1034.1 688.9,1034.2 689.4,1034.2 689.9,1034.2 690.4,1034.3 690.9,1034.3 691.4,1034.4 691.9,1034.4 692.4,1034.4 692.9,1034.5 693.4,1034.5 693.9,1034.5 694.4,1034.6 694.9,1034.6 695.4,1034.6 695.9,1034.7 696.4,1034.7 696.9,1034.8 697.4,1034.8 697.9,1034.8 698.4,1034.9 698.9,1034.9 699.4,1035.0 699.9,1035.0 700.0,1035.0 700.4,1035.0 700.9,1035.1 701.4,1035.1 701.9,1035.2 702.4,1035.2 702.9,1035.3 703.4,1035.3 703.9,1035.3 704.4,1035.4 704.9,1035.4 705.4,1035.5 705.9,1035.5 706.4,1035.6 706.9,1035.6 707.4,1035.7 707.9,1035.7 708.4,1035.8 708.9,1035.8 709.4,1035.9 709.9,1035.9 710.4,1036.0 710.9,1036.0 711.4,1036.1 711.9,1036.2 712.4,1036.2 712.9,1036.3 713.4,1036.3 713.9,1036.4 714.4,1036.4 714.9,1036.5 715.4,1036.5 715.9,1036.6 716.4,1036.6 716.9,1036.7 717.4,1036.7 717.9,1036.8 718.4,1036.9 718.9,1036.9 719.4,1037.0 719.9,1037.0 720.4,1037.1 720.9,1037.1 721.4,1037.2 721.9,1037.2 722.4,1037.3 722.9,1037.3 723.4,1037.4 723.9,1037.4 724.4,1037.5 724.9,1037.5 725.4,1037.6 725.9,1037.6 726.4,1037.7 726.9,1037.7 727.4,1037.8 727.9,1037.8 728.4,1037.9 728.9,1037.9 729.4,1038.0 729.9,1038.0 730.4,1038.0 730.9,1038.1 731.4,1038.1 731.9,1038.2 732.4,1038.2 732.9,1038.2 733.4,1038.3 733.9,1038.3 734.4,1038.4 734.9,1038.4 735.4,1038.4 735.9,1038.5 736.4,1038.5 736.9,1038.5 737.4,1038.6 737.9,1038.6 738.2,1038.6 738.4,1038.6 738.9,1038.6 739.4,1038.7 739.9,1038.7 740.4,1038.7 740.9,1038.7 741.4,1038.8 741.9,1038.8 742.4,1038.8 742.9,1038.9 743.4,1038.9 743.9,1038.9 744.4,1038.9 744.9,1039.0 745.4,1039.0 745.9,1039.0 746.4,1039.0 746.9,1039.1 747.4,1039.1 747.9,1039.1 748.4,1039.1 748.9,1039.2 749.4,1039.2 749.9,1039.2 750.4,1039.2 750.9,1039.3 751.4,1039.3 751.9,1039.3 752.4,1039.3 752.9,1039.3 753.4,1039.4 753.9,1039.4 754.4,1039.4 754.9,1039.4 755.4,1039.5 755.9,1039.5 756.4,1039.5 756.9,1039.5 757.4,1039.5 757.9,1039.6 758.4,1039.6 758.9,1039.6 759.4,1039.6 759.9,1039.7 760.4,1039.7 760.9,1039.7 761.4,1039.7 761.9,1039.7 762.4,1039.8 762.9,1039.8 763.4,1039.8 763.9,1039.8 764.4,1039.8 764.9,1039.9 765.4,1039.9 765.9,1039.9 766.4,1039.9 766.9,1039.9 767.4,1040.0 767.9,1040.0 768.4,1040.0 768.9,1040.0 769.4,1040.0 769.9,1040.1 770.4,1040.1 770.9,1040.1 771.4,1040.1 771.9,1040.1 772.4,1040.1 772.9,1040.2 773.4,1040.2 773.9,1040.2 774.4,1040.2 774.9,1040.2 775.4,1040.3 775.9,1040.3 776.4,1040.3 776.9,1040.3 777.4,1040.3 777.9,1040.3 778.4,1040.4 778.9,1040.4 779.4,1040.4 779.9,1040.4 780.4,1040.4 780.9,1040.4 781.4,1040.5 781.9,1040.5 782.4,1040.5 782.9,1040.5 783.4,1040.5 783.9,1040.5 784.4,1040.6 784.9,1040.6 785.4,1040.6 785.9,1040.6 786.4,1040.6 786.9,1040.6 787.4,1040.7 787.9,1040.7 788.4,1040.7 788.9,1040.7 789.4,1040.7 789.9,1040.7 790.4,1040.7 790.9,1040.8 791.4,1040.8 791.9,1040.8 792.4,1040.8 792.9,1040.8 793.4,1040.8 793.9,1040.8 794.4,1040.9 794.9,1040.9 795.4,1040.9 795.9,1040.9 796.4,1040.9 796.9,1040.9 797.4,1040.9 797.9,1041.0 798.4,1041.0 798.9,1041.0 799.4,1041.0 799.9,1041.0 800.4,1041.0 800.9,1041.0 801.4,1041.1 801.9,1041.1 802.4,1041.1 802.9,1041.1 803.4,1041.1 803.9,1041.1 804.4,1041.1 804.9,1041.1 805.4,1041.2 805.9,1041.2 806.4,1041.2 806.9,1041.2 807.4,1041.2 807.9,1041.2 808.4,1041.2 808.9,1041.2 809.4,1041.3 809.9,1041.3 810.4,1041.3 810.9,1041.3 811.4,1041.3 811.9,1041.3 812.4,1041.3 812.9,1041.3 813.4,1041.4 813.9,1041.4 814.4,1041.4 814.9,1041.4 815.2,1041.4 815.4,1041.4 815.9,1041.4 816.4,1041.4 816.9,1041.4 817.4,1041.5 817.9,1041.5 818.4,1041.5 818.9,1041.5 819.4,1041.5 819.9,1041.5 820.4,1041.5 820.9,1041.5 821.4,1041.6 821.9,1041.6 822.4,1041.6 822.9,1041.6 823.4,1041.6 823.9,1041.6 824.4,1041.6 824.9,1041.6 825.4,1041.6 825.9,1041.7 826.4,1041.7 826.9,1041.7 827.4,1041.7 827.9,1041.7 828.4,1041.7 828.9,1041.7 829.4,1041.7 829.9,1041.8 830.4,1041.8 830.9,1041.8 831.4,1041.8 831.9,1041.8 832.4,1041.8 832.9,1041.8 833.4,1041.8 833.9,1041.9 834.4,1041.9 834.9,1041.9 835.4,1041.9 835.9,1041.9 836.4,1041.9 836.9,1041.9 837.4,1041.9 837.9,1042.0 838.4,1042.0 838.9,1042.0 839.4,1042.0 839.9,1042.0 840.4,1042.0 840.9,1042.0 841.4,1042.0 841.9,1042.1 842.4,1042.1 842.9,1042.1 843.4,1042.1 843.9,1042.1 844.4,1042.1 844.9,1042.1 845.4,1042.1 845.9,1042.1 846.4,1042.2 846.9,1042.2 847.4,1042.2 847.9,1042.2 848.4,1042.2 848.9,1042.2 849.4,1042.2 849.9,1042.2 850.4,1042.2 850.9,1042.3 851.4,1042.3 851.9,1042.3 852.4,1042.3 852.9,1042.3 853.4,1042.3 853.9,1042.3 854.4,1042.3 854.9,1042.3 855.4,1042.3 855.9,1042.4 856.4,1042.4 856.9,1042.4 857.4,1042.4 857.9,1042.4 858.4,1042.4 858.9,1042.4 859.4,1042.4 859.9,1042.4 860.4,1042.4 860.9,1042.4 861.4,1042.5 861.9,1042.5 862.4,1042.5 862.9,1042.5 863.4,1042.5 863.9,1042.5 864.4,1042.5 864.9,1042.5 865.4,1042.5 865.9,1042.5 866.4,1042.5 866.9,1042.5 867.4,1042.5 867.9,1042.6 868.4,1042.6 868.9,1042.6 869.4,1042.6 869.9,1042.6 870.4,1042.6 870.9,1042.6 871.4,1042.6 871.9,1042.6 872.4,1042.6 872.9,1042.6 873.4,1042.6 873.9,1042.6 874.4,1042.6 874.9,1042.6 875.4,1042.6 875.9,1042.6 876.4,1042.6 876.9,1042.7 877.4,1042.7 877.9,1042.7 878.4,1042.7 878.9,1042.7 879.4,1042.7 879.9,1042.7 880.4,1042.7 880.9,1042.7 881.4,1042.7 881.9,1042.7 882.4,1042.7 882.9,1042.7 883.4,1042.7 883.9,1042.7 884.4,1042.7 884.9,1042.7 885.4,1042.7 885.9,1042.7 886.4,1042.7 886.9,1042.7 887.4,1042.7 887.9,1042.7 888.0,1042.7 888.4,1042.7 888.9,1042.7 889.4,1042.7 889.9,1042.7 890.4,1042.7 890.9,1042.7 891.4,1042.7 891.9,1042.7 892.4,1042.7 892.9,1042.7 893.4,1042.7 893.9,1042.7 894.4,1042.7 894.9,1042.7 895.4,1042.7 895.9,1042.7 896.4,1042.7 896.9,1042.6 897.4,1042.6 897.9,1042.6 898.4,1042.6 898.9,1042.6 899.4,1042.6 899.9,1042.6 900.4,1042.6 900.9,1042.6 901.4,1042.6 901.9,1042.6 902.4,1042.6 902.9,1042.6 903.4,1042.6 903.9,1042.5 904.4,1042.5 904.9,1042.5 905.4,1042.5 905.9,1042.5 906.4,1042.5 906.9,1042.5 907.4,1042.5 907.9,1042.5 908.4,1042.5 908.9,1042.4 909.4,1042.4 909.9,1042.4 910.4,1042.4 910.9,1042.4 911.4,1042.4 911.9,1042.4 912.4,1042.4 912.9,1042.3 913.4,1042.3 913.9,1042.3 914.4,1042.3 914.9,1042.3 915.4,1042.3 915.9,1042.3 916.4,1042.2 916.9,1042.2 917.4,1042.2 917.9,1042.2 918.4,1042.2 918.9,1042.2 919.4,1042.2 919.9,1042.1 920.4,1042.1 920.9,1042.1 921.4,1042.1 921.9,1042.1 922.4,1042.1 922.9,1042.0 923.4,1042.0 923.9,1042.0 924.4,1042.0 924.9,1042.0 925.4,1042.0 925.9,1042.0 926.4,1041.9 926.9,1041.9 927.4,1041.9" stroke="#0a0a0a" stroke-width="1.5"/><path d="M121.1,817.8 121.6,817.7 122.1,817.4 122.6,817.1 122.7,817.0 123.1,816.5 123.6,815.6 124.1,814.3 124.6,812.8 125.1,811.2 125.5,809.9 125.6,809.6 126.1,808.0 126.6,806.2 127.1,804.4 127.6,802.5 128.1,800.4 128.6,798.2 129.1,795.9 129.6,793.5 130.1,790.9 130.6,788.2 130.8,787.1 131.1,785.3 131.6,781.9 132.1,778.1 132.6,773.9 133.1,769.6 133.6,765.2 134.1,760.9 134.6,756.6 135.1,752.7 135.2,751.9 135.6,748.9 136.1,745.0 136.6,741.2 137.1,737.5 137.6,733.9 138.1,730.7 138.6,727.8 138.7,727.3 139.1,725.3 139.6,723.0 140.1,720.9 140.6,719.3 140.7,719.0 141.1,717.9 141.6,716.6 142.1,715.9 142.2,715.9 142.6,716.4 143.1,717.9 143.5,719.5 143.6,719.9 144.1,723.2 144.6,727.7 144.9,730.8 145.1,733.1 145.6,740.5 146.1,749.3 146.6,758.7 147.0,766.0 147.1,767.9 147.6,779.8 148.1,790.1 148.4,792.3 148.6,792.2 149.1,791.6 149.6,790.7 149.7,790.5 150.1,789.9 150.6,789.1 151.1,788.3 151.6,787.5 152.1,786.7 152.6,785.9 153.0,785.3 153.1,785.1 153.6,784.3 154.1,783.5 154.6,782.7 155.1,781.8 155.6,781.0 156.1,780.2 156.6,779.4 157.1,778.7 157.6,778.1 158.1,777.5 158.2,777.4 158.6,777.0 159.1,776.5 159.6,776.1 160.1,775.7 160.6,775.3 161.1,774.9 161.6,774.5 162.1,774.2 162.6,773.8 163.1,773.5 163.6,773.2 164.1,772.9 164.6,772.6 165.1,772.2 165.6,771.9 166.1,771.6 166.6,771.3 167.0,771.0 167.1,770.9 167.6,770.6 168.1,770.2 168.6,769.8 169.1,769.5 169.6,769.1 170.1,768.7 170.6,768.4 171.1,768.0 171.6,767.6 172.1,767.3 172.6,767.0 173.1,766.7 173.6,766.4 174.1,766.1 174.6,765.8 175.1,765.6 175.3,765.5 175.6,765.4 176.1,765.2 176.6,764.9 177.1,764.7 177.6,764.5 178.1,764.3 178.6,764.1 179.1,763.9 179.6,763.7 180.1,763.5 180.6,763.4 181.1,763.2 181.6,763.1 182.1,763.0 182.6,762.9 183.1,762.9 183.6,762.8 184.1,762.8 184.1,762.8 184.6,762.8 185.1,762.9 185.6,762.9 186.1,763.0 186.6,763.1 187.1,763.2 187.6,763.4 188.1,763.5 188.6,763.7 189.1,763.8 189.6,764.0 190.1,764.2 190.6,764.3 191.1,764.5 191.6,764.7 192.1,764.9 192.6,765.0 192.9,765.1 193.1,765.2 193.6,765.3 194.1,765.5 194.6,765.6 195.1,765.8 195.6,766.0 196.1,766.1 196.6,766.3 197.1,766.5 197.6,766.7 198.1,766.8 198.6,767.0 199.1,767.2 199.6,767.4 200.1,767.5 200.6,767.7 201.1,767.9 201.6,768.0 202.1,768.2 202.6,768.4 203.1,768.5 203.4,768.6 203.6,768.7 204.1,768.8 204.6,768.9 205.1,769.1 205.6,769.2 206.1,769.4 206.6,769.5 207.1,769.6 207.6,769.8 208.1,769.9 208.6,770.0 209.1,770.1 209.6,770.3 210.1,770.4 210.6,770.5 211.1,770.6 211.6,770.8 212.1,770.9 212.6,771.0 213.1,771.1 213.6,771.2 214.1,771.4 214.6,771.5 215.1,771.6 215.6,771.7 216.1,771.8 216.6,771.9 217.1,772.0 217.6,772.1 218.1,772.2 218.6,772.4 219.1,772.5 219.3,772.5 219.6,772.6 220.1,772.7 220.6,772.8 221.1,772.9 221.6,773.0 222.1,773.1 222.6,773.2 223.1,773.3 223.6,773.4 224.1,773.5 224.6,773.6 225.1,773.7 225.6,773.8 226.1,773.9 226.6,774.0 227.1,774.1 227.6,774.2 228.1,774.3 228.6,774.3 229.1,774.4 229.6,774.5 230.1,774.6 230.6,774.7 231.1,774.8 231.6,774.9 232.1,775.0 232.6,775.0 233.1,775.1 233.6,775.2 234.1,775.3 234.6,775.4 235.1,775.4 235.6,775.5 236.1,775.6 236.6,775.7 236.8,775.7 237.1,775.7 237.6,775.8 238.1,775.9 238.6,776.0 239.1,776.0 239.6,776.1 240.1,776.2 240.6,776.2 241.1,776.3 241.6,776.4 242.1,776.5 242.6,776.5 243.1,776.6 243.6,776.7 244.1,776.7 244.6,776.8 245.1,776.9 245.6,776.9 246.1,777.0 246.6,777.0 247.1,777.1 247.6,777.2 248.1,777.2 248.6,777.3 249.1,777.3 249.6,777.4 250.1,777.4 250.6,777.5 251.1,777.5 251.6,777.6 252.1,777.6 252.6,777.7 253.1,777.7 253.6,777.7 254.1,777.8 254.4,777.8 254.6,777.8 255.1,777.8 255.6,777.9 256.1,777.9 256.6,778.0 257.1,778.0 257.6,778.0 258.1,778.1 258.6,778.1 259.1,778.1 259.6,778.2 260.1,778.2 260.6,778.2 261.1,778.2 261.6,778.3 262.1,778.3 262.6,778.3 263.1,778.4 263.6,778.4 264.1,778.4 264.6,778.5 265.1,778.5 265.6,778.5 266.1,778.6 266.6,778.6 267.1,778.6 267.6,778.6 268.1,778.7 268.6,778.7 269.1,778.7 269.6,778.7 270.1,778.8 270.6,778.8 271.1,778.8 271.6,778.8 272.1,778.9 272.6,778.9 273.1,778.9 273.6,778.9 274.1,779.0 274.6,779.0 275.1,779.0 275.6,779.0 276.1,779.0 276.6,779.0 277.1,779.1 277.6,779.1 278.1,779.1 278.6,779.1 279.1,779.1 279.6,779.1 280.1,779.1 280.6,779.1 281.1,779.2 281.6,779.2 282.1,779.2 282.6,779.2 283.1,779.2 283.6,779.2 284.1,779.2 284.6,779.2 285.0,779.2 285.1,779.2 285.6,779.2 286.1,779.2 286.6,779.2 287.1,779.2 287.6,779.2 288.1,779.2 288.6,779.2 289.1,779.2 289.6,779.2 290.1,779.2 290.6,779.2 291.1,779.2 291.6,779.2 292.1,779.2 292.6,779.2 293.1,779.2 293.6,779.2 294.1,779.2 294.6,779.2 295.1,779.2 295.6,779.2 296.1,779.2 296.6,779.2 297.1,779.2 297.6,779.2 298.1,779.2 298.6,779.2 299.1,779.2 299.6,779.2 300.1,779.2 300.6,779.2 301.1,779.2 301.6,779.2 302.1,779.2 302.6,779.2 303.1,779.3 303.6,779.3 304.1,779.3 304.6,779.3 305.1,779.3 305.6,779.3 306.1,779.3 306.6,779.3 307.1,779.3 307.6,779.3 308.1,779.3 308.6,779.3 309.1,779.3 309.6,779.3 310.1,779.3 310.6,779.3 311.1,779.3 311.6,779.3 312.1,779.3 312.6,779.3 313.1,779.3 313.6,779.3 314.1,779.3 314.6,779.3 315.1,779.3 315.6,779.3 316.1,779.3 316.6,779.3 317.1,779.3 317.6,779.3 318.1,779.3 318.6,779.3 319.1,779.3 319.6,779.3 320.1,779.3 320.6,779.3 321.1,779.3 321.6,779.3 322.1,779.3 322.6,779.3 323.1,779.3 323.6,779.3 324.1,779.3 324.6,779.3 325.1,779.3 325.6,779.3 326.1,779.3 326.6,779.3 327.1,779.3 327.6,779.3 328.1,779.3 328.6,779.3 329.1,779.3 329.6,779.3 330.1,779.3 330.6,779.3 331.1,779.3 331.6,779.3 332.1,779.3 332.6,779.3 333.1,779.3 333.6,779.3 334.1,779.3 334.6,779.3 335.1,779.3 335.6,779.3 336.1,779.3 336.6,779.3 337.1,779.3 337.6,779.3 338.1,779.3 338.6,779.3 339.1,779.3 339.6,779.3 340.1,779.3 340.6,779.3 341.1,779.3 341.6,779.3 342.1,779.3 342.6,779.3 343.1,779.3 343.6,779.3 344.1,779.3 344.6,779.3 345.1,779.3 345.6,779.3 346.1,779.3 346.6,779.3 347.1,779.3 347.6,779.3 348.1,779.3 348.6,779.3 349.1,779.3 349.6,779.3 350.0,779.3 350.1,779.3 350.6,779.3 351.1,779.3 351.6,779.3 352.1,779.3 352.6,779.3 353.1,779.3 353.6,779.3 354.1,779.3 354.6,779.3 355.1,779.3 355.6,779.3 356.1,779.3 356.6,779.3 357.1,779.3 357.6,779.3 358.1,779.3 358.6,779.3 359.1,779.3 359.6,779.3 360.1,779.3 360.6,779.3 361.1,779.3 361.6,779.3 362.1,779.3 362.6,779.3 363.1,779.3 363.6,779.3 364.1,779.3 364.6,779.3 365.1,779.3 365.6,779.3 366.1,779.3 366.6,779.3 367.1,779.3 367.6,779.3 368.1,779.3 368.6,779.3 369.1,779.3 369.6,779.3 370.1,779.3 370.6,779.3 371.1,779.3 371.6,779.3 372.1,779.3 372.6,779.3 373.1,779.3 373.6,779.3 374.1,779.3 374.6,779.3 375.1,779.2 375.6,779.2 376.1,779.2 376.6,779.2 377.1,779.2 377.6,779.2 378.1,779.2 378.6,779.2 379.1,779.2 379.6,779.2 380.1,779.2 380.6,779.2 381.1,779.2 381.6,779.2 382.1,779.2 382.6,779.2 383.1,779.2 383.6,779.2 384.1,779.2 384.6,779.2 385.1,779.2 385.6,779.2 386.1,779.2 386.6,779.2 387.1,779.2 387.6,779.2 388.1,779.2 388.6,779.2 389.1,779.2 389.6,779.2 390.1,779.2 390.6,779.2 391.1,779.2 391.6,779.2 392.1,779.2 392.6,779.2 393.1,779.2 393.6,779.2 394.1,779.2 394.6,779.2 395.1,779.2 395.6,779.2 396.1,779.2 396.6,779.2 397.1,779.2 397.6,779.2 398.1,779.2 398.6,779.2 399.1,779.2 399.6,779.2 400.0,779.2 400.1,779.2 400.6,779.2 401.1,779.2 401.6,779.2 402.1,779.2 402.6,779.2 403.1,779.2 403.6,779.2 404.1,779.2 404.6,779.2 405.1,779.2 405.6,779.2 406.1,779.2 406.6,779.2 407.1,779.2 407.6,779.2 408.1,779.2 408.6,779.2 409.1,779.2 409.6,779.2 410.1,779.2 410.6,779.2 411.1,779.2 411.6,779.2 412.1,779.2 412.6,779.2 413.1,779.2 413.6,779.2 414.1,779.2 414.6,779.2 415.1,779.2 415.6,779.2 416.1,779.2 416.6,779.2 417.1,779.2 417.6,779.2 418.1,779.2 418.6,779.2 419.1,779.2 419.6,779.2 420.1,779.2 420.6,779.2 421.1,779.2 421.6,779.2 422.1,779.2 422.6,779.2 423.1,779.2 423.6,779.2 424.1,779.2 424.6,779.2 425.1,779.2 425.6,779.2 426.1,779.2 426.6,779.2 427.1,779.2 427.6,779.2 428.1,779.2 428.6,779.2 429.1,779.3 429.6,779.3 430.1,779.3 430.6,779.3 431.1,779.3 431.6,779.3 432.1,779.3 432.6,779.3 433.1,779.3 433.6,779.3 434.1,779.3 434.6,779.3 435.1,779.3 435.6,779.3 436.1,779.3 436.6,779.3 437.1,779.3 437.6,779.3 438.1,779.3 438.6,779.3 439.1,779.3 439.6,779.3 440.1,779.3 440.6,779.3 441.1,779.3 441.6,779.3 442.1,779.3 442.6,779.3 443.1,779.3 443.6,779.4 444.1,779.4 444.6,779.4 445.1,779.4 445.6,779.4 446.1,779.4 446.6,779.4 447.1,779.4 447.6,779.4 448.1,779.4 448.6,779.4 449.1,779.4 449.6,779.4 450.1,779.4 450.6,779.4 451.1,779.4 451.6,779.4 452.1,779.4 452.6,779.5 453.1,779.5 453.6,779.5 454.1,779.5 454.6,779.5 455.1,779.5 455.6,779.5 456.1,779.5 456.6,779.5 457.1,779.5 457.6,779.5 458.1,779.5 458.6,779.5 459.1,779.6 459.6,779.6 460.1,779.6 460.6,779.6 461.1,779.6 461.6,779.6 462.1,779.8 462.6,780.3 463.1,781.0 463.6,782.0 464.1,783.0 464.6,784.0 464.9,784.6 465.1,785.0 465.6,786.1 466.1,787.3 466.6,788.6 467.1,790.1 467.6,791.6 468.1,793.1 468.6,794.8 469.1,796.4 469.6,798.2 470.1,799.9 470.6,801.6 471.1,803.4 471.4,804.4 471.6,805.1 472.1,806.9 472.6,808.7 473.1,810.6 473.6,812.6 474.1,814.6 474.6,816.6 475.1,818.7 475.6,820.8 476.1,822.9 476.6,825.0 477.1,827.1 477.6,829.1 478.1,831.2 478.6,833.2 479.1,835.2 479.6,837.2 480.1,839.1 480.6,841.0 481.1,843.0 481.6,844.8 482.1,846.7 482.6,848.6 483.1,850.5 483.6,852.3 484.1,854.2 484.6,856.1 485.1,857.9 485.6,859.8 486.1,861.6 486.6,863.5 487.1,865.4 487.6,867.3 487.9,868.4 488.1,869.2 488.6,871.1 489.1,873.0 489.6,874.9 490.1,876.8 490.6,878.8 491.1,880.7 491.6,882.6 492.1,884.6 492.6,886.5 493.1,888.4 493.6,890.3 494.1,892.2 494.6,894.1 495.1,896.0 495.6,897.8 496.1,899.6 496.6,901.4 497.1,903.2 497.6,904.9 498.1,906.7 498.6,908.4 499.1,910.1 499.6,911.8 500.1,913.6 500.6,915.2 501.1,916.9 501.6,918.6 502.1,920.3 502.6,922.0 503.1,923.6 503.6,925.3 504.1,926.9 504.3,927.6 504.6,928.6 505.1,930.3 505.6,931.9 506.1,933.6 506.6,935.3 507.1,936.9 507.6,938.6 508.1,940.2 508.6,941.8 509.1,943.4 509.6,945.0 510.1,946.5 510.6,948.0 510.9,948.9 511.1,949.5 511.6,950.9 512.1,952.4 512.6,953.8 513.1,955.2 513.6,956.6 514.1,957.8 514.6,959.1 515.0,960.0 515.1,960.2 515.6,961.3 516.1,962.4 516.6,963.4 517.1,964.3 517.6,965.3 518.1,966.2 518.6,967.1 519.1,967.9 519.6,968.8 520.1,969.6 520.6,970.5 521.1,971.3 521.6,972.2 522.1,973.0 522.6,973.9 523.1,974.8 523.6,975.7 524.1,976.7 524.6,977.7 525.0,978.5 525.1,978.7 525.6,979.8 526.1,981.0 526.6,982.2 527.1,983.5 527.6,984.8 528.1,986.0 528.6,987.3 529.1,988.5 529.6,989.6 530.1,990.6 530.4,991.2 530.6,991.6 531.1,992.5 531.6,993.3 532.1,994.2 532.6,995.0 533.1,995.8 533.6,996.5 534.1,997.3 534.6,998.0 535.1,998.7 535.6,999.3 536.1,1000.0 536.6,1000.6 537.1,1001.3 537.6,1001.9 537.7,1002.0 538.1,1002.5 538.6,1003.0 539.1,1003.5 539.6,1004.0 540.1,1004.5 540.6,1005.0 541.1,1005.5 541.6,1006.0 542.1,1006.5 542.6,1007.0 543.1,1007.5 543.6,1008.1 544.1,1008.6 544.6,1009.2 545.1,1009.8 545.6,1010.4 546.1,1011.0 546.6,1011.7 547.1,1012.3 547.6,1012.9 548.1,1013.5 548.6,1014.2 549.1,1014.8 549.6,1015.4 550.1,1016.0 550.6,1016.6 551.1,1017.2 551.6,1017.7 552.1,1018.3 552.6,1018.8 553.1,1019.4 553.6,1019.9 554.1,1020.5 554.6,1021.0 555.1,1021.6 555.6,1022.1 556.1,1022.7 556.6,1023.2 557.1,1023.7 557.6,1024.2 558.1,1024.7 558.6,1025.2 559.1,1025.6 559.6,1026.1 560.1,1026.5 560.6,1026.9 561.1,1027.3 561.2,1027.4 561.6,1027.7 562.1,1028.0 562.6,1028.4 563.1,1028.7 563.6,1029.0 564.1,1029.3 564.6,1029.6 565.1,1029.9 565.6,1030.2 566.1,1030.4 566.6,1030.7 567.1,1031.0 567.6,1031.3 568.1,1031.5 568.6,1031.8 569.1,1032.1 569.6,1032.4 570.1,1032.7 570.2,1032.8 570.6,1033.1 571.1,1033.4 571.6,1033.7 572.1,1034.1 572.6,1034.4 573.1,1034.8 573.6,1035.2 574.1,1035.5 574.6,1035.9 575.1,1036.3 575.6,1036.6 576.1,1037.0 576.6,1037.4 577.1,1037.7 577.6,1038.0 578.1,1038.4 578.6,1038.7 579.1,1039.0 579.3,1039.1 579.6,1039.3 580.1,1039.6 580.6,1039.8 581.1,1040.1 581.6,1040.4 582.1,1040.7 582.6,1040.9 583.1,1041.2 583.6,1041.4 584.1,1041.7 584.6,1041.9 585.1,1042.2 585.6,1042.4 586.1,1042.6 586.6,1042.9 587.1,1043.1 587.6,1043.3 588.1,1043.5 588.3,1043.6 588.6,1043.7 589.1,1043.9 589.6,1044.1 590.1,1044.3 590.6,1044.5 591.1,1044.7 591.6,1044.9 592.1,1045.1 592.6,1045.2 593.1,1045.4 593.6,1045.6 594.1,1045.8 594.6,1045.9 595.1,1046.1 595.6,1046.3 596.1,1046.4 596.6,1046.6 597.1,1046.8 597.6,1047.0 598.1,1047.1 598.6,1047.3 599.1,1047.5 599.6,1047.7 600.1,1047.9 600.6,1048.0 601.0,1048.2 601.1,1048.2 601.6,1048.4 602.1,1048.6 602.6,1048.9 603.1,1049.1 603.6,1049.3 604.1,1049.5 604.6,1049.7 605.1,1050.0 605.6,1050.2 606.1,1050.4 606.6,1050.6 607.1,1050.9 607.6,1051.1 608.1,1051.3 608.6,1051.5 609.1,1051.7 609.6,1051.9 610.1,1052.1 610.6,1052.3 611.1,1052.5 611.6,1052.6 611.8,1052.7 612.1,1052.8 612.6,1052.9 613.1,1053.1 613.6,1053.3 614.1,1053.4 614.6,1053.5 615.1,1053.7 615.6,1053.8 616.1,1054.0 616.6,1054.1 617.1,1054.2 617.6,1054.4 618.1,1054.5 618.6,1054.6 619.1,1054.7 619.6,1054.9 620.1,1055.0 620.6,1055.1 621.1,1055.2 621.6,1055.3 622.1,1055.4 622.6,1055.5 623.1,1055.6 623.6,1055.7 624.1,1055.8 624.5,1055.9 624.6,1055.9 625.1,1056.0 625.6,1056.1 626.1,1056.2 626.6,1056.3 627.1,1056.4 627.6,1056.5 628.1,1056.5 628.6,1056.6 629.1,1056.7 629.6,1056.8 630.1,1056.9 630.6,1056.9 631.1,1057.0 631.6,1057.1 632.1,1057.2 632.6,1057.2 633.1,1057.3 633.6,1057.4 634.1,1057.5 634.6,1057.5 635.1,1057.6 635.6,1057.7 636.1,1057.7 636.6,1057.8 637.1,1057.9 637.6,1057.9 638.1,1058.0 638.6,1058.1 639.1,1058.1 639.6,1058.2 640.1,1058.2 640.6,1058.3 641.1,1058.3 641.6,1058.4 642.1,1058.4 642.6,1058.5 643.1,1058.6 643.6,1058.6 644.1,1058.7 644.6,1058.7 645.1,1058.7 645.6,1058.8 646.1,1058.8 646.6,1058.9 647.1,1058.9 647.6,1059.0 648.1,1059.0 648.6,1059.1 649.1,1059.1 649.6,1059.1 650.1,1059.2 650.6,1059.2 651.1,1059.3 651.6,1059.3 652.1,1059.3 652.6,1059.4 653.1,1059.4 653.6,1059.5 654.1,1059.5 654.6,1059.5 655.1,1059.6 655.6,1059.6 656.1,1059.6 656.6,1059.7 657.1,1059.7 657.6,1059.8 658.1,1059.8 658.6,1059.8 659.1,1059.9 659.6,1059.9 660.1,1059.9 660.6,1060.0 661.1,1060.0 661.6,1060.0 662.1,1060.1 662.6,1060.1 663.1,1060.2 663.6,1060.2 664.1,1060.2 664.6,1060.3 665.0,1060.3 665.1,1060.3 665.6,1060.3 666.1,1060.4 666.6,1060.4 667.1,1060.5 667.6,1060.5 668.1,1060.5 668.6,1060.6 669.1,1060.6 669.6,1060.7 670.1,1060.7 670.6,1060.7 671.1,1060.8 671.6,1060.8 672.1,1060.8 672.6,1060.9 673.1,1060.9 673.6,1060.9 674.1,1061.0 674.4,1061.0 674.6,1061.0 675.1,1061.0 675.6,1061.1 676.1,1061.1 676.6,1061.1 677.1,1061.2 677.6,1061.2 678.1,1061.2 678.6,1061.3 679.1,1061.3 679.6,1061.3 680.1,1061.4 680.6,1061.4 681.1,1061.4 681.6,1061.5 682.1,1061.5 682.6,1061.5 683.1,1061.5 683.6,1061.6 684.1,1061.6 684.6,1061.6 685.1,1061.7 685.6,1061.7 686.1,1061.7 686.6,1061.7 687.1,1061.8 687.6,1061.8 688.1,1061.8 688.6,1061.9 689.1,1061.9 689.6,1061.9 690.1,1061.9 690.6,1062.0 691.1,1062.0 691.6,1062.0 692.1,1062.1 692.6,1062.1 693.1,1062.1 693.6,1062.2 694.1,1062.2 694.6,1062.2 695.1,1062.3 695.6,1062.3 696.1,1062.3 696.6,1062.4 697.1,1062.4 697.6,1062.4 698.1,1062.5 698.6,1062.5 699.1,1062.5 699.6,1062.6 700.0,1062.6 700.1,1062.6 700.6,1062.6 701.1,1062.7 701.6,1062.7 702.1,1062.8 702.6,1062.8 703.1,1062.9 703.6,1062.9 704.1,1063.0 704.6,1063.0 705.1,1063.1 705.6,1063.1 706.1,1063.2 706.6,1063.2 707.1,1063.3 707.6,1063.3 708.1,1063.4 708.6,1063.4 709.1,1063.5 709.6,1063.5 710.1,1063.6 710.6,1063.7 711.1,1063.7 711.6,1063.8 712.1,1063.8 712.6,1063.9 713.1,1063.9 713.6,1064.0 714.1,1064.1 714.6,1064.1 715.1,1064.2 715.6,1064.3 716.1,1064.3 716.6,1064.4 717.1,1064.4 717.6,1064.5 718.1,1064.6 718.6,1064.6 719.1,1064.7 719.6,1064.7 720.1,1064.8 720.6,1064.9 721.1,1064.9 721.6,1065.0 722.1,1065.0 722.6,1065.1 723.1,1065.2 723.6,1065.2 724.1,1065.3 724.6,1065.3 725.1,1065.4 725.6,1065.5 726.1,1065.5 726.6,1065.6 727.1,1065.6 727.6,1065.7 728.1,1065.7 728.6,1065.8 729.1,1065.8 729.6,1065.9 730.1,1065.9 730.6,1066.0 731.1,1066.0 731.6,1066.1 732.1,1066.1 732.6,1066.2 733.1,1066.2 733.6,1066.3 734.1,1066.3 734.6,1066.3 735.1,1066.4 735.6,1066.4 736.1,1066.5 736.6,1066.5 737.1,1066.5 737.6,1066.6 738.1,1066.6 738.2,1066.6 738.6,1066.6 739.1,1066.7 739.6,1066.7 740.1,1066.7 740.6,1066.7 741.1,1066.8 741.6,1066.8 742.1,1066.8 742.6,1066.9 743.1,1066.9 743.6,1066.9 744.1,1066.9 744.6,1067.0 745.1,1067.0 745.6,1067.0 746.1,1067.0 746.6,1067.1 747.1,1067.1 747.6,1067.1 748.1,1067.2 748.6,1067.2 749.1,1067.2 749.6,1067.2 750.1,1067.3 750.6,1067.3 751.1,1067.3 751.6,1067.3 752.1,1067.4 752.6,1067.4 753.1,1067.4 753.6,1067.4 754.1,1067.5 754.6,1067.5 755.1,1067.5 755.6,1067.5 756.1,1067.5 756.6,1067.6 757.1,1067.6 757.6,1067.6 758.1,1067.6 758.6,1067.7 759.1,1067.7 759.6,1067.7 760.1,1067.7 760.6,1067.7 761.1,1067.8 761.6,1067.8 762.1,1067.8 762.6,1067.8 763.1,1067.9 763.6,1067.9 764.1,1067.9 764.6,1067.9 765.1,1067.9 765.6,1068.0 766.1,1068.0 766.6,1068.0 767.1,1068.0 767.6,1068.0 768.1,1068.1 768.6,1068.1 769.1,1068.1 769.6,1068.1 770.1,1068.1 770.6,1068.2 771.1,1068.2 771.6,1068.2 772.1,1068.2 772.6,1068.2 773.1,1068.3 773.6,1068.3 774.1,1068.3 774.6,1068.3 775.1,1068.3 775.6,1068.3 776.1,1068.4 776.6,1068.4 777.1,1068.4 777.6,1068.4 778.1,1068.4 778.6,1068.5 779.1,1068.5 779.6,1068.5 780.1,1068.5 780.6,1068.5 781.1,1068.5 781.6,1068.6 782.1,1068.6 782.6,1068.6 783.1,1068.6 783.6,1068.6 784.1,1068.6 784.6,1068.7 785.1,1068.7 785.6,1068.7 786.1,1068.7 786.6,1068.7 787.1,1068.7 787.6,1068.8 788.1,1068.8 788.6,1068.8 789.1,1068.8 789.6,1068.8 790.1,1068.8 790.6,1068.9 791.1,1068.9 791.6,1068.9 792.1,1068.9 792.6,1068.9 793.1,1068.9 793.6,1068.9 794.1,1069.0 794.6,1069.0 795.1,1069.0 795.6,1069.0 796.1,1069.0 796.6,1069.0 797.1,1069.1 797.6,1069.1 798.1,1069.1 798.6,1069.1 799.1,1069.1 799.6,1069.1 800.1,1069.1 800.6,1069.2 801.1,1069.2 801.6,1069.2 802.1,1069.2 802.6,1069.2 803.1,1069.2 803.6,1069.3 804.1,1069.3 804.6,1069.3 805.1,1069.3 805.6,1069.3 806.1,1069.3 806.6,1069.3 807.1,1069.4 807.6,1069.4 808.1,1069.4 808.6,1069.4 809.1,1069.4 809.6,1069.4 810.1,1069.4 810.6,1069.5 811.1,1069.5 811.6,1069.5 812.1,1069.5 812.6,1069.5 813.1,1069.5 813.6,1069.6 814.1,1069.6 814.6,1069.6 815.1,1069.6 815.2,1069.6 815.6,1069.6 816.1,1069.6 816.6,1069.6 817.1,1069.7 817.6,1069.7 818.1,1069.7 818.6,1069.7 819.1,1069.7 819.6,1069.7 820.1,1069.8 820.6,1069.8 821.1,1069.8 821.6,1069.8 822.1,1069.8 822.6,1069.8 823.1,1069.8 823.6,1069.9 824.1,1069.9 824.6,1069.9 825.1,1069.9 825.6,1069.9 826.1,1069.9 826.6,1070.0 827.1,1070.0 827.6,1070.0 828.1,1070.0 828.6,1070.0 829.1,1070.0 829.6,1070.1 830.1,1070.1 830.6,1070.1 831.1,1070.1 831.6,1070.1 832.1,1070.1 832.6,1070.2 833.1,1070.2 833.6,1070.2 834.1,1070.2 834.6,1070.2 835.1,1070.2 835.6,1070.3 836.1,1070.3 836.6,1070.3 837.1,1070.3 837.6,1070.3 838.1,1070.3 838.6,1070.4 839.1,1070.4 839.6,1070.4 840.1,1070.4 840.6,1070.4 841.1,1070.4 841.6,1070.5 842.1,1070.5 842.6,1070.5 843.1,1070.5 843.6,1070.5 844.1,1070.5 844.6,1070.6 845.1,1070.6 845.6,1070.6 846.1,1070.6 846.6,1070.6 847.1,1070.6 847.6,1070.7 848.1,1070.7 848.6,1070.7 849.1,1070.7 849.6,1070.7 850.1,1070.7 850.6,1070.7 851.1,1070.8 851.6,1070.8 852.1,1070.8 852.6,1070.8 853.1,1070.8 853.6,1070.8 854.1,1070.8 854.6,1070.9 855.1,1070.9 855.6,1070.9 856.1,1070.9 856.6,1070.9 857.1,1070.9 857.6,1070.9 858.1,1071.0 858.6,1071.0 859.1,1071.0 859.6,1071.0 860.1,1071.0 860.6,1071.0 861.1,1071.0 861.6,1071.0 862.1,1071.1 862.6,1071.1 863.1,1071.1 863.6,1071.1 864.1,1071.1 864.6,1071.1 865.1,1071.1 865.6,1071.1 866.1,1071.1 866.6,1071.2 867.1,1071.2 867.6,1071.2 868.1,1071.2 868.6,1071.2 869.1,1071.2 869.6,1071.2 870.1,1071.2 870.6,1071.2 871.1,1071.2 871.6,1071.3 872.1,1071.3 872.6,1071.3 873.1,1071.3 873.6,1071.3 874.1,1071.3 874.6,1071.3 875.1,1071.3 875.6,1071.3 876.1,1071.3 876.6,1071.3 877.1,1071.3 877.6,1071.3 878.1,1071.3 878.6,1071.3 879.1,1071.4 879.6,1071.4 880.1,1071.4 880.6,1071.4 881.1,1071.4 881.6,1071.4 882.1,1071.4 882.6,1071.4 883.1,1071.4 883.6,1071.4 884.1,1071.4 884.6,1071.4 885.1,1071.4 885.6,1071.4 886.1,1071.4 886.6,1071.4 887.1,1071.4 887.6,1071.4 888.0,1071.4 888.1,1071.4 888.6,1071.4 889.1,1071.4 889.6,1071.4 890.1,1071.4 890.6,1071.4 891.1,1071.4 891.6,1071.4 892.1,1071.4 892.6,1071.4 893.1,1071.4 893.6,1071.4 894.1,1071.4 894.6,1071.4 895.1,1071.4 895.6,1071.4 896.1,1071.4 896.6,1071.4 897.1,1071.4 897.6,1071.3 898.1,1071.3 898.6,1071.3 899.1,1071.3 899.6,1071.3 900.1,1071.3 900.6,1071.3 901.1,1071.3 901.6,1071.3 902.1,1071.3 902.6,1071.3 903.1,1071.3 903.6,1071.3 904.1,1071.2 904.6,1071.2 905.1,1071.2 905.6,1071.2 906.1,1071.2 906.6,1071.2 907.1,1071.2 907.6,1071.2 908.1,1071.2 908.6,1071.2 909.1,1071.1 909.6,1071.1 910.1,1071.1 910.6,1071.1 911.1,1071.1 911.6,1071.1 912.1,1071.1 912.6,1071.1 913.1,1071.0 913.6,1071.0 914.1,1071.0 914.6,1071.0 915.1,1071.0 915.6,1071.0 916.1,1071.0 916.6,1071.0 917.1,1070.9 917.6,1070.9 918.1,1070.9 918.6,1070.9 919.1,1070.9 919.6,1070.9 920.1,1070.8 920.6,1070.8 921.1,1070.8 921.6,1070.8 922.1,1070.8 922.6,1070.8 923.1,1070.7 923.6,1070.7 924.1,1070.7 924.6,1070.7 925.1,1070.7 925.6,1070.7 926.1,1070.6 926.6,1070.6 927.1,1070.6 927.4,1070.6" stroke="#00dc3c" stroke-width="1.8"/><path d="M119.9,817.3 120.4,817.2 120.9,816.9 121.4,816.6 121.5,816.5 121.9,816.0 122.4,815.1 122.9,813.8 123.4,812.3 123.9,810.7 124.3,809.4 124.4,809.1 124.9,807.5 125.4,805.7 125.9,803.9 126.4,802.0 126.9,799.9 127.4,797.7 127.9,795.4 128.4,793.0 128.9,790.4 129.4,787.7 129.6,786.6 129.9,784.8 130.4,781.4 130.9,777.6 131.4,773.4 131.9,769.1 132.4,764.7 132.9,760.4 133.4,756.1 133.9,752.2 134.0,751.4 134.4,748.4 134.9,744.5 135.4,740.7 135.9,737.0 136.4,733.4 136.9,730.2 137.4,727.3 137.5,726.8 137.9,724.8 138.4,722.5 138.9,720.4 139.4,718.8 139.5,718.5 139.9,717.4 140.4,716.1 140.9,715.4 141.0,715.4 141.4,715.9 141.9,717.4 142.3,719.0 142.4,719.4 142.9,722.7 143.4,727.2 143.7,730.3 143.9,732.6 144.4,740.0 144.9,748.8 145.4,758.2 145.8,765.5 145.9,767.4 146.4,779.3 146.9,789.6 147.2,791.8 147.4,791.7 147.9,791.0 148.4,790.1 148.5,790.0 148.9,789.4 149.4,788.7 149.9,788.0 150.4,787.3 150.9,786.6 151.4,785.9 151.9,785.2 152.4,784.4 152.5,784.3 152.9,783.7 153.4,782.8 153.9,782.0 154.4,781.1 154.9,780.2 155.4,779.3 155.9,778.5 156.4,777.7 156.9,776.9 157.4,776.3 157.7,776.0 157.9,775.8 158.4,775.3 158.9,774.8 159.4,774.4 159.9,774.0 160.4,773.5 160.9,773.1 161.4,772.8 161.9,772.4 162.4,772.0 162.9,771.7 163.4,771.4 163.9,771.1 164.4,770.8 164.9,770.6 165.4,770.3 165.9,770.1 166.4,769.9 166.5,769.9 166.9,769.8 167.4,769.6 167.9,769.4 168.4,769.2 168.9,769.0 169.4,768.9 169.9,768.7 170.4,768.6 170.9,768.5 171.4,768.3 171.9,768.2 172.4,768.2 172.9,768.1 173.4,768.1 173.6,768.1 173.9,768.1 174.4,768.1 174.9,768.2 175.4,768.2 175.9,768.3 176.4,768.4 176.9,768.5 177.4,768.6 177.9,768.7 178.4,768.9 178.9,769.0 179.4,769.2 179.9,769.3 180.4,769.4 180.9,769.6 181.4,769.7 181.9,769.9 182.4,770.0 182.9,770.1 183.4,770.3 183.9,770.4 184.1,770.4 184.4,770.5 184.9,770.6 185.4,770.6 185.9,770.7 186.4,770.8 186.9,770.9 187.4,771.0 187.9,771.1 188.4,771.2 188.9,771.3 189.4,771.3 189.9,771.4 190.4,771.5 190.9,771.6 191.4,771.7 191.9,771.7 192.4,771.8 192.9,771.9 193.4,772.0 193.9,772.1 194.4,772.2 194.9,772.2 195.4,772.3 195.9,772.4 196.4,772.5 196.9,772.6 197.4,772.7 197.9,772.8 198.4,772.9 198.9,773.0 199.4,773.0 199.9,773.1 200.4,773.2 200.9,773.3 201.4,773.4 201.9,773.5 202.4,773.6 202.9,773.7 203.4,773.8 203.9,773.9 204.4,774.0 204.9,774.1 205.4,774.2 205.9,774.3 206.4,774.4 206.9,774.4 207.4,774.5 207.9,774.6 208.4,774.7 208.9,774.8 209.4,774.9 209.9,775.0 210.4,775.1 210.5,775.1 210.9,775.2 211.4,775.3 211.9,775.4 212.4,775.4 212.9,775.5 213.4,775.6 213.9,775.7 214.4,775.8 214.9,775.9 215.4,776.0 215.9,776.1 216.4,776.2 216.9,776.3 217.4,776.4 217.9,776.5 218.4,776.6 218.9,776.6 219.4,776.7 219.9,776.8 220.4,776.9 220.9,777.0 221.4,777.1 221.9,777.2 222.4,777.3 222.9,777.3 223.4,777.4 223.9,777.5 224.4,777.6 224.9,777.7 225.4,777.7 225.9,777.8 226.4,777.9 226.9,778.0 227.4,778.0 227.9,778.1 228.0,778.1 228.4,778.2 228.9,778.2 229.4,778.3 229.9,778.3 230.4,778.4 230.9,778.5 231.4,778.5 231.9,778.6 232.4,778.7 232.9,778.7 233.4,778.8 233.9,778.8 234.4,778.9 234.9,778.9 235.4,779.0 235.9,779.1 236.4,779.1 236.9,779.2 237.4,779.2 237.9,779.3 238.4,779.3 238.9,779.4 239.4,779.4 239.9,779.5 240.4,779.5 240.9,779.6 241.4,779.6 241.9,779.6 242.4,779.7 242.9,779.7 243.4,779.8 243.9,779.8 244.4,779.8 244.9,779.9 245.4,779.9 245.6,779.9 245.9,779.9 246.4,779.9 246.9,780.0 247.4,780.0 247.9,780.0 248.4,780.1 248.9,780.1 249.4,780.1 249.9,780.1 250.4,780.2 250.9,780.2 251.4,780.2 251.9,780.2 252.4,780.2 252.9,780.3 253.4,780.3 253.9,780.3 254.4,780.3 254.9,780.4 255.4,780.4 255.9,780.4 256.4,780.4 256.9,780.4 257.4,780.4 257.9,780.5 258.4,780.5 258.9,780.5 259.4,780.5 259.9,780.5 260.4,780.5 260.9,780.5 261.4,780.6 261.9,780.6 262.4,780.6 262.9,780.6 263.2,780.6 263.4,780.6 263.9,780.6 264.4,780.6 264.9,780.6 265.4,780.6 265.9,780.7 266.4,780.7 266.9,780.7 267.4,780.7 267.9,780.7 268.4,780.7 268.9,780.7 269.4,780.7 269.9,780.7 270.4,780.7 270.9,780.8 271.4,780.8 271.9,780.8 272.4,780.8 272.9,780.8 273.4,780.8 273.9,780.8 274.4,780.8 274.9,780.8 275.4,780.8 275.9,780.8 276.4,780.8 276.9,780.8 277.4,780.9 277.9,780.9 278.4,780.9 278.9,780.9 279.4,780.9 279.9,780.9 280.4,780.9 280.9,780.9 281.4,780.9 281.9,780.9 282.4,780.9 282.9,780.9 283.4,780.9 283.9,780.9 284.4,780.9 284.9,780.9 285.0,780.9 285.4,780.9 285.9,780.9 286.4,780.9 286.9,780.9 287.4,780.9 287.9,780.9 288.4,780.9 288.9,780.9 289.4,780.9 289.9,780.9 290.4,780.9 290.9,780.9 291.4,780.9 291.9,780.9 292.4,780.9 292.9,780.9 293.4,780.9 293.9,780.9 294.4,780.9 294.9,780.9 295.4,780.9 295.9,780.9 296.4,780.9 296.9,780.9 297.4,780.9 297.9,780.9 298.4,780.9 298.9,780.9 299.4,780.9 299.9,780.8 300.4,780.8 300.9,780.8 301.4,780.8 301.9,780.8 302.4,780.8 302.9,780.8 303.4,780.8 303.9,780.8 304.4,780.8 304.9,780.8 305.4,780.8 305.9,780.8 306.4,780.8 306.9,780.8 307.4,780.8 307.9,780.8 308.4,780.8 308.9,780.8 309.4,780.8 309.9,780.8 310.4,780.8 310.9,780.8 311.4,780.8 311.9,780.7 312.4,780.7 312.9,780.7 313.4,780.7 313.9,780.7 314.4,780.7 314.9,780.7 315.4,780.7 315.9,780.7 316.4,780.7 316.9,780.7 317.4,780.7 317.9,780.7 318.4,780.7 318.9,780.7 319.4,780.7 319.9,780.7 320.4,780.7 320.9,780.7 321.4,780.7 321.9,780.6 322.4,780.6 322.9,780.6 323.4,780.6 323.9,780.6 324.4,780.6 324.9,780.6 325.4,780.6 325.9,780.6 326.4,780.6 326.9,780.6 327.4,780.6 327.9,780.6 328.4,780.6 328.9,780.6 329.4,780.6 329.9,780.6 330.4,780.6 330.9,780.6 331.4,780.5 331.9,780.5 332.4,780.5 332.9,780.5 333.4,780.5 333.9,780.5 334.4,780.5 334.9,780.5 335.4,780.5 335.9,780.5 336.4,780.5 336.9,780.5 337.4,780.5 337.9,780.5 338.4,780.5 338.9,780.5 339.4,780.5 339.9,780.5 340.4,780.5 340.9,780.5 341.4,780.5 341.9,780.5 342.4,780.4 342.9,780.4 343.4,780.4 343.9,780.4 344.4,780.4 344.9,780.4 345.4,780.4 345.9,780.4 346.4,780.4 346.9,780.4 347.4,780.4 347.9,780.4 348.4,780.4 348.9,780.4 349.4,780.4 349.9,780.4 350.0,780.4 350.4,780.4 350.9,780.4 351.4,780.4 351.9,780.4 352.4,780.4 352.9,780.4 353.4,780.4 353.9,780.4 354.4,780.4 354.9,780.4 355.4,780.4 355.9,780.4 356.4,780.4 356.9,780.4 357.4,780.4 357.9,780.4 358.4,780.4 358.9,780.4 359.4,780.3 359.9,780.3 360.4,780.3 360.9,780.3 361.4,780.3 361.9,780.3 362.4,780.3 362.9,780.3 363.4,780.3 363.9,780.3 364.4,780.3 364.9,780.3 365.4,780.3 365.9,780.3 366.4,780.3 366.9,780.3 367.4,780.3 367.9,780.3 368.4,780.3 368.9,780.3 369.4,780.3 369.9,780.3 370.4,780.3 370.9,780.3 371.4,780.3 371.9,780.3 372.4,780.3 372.9,780.3 373.4,780.3 373.9,780.3 374.4,780.3 374.9,780.3 375.4,780.3 375.9,780.3 376.4,780.3 376.9,780.3 377.4,780.3 377.9,780.3 378.4,780.3 378.9,780.3 379.4,780.2 379.9,780.2 380.4,780.2 380.9,780.2 381.4,780.2 381.9,780.2 382.4,780.2 382.9,780.2 383.4,780.2 383.9,780.2 384.4,780.2 384.9,780.2 385.4,780.2 385.9,780.2 386.4,780.2 386.9,780.2 387.4,780.2 387.9,780.2 388.4,780.2 388.9,780.2 389.4,780.2 389.9,780.2 390.4,780.2 390.9,780.2 391.4,780.2 391.9,780.2 392.4,780.2 392.9,780.2 393.4,780.2 393.9,780.2 394.4,780.2 394.9,780.2 395.4,780.2 395.9,780.2 396.4,780.2 396.9,780.2 397.4,780.2 397.9,780.2 398.4,780.2 398.9,780.2 399.4,780.2 399.9,780.2 400.0,780.2 400.4,780.2 400.9,780.2 401.4,780.2 401.9,780.2 402.4,780.2 402.9,780.2 403.4,780.2 403.9,780.2 404.4,780.2 404.9,780.2 405.4,780.2 405.9,780.2 406.4,780.2 406.9,780.2 407.4,780.2 407.9,780.2 408.4,780.2 408.9,780.2 409.4,780.2 409.9,780.2 410.4,780.2 410.9,780.2 411.4,780.2 411.9,780.2 412.4,780.2 412.9,780.2 413.4,780.2 413.9,780.2 414.4,780.2 414.9,780.2 415.4,780.2 415.9,780.2 416.4,780.2 416.9,780.2 417.4,780.2 417.9,780.2 418.4,780.2 418.9,780.2 419.4,780.2 419.9,780.2 420.4,780.2 420.9,780.2 421.4,780.2 421.9,780.2 422.4,780.2 422.9,780.2 423.4,780.2 423.9,780.2 424.4,780.2 424.9,780.2 425.4,780.3 425.9,780.3 426.4,780.3 426.9,780.3 427.4,780.3 427.9,780.3 428.4,780.3 428.9,780.3 429.4,780.3 429.9,780.3 430.4,780.3 430.9,780.3 431.4,780.3 431.9,780.3 432.4,780.3 432.9,780.3 433.4,780.3 433.9,780.3 434.4,780.3 434.9,780.3 435.4,780.3 435.9,780.3 436.4,780.3 436.9,780.3 437.4,780.3 437.9,780.4 438.4,780.4 438.9,780.4 439.4,780.4 439.9,780.4 440.4,780.4 440.9,780.4 441.4,780.4 441.9,780.4 442.4,780.4 442.9,780.4 443.4,780.4 443.9,780.4 444.4,780.4 444.9,780.4 445.4,780.5 445.9,780.5 446.4,780.5 446.9,780.5 447.4,780.5 447.9,780.5 448.4,780.5 448.9,780.5 449.4,780.5 449.9,780.5 450.4,780.5 450.9,780.5 451.4,780.6 451.9,780.6 452.4,780.6 452.9,780.6 453.4,780.6 453.9,780.6 454.4,780.6 454.9,780.6 455.4,780.6 455.9,780.7 456.4,780.7 456.9,780.7 457.4,780.7 457.9,780.7 458.4,780.7 458.9,780.7 459.4,780.7 459.9,780.8 460.4,780.8 460.9,780.8 461.4,780.8 461.6,780.8 461.9,780.9 462.4,781.4 462.9,782.3 463.4,783.3 463.9,784.4 464.0,784.6 464.4,785.5 464.9,786.7 465.4,788.0 465.9,789.4 466.4,791.0 466.9,792.6 467.4,794.3 467.9,796.1 468.4,797.9 468.9,799.8 469.4,801.7 469.9,803.6 470.4,805.5 470.9,807.4 471.4,809.3 471.9,811.2 472.4,813.1 472.9,815.1 473.4,817.2 473.9,819.2 474.4,821.3 474.9,823.5 475.4,825.6 475.9,827.8 476.4,830.0 476.9,832.2 477.4,834.4 477.9,836.5 478.4,838.7 478.9,840.8 479.4,843.0 479.6,843.8 479.9,845.1 480.4,847.2 480.9,849.3 481.4,851.4 481.9,853.5 482.4,855.6 482.9,857.7 483.4,859.8 483.9,861.9 484.4,864.0 484.9,866.1 485.4,868.1 485.9,870.2 486.4,872.3 486.9,874.3 487.4,876.3 487.9,878.3 488.4,880.3 488.9,882.2 489.4,884.2 489.9,886.1 490.4,888.0 490.9,889.9 491.4,891.8 491.9,893.7 492.4,895.6 492.9,897.5 493.4,899.3 493.9,901.2 494.4,903.1 494.9,905.0 495.4,906.8 495.9,908.7 496.1,909.5 496.4,910.6 496.9,912.6 497.4,914.5 497.9,916.4 498.4,918.4 498.9,920.3 499.4,922.2 499.9,924.2 500.4,926.1 500.9,928.0 501.4,929.9 501.9,931.8 502.4,933.7 502.9,935.6 503.4,937.4 503.9,939.3 504.3,940.7 504.4,941.1 504.9,942.9 505.4,944.7 505.9,946.5 506.4,948.4 506.9,950.2 507.4,951.9 507.9,953.6 508.4,955.3 508.9,956.9 509.4,958.4 509.9,959.7 510.0,960.0 510.4,961.0 510.9,962.2 511.4,963.4 511.9,964.6 512.4,965.7 512.9,966.7 513.4,967.8 513.9,968.8 514.4,969.7 514.9,970.7 515.4,971.6 515.9,972.5 516.4,973.4 516.9,974.3 517.4,975.2 517.9,976.1 518.4,976.9 518.9,977.8 519.4,978.6 519.9,979.5 520.4,980.4 520.9,981.3 521.4,982.2 521.9,983.1 522.4,984.0 522.9,985.0 523.4,986.0 523.9,987.0 524.4,988.1 524.9,989.2 525.0,989.4 525.4,990.3 525.9,991.5 526.4,992.8 526.9,994.1 527.4,995.5 527.9,996.9 528.4,998.2 528.9,999.6 529.4,1001.0 529.9,1002.3 530.4,1003.5 530.9,1004.7 531.4,1005.9 531.9,1006.9 532.2,1007.5 532.4,1007.9 532.9,1008.8 533.4,1009.6 533.9,1010.4 534.4,1011.2 534.9,1012.0 535.4,1012.7 535.9,1013.4 536.4,1014.1 536.9,1014.8 537.4,1015.5 537.9,1016.2 538.4,1016.8 538.9,1017.5 539.4,1018.2 539.5,1018.3 539.9,1018.8 540.4,1019.5 540.9,1020.2 541.4,1020.9 541.9,1021.5 542.4,1022.2 542.9,1022.8 543.4,1023.4 543.9,1024.1 544.4,1024.7 544.9,1025.3 545.4,1025.9 545.9,1026.5 546.4,1027.1 546.7,1027.4 546.9,1027.6 547.4,1028.2 547.9,1028.7 548.4,1029.3 548.9,1029.8 549.4,1030.3 549.9,1030.8 550.4,1031.4 550.9,1031.9 551.4,1032.4 551.9,1032.9 552.4,1033.3 552.9,1033.8 553.4,1034.3 553.9,1034.8 554.4,1035.2 554.9,1035.7 555.4,1036.1 555.7,1036.4 555.9,1036.6 556.4,1037.0 556.9,1037.4 557.4,1037.9 557.9,1038.3 558.4,1038.7 558.9,1039.1 559.4,1039.5 559.9,1039.9 560.4,1040.3 560.9,1040.7 561.4,1041.1 561.9,1041.4 562.4,1041.8 562.9,1042.2 563.4,1042.6 563.9,1042.9 564.4,1043.3 564.8,1043.6 564.9,1043.7 565.4,1044.0 565.9,1044.4 566.4,1044.8 566.9,1045.1 567.4,1045.5 567.9,1045.8 568.4,1046.2 568.9,1046.6 569.4,1046.9 569.9,1047.3 570.4,1047.6 570.9,1047.9 571.4,1048.3 571.9,1048.6 572.4,1048.9 572.9,1049.3 573.4,1049.6 573.9,1049.9 574.4,1050.2 574.9,1050.5 575.4,1050.8 575.6,1050.9 575.9,1051.1 576.4,1051.4 576.9,1051.6 577.4,1051.9 577.9,1052.2 578.4,1052.4 578.9,1052.7 579.4,1053.0 579.9,1053.2 580.4,1053.5 580.9,1053.7 581.4,1054.0 581.9,1054.2 582.4,1054.5 582.9,1054.7 583.4,1054.9 583.9,1055.2 584.4,1055.4 584.9,1055.6 585.4,1055.9 585.9,1056.1 586.4,1056.3 586.9,1056.6 587.4,1056.8 587.9,1057.0 588.3,1057.2 588.4,1057.2 588.9,1057.5 589.4,1057.7 589.9,1057.9 590.4,1058.2 590.9,1058.4 591.4,1058.6 591.9,1058.8 592.4,1059.1 592.9,1059.3 593.4,1059.5 593.9,1059.7 594.4,1059.9 594.9,1060.2 595.4,1060.4 595.9,1060.6 596.4,1060.8 596.9,1061.0 597.4,1061.2 597.9,1061.4 598.4,1061.6 598.9,1061.8 599.4,1062.0 599.9,1062.2 600.4,1062.4 600.9,1062.6 601.0,1062.6 601.4,1062.7 601.9,1062.9 602.4,1063.1 602.9,1063.3 603.4,1063.5 603.9,1063.6 604.4,1063.8 604.9,1064.0 605.4,1064.1 605.9,1064.3 606.4,1064.5 606.9,1064.6 607.4,1064.8 607.9,1065.0 608.4,1065.1 608.9,1065.3 609.4,1065.4 609.9,1065.6 610.4,1065.7 610.9,1065.9 611.4,1066.0 611.9,1066.2 612.4,1066.3 612.9,1066.5 613.4,1066.6 613.9,1066.8 614.4,1066.9 614.9,1067.1 615.4,1067.2 615.9,1067.3 616.4,1067.5 616.9,1067.6 617.4,1067.8 617.9,1067.9 618.4,1068.0 618.9,1068.2 619.4,1068.3 619.9,1068.5 620.4,1068.6 620.9,1068.7 621.4,1068.9 621.9,1069.0 622.4,1069.2 622.9,1069.3 623.4,1069.4 623.9,1069.5 624.4,1069.7 624.9,1069.8 625.4,1069.9 625.9,1070.0 626.4,1070.1 626.9,1070.2 627.4,1070.3 627.9,1070.4 628.4,1070.5 628.9,1070.6 629.4,1070.7 629.9,1070.8 630.4,1070.9 630.9,1071.0 631.4,1071.0 631.9,1071.1 632.4,1071.2 632.9,1071.2 633.4,1071.3 633.9,1071.4 634.4,1071.4 634.9,1071.5 635.4,1071.6 635.9,1071.6 636.4,1071.7 636.9,1071.8 637.4,1071.8 637.9,1071.9 638.4,1071.9 638.9,1072.0 639.4,1072.0 639.9,1072.1 640.4,1072.1 640.9,1072.2 641.4,1072.2 641.9,1072.3 642.4,1072.3 642.9,1072.4 643.4,1072.4 643.9,1072.5 644.4,1072.5 644.9,1072.6 645.4,1072.6 645.9,1072.7 646.4,1072.7 646.9,1072.8 647.4,1072.8 647.9,1072.9 648.0,1072.9 648.4,1072.9 648.9,1073.0 649.4,1073.0 649.9,1073.1 650.4,1073.1 650.9,1073.2 651.4,1073.2 651.9,1073.3 652.4,1073.3 652.9,1073.4 653.4,1073.4 653.9,1073.4 654.4,1073.5 654.9,1073.5 655.4,1073.6 655.9,1073.6 656.4,1073.6 656.9,1073.7 657.4,1073.7 657.9,1073.8 658.4,1073.8 658.9,1073.9 659.4,1073.9 659.9,1073.9 660.4,1074.0 660.9,1074.0 661.4,1074.1 661.9,1074.1 662.4,1074.2 662.9,1074.2 663.4,1074.2 663.9,1074.3 664.4,1074.3 664.9,1074.4 665.0,1074.4 665.4,1074.4 665.9,1074.5 666.4,1074.5 666.9,1074.6 667.4,1074.6 667.9,1074.7 668.4,1074.8 668.9,1074.8 669.4,1074.9 669.9,1074.9 670.4,1075.0 670.9,1075.0 671.4,1075.1 671.9,1075.1 672.4,1075.2 672.9,1075.2 673.4,1075.3 673.9,1075.4 674.4,1075.4 674.9,1075.4 675.4,1075.5 675.9,1075.5 676.4,1075.6 676.9,1075.6 677.4,1075.7 677.9,1075.7 678.4,1075.8 678.9,1075.8 679.4,1075.9 679.9,1075.9 680.4,1076.0 680.9,1076.0 681.4,1076.0 681.9,1076.1 682.4,1076.1 682.9,1076.2 683.4,1076.2 683.9,1076.3 684.4,1076.3 684.9,1076.4 685.4,1076.4 685.9,1076.4 686.4,1076.5 686.9,1076.5 687.4,1076.6 687.9,1076.6 688.4,1076.6 688.9,1076.7 689.4,1076.7 689.9,1076.8 690.4,1076.8 690.9,1076.9 691.4,1076.9 691.9,1076.9 692.4,1077.0 692.9,1077.0 693.4,1077.1 693.9,1077.1 694.4,1077.1 694.9,1077.2 695.4,1077.2 695.9,1077.3 696.4,1077.3 696.9,1077.3 697.4,1077.4 697.9,1077.4 698.4,1077.5 698.9,1077.5 699.4,1077.6 699.9,1077.6 700.0,1077.6 700.4,1077.6 700.9,1077.7 701.4,1077.7 701.9,1077.8 702.4,1077.8 702.9,1077.8 703.4,1077.9 703.9,1077.9 704.4,1078.0 704.9,1078.0 705.4,1078.1 705.9,1078.1 706.4,1078.2 706.9,1078.2 707.4,1078.2 707.9,1078.3 708.4,1078.3 708.9,1078.4 709.4,1078.4 709.9,1078.5 710.4,1078.5 710.9,1078.6 711.4,1078.6 711.9,1078.6 712.4,1078.7 712.9,1078.7 713.4,1078.8 713.9,1078.8 714.4,1078.9 714.9,1078.9 715.4,1079.0 715.9,1079.0 716.4,1079.1 716.9,1079.1 717.4,1079.1 717.9,1079.2 718.4,1079.2 718.9,1079.3 719.4,1079.3 719.9,1079.4 720.4,1079.4 720.9,1079.4 721.4,1079.5 721.9,1079.5 722.4,1079.6 722.9,1079.6 723.4,1079.6 723.9,1079.7 724.4,1079.7 724.9,1079.8 725.4,1079.8 725.9,1079.8 726.4,1079.9 726.9,1079.9 727.4,1080.0 727.9,1080.0 728.4,1080.0 728.9,1080.1 729.4,1080.1 729.9,1080.1 730.4,1080.2 730.9,1080.2 731.4,1080.2 731.9,1080.3 732.4,1080.3 732.9,1080.3 733.4,1080.4 733.9,1080.4 734.4,1080.4 734.9,1080.4 735.4,1080.5 735.9,1080.5 736.4,1080.5 736.9,1080.5 737.4,1080.6 737.9,1080.6 738.2,1080.6 738.4,1080.6 738.9,1080.6 739.4,1080.7 739.9,1080.7 740.4,1080.7 740.9,1080.7 741.4,1080.7 741.9,1080.8 742.4,1080.8 742.9,1080.8 743.4,1080.8 743.9,1080.8 744.4,1080.9 744.9,1080.9 745.4,1080.9 745.9,1080.9 746.4,1080.9 746.9,1080.9 747.4,1081.0 747.9,1081.0 748.4,1081.0 748.9,1081.0 749.4,1081.0 749.9,1081.1 750.4,1081.1 750.9,1081.1 751.4,1081.1 751.9,1081.1 752.4,1081.1 752.9,1081.2 753.4,1081.2 753.9,1081.2 754.4,1081.2 754.9,1081.2 755.4,1081.2 755.9,1081.3 756.4,1081.3 756.9,1081.3 757.4,1081.3 757.9,1081.3 758.4,1081.3 758.9,1081.4 759.4,1081.4 759.9,1081.4 760.4,1081.4 760.9,1081.4 761.4,1081.4 761.9,1081.4 762.4,1081.5 762.9,1081.5 763.4,1081.5 763.9,1081.5 764.4,1081.5 764.9,1081.5 765.4,1081.5 765.9,1081.6 766.4,1081.6 766.9,1081.6 767.4,1081.6 767.9,1081.6 768.4,1081.6 768.9,1081.6 769.4,1081.7 769.9,1081.7 770.4,1081.7 770.9,1081.7 771.4,1081.7 771.9,1081.7 772.4,1081.7 772.9,1081.7 773.4,1081.8 773.9,1081.8 774.4,1081.8 774.9,1081.8 775.4,1081.8 775.9,1081.8 776.4,1081.8 776.9,1081.8 777.4,1081.9 777.9,1081.9 778.4,1081.9 778.9,1081.9 779.4,1081.9 779.9,1081.9 780.4,1081.9 780.9,1081.9 781.4,1081.9 781.9,1082.0 782.4,1082.0 782.9,1082.0 783.4,1082.0 783.9,1082.0 784.4,1082.0 784.9,1082.0 785.4,1082.0 785.9,1082.1 786.4,1082.1 786.9,1082.1 787.4,1082.1 787.9,1082.1 788.4,1082.1 788.9,1082.1 789.4,1082.1 789.9,1082.1 790.4,1082.2 790.9,1082.2 791.4,1082.2 791.9,1082.2 792.4,1082.2 792.9,1082.2 793.4,1082.2 793.9,1082.2 794.4,1082.2 794.9,1082.2 795.4,1082.3 795.9,1082.3 796.4,1082.3 796.9,1082.3 797.4,1082.3 797.9,1082.3 798.4,1082.3 798.9,1082.3 799.4,1082.3 799.9,1082.4 800.4,1082.4 800.9,1082.4 801.4,1082.4 801.9,1082.4 802.4,1082.4 802.9,1082.4 803.4,1082.4 803.9,1082.4 804.4,1082.5 804.9,1082.5 805.4,1082.5 805.9,1082.5 806.4,1082.5 806.9,1082.5 807.4,1082.5 807.9,1082.5 808.4,1082.5 808.9,1082.6 809.4,1082.6 809.9,1082.6 810.4,1082.6 810.9,1082.6 811.4,1082.6 811.9,1082.6 812.4,1082.6 812.9,1082.6 813.4,1082.7 813.9,1082.7 814.4,1082.7 814.9,1082.7 815.2,1082.7 815.4,1082.7 815.9,1082.7 816.4,1082.7 816.9,1082.7 817.4,1082.8 817.9,1082.8 818.4,1082.8 818.9,1082.8 819.4,1082.8 819.9,1082.8 820.4,1082.8 820.9,1082.8 821.4,1082.9 821.9,1082.9 822.4,1082.9 822.9,1082.9 823.4,1082.9 823.9,1082.9 824.4,1082.9 824.9,1082.9 825.4,1083.0 825.9,1083.0 826.4,1083.0 826.9,1083.0 827.4,1083.0 827.9,1083.0 828.4,1083.0 828.9,1083.1 829.4,1083.1 829.9,1083.1 830.4,1083.1 830.9,1083.1 831.4,1083.1 831.9,1083.1 832.4,1083.1 832.9,1083.2 833.4,1083.2 833.9,1083.2 834.4,1083.2 834.9,1083.2 835.4,1083.2 835.9,1083.2 836.4,1083.3 836.9,1083.3 837.4,1083.3 837.9,1083.3 838.4,1083.3 838.9,1083.3 839.4,1083.3 839.9,1083.4 840.4,1083.4 840.9,1083.4 841.4,1083.4 841.9,1083.4 842.4,1083.4 842.9,1083.4 843.4,1083.4 843.9,1083.5 844.4,1083.5 844.9,1083.5 845.4,1083.5 845.9,1083.5 846.4,1083.5 846.9,1083.5 847.4,1083.6 847.9,1083.6 848.4,1083.6 848.9,1083.6 849.4,1083.6 849.9,1083.6 850.4,1083.6 850.9,1083.6 851.4,1083.7 851.9,1083.7 852.4,1083.7 852.9,1083.7 853.4,1083.7 853.9,1083.7 854.4,1083.7 854.9,1083.7 855.4,1083.8 855.9,1083.8 856.4,1083.8 856.9,1083.8 857.4,1083.8 857.9,1083.8 858.4,1083.8 858.9,1083.8 859.4,1083.8 859.9,1083.9 860.4,1083.9 860.9,1083.9 861.4,1083.9 861.9,1083.9 862.4,1083.9 862.9,1083.9 863.4,1083.9 863.9,1083.9 864.4,1084.0 864.9,1084.0 865.4,1084.0 865.9,1084.0 866.4,1084.0 866.9,1084.0 867.4,1084.0 867.9,1084.0 868.4,1084.0 868.9,1084.0 869.4,1084.0 869.9,1084.0 870.4,1084.1 870.9,1084.1 871.4,1084.1 871.9,1084.1 872.4,1084.1 872.9,1084.1 873.4,1084.1 873.9,1084.1 874.4,1084.1 874.9,1084.1 875.4,1084.1 875.9,1084.1 876.4,1084.1 876.9,1084.1 877.4,1084.1 877.9,1084.1 878.4,1084.2 878.9,1084.2 879.4,1084.2 879.9,1084.2 880.4,1084.2 880.9,1084.2 881.4,1084.2 881.9,1084.2 882.4,1084.2 882.9,1084.2 883.4,1084.2 883.9,1084.2 884.4,1084.2 884.9,1084.2 885.4,1084.2 885.9,1084.2 886.4,1084.2 886.9,1084.2 887.4,1084.2 887.9,1084.2 888.0,1084.2 888.4,1084.2 888.9,1084.2 889.4,1084.2 889.9,1084.2 890.4,1084.2 890.9,1084.2 891.4,1084.2 891.9,1084.2 892.4,1084.2 892.9,1084.2 893.4,1084.2 893.9,1084.2 894.4,1084.2 894.9,1084.2 895.4,1084.2 895.9,1084.1 896.4,1084.1 896.9,1084.1 897.4,1084.1 897.9,1084.1 898.4,1084.1 898.9,1084.1 899.4,1084.1 899.9,1084.1 900.4,1084.1 900.9,1084.1 901.4,1084.1 901.9,1084.0 902.4,1084.0 902.9,1084.0 903.4,1084.0 903.9,1084.0 904.4,1084.0 904.9,1084.0 905.4,1084.0 905.9,1084.0 906.4,1083.9 906.9,1083.9 907.4,1083.9 907.9,1083.9 908.4,1083.9 908.9,1083.9 909.4,1083.9 909.9,1083.8 910.4,1083.8 910.9,1083.8 911.4,1083.8 911.9,1083.8 912.4,1083.8 912.9,1083.7 913.4,1083.7 913.9,1083.7 914.4,1083.7 914.9,1083.7 915.4,1083.7 915.9,1083.6 916.4,1083.6 916.9,1083.6 917.4,1083.6 917.9,1083.6 918.4,1083.6 918.9,1083.5 919.4,1083.5 919.9,1083.5 920.4,1083.5 920.9,1083.5 921.4,1083.4 921.9,1083.4 922.4,1083.4 922.9,1083.4 923.4,1083.4 923.9,1083.3 924.4,1083.3 924.9,1083.3 925.4,1083.3 925.9,1083.3 926.4,1083.2 926.9,1083.2 927.4,1083.2" stroke="#00e4f0" stroke-width="2.0"/><path d="M199.4,765.8 199.9,766.0 200.4,766.2 200.9,766.3 201.4,766.5 201.9,766.6 202.4,766.8 202.9,767.0 203.4,767.1 203.9,767.3 204.4,767.4 204.9,767.6 205.4,767.7 205.9,767.9 206.4,768.0 206.9,768.1 207.4,768.3 207.9,768.4 208.4,768.5 208.9,768.7 209.4,768.8 209.9,768.9 210.4,769.0 210.5,769.0 210.9,769.1 211.4,769.2 211.9,769.3 212.4,769.4 212.9,769.5 213.4,769.5 213.9,769.6 214.4,769.7 214.9,769.8 215.4,769.9 215.9,770.0 216.4,770.1 216.9,770.1 217.4,770.2 217.9,770.3 218.4,770.4 218.9,770.5 219.4,770.5 219.9,770.6 220.4,770.7 220.9,770.8 221.4,770.8 221.9,770.9 222.4,771.0 222.9,771.0 223.4,771.1 223.9,771.2 224.4,771.2 224.9,771.3 225.4,771.3 225.9,771.4 226.4,771.4 226.9,771.5 227.4,771.5 227.9,771.6 228.0,771.6 228.4,771.6 228.9,771.7 229.4,771.7 229.9,771.8 230.4,771.8 230.9,771.9 231.4,771.9 231.9,772.0 232.4,772.0 232.9,772.0 233.4,772.1 233.9,772.1 234.4,772.2 234.9,772.2 235.4,772.2 235.9,772.3 236.4,772.3 236.9,772.4 237.4,772.4 237.9,772.4 238.4,772.5 238.9,772.5 239.4,772.5 239.9,772.6 240.4,772.6 240.9,772.6 241.4,772.7 241.9,772.7 242.4,772.7 242.9,772.8 243.4,772.8 243.9,772.8 244.4,772.9 244.9,772.9 245.4,772.9 245.9,772.9 246.4,773.0 246.9,773.0 247.4,773.0 247.9,773.1 248.4,773.1 248.9,773.1 249.4,773.1 249.9,773.2 250.4,773.2 250.9,773.2 251.4,773.2 251.9,773.3 252.4,773.3 252.9,773.3 253.4,773.3 253.9,773.4 254.4,773.4 254.9,773.4 255.4,773.4 255.9,773.5 256.4,773.5 256.9,773.5 257.4,773.5 257.9,773.6 258.4,773.6 258.9,773.6 259.4,773.6 259.9,773.7 260.4,773.7 260.9,773.7 261.4,773.7 261.9,773.8 262.4,773.8 262.9,773.8 263.4,773.8 263.9,773.9 264.4,773.9 264.9,773.9 265.4,773.9 265.9,773.9 266.4,774.0 266.9,774.0 267.4,774.0 267.9,774.0 268.4,774.0 268.9,774.1 269.4,774.1 269.9,774.1 270.4,774.1 270.9,774.2 271.4,774.2 271.9,774.2 272.4,774.2 272.9,774.2 273.4,774.2 273.9,774.3 274.4,774.3 274.9,774.3 275.4,774.3 275.9,774.3 276.4,774.4 276.9,774.4 277.4,774.4 277.9,774.4 278.4,774.4 278.9,774.4 279.4,774.4 279.9,774.5 280.4,774.5 280.9,774.5 281.4,774.5 281.9,774.5 282.4,774.5 282.9,774.5 283.4,774.6 283.9,774.6 284.4,774.6 284.9,774.6 285.0,774.6 285.4,774.6 285.9,774.6 286.4,774.6 286.9,774.6 287.4,774.7 287.9,774.7 288.4,774.7 288.9,774.7 289.4,774.7 289.9,774.7 290.4,774.7 290.9,774.7 291.4,774.7 291.9,774.8 292.4,774.8 292.9,774.8 293.4,774.8 293.9,774.8 294.4,774.8 294.9,774.8 295.4,774.8 295.9,774.8 296.4,774.8 296.9,774.9 297.4,774.9 297.9,774.9 298.4,774.9 298.9,774.9 299.4,774.9 299.9,774.9 300.4,774.9 300.9,774.9 301.4,774.9 301.9,775.0 302.4,775.0 302.9,775.0 303.4,775.0 303.9,775.0 304.4,775.0 304.9,775.0 305.4,775.0 305.9,775.0 306.4,775.0 306.9,775.0 307.4,775.1 307.9,775.1 308.4,775.1 308.9,775.1 309.4,775.1 309.9,775.1 310.4,775.1 310.9,775.1 311.4,775.1 311.9,775.1 312.4,775.1 312.9,775.1 313.4,775.2 313.9,775.2 314.4,775.2 314.9,775.2 315.4,775.2 315.9,775.2 316.4,775.2 316.9,775.2 317.4,775.2 317.9,775.2 318.4,775.2 318.9,775.2 319.4,775.2 319.9,775.3 320.4,775.3 320.9,775.3 321.4,775.3 321.9,775.3 322.4,775.3 322.9,775.3 323.4,775.3 323.9,775.3 324.4,775.3 324.9,775.3 325.4,775.3 325.9,775.3 326.4,775.3 326.9,775.4 327.4,775.4 327.9,775.4 328.4,775.4 328.9,775.4 329.4,775.4 329.9,775.4 330.4,775.4 330.9,775.4 331.4,775.4 331.9,775.4 332.4,775.4 332.9,775.4 333.4,775.4 333.9,775.4 334.4,775.4 334.9,775.5 335.4,775.5 335.9,775.5 336.4,775.5 336.9,775.5 337.4,775.5 337.9,775.5 338.4,775.5 338.9,775.5 339.4,775.5 339.9,775.5 340.4,775.5 340.9,775.5 341.4,775.5 341.9,775.5 342.4,775.5 342.9,775.5 343.4,775.5 343.9,775.5 344.4,775.5 344.9,775.6 345.4,775.6 345.9,775.6 346.4,775.6 346.9,775.6 347.4,775.6 347.9,775.6 348.4,775.6 348.9,775.6 349.4,775.6 349.9,775.6 350.0,775.6 350.4,775.6 350.9,775.6 351.4,775.6 351.9,775.6 352.4,775.6 352.9,775.6 353.4,775.6 353.9,775.6 354.4,775.6 354.9,775.6 355.4,775.6 355.9,775.6 356.4,775.6 356.9,775.7 357.4,775.7 357.9,775.7 358.4,775.7 358.9,775.7 359.4,775.7 359.9,775.7 360.4,775.7 360.9,775.7 361.4,775.7 361.9,775.7 362.4,775.7 362.9,775.7 363.4,775.7 363.9,775.7 364.4,775.7 364.9,775.7 365.4,775.7 365.9,775.7 366.4,775.7 366.9,775.7 367.4,775.7 367.9,775.7 368.4,775.7 368.9,775.7 369.4,775.7 369.9,775.7 370.4,775.7 370.9,775.7 371.4,775.7 371.9,775.7 372.4,775.7 372.9,775.7 373.4,775.7 373.9,775.8 374.4,775.8 374.9,775.8 375.4,775.8 375.9,775.8 376.4,775.8 376.9,775.8 377.4,775.8 377.9,775.8 378.4,775.8 378.9,775.8 379.4,775.8 379.9,775.8 380.4,775.8 380.9,775.8 381.4,775.8 381.9,775.8 382.4,775.8 382.9,775.8 383.4,775.8 383.9,775.8 384.4,775.8 384.9,775.8 385.4,775.8 385.9,775.8 386.4,775.8 386.9,775.8 387.4,775.8 387.9,775.8 388.4,775.8 388.9,775.8 389.4,775.8 389.9,775.8 390.4,775.8 390.9,775.8 391.4,775.8 391.9,775.8 392.4,775.8 392.9,775.9 393.4,775.9 393.9,775.9 394.4,775.9 394.9,775.9 395.4,775.9 395.9,775.9 396.4,775.9 396.9,775.9 397.4,775.9 397.9,775.9 398.4,775.9 398.9,775.9 399.4,775.9 399.9,775.9 400.0,775.9 400.4,775.9 400.9,775.9 401.4,775.9 401.9,775.9 402.4,775.9 402.9,775.9 403.4,775.9 403.9,775.9 404.4,775.9 404.9,775.9 405.4,775.9 405.9,775.9 406.4,775.9 406.9,775.9 407.4,775.9 407.9,775.9 408.4,775.9 408.9,776.0 409.4,776.0 409.9,776.0 410.4,776.0 410.9,776.0 411.4,776.0 411.9,776.0 412.4,776.0 412.9,776.0 413.4,776.0 413.9,776.0 414.4,776.0 414.9,776.0 415.4,776.0 415.9,776.0 416.4,776.0 416.9,776.0 417.4,776.0 417.9,776.0 418.4,776.0 418.9,776.0 419.4,776.0 419.9,776.0 420.4,776.0 420.9,776.0 421.4,776.0 421.9,776.0 422.4,776.0 422.9,776.0 423.4,776.0 423.9,776.0 424.4,776.0 424.9,776.0 425.4,776.0 425.9,776.0 426.4,776.0 426.9,776.0 427.4,776.0 427.9,776.0 428.4,776.0 428.9,776.0 429.4,776.0 429.9,776.0 430.4,776.0 430.9,776.0 431.4,776.0 431.9,776.0 432.4,776.1 432.9,776.1 433.4,776.1 433.9,776.1 434.4,776.1 434.9,776.1 435.4,776.1 435.9,776.1 436.4,776.1 436.9,776.1 437.4,776.1 437.9,776.1 438.4,776.1 438.9,776.1 439.4,776.1 439.9,776.1 440.4,776.1 440.9,776.1 441.4,776.1 441.9,776.1 442.4,776.1 442.9,776.1 443.4,776.1 443.9,776.2 444.4,776.2 444.9,776.2 445.4,776.2 445.9,776.2 446.4,776.2 446.9,776.2 447.4,776.2 447.9,776.2 448.4,776.2 448.9,776.2 449.4,776.2 449.9,776.2 450.4,776.2 450.9,776.3 451.4,776.3 451.9,776.3 452.4,776.3 452.9,776.3 453.4,776.3 453.9,776.3 454.4,776.3 454.9,776.3 455.4,776.3 455.9,776.4 456.4,776.4 456.9,776.4 457.4,776.4 457.9,776.4 458.4,776.4 458.9,776.4 459.4,776.4 459.9,776.5 460.4,776.5 460.9,776.5 461.4,776.5 461.6,776.5 461.9,776.7 462.4,777.6 462.9,779.1 463.4,780.8 463.8,782.0 463.9,782.3 464.4,783.7 464.9,785.1 465.4,786.6 465.9,788.2 466.4,789.7 466.9,791.3 467.4,792.9 467.9,794.6 468.4,796.3 468.9,798.0 469.4,799.7 469.9,801.5 470.4,803.2 470.9,805.0 471.4,806.9 471.9,808.7 472.4,810.6 472.9,812.5 473.4,814.5 473.9,816.5 474.4,818.6 474.9,820.7 475.4,822.9 475.9,825.0 476.4,827.2 476.9,829.4 477.4,831.6 477.9,833.8 478.4,835.9 478.9,838.1 479.4,840.2 479.9,842.4 480.1,843.2 480.4,844.5 480.9,846.6 481.4,848.7 481.9,850.8 482.4,852.9 482.9,855.0 483.4,857.1 483.9,859.2 484.4,861.3 484.9,863.4 485.4,865.5 485.9,867.5 486.4,869.6 486.9,871.7 487.4,873.7 487.9,875.7 488.4,877.7 488.9,879.7 489.4,881.6 489.9,883.6 490.4,885.5 490.9,887.4 491.4,889.3 491.9,891.2 492.4,893.1 492.9,895.0 493.4,896.9 493.9,898.7 494.4,900.6 494.9,902.5 495.4,904.4 495.9,906.2 496.4,908.1 496.6,908.9 496.9,910.0 497.4,912.0 497.9,913.9 498.4,915.8 498.9,917.8 499.4,919.7 499.9,921.6 500.4,923.6 500.9,925.5 501.4,927.4 501.9,929.3 502.4,931.2 502.9,933.1 503.4,935.0 503.9,936.8 504.4,938.7 504.8,940.1 504.9,940.5 505.4,942.3 505.9,944.1 506.4,945.9 506.9,947.8 507.4,949.6 507.9,951.3 508.4,953.0 508.9,954.7 509.4,956.3 509.9,957.8 510.4,959.1 510.5,959.4 510.9,960.4 511.4,961.6 511.9,962.8 512.4,964.0 512.9,965.1 513.4,966.1 513.9,967.2 514.4,968.2 514.9,969.1 515.4,970.1 515.9,971.0 516.4,971.9 516.9,972.8 517.4,973.7 517.9,974.6 518.4,975.5 518.9,976.3 519.4,977.2 519.9,978.0 520.4,978.9 520.9,979.8 521.4,980.7 521.9,981.6 522.4,982.5 522.9,983.4 523.4,984.4 523.9,985.4 524.4,986.4 524.9,987.5 525.4,988.6 525.5,988.8 525.9,989.7 526.4,990.9 526.9,992.2 527.4,993.5 527.9,994.9 528.4,996.3 528.9,997.6 529.4,999.0 529.9,1000.4 530.4,1001.7 530.9,1002.9 531.4,1004.1 531.9,1005.3 532.4,1006.3 532.7,1006.9 532.9,1007.3 533.4,1008.2 533.9,1009.0 534.4,1009.8 534.9,1010.6 535.4,1011.4 535.9,1012.1 536.4,1012.8 536.9,1013.5 537.4,1014.2 537.9,1014.9 538.4,1015.6 538.9,1016.2 539.4,1016.9 539.9,1017.6 540.0,1017.7 540.4,1018.2 540.9,1018.9 541.4,1019.6 541.9,1020.3 542.4,1020.9 542.9,1021.6 543.4,1022.2 543.9,1022.8 544.4,1023.5 544.9,1024.1 545.4,1024.7 545.9,1025.3 546.4,1025.9 546.9,1026.5 547.2,1026.8 547.4,1027.0 547.9,1027.6 548.4,1028.1 548.9,1028.7 549.4,1029.2 549.9,1029.7 550.4,1030.2 550.9,1030.8 551.4,1031.3 551.9,1031.8 552.4,1032.3 552.9,1032.7 553.4,1033.2 553.9,1033.7 554.4,1034.2 554.9,1034.6 555.4,1035.1 555.9,1035.5 556.2,1035.8 556.4,1036.0 556.9,1036.4 557.4,1036.8 557.9,1037.3 558.4,1037.7 558.9,1038.1 559.4,1038.5 559.9,1038.9 560.4,1039.3 560.9,1039.7 561.4,1040.1 561.9,1040.5 562.4,1040.8 562.9,1041.2 563.4,1041.6 563.9,1042.0 564.4,1042.3 564.9,1042.7 565.3,1043.0 565.4,1043.1 565.9,1043.4 566.4,1043.8 566.9,1044.2 567.4,1044.5 567.9,1044.9 568.4,1045.2 568.9,1045.6 569.4,1046.0 569.9,1046.3 570.4,1046.7 570.9,1047.0 571.4,1047.3 571.9,1047.7 572.4,1048.0 572.9,1048.3 573.4,1048.7 573.9,1049.0 574.4,1049.3 574.9,1049.6 575.4,1049.9 575.9,1050.2 576.1,1050.3 576.4,1050.5 576.9,1050.8 577.4,1051.0 577.9,1051.3 578.4,1051.6 578.9,1051.8 579.4,1052.1 579.9,1052.4 580.4,1052.6 580.9,1052.9 581.4,1053.1 581.9,1053.4 582.4,1053.6 582.9,1053.9 583.4,1054.1 583.9,1054.3 584.4,1054.6 584.9,1054.8 585.4,1055.0 585.9,1055.3 586.4,1055.5 586.9,1055.7 587.4,1056.0 587.9,1056.2 588.4,1056.4 588.8,1056.6 588.9,1056.6 589.4,1056.9 589.9,1057.1 590.4,1057.3 590.9,1057.6 591.4,1057.8 591.9,1058.0 592.4,1058.2 592.9,1058.5 593.4,1058.7 593.9,1058.9 594.4,1059.1 594.9,1059.3 595.4,1059.6 595.9,1059.8 596.4,1060.0 596.9,1060.2 597.4,1060.4 597.9,1060.6 598.4,1060.8 598.9,1061.0 599.4,1061.2 599.9,1061.4 600.4,1061.6 600.9,1061.8 601.4,1062.0 601.5,1062.0 601.9,1062.1 602.4,1062.3 602.9,1062.5 603.4,1062.7 603.9,1062.8 604.4,1063.0 604.9,1063.2 605.4,1063.3 605.9,1063.5 606.4,1063.7 606.9,1063.8 607.4,1064.0 607.9,1064.1 608.4,1064.3 608.9,1064.4 609.4,1064.6 609.9,1064.8 610.4,1064.9 610.9,1065.1 611.4,1065.2 611.9,1065.4 612.4,1065.5 612.9,1065.7 613.4,1065.8 613.9,1066.0 614.4,1066.1 614.9,1066.3 615.4,1066.4 615.9,1066.6 616.4,1066.8 616.9,1066.9 617.4,1067.1 617.9,1067.3 618.4,1067.4 618.9,1067.6 619.4,1067.8 619.9,1068.0 620.4,1068.1 620.9,1068.3 621.4,1068.5 621.9,1068.7 622.4,1068.8 622.9,1069.0 623.4,1069.2 623.9,1069.3 624.4,1069.5 624.9,1069.7 625.4,1069.8 625.9,1070.0 626.4,1070.1 626.9,1070.3 627.4,1070.4 627.9,1070.5 628.4,1070.7 628.9,1070.8 629.4,1070.9 629.9,1071.0 630.4,1071.1 630.9,1071.2 631.4,1071.3 631.9,1071.4 632.4,1071.5 632.9,1071.6 633.4,1071.6 633.9,1071.7 634.4,1071.8 634.9,1071.9 635.4,1072.0 635.9,1072.0 636.4,1072.1 636.9,1072.2 637.4,1072.3 637.9,1072.3 638.4,1072.4 638.9,1072.5 639.4,1072.5 639.9,1072.6 640.4,1072.7 640.9,1072.7 641.4,1072.8 641.9,1072.9 642.4,1072.9 642.9,1073.0 643.4,1073.0 643.9,1073.1 644.4,1073.2 644.9,1073.2 645.4,1073.3 645.9,1073.3 646.4,1073.4 646.9,1073.5 647.4,1073.5 647.9,1073.6 648.0,1073.6 648.4,1073.6 648.9,1073.7 649.4,1073.8 649.9,1073.8 650.4,1073.9 650.9,1073.9 651.4,1074.0 651.9,1074.1 652.4,1074.1 652.9,1074.2 653.4,1074.2 653.9,1074.3 654.4,1074.3 654.9,1074.4 655.4,1074.5 655.9,1074.5 656.4,1074.6 656.9,1074.6 657.4,1074.7 657.9,1074.7 658.4,1074.8 658.9,1074.8 659.4,1074.9 659.9,1074.9 660.4,1075.0 660.9,1075.0 661.4,1075.1 661.9,1075.1 662.4,1075.2 662.9,1075.2 663.4,1075.3 663.9,1075.3 664.4,1075.3 664.9,1075.4 665.0,1075.4 665.4,1075.4 665.9,1075.5 666.4,1075.5 666.9,1075.6 667.4,1075.6 667.9,1075.6 668.4,1075.7 668.9,1075.7 669.4,1075.7 669.9,1075.8 670.4,1075.8 670.9,1075.9 671.4,1075.9 671.9,1075.9 672.4,1076.0 672.9,1076.0 673.4,1076.0 673.9,1076.1 674.4,1076.1 674.9,1076.1 675.4,1076.2 675.9,1076.2 676.4,1076.2 676.9,1076.3 677.4,1076.3 677.9,1076.3 678.4,1076.4 678.9,1076.4 679.4,1076.4 679.9,1076.5 680.4,1076.5 680.9,1076.5 681.4,1076.6 681.9,1076.6 682.4,1076.6 682.9,1076.7 683.4,1076.7 683.9,1076.7 684.4,1076.8 684.9,1076.8 685.4,1076.8 685.9,1076.9 686.4,1076.9 686.9,1076.9 687.4,1077.0 687.9,1077.0 688.4,1077.0 688.9,1077.1 689.4,1077.1 689.9,1077.1 690.4,1077.2 690.9,1077.2 691.4,1077.2 691.9,1077.3 692.4,1077.3 692.9,1077.3 693.4,1077.4 693.9,1077.4 694.4,1077.4 694.9,1077.5 695.4,1077.5 695.9,1077.5 696.4,1077.6 696.9,1077.6 697.4,1077.6 697.9,1077.7 698.4,1077.7 698.9,1077.7 699.4,1077.8 699.9,1077.8 700.0,1077.8 700.4,1077.8 700.9,1077.9 701.4,1077.9 701.9,1077.9 702.4,1078.0 702.9,1078.0 703.4,1078.0 703.9,1078.1 704.4,1078.1 704.9,1078.1 705.4,1078.2 705.9,1078.2 706.4,1078.3 706.9,1078.3 707.4,1078.3 707.9,1078.4 708.4,1078.4 708.9,1078.4 709.4,1078.5 709.9,1078.5 710.4,1078.6 710.9,1078.6 711.4,1078.6 711.9,1078.7 712.4,1078.7 712.9,1078.8 713.4,1078.8 713.9,1078.8 714.4,1078.9 714.9,1078.9 715.4,1079.0 715.9,1079.0 716.4,1079.0 716.9,1079.1 717.4,1079.1 717.9,1079.1 718.4,1079.2 718.9,1079.2 719.4,1079.3 719.9,1079.3 720.4,1079.3 720.9,1079.4 721.4,1079.4 721.9,1079.4 722.4,1079.5 722.9,1079.5 723.4,1079.6 723.9,1079.6 724.4,1079.6 724.9,1079.7 725.4,1079.7 725.9,1079.7 726.4,1079.8 726.9,1079.8 727.4,1079.8 727.9,1079.9 728.4,1079.9 728.9,1079.9 729.4,1080.0 729.9,1080.0 730.4,1080.0 730.9,1080.0 731.4,1080.1 731.9,1080.1 732.4,1080.1 732.9,1080.2 733.4,1080.2 733.9,1080.2 734.4,1080.2 734.9,1080.3 735.4,1080.3 735.9,1080.3 736.4,1080.3 736.9,1080.3 737.4,1080.4 737.9,1080.4 738.2,1080.4 738.4,1080.4 738.9,1080.4 739.4,1080.4 739.9,1080.5 740.4,1080.5 740.9,1080.5 741.4,1080.5 741.9,1080.5 742.4,1080.6 742.9,1080.6 743.4,1080.6 743.9,1080.6 744.4,1080.6 744.9,1080.6 745.4,1080.7 745.9,1080.7 746.4,1080.7 746.9,1080.7 747.4,1080.7 747.9,1080.7 748.4,1080.8 748.9,1080.8 749.4,1080.8 749.9,1080.8 750.4,1080.8 750.9,1080.8 751.4,1080.9 751.9,1080.9 752.4,1080.9 752.9,1080.9 753.4,1080.9 753.9,1080.9 754.4,1080.9 754.9,1081.0 755.4,1081.0 755.9,1081.0 756.4,1081.0 756.9,1081.0 757.4,1081.0 757.9,1081.0 758.4,1081.1 758.9,1081.1 759.4,1081.1 759.9,1081.1 760.4,1081.1 760.9,1081.1 761.4,1081.1 761.9,1081.2 762.4,1081.2 762.9,1081.2 763.4,1081.2 763.9,1081.2 764.4,1081.2 764.9,1081.2 765.4,1081.2 765.9,1081.3 766.4,1081.3 766.9,1081.3 767.4,1081.3 767.9,1081.3 768.4,1081.3 768.9,1081.3 769.4,1081.3 769.9,1081.4 770.4,1081.4 770.9,1081.4 771.4,1081.4 771.9,1081.4 772.4,1081.4 772.9,1081.4 773.4,1081.4 773.9,1081.4 774.4,1081.5 774.9,1081.5 775.4,1081.5 775.9,1081.5 776.4,1081.5 776.9,1081.5 777.4,1081.5 777.9,1081.5 778.4,1081.5 778.9,1081.6 779.4,1081.6 779.9,1081.6 780.4,1081.6 780.9,1081.6 781.4,1081.6 781.9,1081.6 782.4,1081.6 782.9,1081.6 783.4,1081.7 783.9,1081.7 784.4,1081.7 784.9,1081.7 785.4,1081.7 785.9,1081.7 786.4,1081.7 786.9,1081.7 787.4,1081.7 787.9,1081.7 788.4,1081.8 788.9,1081.8 789.4,1081.8 789.9,1081.8 790.4,1081.8 790.9,1081.8 791.4,1081.8 791.9,1081.8 792.4,1081.8 792.9,1081.8 793.4,1081.9 793.9,1081.9 794.4,1081.9 794.9,1081.9 795.4,1081.9 795.9,1081.9 796.4,1081.9 796.9,1081.9 797.4,1081.9 797.9,1081.9 798.4,1082.0 798.9,1082.0 799.4,1082.0 799.9,1082.0 800.4,1082.0 800.9,1082.0 801.4,1082.0 801.9,1082.0 802.4,1082.0 802.9,1082.0 803.4,1082.1 803.9,1082.1 804.4,1082.1 804.9,1082.1 805.4,1082.1 805.9,1082.1 806.4,1082.1 806.9,1082.1 807.4,1082.1 807.9,1082.1 808.4,1082.2 808.9,1082.2 809.4,1082.2 809.9,1082.2 810.4,1082.2 810.9,1082.2 811.4,1082.2 811.9,1082.2 812.4,1082.2 812.9,1082.3 813.4,1082.3 813.9,1082.3 814.4,1082.3 814.9,1082.3 815.2,1082.3 815.4,1082.3 815.9,1082.3 816.4,1082.3 816.9,1082.3 817.4,1082.3 817.9,1082.4 818.4,1082.4 818.9,1082.4 819.4,1082.4 819.9,1082.4 820.4,1082.4 820.9,1082.4 821.4,1082.4 821.9,1082.5 822.4,1082.5 822.9,1082.5 823.4,1082.5 823.9,1082.5 824.4,1082.5 824.9,1082.5 825.4,1082.5 825.9,1082.5 826.4,1082.6 826.9,1082.6 827.4,1082.6 827.9,1082.6 828.4,1082.6 828.9,1082.6 829.4,1082.6 829.9,1082.7 830.4,1082.7 830.9,1082.7 831.4,1082.7 831.9,1082.7 832.4,1082.7 832.9,1082.7 833.4,1082.7 833.9,1082.8 834.4,1082.8 834.9,1082.8 835.4,1082.8 835.9,1082.8 836.4,1082.8 836.9,1082.8 837.4,1082.8 837.9,1082.9 838.4,1082.9 838.9,1082.9 839.4,1082.9 839.9,1082.9 840.4,1082.9 840.9,1082.9 841.4,1082.9 841.9,1083.0 842.4,1083.0 842.9,1083.0 843.4,1083.0 843.9,1083.0 844.4,1083.0 844.9,1083.0 845.4,1083.0 845.9,1083.1 846.4,1083.1 846.9,1083.1 847.4,1083.1 847.9,1083.1 848.4,1083.1 848.9,1083.1 849.4,1083.1 849.9,1083.2 850.4,1083.2 850.9,1083.2 851.4,1083.2 851.9,1083.2 852.4,1083.2 852.9,1083.2 853.4,1083.2 853.9,1083.2 854.4,1083.3 854.9,1083.3 855.4,1083.3 855.9,1083.3 856.4,1083.3 856.9,1083.3 857.4,1083.3 857.9,1083.3 858.4,1083.3 858.9,1083.4 859.4,1083.4 859.9,1083.4 860.4,1083.4 860.9,1083.4 861.4,1083.4 861.9,1083.4 862.4,1083.4 862.9,1083.4 863.4,1083.4 863.9,1083.5 864.4,1083.5 864.9,1083.5 865.4,1083.5 865.9,1083.5 866.4,1083.5 866.9,1083.5 867.4,1083.5 867.9,1083.5 868.4,1083.5 868.9,1083.5 869.4,1083.5 869.9,1083.6 870.4,1083.6 870.9,1083.6 871.4,1083.6 871.9,1083.6 872.4,1083.6 872.9,1083.6 873.4,1083.6 873.9,1083.6 874.4,1083.6 874.9,1083.6 875.4,1083.6 875.9,1083.6 876.4,1083.6 876.9,1083.6 877.4,1083.6 877.9,1083.7 878.4,1083.7 878.9,1083.7 879.4,1083.7 879.9,1083.7 880.4,1083.7 880.9,1083.7 881.4,1083.7 881.9,1083.7 882.4,1083.7 882.9,1083.7 883.4,1083.7 883.9,1083.7 884.4,1083.7 884.9,1083.7 885.4,1083.7 885.9,1083.7 886.4,1083.7 886.9,1083.7 887.4,1083.7 887.9,1083.7 888.0,1083.7 888.4,1083.7 888.9,1083.7 889.4,1083.7 889.9,1083.7 890.4,1083.7 890.9,1083.7 891.4,1083.7 891.9,1083.7 892.4,1083.7 892.9,1083.7 893.4,1083.7 893.9,1083.7 894.4,1083.7 894.9,1083.7 895.4,1083.7 895.9,1083.7 896.4,1083.6 896.9,1083.6 897.4,1083.6 897.9,1083.6 898.4,1083.6 898.9,1083.6 899.4,1083.6 899.9,1083.6 900.4,1083.6 900.9,1083.6 901.4,1083.6 901.9,1083.6 902.4,1083.6 902.9,1083.5 903.4,1083.5 903.9,1083.5 904.4,1083.5 904.9,1083.5 905.4,1083.5 905.9,1083.5 906.4,1083.5 906.9,1083.5 907.4,1083.4 907.9,1083.4 908.4,1083.4 908.9,1083.4 909.4,1083.4 909.9,1083.4 910.4,1083.4 910.9,1083.4 911.4,1083.3 911.9,1083.3 912.4,1083.3 912.9,1083.3 913.4,1083.3 913.9,1083.3 914.4,1083.2 914.9,1083.2 915.4,1083.2 915.9,1083.2 916.4,1083.2 916.9,1083.2 917.4,1083.2 917.9,1083.1 918.4,1083.1 918.9,1083.1 919.4,1083.1 919.9,1083.1 920.4,1083.1 920.9,1083.0 921.4,1083.0 921.9,1083.0 922.4,1083.0 922.9,1083.0 923.4,1082.9 923.9,1082.9 924.4,1082.9 924.9,1082.9 925.4,1082.9 925.9,1082.9 926.4,1082.8 926.9,1082.8 927.4,1082.8" stroke="#fb22dc" stroke-width="1.3"/><path d="M119.9,817.3 120.4,817.2 120.9,817.0 121.4,816.7 121.9,816.4 122.0,816.3 122.4,815.9 122.9,815.3 123.4,814.5 123.9,813.5 124.4,812.4 124.9,811.2 125.4,809.8 125.9,808.4 126.4,806.9 126.9,805.4 127.4,803.9 127.9,802.4 128.4,800.8 128.9,799.1 129.4,797.2 129.9,795.3 130.4,793.2 130.9,791.1 131.4,788.9 131.9,786.7 132.4,784.4 132.9,782.2 133.1,781.3 133.4,780.0 133.9,777.7 134.4,775.4 134.9,773.1 135.4,770.7 135.9,768.2 136.4,765.7 136.9,763.2 137.4,760.5 137.9,757.7 138.4,754.9 138.9,751.7 139.4,748.0 139.9,744.5 140.4,741.5 140.5,741.0 140.9,739.1 141.4,736.9 141.9,735.6 142.4,735.0 142.9,734.6 143.3,734.5 143.4,734.5 143.9,735.2 144.4,736.6 144.6,737.3 144.9,739.7 145.4,747.7 145.9,758.0 146.3,765.5 146.4,767.2 146.9,777.4 147.4,787.5 147.9,793.8 148.1,794.5 148.4,794.5 148.9,794.3 149.4,794.0 149.9,793.6 150.4,793.1 150.9,792.6 151.4,792.1 151.9,791.5 152.4,791.1 152.5,791.0 152.9,790.7 153.4,790.3 153.9,789.9 154.4,789.5 154.9,789.2 155.4,788.8 155.9,788.3 156.4,787.9 156.9,787.4 157.4,786.9 157.7,786.6 157.9,786.4 158.4,785.7 158.9,784.9 159.4,784.1 159.9,783.2 160.4,782.3 160.9,781.4 161.4,780.5 161.9,779.6 162.4,778.7 162.9,777.9 163.0,777.8 163.4,777.2 163.9,776.5 164.4,775.9 164.9,775.2 165.4,774.6 165.9,774.0 166.4,773.4 166.9,772.7 167.4,772.1 167.9,771.6 168.4,771.0 168.9,770.3 169.4,769.7 169.9,769.1 170.0,769.0 170.4,768.5 170.9,767.8 171.4,767.2 171.9,766.5 172.4,765.8 172.9,765.1 173.4,764.4 173.9,763.8 174.4,763.1 174.9,762.5 175.4,761.9 175.9,761.4 176.4,760.8 176.9,760.4 177.1,760.2 177.4,759.9 177.9,759.5 178.4,759.1 178.9,758.8 179.4,758.4 179.9,758.1 180.4,757.8 180.9,757.6 181.0,757.6 181.4,757.5 181.9,757.3 182.4,757.1 182.9,757.0 183.4,756.9 183.9,756.8 184.4,756.7 184.9,756.7 185.0,756.7 185.4,756.7 185.9,756.8 186.4,756.8 186.9,756.9 187.4,757.0 187.9,757.2 188.4,757.3 188.9,757.5 189.4,757.6 189.9,757.8 190.0,757.8 190.4,757.9 190.9,758.1 191.4,758.3 191.9,758.5 192.4,758.7 192.9,759.0 193.4,759.2 193.9,759.5 194.4,759.7 194.9,759.9 195.4,760.1 195.9,760.3 196.4,760.5 196.9,760.7 197.4,760.8 197.9,760.9 198.4,761.1 198.9,761.2 199.4,761.3 199.9,761.5 200.4,761.6 200.9,761.7 201.4,761.8 201.9,761.9 202.4,762.0 202.9,762.1 203.4,762.3 203.9,762.4 204.4,762.5 204.9,762.6 205.4,762.7 205.9,762.8 206.4,762.9 206.9,763.0 207.4,763.1 207.9,763.2 208.4,763.3 208.9,763.4 209.4,763.5 209.9,763.6 210.4,763.7 210.5,763.7 210.9,763.8 211.4,763.9 211.9,764.0 212.4,764.1 212.9,764.2 213.4,764.3 213.9,764.4 214.4,764.5 214.9,764.6 215.4,764.7 215.9,764.8 216.4,764.9 216.9,765.1 217.4,765.2 217.9,765.3 218.4,765.4 218.9,765.5 219.4,765.6 219.9,765.7 220.4,765.8 220.9,765.9 221.4,766.0 221.9,766.1 222.4,766.2 222.9,766.3 223.4,766.4 223.9,766.5 224.4,766.5 224.9,766.6 225.4,766.7 225.9,766.8 226.4,766.9 226.9,767.0 227.4,767.1 227.9,767.2 228.0,767.2 228.4,767.3 228.9,767.4 229.4,767.4 229.9,767.5 230.4,767.6 230.9,767.7 231.4,767.8 231.9,767.9 232.4,768.0 232.9,768.1 233.4,768.2 233.9,768.3 234.4,768.4 234.9,768.4 235.4,768.5 235.9,768.6 236.4,768.7 236.9,768.8 237.4,768.9 237.9,769.0 238.4,769.0 238.9,769.1 239.4,769.2 239.9,769.3 240.4,769.3 240.9,769.4 241.4,769.5 241.9,769.5 242.4,769.6 242.9,769.7 243.4,769.7 243.9,769.8 244.4,769.8 244.9,769.8 245.4,769.9 245.6,769.9 245.9,769.9 246.4,770.0 246.9,770.0 247.4,770.0 247.9,770.1 248.4,770.1 248.9,770.1 249.4,770.1 249.9,770.2 250.4,770.2 250.9,770.2 251.4,770.3 251.9,770.3 252.4,770.3 252.9,770.3 253.4,770.4 253.9,770.4 254.4,770.4 254.9,770.4 255.4,770.4 255.9,770.5 256.4,770.5 256.9,770.5 257.4,770.5 257.9,770.5 258.4,770.6 258.9,770.6 259.4,770.6 259.9,770.6 260.4,770.6 260.9,770.6 261.4,770.6 261.9,770.7 262.4,770.7 262.9,770.7 263.2,770.7 263.4,770.7 263.9,770.7 264.4,770.7 264.9,770.7 265.4,770.8 265.9,770.8 266.4,770.8 266.9,770.8 267.4,770.8 267.9,770.8 268.4,770.8 268.9,770.8 269.4,770.9 269.9,770.9 270.4,770.9 270.9,770.9 271.4,770.9 271.9,770.9 272.4,770.9 272.9,770.9 273.4,770.9 273.9,770.9 274.4,771.0 274.9,771.0 275.4,771.0 275.9,771.0 276.4,771.0 276.9,771.0 277.4,771.0 277.9,771.0 278.4,771.0 278.9,771.0 279.4,771.0 279.9,771.0 280.4,771.0 280.9,771.1 281.4,771.1 281.9,771.1 282.4,771.1 282.9,771.1 283.4,771.1 283.9,771.1 284.4,771.1 284.9,771.1 285.0,771.1 285.4,771.1 285.9,771.1 286.4,771.1 286.9,771.1 287.4,771.1 287.9,771.1 288.4,771.1 288.9,771.1 289.4,771.1 289.9,771.1 290.4,771.2 290.9,771.2 291.4,771.2 291.9,771.2 292.4,771.2 292.9,771.2 293.4,771.2 293.9,771.2 294.4,771.2 294.9,771.2 295.4,771.2 295.9,771.2 296.4,771.2 296.9,771.2 297.4,771.2 297.9,771.2 298.4,771.2 298.9,771.2 299.4,771.2 299.9,771.2 300.4,771.2 300.9,771.2 301.4,771.2 301.9,771.3 302.4,771.3 302.9,771.3 303.4,771.3 303.9,771.3 304.4,771.3 304.9,771.3 305.4,771.3 305.9,771.3 306.4,771.3 306.9,771.3 307.4,771.3 307.9,771.3 308.4,771.3 308.9,771.3 309.4,771.3 309.9,771.3 310.4,771.3 310.9,771.3 311.4,771.3 311.9,771.3 312.4,771.3 312.9,771.3 313.4,771.3 313.9,771.3 314.4,771.3 314.9,771.3 315.4,771.3 315.9,771.3 316.4,771.4 316.9,771.4 317.4,771.4 317.9,771.4 318.4,771.4 318.9,771.4 319.4,771.4 319.9,771.4 320.4,771.4 320.9,771.4 321.4,771.4 321.9,771.4 322.4,771.4 322.9,771.4 323.4,771.4 323.9,771.4 324.4,771.4 324.9,771.4 325.4,771.4 325.9,771.4 326.4,771.4 326.9,771.4 327.4,771.4 327.9,771.4 328.4,771.4 328.9,771.4 329.4,771.4 329.9,771.4 330.4,771.4 330.9,771.4 331.4,771.4 331.9,771.4 332.4,771.4 332.9,771.4 333.4,771.4 333.9,771.4 334.4,771.4 334.9,771.4 335.4,771.4 335.9,771.5 336.4,771.5 336.9,771.5 337.4,771.5 337.9,771.5 338.4,771.5 338.9,771.5 339.4,771.5 339.9,771.5 340.4,771.5 340.9,771.5 341.4,771.5 341.9,771.5 342.4,771.5 342.9,771.5 343.4,771.5 343.9,771.5 344.4,771.5 344.9,771.5 345.4,771.5 345.9,771.5 346.4,771.5 346.9,771.5 347.4,771.5 347.9,771.5 348.4,771.5 348.9,771.5 349.4,771.5 349.9,771.5 350.0,771.5 350.4,771.5 350.9,771.5 351.4,771.5 351.9,771.5 352.4,771.5 352.9,771.5 353.4,771.5 353.9,771.5 354.4,771.5 354.9,771.5 355.4,771.5 355.9,771.5 356.4,771.5 356.9,771.5 357.4,771.5 357.9,771.5 358.4,771.5 358.9,771.5 359.4,771.5 359.9,771.5 360.4,771.5 360.9,771.5 361.4,771.5 361.9,771.5 362.4,771.5 362.9,771.5 363.4,771.5 363.9,771.5 364.4,771.5 364.9,771.5 365.4,771.5 365.9,771.5 366.4,771.5 366.9,771.5 367.4,771.5 367.9,771.5 368.4,771.5 368.9,771.5 369.4,771.5 369.9,771.5 370.4,771.5 370.9,771.5 371.4,771.5 371.9,771.5 372.4,771.5 372.9,771.5 373.4,771.6 373.9,771.6 374.4,771.6 374.9,771.6 375.4,771.6 375.9,771.6 376.4,771.6 376.9,771.6 377.4,771.6 377.9,771.6 378.4,771.6 378.9,771.6 379.4,771.6 379.9,771.6 380.4,771.6 380.9,771.6 381.4,771.6 381.9,771.6 382.4,771.6 382.9,771.6 383.4,771.6 383.9,771.6 384.4,771.6 384.9,771.6 385.4,771.6 385.9,771.6 386.4,771.6 386.9,771.6 387.4,771.6 387.9,771.6 388.4,771.6 388.9,771.6 389.4,771.6 389.9,771.6 390.4,771.6 390.9,771.6 391.4,771.6 391.9,771.6 392.4,771.6 392.9,771.6 393.4,771.6 393.9,771.6 394.4,771.6 394.9,771.6 395.4,771.6 395.9,771.6 396.4,771.6 396.9,771.6 397.4,771.6 397.9,771.6 398.4,771.6 398.9,771.6 399.4,771.6 399.9,771.6 400.0,771.6 400.4,771.6 400.9,771.6 401.4,771.6 401.9,771.6 402.4,771.6 402.9,771.6 403.4,771.6 403.9,771.6 404.4,771.6 404.9,771.6 405.4,771.6 405.9,771.6 406.4,771.6 406.9,771.6 407.4,771.6 407.9,771.6 408.4,771.6 408.9,771.6 409.4,771.6 409.9,771.6 410.4,771.6 410.9,771.6 411.4,771.6 411.9,771.6 412.4,771.6 412.9,771.6 413.4,771.6 413.9,771.6 414.4,771.6 414.9,771.6 415.4,771.6 415.9,771.6 416.4,771.6 416.9,771.6 417.4,771.6 417.9,771.6 418.4,771.6 418.9,771.6 419.4,771.6 419.9,771.6 420.4,771.6 420.9,771.6 421.4,771.6 421.9,771.6 422.4,771.6 422.9,771.6 423.4,771.6 423.9,771.6 424.4,771.6 424.9,771.6 425.4,771.6 425.9,771.6 426.4,771.6 426.9,771.6 427.4,771.6 427.9,771.6 428.4,771.6 428.9,771.6 429.4,771.6 429.9,771.6 430.4,771.6 430.9,771.6 431.4,771.7 431.9,771.7 432.4,771.7 432.9,771.7 433.4,771.7 433.9,771.7 434.4,771.7 434.9,771.7 435.4,771.7 435.9,771.7 436.4,771.7 436.9,771.7 437.4,771.7 437.9,771.7 438.4,771.7 438.9,771.7 439.4,771.7 439.9,771.7 440.4,771.7 440.9,771.7 441.4,771.7 441.9,771.7 442.4,771.7 442.9,771.7 443.4,771.7 443.9,771.7 444.4,771.7 444.9,771.7 445.4,771.7 445.9,771.7 446.4,771.7 446.9,771.7 447.4,771.7 447.9,771.7 448.4,771.7 448.9,771.7 449.4,771.7 449.9,771.7 450.4,771.7 450.9,771.7 451.4,771.7 451.9,771.7 452.4,771.7 452.9,771.7 453.4,771.7 453.9,771.7 454.4,771.7 454.9,771.7 455.4,771.8 455.9,771.8 456.4,771.8 456.9,771.8 457.4,771.8 457.9,771.8 458.4,771.8 458.9,771.8 459.4,771.8 459.9,771.8 460.4,771.8 460.9,771.8 461.4,771.8 461.6,771.8 461.9,771.8 462.4,771.9 462.9,772.2 463.4,772.5 463.9,772.9 464.4,773.3 464.9,773.8 465.4,774.3 465.9,774.9 466.4,775.5 466.5,775.6 466.9,776.2 467.4,777.0 467.9,778.1 468.4,779.3 468.9,780.7 469.4,782.1 469.9,783.6 470.4,785.0 470.9,786.5 471.4,787.9 471.9,789.3 472.4,790.7 472.9,792.1 473.4,793.6 473.9,795.0 474.4,796.5 474.9,798.0 475.4,799.6 475.9,801.1 476.4,802.6 476.9,804.2 477.4,805.8 477.9,807.3 478.4,808.9 478.9,810.4 479.4,812.0 479.6,812.6 479.9,813.5 480.4,815.1 480.9,816.6 481.4,818.2 481.9,819.7 482.4,821.3 482.9,822.9 483.4,824.4 483.9,826.0 484.4,827.6 484.9,829.2 485.4,830.8 485.9,832.4 486.4,834.0 486.9,835.6 487.4,837.3 487.9,838.9 488.4,840.6 488.9,842.2 489.4,844.0 489.9,845.7 490.4,847.4 490.9,849.2 491.4,851.0 491.9,852.7 492.4,854.5 492.9,856.2 493.4,857.9 493.9,859.6 494.4,861.3 494.9,863.0 495.4,864.6 495.9,866.2 496.1,866.8 496.4,867.7 496.9,869.2 497.4,870.7 497.9,872.2 498.4,873.6 498.9,875.0 499.4,876.5 499.9,877.9 500.4,879.2 500.9,880.6 501.4,882.0 501.9,883.3 502.4,884.7 502.9,886.0 503.4,887.4 503.9,888.7 504.3,889.8 504.4,890.1 504.9,891.4 505.4,892.8 505.9,894.1 506.4,895.5 506.9,896.9 507.4,898.2 507.9,899.6 508.4,900.9 508.9,902.2 509.4,903.5 509.9,904.8 510.4,906.1 510.9,907.3 511.4,908.5 511.9,909.7 512.4,910.9 512.5,911.1 512.9,912.0 513.4,913.1 513.9,914.2 514.4,915.3 514.9,916.4 515.4,917.4 515.9,918.5 516.4,919.5 516.9,920.5 517.4,921.5 517.9,922.5 518.4,923.4 518.9,924.4 519.4,925.3 519.9,926.2 520.4,927.1 520.7,927.6 520.9,927.9 521.4,928.8 521.9,929.5 522.4,930.3 522.9,931.0 523.4,931.8 523.9,932.5 524.4,933.3 524.9,934.0 525.0,934.2 525.4,934.9 525.9,935.7 526.4,936.6 526.9,937.4 527.4,938.3 527.9,939.2 528.4,940.1 528.9,940.9 529.4,941.8 529.9,942.6 530.4,943.3 530.9,944.0 531.4,944.7 531.9,945.3 532.4,946.0 532.9,946.6 533.4,947.2 533.9,947.8 534.4,948.4 534.9,949.0 535.4,949.6 535.9,950.2 536.4,950.8 536.9,951.4 537.4,951.9 537.7,952.3 537.9,952.5 538.4,953.1 538.9,953.8 539.4,954.4 539.9,955.0 540.4,955.6 540.9,956.2 541.4,956.8 541.9,957.3 542.4,957.9 542.9,958.4 543.1,958.6 543.4,958.9 543.9,959.3 544.4,959.8 544.9,960.2 545.4,960.6 545.9,961.0 546.4,961.3 546.9,961.7 547.4,962.1 547.9,962.4 548.4,962.8 548.9,963.1 549.4,963.5 549.9,963.9 550.4,964.3 550.9,964.8 551.4,965.2 551.9,965.7 552.1,965.9 552.4,966.2 552.9,966.8 553.4,967.5 553.9,968.2 554.4,969.0 554.9,969.7 555.4,970.5 555.9,971.2 556.4,971.9 556.9,972.4 557.4,972.9 557.6,973.1 557.9,973.3 558.4,973.7 558.9,974.0 559.4,974.3 559.9,974.6 560.4,974.9 560.9,975.2 561.4,975.5 561.9,975.7 562.4,975.9 562.9,976.2 563.4,976.4 563.9,976.6 564.4,976.8 564.9,977.0 565.4,977.2 565.9,977.4 566.4,977.6 566.9,977.8 567.4,978.0 567.9,978.3 568.4,978.5 568.9,978.7 569.4,979.0 569.9,979.2 570.2,979.4 570.4,979.5 570.9,979.8 571.4,980.1 571.9,980.4 572.4,980.7 572.9,981.0 573.4,981.4 573.9,981.7 574.4,982.1 574.9,982.4 575.4,982.7 575.9,983.1 576.4,983.4 576.9,983.8 577.4,984.1 577.9,984.5 578.4,984.8 578.9,985.1 579.4,985.4 579.9,985.8 580.4,986.1 580.9,986.3 581.4,986.6 581.9,986.9 582.4,987.1 582.9,987.4 583.4,987.6 583.9,987.8 584.4,988.0 584.9,988.2 585.4,988.4 585.9,988.6 586.4,988.8 586.9,988.9 587.4,989.1 587.9,989.3 588.4,989.4 588.9,989.6 589.4,989.8 589.9,989.9 590.4,990.1 590.9,990.2 591.4,990.4 591.9,990.5 592.4,990.7 592.9,990.8 593.4,990.9 593.9,991.1 594.4,991.2 594.9,991.4 595.4,991.5 595.9,991.7 596.4,991.8 596.9,992.0 597.4,992.1 597.9,992.2 598.4,992.4 598.9,992.5 599.4,992.7 599.9,992.8 600.4,993.0 600.9,993.1 601.4,993.2 601.9,993.4 602.4,993.5 602.9,993.6 603.4,993.8 603.9,993.9 604.4,994.0 604.9,994.2 605.4,994.3 605.9,994.5 606.4,994.6 606.9,994.7 607.4,994.9 607.9,995.0 608.4,995.2 608.9,995.3 609.4,995.5 609.9,995.7 610.0,995.7 610.4,995.8 610.9,996.0 611.4,996.2 611.9,996.4 612.4,996.6 612.9,996.8 613.4,997.0 613.9,997.2 614.4,997.5 614.9,997.7 615.4,997.9 615.9,998.1 616.4,998.3 616.9,998.5 617.4,998.8 617.9,998.9 618.4,999.1 618.9,999.3 619.4,999.5 619.9,999.6 620.4,999.8 620.9,999.9 621.4,1000.0 621.9,1000.1 622.4,1000.2 622.9,1000.3 623.4,1000.4 623.9,1000.5 624.4,1000.6 624.9,1000.7 625.4,1000.8 625.9,1000.9 626.4,1001.0 626.9,1001.1 627.4,1001.1 627.9,1001.2 628.4,1001.3 628.9,1001.4 629.4,1001.4 629.9,1001.5 630.4,1001.6 630.9,1001.7 631.4,1001.7 631.9,1001.8 632.4,1001.9 632.9,1001.9 633.4,1002.0 633.5,1002.0 633.9,1002.1 634.4,1002.1 634.9,1002.2 635.4,1002.2 635.9,1002.3 636.4,1002.4 636.9,1002.4 637.4,1002.5 637.9,1002.5 638.4,1002.6 638.9,1002.7 639.4,1002.7 639.9,1002.8 640.4,1002.8 640.9,1002.9 641.4,1002.9 641.9,1003.0 642.4,1003.0 642.9,1003.1 643.4,1003.2 643.9,1003.2 644.4,1003.3 644.9,1003.3 645.4,1003.3 645.9,1003.4 646.4,1003.4 646.9,1003.5 647.4,1003.5 647.9,1003.6 648.4,1003.6 648.9,1003.7 649.4,1003.7 649.9,1003.8 650.4,1003.8 650.9,1003.8 651.4,1003.9 651.6,1003.9 651.9,1003.9 652.4,1004.0 652.9,1004.0 653.4,1004.0 653.9,1004.1 654.4,1004.1 654.9,1004.2 655.4,1004.2 655.9,1004.2 656.4,1004.3 656.9,1004.3 657.4,1004.3 657.9,1004.4 658.4,1004.4 658.9,1004.4 659.4,1004.5 659.9,1004.5 660.4,1004.5 660.9,1004.6 661.4,1004.6 661.9,1004.6 662.4,1004.6 662.9,1004.7 663.4,1004.7 663.9,1004.7 664.4,1004.8 664.9,1004.8 665.0,1004.8 665.4,1004.8 665.9,1004.9 666.4,1004.9 666.9,1004.9 667.4,1004.9 667.9,1005.0 668.4,1005.0 668.9,1005.0 669.4,1005.1 669.9,1005.1 670.4,1005.1 670.9,1005.1 671.4,1005.2 671.9,1005.2 672.4,1005.2 672.9,1005.3 673.4,1005.3 673.9,1005.3 674.4,1005.3 674.9,1005.4 675.4,1005.4 675.9,1005.4 676.4,1005.4 676.9,1005.5 677.4,1005.5 677.9,1005.5 678.4,1005.6 678.9,1005.6 679.4,1005.6 679.9,1005.6 680.4,1005.7 680.9,1005.7 681.4,1005.7 681.9,1005.7 682.4,1005.8 682.9,1005.8 683.4,1005.8 683.9,1005.8 684.4,1005.9 684.9,1005.9 685.4,1005.9 685.9,1005.9 686.4,1006.0 686.9,1006.0 687.4,1006.0 687.9,1006.0 688.4,1006.0 688.9,1006.1 689.4,1006.1 689.9,1006.1 690.4,1006.1 690.9,1006.2 691.4,1006.2 691.9,1006.2 692.4,1006.2 692.9,1006.2 693.4,1006.3 693.9,1006.3 694.4,1006.3 694.9,1006.3 695.4,1006.3 695.9,1006.4 696.4,1006.4 696.9,1006.4 697.4,1006.4 697.9,1006.4 698.4,1006.4 698.9,1006.5 699.4,1006.5 699.9,1006.5 700.0,1006.5 700.4,1006.5 700.9,1006.5 701.4,1006.5 701.9,1006.6 702.4,1006.6 702.9,1006.6 703.4,1006.6 703.9,1006.6 704.4,1006.6 704.9,1006.6 705.4,1006.7 705.9,1006.7 706.4,1006.7 706.9,1006.7 707.4,1006.7 707.9,1006.7 708.4,1006.7 708.9,1006.8 709.4,1006.8 709.9,1006.8 710.4,1006.8 710.9,1006.8 711.4,1006.8 711.9,1006.8 712.4,1006.8 712.9,1006.8 713.4,1006.9 713.9,1006.9 714.4,1006.9 714.9,1006.9 715.4,1006.9 715.9,1006.9 716.4,1006.9 716.9,1006.9 717.4,1006.9 717.9,1007.0 718.4,1007.0 718.9,1007.0 719.4,1007.0 719.9,1007.0 720.4,1007.0 720.9,1007.0 721.4,1007.0 721.9,1007.0 722.4,1007.1 722.9,1007.1 723.4,1007.1 723.9,1007.1 724.4,1007.1 724.9,1007.1 725.4,1007.1 725.9,1007.1 726.4,1007.1 726.9,1007.1 727.4,1007.2 727.9,1007.2 728.4,1007.2 728.9,1007.2 729.4,1007.2 729.9,1007.2 730.4,1007.2 730.9,1007.2 731.4,1007.2 731.9,1007.3 732.4,1007.3 732.9,1007.3 733.4,1007.3 733.9,1007.3 734.4,1007.3 734.9,1007.3 735.4,1007.3 735.9,1007.3 736.4,1007.4 736.9,1007.4 737.4,1007.4 737.9,1007.4 738.2,1007.4 738.4,1007.4 738.9,1007.4 739.4,1007.4 739.9,1007.4 740.4,1007.5 740.9,1007.5 741.4,1007.5 741.9,1007.5 742.4,1007.5 742.9,1007.5 743.4,1007.5 743.9,1007.5 744.4,1007.6 744.9,1007.6 745.4,1007.6 745.9,1007.6 746.4,1007.6 746.9,1007.6 747.4,1007.6 747.9,1007.6 748.4,1007.7 748.9,1007.7 749.4,1007.7 749.9,1007.7 750.4,1007.7 750.9,1007.7 751.4,1007.7 751.9,1007.8 752.4,1007.8 752.9,1007.8 753.4,1007.8 753.9,1007.8 754.4,1007.8 754.9,1007.8 755.4,1007.8 755.9,1007.9 756.4,1007.9 756.9,1007.9 757.4,1007.9 757.9,1007.9 758.4,1007.9 758.9,1007.9 759.4,1008.0 759.9,1008.0 760.4,1008.0 760.9,1008.0 761.4,1008.0 761.9,1008.0 762.4,1008.0 762.9,1008.0 763.4,1008.1 763.9,1008.1 764.4,1008.1 764.9,1008.1 765.4,1008.1 765.9,1008.1 766.4,1008.1 766.9,1008.2 767.4,1008.2 767.9,1008.2 768.4,1008.2 768.9,1008.2 769.4,1008.2 769.9,1008.2 770.4,1008.3 770.9,1008.3 771.4,1008.3 771.9,1008.3 772.4,1008.3 772.9,1008.3 773.4,1008.3 773.9,1008.3 774.4,1008.4 774.9,1008.4 775.4,1008.4 775.9,1008.4 776.4,1008.4 776.9,1008.4 777.4,1008.4 777.9,1008.5 778.4,1008.5 778.9,1008.5 779.4,1008.5 779.9,1008.5 780.4,1008.5 780.9,1008.5 781.4,1008.6 781.9,1008.6 782.4,1008.6 782.9,1008.6 783.4,1008.6 783.9,1008.6 784.4,1008.6 784.9,1008.6 785.4,1008.7 785.9,1008.7 786.4,1008.7 786.9,1008.7 787.4,1008.7 787.9,1008.7 788.4,1008.7 788.9,1008.8 789.4,1008.8 789.9,1008.8 790.4,1008.8 790.9,1008.8 791.4,1008.8 791.9,1008.8 792.4,1008.8 792.9,1008.9 793.4,1008.9 793.9,1008.9 794.4,1008.9 794.9,1008.9 795.4,1008.9 795.9,1008.9 796.4,1008.9 796.9,1009.0 797.4,1009.0 797.9,1009.0 798.4,1009.0 798.9,1009.0 799.4,1009.0 799.9,1009.0 800.4,1009.1 800.9,1009.1 801.4,1009.1 801.9,1009.1 802.4,1009.1 802.9,1009.1 803.4,1009.1 803.9,1009.1 804.4,1009.1 804.9,1009.2 805.4,1009.2 805.9,1009.2 806.4,1009.2 806.9,1009.2 807.4,1009.2 807.9,1009.2 808.4,1009.2 808.9,1009.3 809.4,1009.3 809.9,1009.3 810.4,1009.3 810.9,1009.3 811.4,1009.3 811.9,1009.3 812.4,1009.3 812.9,1009.3 813.4,1009.4 813.9,1009.4 814.4,1009.4 814.9,1009.4 815.2,1009.4 815.4,1009.4 815.9,1009.4 816.4,1009.4 816.9,1009.4 817.4,1009.4 817.9,1009.5 818.4,1009.5 818.9,1009.5 819.4,1009.5 819.9,1009.5 820.4,1009.5 820.9,1009.5 821.4,1009.5 821.9,1009.6 822.4,1009.6 822.9,1009.6 823.4,1009.6 823.9,1009.6 824.4,1009.6 824.9,1009.6 825.4,1009.6 825.9,1009.7 826.4,1009.7 826.9,1009.7 827.4,1009.7 827.9,1009.7 828.4,1009.7 828.9,1009.7 829.4,1009.7 829.9,1009.8 830.4,1009.8 830.9,1009.8 831.4,1009.8 831.9,1009.8 832.4,1009.8 832.9,1009.8 833.4,1009.8 833.9,1009.9 834.4,1009.9 834.9,1009.9 835.4,1009.9 835.9,1009.9 836.4,1009.9 836.9,1009.9 837.4,1009.9 837.9,1010.0 838.4,1010.0 838.9,1010.0 839.4,1010.0 839.9,1010.0 840.4,1010.0 840.9,1010.0 841.4,1010.0 841.9,1010.1 842.4,1010.1 842.9,1010.1 843.4,1010.1 843.9,1010.1 844.4,1010.1 844.9,1010.1 845.4,1010.1 845.9,1010.2 846.4,1010.2 846.9,1010.2 847.4,1010.2 847.9,1010.2 848.4,1010.2 848.9,1010.2 849.4,1010.2 849.9,1010.3 850.4,1010.3 850.9,1010.3 851.4,1010.3 851.9,1010.3 852.4,1010.3 852.9,1010.3 853.4,1010.3 853.9,1010.3 854.4,1010.4 854.9,1010.4 855.4,1010.4 855.9,1010.4 856.4,1010.4 856.9,1010.4 857.4,1010.4 857.9,1010.4 858.4,1010.4 858.9,1010.4 859.4,1010.5 859.9,1010.5 860.4,1010.5 860.9,1010.5 861.4,1010.5 861.9,1010.5 862.4,1010.5 862.9,1010.5 863.4,1010.5 863.9,1010.5 864.4,1010.5 864.9,1010.5 865.4,1010.6 865.9,1010.6 866.4,1010.6 866.9,1010.6 867.4,1010.6 867.9,1010.6 868.4,1010.6 868.9,1010.6 869.4,1010.6 869.9,1010.6 870.4,1010.6 870.9,1010.6 871.4,1010.6 871.9,1010.6 872.4,1010.6 872.9,1010.7 873.4,1010.7 873.9,1010.7 874.4,1010.7 874.9,1010.7 875.4,1010.7 875.9,1010.7 876.4,1010.7 876.9,1010.7 877.4,1010.7 877.9,1010.7 878.4,1010.7 878.9,1010.7 879.4,1010.7 879.9,1010.7 880.4,1010.7 880.9,1010.7 881.4,1010.7 881.9,1010.7 882.4,1010.7 882.9,1010.7 883.0,1010.7 883.4,1010.7 883.9,1010.7 884.4,1010.7 884.9,1010.7 885.4,1010.7 885.9,1010.7 886.4,1010.7 886.9,1010.7 887.4,1010.7 887.9,1010.7 888.4,1010.7 888.9,1010.7 889.4,1010.7 889.9,1010.7 890.4,1010.7 890.9,1010.7 891.4,1010.7 891.9,1010.7 892.4,1010.7 892.9,1010.7 893.4,1010.7 893.9,1010.7 894.4,1010.6 894.9,1010.6 895.4,1010.6 895.9,1010.6 896.4,1010.6 896.9,1010.6 897.4,1010.6 897.9,1010.6 898.4,1010.6 898.9,1010.6 899.4,1010.6 899.9,1010.6 900.4,1010.6 900.9,1010.6 901.4,1010.6 901.9,1010.6 902.4,1010.6 902.9,1010.5 903.4,1010.5 903.9,1010.5 904.4,1010.5 904.9,1010.5 905.4,1010.5 905.9,1010.5 906.4,1010.5 906.9,1010.5 907.4,1010.5 907.9,1010.5 908.4,1010.5 908.9,1010.4 909.4,1010.4 909.9,1010.4 910.4,1010.4 910.9,1010.4 911.4,1010.4 911.9,1010.4 912.4,1010.4 912.9,1010.4 913.4,1010.4 913.9,1010.3 914.4,1010.3 914.9,1010.3 915.4,1010.3 915.9,1010.3 916.4,1010.3 916.9,1010.3 917.4,1010.3 917.9,1010.3 918.4,1010.2 918.9,1010.2 919.4,1010.2 919.9,1010.2 920.4,1010.2 920.9,1010.2 921.4,1010.2 921.9,1010.2 922.4,1010.1 922.9,1010.1 923.4,1010.1 923.9,1010.1 924.4,1010.1 924.9,1010.1 925.4,1010.1 925.9,1010.0 926.4,1010.0 926.9,1010.0 927.4,1010.0" stroke="#1a1ac4" stroke-width="1.5"/></g>
<path d="M101.3,651.7H940.9M110.5,651.7V1103.8M109.5,1103.8H940.9" fill="none" stroke="#151515" stroke-width="1.9"/><path d="M940.9,650.7V1104.8" fill="none" stroke="#151515" stroke-width="1.7"/><path d="M101.3,1084.1H110.5M101.3,1050.8H110.5M101.3,1017.5H110.5M101.3,984.2H110.5M101.3,951H110.5M101.3,917.7H110.5M101.3,884.4H110.5M101.3,851.1H110.5M101.3,817.8H110.5M101.3,784.5H110.5M101.3,751.2H110.5M101.3,717.9H110.5M101.3,684.6H110.5M105.4,1100.8H110.5M105.4,1067.5H110.5M105.4,1034.2H110.5M105.4,1000.9H110.5M105.4,967.6H110.5M105.4,934.3H110.5M105.4,901H110.5M105.4,867.7H110.5M105.4,834.4H110.5M105.4,801.2H110.5M105.4,767.9H110.5M105.4,734.6H110.5M105.4,701.3H110.5M105.4,668H110.5M119.9,1103.8V1112.8M197.2,1103.8V1112.8M274.5,1103.8V1112.8M351.8,1103.8V1112.8M429.1,1103.8V1112.8M506.4,1103.8V1112.8M583.7,1103.8V1112.8M661,1103.8V1112.8M738.3,1103.8V1112.8M815.6,1103.8V1112.8M892.9,1103.8V1112.8M158.6,1103.8V1109.0M235.8,1103.8V1109.0M313.1,1103.8V1109.0M390.5,1103.8V1109.0M467.8,1103.8V1109.0M545,1103.8V1109.0M622.4,1103.8V1109.0M699.6,1103.8V1109.0M776.9,1103.8V1109.0M854.2,1103.8V1109.0M931.5,1103.8V1109.0M931.9,1056.1H940.9M931.9,1008.5H940.9M931.9,960.8H940.9M931.9,913.2H940.9M931.9,865.5H940.9M931.9,817.9H940.9M931.9,770.2H940.9M931.9,722.6H940.9M931.9,675H940.9M936.3,1080H940.9M936.3,1032.3H940.9M936.3,984.7H940.9M936.3,937H940.9M936.3,889.4H940.9M936.3,841.7H940.9M936.3,794.1H940.9M936.3,746.4H940.9M936.3,698.8H940.9" fill="none" stroke="#151515" stroke-width="1.8"/>
<g font-size="17"><text x="94.9" y="1089.2" text-anchor="end">-2000</text><text x="94.9" y="1055.9" text-anchor="end">-1750</text><text x="94.9" y="1022.6" text-anchor="end">-1500</text><text x="94.9" y="989.4" text-anchor="end">-1250</text><text x="94.9" y="956.1" text-anchor="end">-1000</text><text x="94.9" y="922.8" text-anchor="end">-750</text><text x="94.9" y="889.5" text-anchor="end">-500</text><text x="94.9" y="856.2" text-anchor="end">-250</text><text x="94.9" y="822.9" text-anchor="end">0</text><text x="94.9" y="789.6" text-anchor="end">250</text><text x="94.9" y="756.3" text-anchor="end">500</text><text x="94.9" y="723" text-anchor="end">750</text><text x="94.9" y="689.7" text-anchor="end">1000</text><text x="94.9" y="656.4" text-anchor="end">1250</text><text x="119.9" y="1132.1" text-anchor="middle">0</text><text x="197.2" y="1132.1" text-anchor="middle">2</text><text x="274.5" y="1132.1" text-anchor="middle">4</text><text x="351.8" y="1132.1" text-anchor="middle">6</text><text x="429.1" y="1132.1" text-anchor="middle">8</text><text x="506.4" y="1132.1" text-anchor="middle">10</text><text x="583.7" y="1132.1" text-anchor="middle">12</text><text x="661" y="1132.1" text-anchor="middle">14</text><text x="738.3" y="1132.1" text-anchor="middle">16</text><text x="815.6" y="1132.1" text-anchor="middle">18</text><text x="892.9" y="1132.1" text-anchor="middle">20</text><text x="950.8" y="1108.9">0</text><text x="950.8" y="1061.2">10</text><text x="950.8" y="1013.6">20</text><text x="950.8" y="965.9">30</text><text x="950.8" y="918.3">40</text><text x="950.8" y="870.6">50</text><text x="950.8" y="823">60</text><text x="950.8" y="775.4">70</text><text x="950.8" y="727.7">80</text><text x="950.8" y="680.1">90</text></g><text x="498" y="639.7" font-size="20.6" text-anchor="middle" textLength="405.5" lengthAdjust="spacingAndGlyphs">Postcuring - Residual Strains OF (5 FBGs)</text><text x="523.5" y="1167.3" font-size="21" text-anchor="middle">Time [h]</text><text x="531" y="1199.5" font-size="20" text-anchor="middle">b)</text><text transform="translate(34.4,894) rotate(-90) scale(1,1.05)" font-size="21.4" text-anchor="middle">Strain [µε]</text><text transform="translate(996.5,892.3) rotate(-90) scale(1,1.035)" font-size="21.5" text-anchor="middle">T [°C]</text><text x="292" y="712.6" font-size="17.5" fill="#808080" class="g">temperature profile</text>
<g stroke-width="1.6" fill="none"><line x1="143.3" x2="192" y1="979.5" y2="979.5" stroke="#0a0a0a"/><line x1="143.3" x2="192" y1="1006" y2="1006" stroke="#fb22dc"/><line x1="143.3" x2="192" y1="1032.4" y2="1032.4" stroke="#00dc3c"/><line x1="143.3" x2="192" y1="1058.8" y2="1058.8" stroke="#00e4f0"/><line x1="143.3" x2="192" y1="1085.3" y2="1085.3" stroke="#1a1ac4"/><line x1="822" x2="867.8" y1="926.2" y2="926.2" stroke="#808080"/><line x1="822" x2="867.8" y1="951.5" y2="951.5" stroke="#ea1212"/></g><g font-size="20.2"><text x="197.2" y="985.9" textLength="68.4" lengthAdjust="spacingAndGlyphs">FBG_1</text><text x="197.2" y="1012.4" textLength="68.4" lengthAdjust="spacingAndGlyphs">FBG_2</text><text x="197.2" y="1038.8" textLength="68.4" lengthAdjust="spacingAndGlyphs">FBG_3</text><text x="197.2" y="1065.2" textLength="68.4" lengthAdjust="spacingAndGlyphs">FBG_4</text><text x="197.2" y="1091.7" textLength="68.4" lengthAdjust="spacingAndGlyphs">FBG_5</text></g><g font-size="20"><text x="874.3" y="933.1">TC1</text><text x="874.3" y="958.2">TC2</text></g>
</svg>
</body></html>
